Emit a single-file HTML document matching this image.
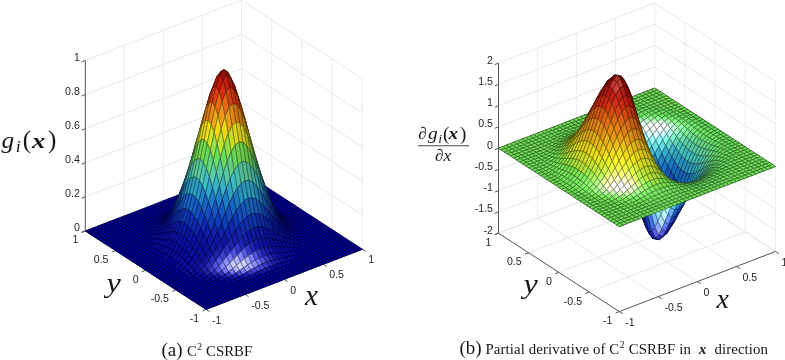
<!DOCTYPE html>
<html><head><meta charset="utf-8"><title>CSRBF</title>
<style>
html,body{margin:0;padding:0;background:#fff}
svg{display:block}
.s path{stroke-width:.55;stroke-linejoin:round}
.g{stroke:#e4e4e4;stroke-width:.9;fill:none}
.v{stroke:#d8d8d8;stroke-width:.9;stroke-dasharray:1 1;fill:none}
.a{stroke:#555;stroke-width:1;fill:none}
.t{font-family:"Liberation Sans",sans-serif;font-size:10.6px;fill:#262626}
.m{font-family:"Liberation Serif","DejaVu Serif",serif;fill:#151515}
</style></head><body>
<svg width="785" height="360" viewBox="0 0 785 360">
<defs><filter id="b" x="-2%" y="-2%" width="104%" height="104%"><feGaussianBlur stdDeviation="0.5"/></filter></defs>
<rect width="785" height="360" fill="#fff"/>
<g><path class="v" d="M362.3 249.2L362.3 78.8"/>
<path class="v" d="M124.3 215.9L124.3 45.4"/>
<path class="v" d="M332.1 229.6L332.1 59.1"/>
<path class="v" d="M163.4 200.8L163.4 30.3"/>
<path class="v" d="M301.9 210L301.9 39.5"/>
<path class="v" d="M202.5 185.8L202.5 15.3"/>
<path class="v" d="M271.7 190.4L271.7 19.9"/>
<path class="v" d="M241.5 170.8L241.5 0.2"/>
<path class="g" d="M85.3 230.9L241.5 170.8"/>
<path class="g" d="M241.5 170.8L362.3 249.2"/>
<path class="g" d="M85.3 196.8L241.5 136.7"/>
<path class="g" d="M241.5 136.7L362.3 215.2"/>
<path class="g" d="M85.3 162.8L241.5 102.5"/>
<path class="g" d="M241.5 102.5L362.3 181.1"/>
<path class="g" d="M85.3 128.6L241.5 68.5"/>
<path class="g" d="M241.5 68.5L362.3 146.9"/>
<path class="g" d="M85.3 94.5L241.5 34.3"/>
<path class="g" d="M241.5 34.3L362.3 112.8"/>
<path class="g" d="M85.3 60.4L241.5 0.2"/>
<path class="g" d="M241.5 0.2L362.3 78.8"/>
<path class="a" d="M85.3 230.9L85.3 60.4"/>
<path class="a" d="M206.1 309.4L362.3 249.2"/>
<path class="a" d="M206.1 309.4L85.3 230.9"/>
<path class="a" d="M206.1 309.4L209.5 311.6"/>
<path class="a" d="M206.1 309.4L202.4 310.9"/>
<path class="a" d="M245.2 294.4L248.5 296.6"/>
<path class="a" d="M175.9 289.8L172.2 291.3"/>
<path class="a" d="M284.2 279.4L287.6 281.5"/>
<path class="a" d="M145.7 270.2L142 271.6"/>
<path class="a" d="M323.2 264.3L326.6 266.5"/>
<path class="a" d="M115.5 250.6L111.8 252"/>
<path class="a" d="M362.3 249.2L365.7 251.4"/>
<path class="a" d="M85.3 230.9L81.6 232.4"/>
<path class="a" d="M85.3 230.9L81.6 232.4"/>
<path class="a" d="M85.3 196.8L81.6 198.3"/>
<path class="a" d="M85.3 162.8L81.6 164.2"/>
<path class="a" d="M85.3 128.6L81.6 130.1"/>
<path class="a" d="M85.3 94.5L81.6 96"/>
<path class="a" d="M85.3 60.4L81.6 61.9"/></g>
<g class="s" filter="url(#b)"><path d="M239.7 177.7L247.5 174.7L241.5 170.8L233.7 173.8z" fill="#02023c" stroke="#02023c"/>
<path d="M231.9 180.7L239.7 177.7L233.7 173.8L225.9 176.8z" fill="#02023c" stroke="#02023c"/>
<path d="M224.1 183.7L231.9 180.7L225.9 176.8L218.1 179.8z" fill="#02023c" stroke="#02023c"/>
<path d="M216.3 186.7L224.1 183.7L218.1 179.8L210.3 182.8z" fill="#02023c" stroke="#02023c"/>
<path d="M208.5 189.7L216.3 186.7L210.3 182.8L202.5 185.8z" fill="#02023c" stroke="#02023c"/>
<path d="M200.7 192.7L208.5 189.7L202.5 185.8L194.6 188.8z" fill="#02023c" stroke="#02023c"/>
<path d="M192.9 195.7L200.7 192.7L194.6 188.8L186.8 191.8z" fill="#02023c" stroke="#02023c"/>
<path d="M185.1 198.7L192.9 195.7L186.8 191.8L179 194.8z" fill="#02023c" stroke="#02023c"/>
<path d="M177.2 201.7L185.1 198.7L179 194.8L171.2 197.8z" fill="#02023c" stroke="#02023c"/>
<path d="M169.4 204.7L177.2 201.7L171.2 197.8L163.4 200.8z" fill="#02023c" stroke="#02023c"/>
<path d="M161.6 207.7L169.4 204.7L163.4 200.8L155.6 203.9z" fill="#02023c" stroke="#02023c"/>
<path d="M153.8 210.8L161.6 207.7L155.6 203.9L147.8 206.9z" fill="#02023c" stroke="#02023c"/>
<path d="M146 213.8L153.8 210.8L147.8 206.9L140 209.9z" fill="#02023c" stroke="#02023c"/>
<path d="M138.2 216.8L146 213.8L140 209.9L132.2 212.9z" fill="#02023c" stroke="#02023c"/>
<path d="M130.4 219.8L138.2 216.8L132.2 212.9L124.4 215.9z" fill="#02023c" stroke="#02023c"/>
<path d="M122.6 222.8L130.4 219.8L124.4 215.9L116.5 218.9z" fill="#02023c" stroke="#02023c"/>
<path d="M114.8 225.8L122.6 222.8L116.5 218.9L108.7 221.9z" fill="#02023c" stroke="#02023c"/>
<path d="M107 228.9L114.8 225.8L108.7 221.9L100.9 224.9z" fill="#02023c" stroke="#02023c"/>
<path d="M99.2 231.9L107 228.9L100.9 224.9L93.1 227.9z" fill="#02023c" stroke="#02023c"/>
<path d="M91.3 234.9L99.2 231.9L93.1 227.9L85.3 230.9z" fill="#02023c" stroke="#02023c"/>
<path d="M245.8 181.6L253.6 178.6L247.5 174.7L239.7 177.7z" fill="#02023c" stroke="#02023c"/>
<path d="M238 184.6L245.8 181.6L239.7 177.7L231.9 180.7z" fill="#02023c" stroke="#02023c"/>
<path d="M230.2 187.6L238 184.6L231.9 180.7L224.1 183.7z" fill="#02023c" stroke="#02023c"/>
<path d="M222.3 190.6L230.2 187.6L224.1 183.7L216.3 186.7z" fill="#02023c" stroke="#02023c"/>
<path d="M214.5 193.6L222.3 190.6L216.3 186.7L208.5 189.7z" fill="#02023c" stroke="#02023c"/>
<path d="M206.7 196.6L214.5 193.6L208.5 189.7L200.7 192.7z" fill="#02023c" stroke="#02023c"/>
<path d="M198.9 199.3L206.7 196.6L200.7 192.7L192.9 195.7z" fill="#02023c" stroke="#02023c"/>
<path d="M191.1 202L198.9 199.3L192.9 195.7L185.1 198.7z" fill="#02023c" stroke="#02023c"/>
<path d="M183.3 204.7L191.1 202L185.1 198.7L177.2 201.7z" fill="#02023c" stroke="#02023c"/>
<path d="M175.5 207.6L183.3 204.7L177.2 201.7L169.4 204.7z" fill="#02023c" stroke="#02023c"/>
<path d="M167.7 210.7L175.5 207.6L169.4 204.7L161.6 207.7z" fill="#02023c" stroke="#02023c"/>
<path d="M159.9 214L167.7 210.7L161.6 207.7L153.8 210.8z" fill="#02023c" stroke="#02023c"/>
<path d="M152.1 217.4L159.9 214L153.8 210.8L146 213.8z" fill="#02023c" stroke="#02023c"/>
<path d="M144.2 220.6L152.1 217.4L146 213.8L138.2 216.8z" fill="#02023c" stroke="#02023c"/>
<path d="M136.4 223.7L144.2 220.6L138.2 216.8L130.4 219.8z" fill="#02023c" stroke="#02023c"/>
<path d="M128.6 226.8L136.4 223.7L130.4 219.8L122.6 222.8z" fill="#02023c" stroke="#02023c"/>
<path d="M120.8 229.8L128.6 226.8L122.6 222.8L114.8 225.8z" fill="#02023c" stroke="#02023c"/>
<path d="M113 232.8L120.8 229.8L114.8 225.8L107 228.9z" fill="#02023c" stroke="#02023c"/>
<path d="M105.2 235.8L113 232.8L107 228.9L99.2 231.9z" fill="#02023c" stroke="#02023c"/>
<path d="M97.4 238.8L105.2 235.8L99.2 231.9L91.3 234.9z" fill="#02023c" stroke="#02023c"/>
<path d="M251.8 185.5L259.6 182.5L253.6 178.6L245.8 181.6z" fill="#02023c" stroke="#02023c"/>
<path d="M244 188.5L251.8 185.5L245.8 181.6L238 184.6z" fill="#02023c" stroke="#02023c"/>
<path d="M236.2 191.6L244 188.5L238 184.6L230.2 187.6z" fill="#02023c" stroke="#02023c"/>
<path d="M228.4 194.5L236.2 191.6L230.2 187.6L222.3 190.6z" fill="#02023c" stroke="#02023c"/>
<path d="M220.6 197.3L228.4 194.5L222.3 190.6L214.5 193.6z" fill="#02023c" stroke="#02023c"/>
<path d="M212.8 199.6L220.6 197.3L214.5 193.6L206.7 196.6z" fill="#02023c" stroke="#02023c"/>
<path d="M205 201.4L212.8 199.6L206.7 196.6L198.9 199.3z" fill="#02023c" stroke="#02023c"/>
<path d="M197.1 203L205 201.4L198.9 199.3L191.1 202z" fill="#02023c" stroke="#02023c"/>
<path d="M189.3 204.8L197.1 203L191.1 202L183.3 204.7z" fill="#02023b" stroke="#02023b"/>
<path d="M181.5 207.4L189.3 204.8L183.3 204.7L175.5 207.6z" fill="#02023a" stroke="#02023a"/>
<path d="M173.7 210.8L181.5 207.4L175.5 207.6L167.7 210.7z" fill="#02023b" stroke="#02023b"/>
<path d="M165.9 215L173.7 210.8L167.7 210.7L159.9 214z" fill="#02023c" stroke="#02023c"/>
<path d="M158.1 219.4L165.9 215L159.9 214L152.1 217.4z" fill="#02023c" stroke="#02023c"/>
<path d="M150.3 223.6L158.1 219.4L152.1 217.4L144.2 220.6z" fill="#02023c" stroke="#02023c"/>
<path d="M142.5 227.4L150.3 223.6L144.2 220.6L136.4 223.7z" fill="#02023c" stroke="#02023c"/>
<path d="M134.7 230.7L142.5 227.4L136.4 223.7L128.6 226.8z" fill="#02023c" stroke="#02023c"/>
<path d="M126.9 233.7L134.7 230.7L128.6 226.8L120.8 229.8z" fill="#02023c" stroke="#02023c"/>
<path d="M119 236.7L126.9 233.7L120.8 229.8L113 232.8z" fill="#02023c" stroke="#02023c"/>
<path d="M111.2 239.7L119 236.7L113 232.8L105.2 235.8z" fill="#02023c" stroke="#02023c"/>
<path d="M103.4 242.7L111.2 239.7L105.2 235.8L97.4 238.8z" fill="#02023c" stroke="#02023c"/>
<path d="M257.9 189.5L265.7 186.4L259.6 182.5L251.8 185.5z" fill="#02023c" stroke="#02023c"/>
<path d="M250 192.5L257.9 189.5L251.8 185.5L244 188.5z" fill="#02023c" stroke="#02023c"/>
<path d="M242.2 195.5L250 192.5L244 188.5L236.2 191.6z" fill="#02023c" stroke="#02023c"/>
<path d="M234.4 198.1L242.2 195.5L236.2 191.6L228.4 194.5z" fill="#02023c" stroke="#02023c"/>
<path d="M226.6 199.9L234.4 198.1L228.4 194.5L220.6 197.3z" fill="#02023c" stroke="#02023c"/>
<path d="M218.8 200.5L226.6 199.9L220.6 197.3L212.8 199.6z" fill="#02023b" stroke="#02023b"/>
<path d="M211 200.1L218.8 200.5L212.8 199.6L205 201.4z" fill="#020339" stroke="#020339"/>
<path d="M203.2 199.5L211 200.1L205 201.4L197.1 203z" fill="#03043d" stroke="#03043d"/>
<path d="M195.4 199.8L203.2 199.5L197.1 203L189.3 204.8z" fill="#03043d" stroke="#03043d"/>
<path d="M187.6 201.7L195.4 199.8L189.3 204.8L181.5 207.4z" fill="#03043e" stroke="#03043e"/>
<path d="M179.8 205.8L187.6 201.7L181.5 207.4L173.7 210.8z" fill="#03043e" stroke="#03043e"/>
<path d="M171.9 211.6L179.8 205.8L173.7 210.8L165.9 215z" fill="#030338" stroke="#030338"/>
<path d="M164.1 218.2L171.9 211.6L165.9 215L158.1 219.4z" fill="#03043b" stroke="#03043b"/>
<path d="M156.3 224.6L164.1 218.2L158.1 219.4L150.3 223.6z" fill="#03033d" stroke="#03033d"/>
<path d="M148.5 230L156.3 224.6L150.3 223.6L142.5 227.4z" fill="#02023c" stroke="#02023c"/>
<path d="M140.7 234.2L148.5 230L142.5 227.4L134.7 230.7z" fill="#02023c" stroke="#02023c"/>
<path d="M132.9 237.6L140.7 234.2L134.7 230.7L126.9 233.7z" fill="#02023c" stroke="#02023c"/>
<path d="M125.1 240.6L132.9 237.6L126.9 233.7L119 236.7z" fill="#02023c" stroke="#02023c"/>
<path d="M117.3 243.6L125.1 240.6L119 236.7L111.2 239.7z" fill="#02023c" stroke="#02023c"/>
<path d="M109.5 246.6L117.3 243.6L111.2 239.7L103.4 242.7z" fill="#02023c" stroke="#02023c"/>
<path d="M263.9 193.4L271.7 190.4L265.7 186.4L257.9 189.5z" fill="#02023c" stroke="#02023c"/>
<path d="M256.1 196.4L263.9 193.4L257.9 189.5L250 192.5z" fill="#02023c" stroke="#02023c"/>
<path d="M248.3 199.1L256.1 196.4L250 192.5L242.2 195.5z" fill="#02023c" stroke="#02023c"/>
<path d="M240.5 200.8L248.3 199.1L242.2 195.5L234.4 198.1z" fill="#02023c" stroke="#02023c"/>
<path d="M232.7 200.6L240.5 200.8L234.4 198.1L226.6 199.9z" fill="#02023a" stroke="#02023a"/>
<path d="M224.8 198.3L232.7 200.6L226.6 199.9L218.8 200.5z" fill="#03033d" stroke="#03033d"/>
<path d="M217 194.3L224.8 198.3L218.8 200.5L211 200.1z" fill="#03043e" stroke="#03043e"/>
<path d="M209.2 190.1L217 194.3L211 200.1L203.2 199.5z" fill="#04063f" stroke="#04063f"/>
<path d="M201.4 187.6L209.2 190.1L203.2 199.5L195.4 199.8z" fill="#040740" stroke="#040740"/>
<path d="M193.6 188.5L201.4 187.6L195.4 199.8L187.6 201.7z" fill="#050a42" stroke="#050a42"/>
<path d="M185.8 193.6L193.6 188.5L187.6 201.7L179.8 205.8z" fill="#050a42" stroke="#050a42"/>
<path d="M178 202.1L185.8 193.6L179.8 205.8L171.9 211.6z" fill="#040740" stroke="#040740"/>
<path d="M170.2 212.3L178 202.1L171.9 211.6L164.1 218.2z" fill="#04063f" stroke="#04063f"/>
<path d="M162.4 222.4L170.2 212.3L164.1 218.2L156.3 224.6z" fill="#03043a" stroke="#03043a"/>
<path d="M154.6 230.7L162.4 222.4L156.3 224.6L148.5 230z" fill="#03033d" stroke="#03033d"/>
<path d="M146.7 236.9L154.6 230.7L148.5 230L140.7 234.2z" fill="#02023c" stroke="#02023c"/>
<path d="M138.9 241.3L146.7 236.9L140.7 234.2L132.9 237.6z" fill="#02023c" stroke="#02023c"/>
<path d="M131.1 244.5L138.9 241.3L132.9 237.6L125.1 240.6z" fill="#02023c" stroke="#02023c"/>
<path d="M123.3 247.6L131.1 244.5L125.1 240.6L117.3 243.6z" fill="#02023c" stroke="#02023c"/>
<path d="M115.5 250.6L123.3 247.6L117.3 243.6L109.5 246.6z" fill="#02023c" stroke="#02023c"/>
<path d="M269.9 197.3L277.7 194.3L271.7 190.4L263.9 193.4z" fill="#02023c" stroke="#02023c"/>
<path d="M262.1 200.2L269.9 197.3L263.9 193.4L256.1 196.4z" fill="#02023c" stroke="#02023c"/>
<path d="M254.3 202.3L262.1 200.2L256.1 196.4L248.3 199.1z" fill="#02023c" stroke="#02023c"/>
<path d="M246.5 202.3L254.3 202.3L248.3 199.1L240.5 200.8z" fill="#02023b" stroke="#02023b"/>
<path d="M238.7 199.2L246.5 202.3L240.5 200.8L232.7 200.6z" fill="#03033d" stroke="#03033d"/>
<path d="M230.9 192.6L238.7 199.2L232.7 200.6L224.8 198.3z" fill="#03043e" stroke="#03043e"/>
<path d="M223.1 183.4L230.9 192.6L224.8 198.3L217 194.3z" fill="#040740" stroke="#040740"/>
<path d="M215.3 174L223.1 183.4L217 194.3L209.2 190.1z" fill="#061146" stroke="#061146"/>
<path d="M207.5 167.5L215.3 174L209.2 190.1L201.4 187.6z" fill="#08204e" stroke="#08204e"/>
<path d="M199.6 166.9L207.5 167.5L201.4 187.6L193.6 188.5z" fill="#0a2950" stroke="#0a2950"/>
<path d="M191.8 173.5L199.6 166.9L193.6 188.5L185.8 193.6z" fill="#0a2950" stroke="#0a2950"/>
<path d="M184 186L191.8 173.5L185.8 193.6L178 202.1z" fill="#08204e" stroke="#08204e"/>
<path d="M176.2 201.5L184 186L178 202.1L170.2 212.3z" fill="#061146" stroke="#061146"/>
<path d="M168.4 216.6L176.2 201.5L170.2 212.3L162.4 222.4z" fill="#040639" stroke="#040639"/>
<path d="M160.6 229.3L168.4 216.6L162.4 222.4L154.6 230.7z" fill="#03043b" stroke="#03043b"/>
<path d="M152.8 238.5L160.6 229.3L154.6 230.7L146.7 236.9z" fill="#03033d" stroke="#03033d"/>
<path d="M145 244.5L152.8 238.5L146.7 236.9L138.9 241.3z" fill="#02023c" stroke="#02023c"/>
<path d="M137.2 248.4L145 244.5L138.9 241.3L131.1 244.5z" fill="#02023c" stroke="#02023c"/>
<path d="M129.4 251.5L137.2 248.4L131.1 244.5L123.3 247.6z" fill="#02023c" stroke="#02023c"/>
<path d="M121.5 254.5L129.4 251.5L123.3 247.6L115.5 250.6z" fill="#02023c" stroke="#02023c"/>
<path d="M276 201.2L283.8 198.2L277.7 194.3L269.9 197.3z" fill="#02023c" stroke="#02023c"/>
<path d="M268.2 203.9L276 201.2L269.9 197.3L262.1 200.2z" fill="#02023c" stroke="#02023c"/>
<path d="M260.4 205L268.2 203.9L262.1 200.2L254.3 202.3z" fill="#02023c" stroke="#02023c"/>
<path d="M252.5 202.9L260.4 205L254.3 202.3L246.5 202.3z" fill="#020338" stroke="#020338"/>
<path d="M244.7 196.1L252.5 202.9L246.5 202.3L238.7 199.2z" fill="#03043e" stroke="#03043e"/>
<path d="M236.9 184.3L244.7 196.1L238.7 199.2L230.9 192.6z" fill="#040740" stroke="#040740"/>
<path d="M229.1 168.8L236.9 184.3L230.9 192.6L223.1 183.4z" fill="#07184a" stroke="#07184a"/>
<path d="M221.3 152.7L229.1 168.8L223.1 183.4L215.3 174z" fill="#0c3452" stroke="#0c3452"/>
<path d="M213.5 140.9L221.3 152.7L215.3 174L207.5 167.5z" fill="#1a5052" stroke="#1a5052"/>
<path d="M205.7 138.3L213.5 140.9L207.5 167.5L199.6 166.9z" fill="#255544" stroke="#255544"/>
<path d="M197.9 146.9L205.7 138.3L199.6 166.9L191.8 173.5z" fill="#255544" stroke="#255544"/>
<path d="M190.1 164.7L197.9 146.9L191.8 173.5L184 186z" fill="#1a5052" stroke="#1a5052"/>
<path d="M182.2 186.8L190.1 164.7L184 186L176.2 201.5z" fill="#0c3452" stroke="#0c3452"/>
<path d="M174.4 208.4L182.2 186.8L176.2 201.5L168.4 216.6z" fill="#061540" stroke="#061540"/>
<path d="M166.6 226.2L174.4 208.4L168.4 216.6L160.6 229.3z" fill="#04073b" stroke="#04073b"/>
<path d="M158.8 239L166.6 226.2L160.6 229.3L152.8 238.5z" fill="#03043e" stroke="#03043e"/>
<path d="M151 247.2L158.8 239L152.8 238.5L145 244.5z" fill="#03033d" stroke="#03033d"/>
<path d="M143.2 252.1L151 247.2L145 244.5L137.2 248.4z" fill="#02023c" stroke="#02023c"/>
<path d="M135.4 255.4L143.2 252.1L137.2 248.4L129.4 251.5z" fill="#02023c" stroke="#02023c"/>
<path d="M127.6 258.4L135.4 255.4L129.4 251.5L121.5 254.5z" fill="#02023c" stroke="#02023c"/>
<path d="M282 205.1L289.8 202.1L283.8 198.2L276 201.2z" fill="#02023c" stroke="#02023c"/>
<path d="M274.2 207.5L282 205.1L276 201.2L268.2 203.9z" fill="#02023c" stroke="#02023c"/>
<path d="M266.4 207.5L274.2 207.5L268.2 203.9L260.4 205z" fill="#02023b" stroke="#02023b"/>
<path d="M258.6 203.2L266.4 207.5L260.4 205L252.5 202.9z" fill="#03043d" stroke="#03043d"/>
<path d="M250.8 192.8L258.6 203.2L252.5 202.9L244.7 196.1z" fill="#04063f" stroke="#04063f"/>
<path d="M243 175.8L250.8 192.8L244.7 196.1L236.9 184.3z" fill="#061146" stroke="#061146"/>
<path d="M235.2 153.6L243 175.8L236.9 184.3L229.1 168.8z" fill="#0c3452" stroke="#0c3452"/>
<path d="M227.3 130.1L235.2 153.6L229.1 168.8L221.3 152.7z" fill="#255544" stroke="#255544"/>
<path d="M219.5 111.9L227.3 130.1L221.3 152.7L213.5 140.9z" fill="#3e5e1c" stroke="#3e5e1c"/>
<path d="M211.7 106.5L219.5 111.9L213.5 140.9L205.7 138.3z" fill="#64600a" stroke="#64600a"/>
<path d="M203.9 117.9L211.7 106.5L205.7 138.3L197.9 146.9z" fill="#64600a" stroke="#64600a"/>
<path d="M196.1 142.1L203.9 117.9L197.9 146.9L190.1 164.7z" fill="#3e5e1c" stroke="#3e5e1c"/>
<path d="M188.3 171.7L196.1 142.1L190.1 164.7L182.2 186.8z" fill="#1e4538" stroke="#1e4538"/>
<path d="M180.5 199.9L188.3 171.7L182.2 186.8L174.4 208.4z" fill="#0a2d47" stroke="#0a2d47"/>
<path d="M172.7 222.9L180.5 199.9L174.4 208.4L166.6 226.2z" fill="#050f41" stroke="#050f41"/>
<path d="M164.9 239.3L172.7 222.9L166.6 226.2L158.8 239z" fill="#04063e" stroke="#04063e"/>
<path d="M157.1 249.7L164.9 239.3L158.8 239L151 247.2z" fill="#03043d" stroke="#03043d"/>
<path d="M149.2 255.6L157.1 249.7L151 247.2L143.2 252.1z" fill="#02023c" stroke="#02023c"/>
<path d="M141.4 259.3L149.2 255.6L143.2 252.1L135.4 255.4z" fill="#02023c" stroke="#02023c"/>
<path d="M133.6 262.3L141.4 259.3L135.4 255.4L127.6 258.4z" fill="#02023c" stroke="#02023c"/>
<path d="M288.1 209L295.9 206.1L289.8 202.1L282 205.1z" fill="#02023c" stroke="#02023c"/>
<path d="M280.2 211.1L288.1 209L282 205.1L274.2 207.5z" fill="#02023c" stroke="#02023c"/>
<path d="M272.4 210.3L280.2 211.1L274.2 207.5L266.4 207.5z" fill="#02023a" stroke="#02023a"/>
<path d="M264.6 204.3L272.4 210.3L266.4 207.5L258.6 203.2z" fill="#03043d" stroke="#03043d"/>
<path d="M256.8 191.2L264.6 204.3L258.6 203.2L250.8 192.8z" fill="#040740" stroke="#040740"/>
<path d="M249 170.3L256.8 191.2L250.8 192.8L243 175.8z" fill="#08204e" stroke="#08204e"/>
<path d="M241.2 142.7L249 170.3L243 175.8L235.2 153.6z" fill="#1a5052" stroke="#1a5052"/>
<path d="M233.4 112.8L241.2 142.7L235.2 153.6L227.3 130.1z" fill="#3e5e1c" stroke="#3e5e1c"/>
<path d="M225.6 88.1L233.4 112.8L227.3 130.1L219.5 111.9z" fill="#624008" stroke="#624008"/>
<path d="M217.8 79.6L225.6 88.1L219.5 111.9L211.7 106.5z" fill="#5b1c07" stroke="#5b1c07"/>
<path d="M210 94.1L217.8 79.6L211.7 106.5L203.9 117.9z" fill="#5b1c07" stroke="#5b1c07"/>
<path d="M202.1 124.8L210 94.1L203.9 117.9L196.1 142.1z" fill="#503407" stroke="#503407"/>
<path d="M194.3 160.8L202.1 124.8L196.1 142.1L188.3 171.7z" fill="#355118" stroke="#355118"/>
<path d="M186.5 194.3L194.3 160.8L188.3 171.7L180.5 199.9z" fill="#184749" stroke="#184749"/>
<path d="M178.7 221.3L186.5 194.3L180.5 199.9L172.7 222.9z" fill="#081e49" stroke="#081e49"/>
<path d="M170.9 240.5L178.7 221.3L172.7 222.9L164.9 239.3z" fill="#04073f" stroke="#04073f"/>
<path d="M163.1 252.4L170.9 240.5L164.9 239.3L157.1 249.7z" fill="#03043d" stroke="#03043d"/>
<path d="M155.3 259.2L163.1 252.4L157.1 249.7L149.2 255.6z" fill="#02023c" stroke="#02023c"/>
<path d="M147.5 263.2L155.3 259.2L149.2 255.6L141.4 259.3z" fill="#02023c" stroke="#02023c"/>
<path d="M139.7 266.3L147.5 263.2L141.4 259.3L133.6 262.3z" fill="#02023c" stroke="#02023c"/>
<path d="M294.1 212.9L301.9 210L295.9 206.1L288.1 209z" fill="#02023c" stroke="#02023c"/>
<path d="M286.3 214.9L294.1 212.9L288.1 209L280.2 211.1z" fill="#02023c" stroke="#02023c"/>
<path d="M278.5 213.8L286.3 214.9L280.2 211.1L272.4 210.3z" fill="#020239" stroke="#020239"/>
<path d="M270.7 207.2L278.5 213.8L272.4 210.3L264.6 204.3z" fill="#03043e" stroke="#03043e"/>
<path d="M262.9 193.1L270.7 207.2L264.6 204.3L256.8 191.2z" fill="#050a42" stroke="#050a42"/>
<path d="M255 170.6L262.9 193.1L256.8 191.2L249 170.3z" fill="#0a2950" stroke="#0a2950"/>
<path d="M247.2 141L255 170.6L249 170.3L241.2 142.7z" fill="#255544" stroke="#255544"/>
<path d="M239.4 108.4L247.2 141L241.2 142.7L233.4 112.8z" fill="#64600a" stroke="#64600a"/>
<path d="M231.6 80.5L239.4 108.4L233.4 112.8L225.6 88.1z" fill="#5b1c07" stroke="#5b1c07"/>
<path d="M223.8 69.6L231.6 80.5L225.6 88.1L217.8 79.6z" fill="#3b0503" stroke="#3b0503"/>
<path d="M216 86.5L223.8 69.6L217.8 79.6L210 94.1z" fill="#340502" stroke="#340502"/>
<path d="M208.2 120.4L216 86.5L210 94.1L202.1 124.8z" fill="#521906" stroke="#521906"/>
<path d="M200.4 159.1L208.2 120.4L202.1 124.8L194.3 160.8z" fill="#5b5709" stroke="#5b5709"/>
<path d="M192.6 194.7L200.4 159.1L194.3 160.8L186.5 194.3z" fill="#224e3f" stroke="#224e3f"/>
<path d="M184.8 223.2L192.6 194.7L186.5 194.3L178.7 221.3z" fill="#09274d" stroke="#09274d"/>
<path d="M176.9 243.3L184.8 223.2L178.7 221.3L170.9 240.5z" fill="#040a42" stroke="#040a42"/>
<path d="M169.1 255.9L176.9 243.3L170.9 240.5L163.1 252.4z" fill="#03043e" stroke="#03043e"/>
<path d="M161.3 263L169.1 255.9L163.1 252.4L155.3 259.2z" fill="#02023c" stroke="#02023c"/>
<path d="M153.5 267.1L161.3 263L155.3 259.2L147.5 263.2z" fill="#02023c" stroke="#02023c"/>
<path d="M145.7 270.2L153.5 267.1L147.5 263.2L139.7 266.3z" fill="#02023c" stroke="#02023c"/>
<path d="M300.1 216.9L307.9 213.9L301.9 210L294.1 212.9z" fill="#02023c" stroke="#02023c"/>
<path d="M292.3 218.9L300.1 216.9L294.1 212.9L286.3 214.9z" fill="#02023c" stroke="#02023c"/>
<path d="M284.5 218.2L292.3 218.9L286.3 214.9L278.5 213.8z" fill="#020239" stroke="#020239"/>
<path d="M276.7 212.2L284.5 218.2L278.5 213.8L270.7 207.2z" fill="#030433" stroke="#030433"/>
<path d="M268.9 199.1L276.7 212.2L270.7 207.2L262.9 193.1z" fill="#050a42" stroke="#050a42"/>
<path d="M261.1 178.1L268.9 199.1L262.9 193.1L255 170.6z" fill="#0a2950" stroke="#0a2950"/>
<path d="M253.3 150.6L261.1 178.1L255 170.6L247.2 141z" fill="#255544" stroke="#255544"/>
<path d="M245.5 120.6L253.3 150.6L247.2 141L239.4 108.4z" fill="#64600a" stroke="#64600a"/>
<path d="M237.7 96L245.5 120.6L239.4 108.4L231.6 80.5z" fill="#5b1c07" stroke="#5b1c07"/>
<path d="M229.8 87.4L237.7 96L231.6 80.5L223.8 69.6z" fill="#2f0402" stroke="#2f0402"/>
<path d="M222 102L229.8 87.4L223.8 69.6L216 86.5z" fill="#3b0503" stroke="#3b0503"/>
<path d="M214.2 132.7L222 102L216 86.5L208.2 120.4z" fill="#581b07" stroke="#581b07"/>
<path d="M206.4 168.6L214.2 132.7L208.2 120.4L200.4 159.1z" fill="#5f5b0a" stroke="#5f5b0a"/>
<path d="M198.6 202.2L206.4 168.6L200.4 159.1L192.6 194.7z" fill="#235141" stroke="#235141"/>
<path d="M190.8 229.2L198.6 202.2L192.6 194.7L184.8 223.2z" fill="#0a284f" stroke="#0a284f"/>
<path d="M183 248.3L190.8 229.2L184.8 223.2L176.9 243.3z" fill="#050a42" stroke="#050a42"/>
<path d="M175.2 260.3L183 248.3L176.9 243.3L169.1 255.9z" fill="#03043e" stroke="#03043e"/>
<path d="M167.4 267.1L175.2 260.3L169.1 255.9L161.3 263z" fill="#02023c" stroke="#02023c"/>
<path d="M159.6 271.1L167.4 267.1L161.3 263L153.5 267.1z" fill="#02023c" stroke="#02023c"/>
<path d="M151.7 274.1L159.6 271.1L153.5 267.1L145.7 270.2z" fill="#02023c" stroke="#02023c"/>
<path d="M306.2 220.8L314 217.8L307.9 213.9L300.1 216.9z" fill="#02023c" stroke="#02023c"/>
<path d="M298.4 223.2L306.2 220.8L300.1 216.9L292.3 218.9z" fill="#02023c" stroke="#02023c"/>
<path d="M290.6 223.2L298.4 223.2L292.3 218.9L284.5 218.2z" fill="#02023a" stroke="#02023a"/>
<path d="M282.7 218.9L290.6 223.2L284.5 218.2L276.7 212.2z" fill="#020334" stroke="#020334"/>
<path d="M274.9 208.5L282.7 218.9L276.7 212.2L268.9 199.1z" fill="#040740" stroke="#040740"/>
<path d="M267.1 191.5L274.9 208.5L268.9 199.1L261.1 178.1z" fill="#08204e" stroke="#08204e"/>
<path d="M259.3 169.3L267.1 191.5L261.1 178.1L253.3 150.6z" fill="#1a5052" stroke="#1a5052"/>
<path d="M251.5 145.8L259.3 169.3L253.3 150.6L245.5 120.6z" fill="#2a3f13" stroke="#2a3f13"/>
<path d="M243.7 127.6L251.5 145.8L245.5 120.6L237.7 96z" fill="#472e06" stroke="#472e06"/>
<path d="M235.9 122.2L243.7 127.6L237.7 96L229.8 87.4z" fill="#4b1706" stroke="#4b1706"/>
<path d="M228.1 133.6L235.9 122.2L229.8 87.4L222 102z" fill="#551a06" stroke="#551a06"/>
<path d="M220.3 157.8L228.1 133.6L222 102L214.2 132.7z" fill="#5f3e08" stroke="#5f3e08"/>
<path d="M212.5 187.4L220.3 157.8L214.2 132.7L206.4 168.6z" fill="#3c5b1b" stroke="#3c5b1b"/>
<path d="M204.6 215.6L212.5 187.4L206.4 168.6L198.6 202.2z" fill="#1a4e4f" stroke="#1a4e4f"/>
<path d="M196.8 238.6L204.6 215.6L198.6 202.2L190.8 229.2z" fill="#08204e" stroke="#08204e"/>
<path d="M189 255L196.8 238.6L190.8 229.2L183 248.3z" fill="#040740" stroke="#040740"/>
<path d="M181.2 265.4L189 255L183 248.3L175.2 260.3z" fill="#03043d" stroke="#03043d"/>
<path d="M173.4 271.3L181.2 265.4L175.2 260.3L167.4 267.1z" fill="#02023c" stroke="#02023c"/>
<path d="M165.6 275L173.4 271.3L167.4 267.1L159.6 271.1z" fill="#02023c" stroke="#02023c"/>
<path d="M157.8 278.1L165.6 275L159.6 271.1L151.7 274.1z" fill="#02023c" stroke="#02023c"/>
<path d="M312.2 224.8L320 221.8L314 217.8L306.2 220.8z" fill="#02023c" stroke="#02023c"/>
<path d="M304.4 227.5L312.2 224.8L306.2 220.8L298.4 223.2z" fill="#02023c" stroke="#02023c"/>
<path d="M296.6 228.6L304.4 227.5L298.4 223.2L290.6 223.2z" fill="#02023c" stroke="#02023c"/>
<path d="M288.8 226.4L296.6 228.6L290.6 223.2L282.7 218.9z" fill="#030338" stroke="#030338"/>
<path d="M281 219.7L288.8 226.4L282.7 218.9L274.9 208.5z" fill="#030533" stroke="#030533"/>
<path d="M273.2 207.9L281 219.7L274.9 208.5L267.1 191.5z" fill="#040c34" stroke="#040c34"/>
<path d="M265.4 192.3L273.2 207.9L267.1 191.5L259.3 169.3z" fill="#08253b" stroke="#08253b"/>
<path d="M257.5 176.2L265.4 192.3L259.3 169.3L251.5 145.8z" fill="#1b3e32" stroke="#1b3e32"/>
<path d="M249.7 164.4L257.5 176.2L251.5 145.8L243.7 127.6z" fill="#304816" stroke="#304816"/>
<path d="M241.9 161.8L249.7 164.4L243.7 127.6L235.9 122.2z" fill="#535008" stroke="#535008"/>
<path d="M234.1 170.5L241.9 161.8L235.9 122.2L228.1 133.6z" fill="#5a5609" stroke="#5a5609"/>
<path d="M226.3 188.3L234.1 170.5L228.1 133.6L220.3 157.8z" fill="#3a591b" stroke="#3a591b"/>
<path d="M218.5 210.4L226.3 188.3L220.3 157.8L212.5 187.4z" fill="#235242" stroke="#235242"/>
<path d="M210.7 231.9L218.5 210.4L212.5 187.4L204.6 215.6z" fill="#0c3351" stroke="#0c3351"/>
<path d="M202.9 249.8L210.7 231.9L204.6 215.6L196.8 238.6z" fill="#061146" stroke="#061146"/>
<path d="M195.1 262.6L202.9 249.8L196.8 238.6L189 255z" fill="#04063f" stroke="#04063f"/>
<path d="M187.2 270.7L195.1 262.6L189 255L181.2 265.4z" fill="#03043d" stroke="#03043d"/>
<path d="M179.4 275.6L187.2 270.7L181.2 265.4L173.4 271.3z" fill="#02023c" stroke="#02023c"/>
<path d="M171.6 279L179.4 275.6L173.4 271.3L165.6 275z" fill="#02023c" stroke="#02023c"/>
<path d="M163.8 282L171.6 279L165.6 275L157.8 278.1z" fill="#02023c" stroke="#02023c"/>
<path d="M318.2 228.7L326.1 225.7L320 221.8L312.2 224.8z" fill="#02023c" stroke="#02023c"/>
<path d="M310.4 231.6L318.2 228.7L312.2 224.8L304.4 227.5z" fill="#02023c" stroke="#02023c"/>
<path d="M302.6 233.7L310.4 231.6L304.4 227.5L296.6 228.6z" fill="#02023c" stroke="#02023c"/>
<path d="M294.8 233.7L302.6 233.7L296.6 228.6L288.8 226.4z" fill="#03033b" stroke="#03033b"/>
<path d="M287 230.6L294.8 233.7L288.8 226.4L281 219.7z" fill="#030436" stroke="#030436"/>
<path d="M279.2 224L287 230.6L281 219.7L273.2 207.9z" fill="#030634" stroke="#030634"/>
<path d="M271.4 214.8L279.2 224L273.2 207.9L265.4 192.3z" fill="#05133a" stroke="#05133a"/>
<path d="M263.6 205.4L271.4 214.8L265.4 192.3L257.5 176.2z" fill="#092840" stroke="#092840"/>
<path d="M255.8 198.9L263.6 205.4L257.5 176.2L249.7 164.4z" fill="#154142" stroke="#154142"/>
<path d="M248 198.3L255.8 198.9L249.7 164.4L241.9 161.8z" fill="#1f483a" stroke="#1f483a"/>
<path d="M240.2 204.9L248 198.3L241.9 161.8L234.1 170.5z" fill="#214c3e" stroke="#214c3e"/>
<path d="M232.3 217.4L240.2 204.9L234.1 170.5L226.3 188.3z" fill="#194b4d" stroke="#194b4d"/>
<path d="M224.5 232.9L232.3 217.4L226.3 188.3L218.5 210.4z" fill="#0b324f" stroke="#0b324f"/>
<path d="M216.7 248L224.5 232.9L218.5 210.4L210.7 231.9z" fill="#07184a" stroke="#07184a"/>
<path d="M208.9 260.7L216.7 248L210.7 231.9L202.9 249.8z" fill="#040740" stroke="#040740"/>
<path d="M201.1 269.9L208.9 260.7L202.9 249.8L195.1 262.6z" fill="#03043e" stroke="#03043e"/>
<path d="M193.3 275.9L201.1 269.9L195.1 262.6L187.2 270.7z" fill="#03033d" stroke="#03033d"/>
<path d="M185.5 279.8L193.3 275.9L187.2 270.7L179.4 275.6z" fill="#02023c" stroke="#02023c"/>
<path d="M177.7 282.9L185.5 279.8L179.4 275.6L171.6 279z" fill="#02023c" stroke="#02023c"/>
<path d="M169.9 285.9L177.7 282.9L171.6 279L163.8 282z" fill="#02023c" stroke="#02023c"/>
<path d="M324.3 232.6L332.1 229.6L326.1 225.7L318.2 228.7z" fill="#02023c" stroke="#02023c"/>
<path d="M316.5 235.6L324.3 232.6L318.2 228.7L310.4 231.6z" fill="#02023c" stroke="#02023c"/>
<path d="M308.7 238.4L316.5 235.6L310.4 231.6L302.6 233.7z" fill="#02023c" stroke="#02023c"/>
<path d="M300.9 240L308.7 238.4L302.6 233.7L294.8 233.7z" fill="#02023c" stroke="#02023c"/>
<path d="M293.1 239.9L300.9 240L294.8 233.7L287 230.6z" fill="#03033a" stroke="#03033a"/>
<path d="M285.2 237.5L293.1 239.9L287 230.6L279.2 224z" fill="#030437" stroke="#030437"/>
<path d="M277.4 233.5L285.2 237.5L279.2 224L271.4 214.8z" fill="#030636" stroke="#030636"/>
<path d="M269.6 229.3L277.4 233.5L271.4 214.8L263.6 205.4z" fill="#050e3b" stroke="#050e3b"/>
<path d="M261.8 226.8L269.6 229.3L263.6 205.4L255.8 198.9z" fill="#071b43" stroke="#071b43"/>
<path d="M254 227.8L261.8 226.8L255.8 198.9L248 198.3z" fill="#092447" stroke="#092447"/>
<path d="M246.2 232.8L254 227.8L248 198.3L240.2 204.9z" fill="#09264a" stroke="#09264a"/>
<path d="M238.4 241.4L246.2 232.8L240.2 204.9L232.3 217.4z" fill="#081f4b" stroke="#081f4b"/>
<path d="M230.6 251.6L238.4 241.4L232.3 217.4L224.5 232.9z" fill="#051146" stroke="#051146"/>
<path d="M222.8 261.6L230.6 251.6L224.5 232.9L216.7 248z" fill="#040740" stroke="#040740"/>
<path d="M215 270L222.8 261.6L216.7 248L208.9 260.7z" fill="#03043e" stroke="#03043e"/>
<path d="M207.1 276.2L215 270L208.9 260.7L201.1 269.9z" fill="#03033d" stroke="#03033d"/>
<path d="M199.3 280.5L207.1 276.2L201.1 269.9L193.3 275.9z" fill="#02023c" stroke="#02023c"/>
<path d="M191.5 283.8L199.3 280.5L193.3 275.9L185.5 279.8z" fill="#02023c" stroke="#02023c"/>
<path d="M183.7 286.8L191.5 283.8L185.5 279.8L177.7 282.9z" fill="#02023c" stroke="#02023c"/>
<path d="M175.9 289.8L183.7 286.8L177.7 282.9L169.9 285.9z" fill="#02023c" stroke="#02023c"/>
<path d="M330.3 236.6L338.1 233.5L332.1 229.6L324.3 232.6z" fill="#02023c" stroke="#02023c"/>
<path d="M322.5 239.6L330.3 236.6L324.3 232.6L316.5 235.6z" fill="#02023c" stroke="#02023c"/>
<path d="M314.7 242.6L322.5 239.6L316.5 235.6L308.7 238.4z" fill="#02023c" stroke="#02023c"/>
<path d="M306.9 245.2L314.7 242.6L308.7 238.4L300.9 240z" fill="#02023c" stroke="#02023c"/>
<path d="M299.1 247L306.9 245.2L300.9 240L293.1 239.9z" fill="#02023c" stroke="#02023c"/>
<path d="M291.3 247.6L299.1 247L293.1 239.9L285.2 237.5z" fill="#03033b" stroke="#03033b"/>
<path d="M283.5 247.2L291.3 247.6L285.2 237.5L277.4 233.5z" fill="#03043a" stroke="#03043a"/>
<path d="M275.7 246.6L283.5 247.2L277.4 233.5L269.6 229.3z" fill="#03053a" stroke="#03053a"/>
<path d="M267.9 246.9L275.7 246.6L269.6 229.3L261.8 226.8z" fill="#04073b" stroke="#04073b"/>
<path d="M260 248.8L267.9 246.9L261.8 226.8L254 227.8z" fill="#040a3e" stroke="#040a3e"/>
<path d="M252.2 252.9L260 248.8L254 227.8L246.2 232.8z" fill="#040a40" stroke="#040a40"/>
<path d="M244.4 258.7L252.2 252.9L246.2 232.8L238.4 241.4z" fill="#040740" stroke="#040740"/>
<path d="M236.6 265.3L244.4 258.7L238.4 241.4L230.6 251.6z" fill="#04063f" stroke="#04063f"/>
<path d="M228.8 271.7L236.6 265.3L230.6 251.6L222.8 261.6z" fill="#03043e" stroke="#03043e"/>
<path d="M221 277.1L228.8 271.7L222.8 261.6L215 270z" fill="#03033d" stroke="#03033d"/>
<path d="M213.2 281.3L221 277.1L215 270L207.1 276.2z" fill="#02023c" stroke="#02023c"/>
<path d="M205.4 284.7L213.2 281.3L207.1 276.2L199.3 280.5z" fill="#02023c" stroke="#02023c"/>
<path d="M197.6 287.7L205.4 284.7L199.3 280.5L191.5 283.8z" fill="#02023c" stroke="#02023c"/>
<path d="M189.8 290.7L197.6 287.7L191.5 283.8L183.7 286.8z" fill="#02023c" stroke="#02023c"/>
<path d="M181.9 293.8L189.8 290.7L183.7 286.8L175.9 289.8z" fill="#02023c" stroke="#02023c"/>
<path d="M336.4 240.5L344.2 237.5L338.1 233.5L330.3 236.6z" fill="#02023c" stroke="#02023c"/>
<path d="M328.6 243.5L336.4 240.5L330.3 236.6L322.5 239.6z" fill="#02023c" stroke="#02023c"/>
<path d="M320.8 246.5L328.6 243.5L322.5 239.6L314.7 242.6z" fill="#02023c" stroke="#02023c"/>
<path d="M312.9 249.5L320.8 246.5L314.7 242.6L306.9 245.2z" fill="#02023c" stroke="#02023c"/>
<path d="M305.1 252.2L312.9 249.5L306.9 245.2L299.1 247z" fill="#02023c" stroke="#02023c"/>
<path d="M297.3 254.5L305.1 252.2L299.1 247L291.3 247.6z" fill="#02023c" stroke="#02023c"/>
<path d="M289.5 256.3L297.3 254.5L291.3 247.6L283.5 247.2z" fill="#03033d" stroke="#03033d"/>
<path d="M281.7 257.9L289.5 256.3L283.5 247.2L275.7 246.6z" fill="#03043d" stroke="#03043d"/>
<path d="M273.9 259.8L281.7 257.9L275.7 246.6L267.9 246.9z" fill="#03043d" stroke="#03043d"/>
<path d="M266.1 262.3L273.9 259.8L267.9 246.9L260 248.8z" fill="#03043e" stroke="#03043e"/>
<path d="M258.3 265.8L266.1 262.3L260 248.8L252.2 252.9z" fill="#03043e" stroke="#03043e"/>
<path d="M250.5 269.9L258.3 265.8L252.2 252.9L244.4 258.7z" fill="#03043d" stroke="#03043d"/>
<path d="M242.7 274.4L250.5 269.9L244.4 258.7L236.6 265.3z" fill="#03043d" stroke="#03043d"/>
<path d="M234.8 278.6L242.7 274.4L236.6 265.3L228.8 271.7z" fill="#03033d" stroke="#03033d"/>
<path d="M227 282.3L234.8 278.6L228.8 271.7L221 277.1z" fill="#02023c" stroke="#02023c"/>
<path d="M219.2 285.6L227 282.3L221 277.1L213.2 281.3z" fill="#02023c" stroke="#02023c"/>
<path d="M211.4 288.6L219.2 285.6L213.2 281.3L205.4 284.7z" fill="#02023c" stroke="#02023c"/>
<path d="M203.6 291.7L211.4 288.6L205.4 284.7L197.6 287.7z" fill="#02023c" stroke="#02023c"/>
<path d="M195.8 294.7L203.6 291.7L197.6 287.7L189.8 290.7z" fill="#02023c" stroke="#02023c"/>
<path d="M188 297.7L195.8 294.7L189.8 290.7L181.9 293.8z" fill="#02023c" stroke="#02023c"/>
<path d="M342.4 244.4L350.2 241.4L344.2 237.5L336.4 240.5z" fill="#02023c" stroke="#02023c"/>
<path d="M334.6 247.4L342.4 244.4L336.4 240.5L328.6 243.5z" fill="#02023c" stroke="#02023c"/>
<path d="M326.8 250.4L334.6 247.4L328.6 243.5L320.8 246.5z" fill="#02023c" stroke="#02023c"/>
<path d="M319 253.4L326.8 250.4L320.8 246.5L312.9 249.5z" fill="#02023c" stroke="#02023c"/>
<path d="M311.2 256.4L319 253.4L312.9 249.5L305.1 252.2z" fill="#02023c" stroke="#02023c"/>
<path d="M303.4 259.4L311.2 256.4L305.1 252.2L297.3 254.5z" fill="#02023c" stroke="#02023c"/>
<path d="M295.6 262.1L303.4 259.4L297.3 254.5L289.5 256.3z" fill="#02023c" stroke="#02023c"/>
<path d="M287.7 264.8L295.6 262.1L289.5 256.3L281.7 257.9z" fill="#02023c" stroke="#02023c"/>
<path d="M279.9 267.5L287.7 264.8L281.7 257.9L273.9 259.8z" fill="#02023c" stroke="#02023c"/>
<path d="M272.1 270.4L279.9 267.5L273.9 259.8L266.1 262.3z" fill="#02023c" stroke="#02023c"/>
<path d="M264.3 273.5L272.1 270.4L266.1 262.3L258.3 265.8z" fill="#02023c" stroke="#02023c"/>
<path d="M256.5 276.8L264.3 273.5L258.3 265.8L250.5 269.9z" fill="#02023c" stroke="#02023c"/>
<path d="M248.7 280.2L256.5 276.8L250.5 269.9L242.7 274.4z" fill="#02023c" stroke="#02023c"/>
<path d="M240.9 283.4L248.7 280.2L242.7 274.4L234.8 278.6z" fill="#02023c" stroke="#02023c"/>
<path d="M233.1 286.5L240.9 283.4L234.8 278.6L227 282.3z" fill="#02023c" stroke="#02023c"/>
<path d="M225.3 289.6L233.1 286.5L227 282.3L219.2 285.6z" fill="#02023c" stroke="#02023c"/>
<path d="M217.5 292.6L225.3 289.6L219.2 285.6L211.4 288.6z" fill="#02023c" stroke="#02023c"/>
<path d="M209.6 295.6L217.5 292.6L211.4 288.6L203.6 291.7z" fill="#02023c" stroke="#02023c"/>
<path d="M201.8 298.6L209.6 295.6L203.6 291.7L195.8 294.7z" fill="#02023c" stroke="#02023c"/>
<path d="M194 301.6L201.8 298.6L195.8 294.7L188 297.7z" fill="#02023c" stroke="#02023c"/>
<path d="M348.5 248.3L356.3 245.3L350.2 241.4L342.4 244.4z" fill="#02023c" stroke="#02023c"/>
<path d="M340.6 251.3L348.5 248.3L342.4 244.4L334.6 247.4z" fill="#02023c" stroke="#02023c"/>
<path d="M332.8 254.4L340.6 251.3L334.6 247.4L326.8 250.4z" fill="#02023c" stroke="#02023c"/>
<path d="M325 257.4L332.8 254.4L326.8 250.4L319 253.4z" fill="#02023c" stroke="#02023c"/>
<path d="M317.2 260.4L325 257.4L319 253.4L311.2 256.4z" fill="#02023c" stroke="#02023c"/>
<path d="M309.4 263.4L317.2 260.4L311.2 256.4L303.4 259.4z" fill="#02023c" stroke="#02023c"/>
<path d="M301.6 266.4L309.4 263.4L303.4 259.4L295.6 262.1z" fill="#02023c" stroke="#02023c"/>
<path d="M293.8 269.4L301.6 266.4L295.6 262.1L287.7 264.8z" fill="#02023c" stroke="#02023c"/>
<path d="M286 272.4L293.8 269.4L287.7 264.8L279.9 267.5z" fill="#02023c" stroke="#02023c"/>
<path d="M278.2 275.3L286 272.4L279.9 267.5L272.1 270.4z" fill="#02023c" stroke="#02023c"/>
<path d="M270.4 278.4L278.2 275.3L272.1 270.4L264.3 273.5z" fill="#02023c" stroke="#02023c"/>
<path d="M262.5 281.4L270.4 278.4L264.3 273.5L256.5 276.8z" fill="#02023c" stroke="#02023c"/>
<path d="M254.7 284.4L262.5 281.4L256.5 276.8L248.7 280.2z" fill="#02023c" stroke="#02023c"/>
<path d="M246.9 287.5L254.7 284.4L248.7 280.2L240.9 283.4z" fill="#02023c" stroke="#02023c"/>
<path d="M239.1 290.5L246.9 287.5L240.9 283.4L233.1 286.5z" fill="#02023c" stroke="#02023c"/>
<path d="M231.3 293.5L239.1 290.5L233.1 286.5L225.3 289.6z" fill="#02023c" stroke="#02023c"/>
<path d="M223.5 296.5L231.3 293.5L225.3 289.6L217.5 292.6z" fill="#02023c" stroke="#02023c"/>
<path d="M215.7 299.5L223.5 296.5L217.5 292.6L209.6 295.6z" fill="#02023c" stroke="#02023c"/>
<path d="M207.9 302.5L215.7 299.5L209.6 295.6L201.8 298.6z" fill="#02023c" stroke="#02023c"/>
<path d="M200.1 305.5L207.9 302.5L201.8 298.6L194 301.6z" fill="#02023c" stroke="#02023c"/>
<path d="M354.5 252.3L362.3 249.2L356.3 245.3L348.5 248.3z" fill="#02023c" stroke="#02023c"/>
<path d="M346.7 255.3L354.5 252.3L348.5 248.3L340.6 251.3z" fill="#02023c" stroke="#02023c"/>
<path d="M338.9 258.3L346.7 255.3L340.6 251.3L332.8 254.4z" fill="#02023c" stroke="#02023c"/>
<path d="M331.1 261.3L338.9 258.3L332.8 254.4L325 257.4z" fill="#02023c" stroke="#02023c"/>
<path d="M323.2 264.3L331.1 261.3L325 257.4L317.2 260.4z" fill="#02023c" stroke="#02023c"/>
<path d="M315.4 267.3L323.2 264.3L317.2 260.4L309.4 263.4z" fill="#02023c" stroke="#02023c"/>
<path d="M307.6 270.3L315.4 267.3L309.4 263.4L301.6 266.4z" fill="#02023c" stroke="#02023c"/>
<path d="M299.8 273.3L307.6 270.3L301.6 266.4L293.8 269.4z" fill="#02023c" stroke="#02023c"/>
<path d="M292 276.3L299.8 273.3L293.8 269.4L286 272.4z" fill="#02023c" stroke="#02023c"/>
<path d="M284.2 279.4L292 276.3L286 272.4L278.2 275.3z" fill="#02023c" stroke="#02023c"/>
<path d="M276.4 282.4L284.2 279.4L278.2 275.3L270.4 278.4z" fill="#02023c" stroke="#02023c"/>
<path d="M268.6 285.4L276.4 282.4L270.4 278.4L262.5 281.4z" fill="#02023c" stroke="#02023c"/>
<path d="M260.8 288.4L268.6 285.4L262.5 281.4L254.7 284.4z" fill="#02023c" stroke="#02023c"/>
<path d="M253 291.4L260.8 288.4L254.7 284.4L246.9 287.5z" fill="#02023c" stroke="#02023c"/>
<path d="M245.2 294.4L253 291.4L246.9 287.5L239.1 290.5z" fill="#02023c" stroke="#02023c"/>
<path d="M237.3 297.4L245.2 294.4L239.1 290.5L231.3 293.5z" fill="#02023c" stroke="#02023c"/>
<path d="M229.5 300.4L237.3 297.4L231.3 293.5L223.5 296.5z" fill="#02023c" stroke="#02023c"/>
<path d="M221.7 303.4L229.5 300.4L223.5 296.5L215.7 299.5z" fill="#02023c" stroke="#02023c"/>
<path d="M213.9 306.4L221.7 303.4L215.7 299.5L207.9 302.5z" fill="#02023c" stroke="#02023c"/>
<path d="M206.1 309.4L213.9 306.4L207.9 302.5L200.1 305.5z" fill="#02023c" stroke="#02023c"/>
<path d="M240.6 174.2L244.5 172.7L241.5 170.8L237.6 172.3z" fill="#060696" stroke="#02023c"/>
<path d="M236.7 175.7L240.6 174.2L237.6 172.3L233.7 173.8z" fill="#060696" stroke="#02023c"/>
<path d="M232.8 177.2L236.7 175.7L233.7 173.8L229.8 175.3z" fill="#060696" stroke="#02023c"/>
<path d="M228.9 178.7L232.8 177.2L229.8 175.3L225.9 176.8z" fill="#060696" stroke="#02023c"/>
<path d="M225 180.2L228.9 178.7L225.9 176.8L222 178.3z" fill="#060696" stroke="#02023c"/>
<path d="M221.1 181.7L225 180.2L222 178.3L218.1 179.8z" fill="#060696" stroke="#02023c"/>
<path d="M217.2 183.2L221.1 181.7L218.1 179.8L214.2 181.3z" fill="#060696" stroke="#02023c"/>
<path d="M213.3 184.8L217.2 183.2L214.2 181.3L210.3 182.8z" fill="#060696" stroke="#02023c"/>
<path d="M209.4 186.3L213.3 184.8L210.3 182.8L206.4 184.3z" fill="#060696" stroke="#02023c"/>
<path d="M205.5 187.8L209.4 186.3L206.4 184.3L202.5 185.8z" fill="#060696" stroke="#02023c"/>
<path d="M201.6 189.3L205.5 187.8L202.5 185.8L198.5 187.3z" fill="#060696" stroke="#02023c"/>
<path d="M197.7 190.8L201.6 189.3L198.5 187.3L194.6 188.8z" fill="#060696" stroke="#02023c"/>
<path d="M193.8 192.3L197.7 190.8L194.6 188.8L190.7 190.3z" fill="#060696" stroke="#02023c"/>
<path d="M189.9 193.8L193.8 192.3L190.7 190.3L186.8 191.8z" fill="#060696" stroke="#02023c"/>
<path d="M185.9 195.3L189.9 193.8L186.8 191.8L182.9 193.3z" fill="#060696" stroke="#02023c"/>
<path d="M182 196.8L185.9 195.3L182.9 193.3L179 194.8z" fill="#060696" stroke="#02023c"/>
<path d="M178.1 198.3L182 196.8L179 194.8L175.1 196.3z" fill="#060696" stroke="#02023c"/>
<path d="M174.2 199.8L178.1 198.3L175.1 196.3L171.2 197.8z" fill="#060696" stroke="#02023c"/>
<path d="M170.3 201.3L174.2 199.8L171.2 197.8L167.3 199.3z" fill="#060696" stroke="#02023c"/>
<path d="M166.4 202.8L170.3 201.3L167.3 199.3L163.4 200.8z" fill="#060696" stroke="#02023c"/>
<path d="M162.5 204.3L166.4 202.8L163.4 200.8L159.5 202.4z" fill="#060696" stroke="#02023c"/>
<path d="M158.6 205.8L162.5 204.3L159.5 202.4L155.6 203.9z" fill="#060696" stroke="#02023c"/>
<path d="M154.7 207.3L158.6 205.8L155.6 203.9L151.7 205.4z" fill="#060696" stroke="#02023c"/>
<path d="M150.8 208.8L154.7 207.3L151.7 205.4L147.8 206.9z" fill="#060696" stroke="#02023c"/>
<path d="M146.9 210.3L150.8 208.8L147.8 206.9L143.9 208.4z" fill="#060696" stroke="#02023c"/>
<path d="M143 211.8L146.9 210.3L143.9 208.4L140 209.9z" fill="#060696" stroke="#02023c"/>
<path d="M139.1 213.3L143 211.8L140 209.9L136.1 211.4z" fill="#060696" stroke="#02023c"/>
<path d="M135.2 214.9L139.1 213.3L136.1 211.4L132.2 212.9z" fill="#060696" stroke="#02023c"/>
<path d="M131.3 216.4L135.2 214.9L132.2 212.9L128.3 214.4z" fill="#060696" stroke="#02023c"/>
<path d="M127.4 217.9L131.3 216.4L128.3 214.4L124.4 215.9z" fill="#060696" stroke="#02023c"/>
<path d="M123.5 219.4L127.4 217.9L124.4 215.9L120.4 217.4z" fill="#060696" stroke="#02023c"/>
<path d="M119.6 220.9L123.5 219.4L120.4 217.4L116.5 218.9z" fill="#060696" stroke="#02023c"/>
<path d="M115.7 222.4L119.6 220.9L116.5 218.9L112.6 220.4z" fill="#060696" stroke="#02023c"/>
<path d="M111.8 223.9L115.7 222.4L112.6 220.4L108.7 221.9z" fill="#060696" stroke="#02023c"/>
<path d="M107.8 225.4L111.8 223.9L108.7 221.9L104.8 223.4z" fill="#060696" stroke="#02023c"/>
<path d="M103.9 226.9L107.8 225.4L104.8 223.4L100.9 224.9z" fill="#060696" stroke="#02023c"/>
<path d="M100 228.4L103.9 226.9L100.9 224.9L97 226.4z" fill="#060696" stroke="#02023c"/>
<path d="M96.1 229.9L100 228.4L97 226.4L93.1 227.9z" fill="#060696" stroke="#02023c"/>
<path d="M92.2 231.4L96.1 229.9L93.1 227.9L89.2 229.4z" fill="#060696" stroke="#02023c"/>
<path d="M88.3 232.9L92.2 231.4L89.2 229.4L85.3 230.9z" fill="#060696" stroke="#02023c"/>
<path d="M243.6 176.2L247.5 174.7L244.5 172.7L240.6 174.2z" fill="#060696" stroke="#02023c"/>
<path d="M239.7 177.7L243.6 176.2L240.6 174.2L236.7 175.7z" fill="#060696" stroke="#02023c"/>
<path d="M235.8 179.2L239.7 177.7L236.7 175.7L232.8 177.2z" fill="#060696" stroke="#02023c"/>
<path d="M231.9 180.7L235.8 179.2L232.8 177.2L228.9 178.7z" fill="#060696" stroke="#02023c"/>
<path d="M228 182.2L231.9 180.7L228.9 178.7L225 180.2z" fill="#060696" stroke="#02023c"/>
<path d="M224.1 183.7L228 182.2L225 180.2L221.1 181.7z" fill="#060696" stroke="#02023c"/>
<path d="M220.2 185.2L224.1 183.7L221.1 181.7L217.2 183.2z" fill="#060696" stroke="#02023c"/>
<path d="M216.3 186.7L220.2 185.2L217.2 183.2L213.3 184.8z" fill="#060696" stroke="#02023c"/>
<path d="M212.4 188.2L216.3 186.7L213.3 184.8L209.4 186.3z" fill="#060696" stroke="#02023c"/>
<path d="M208.5 189.7L212.4 188.2L209.4 186.3L205.5 187.8z" fill="#060696" stroke="#02023c"/>
<path d="M204.6 191.2L208.5 189.7L205.5 187.8L201.6 189.3z" fill="#060696" stroke="#02023c"/>
<path d="M200.7 192.7L204.6 191.2L201.6 189.3L197.7 190.8z" fill="#060696" stroke="#02023c"/>
<path d="M196.8 194.2L200.7 192.7L197.7 190.8L193.8 192.3z" fill="#060696" stroke="#02023c"/>
<path d="M192.9 195.7L196.8 194.2L193.8 192.3L189.9 193.8z" fill="#060696" stroke="#02023c"/>
<path d="M189 197.2L192.9 195.7L189.9 193.8L185.9 195.3z" fill="#060696" stroke="#02023c"/>
<path d="M185.1 198.7L189 197.2L185.9 195.3L182 196.8z" fill="#060696" stroke="#02023c"/>
<path d="M181.2 200.2L185.1 198.7L182 196.8L178.1 198.3z" fill="#060696" stroke="#02023c"/>
<path d="M177.2 201.7L181.2 200.2L178.1 198.3L174.2 199.8z" fill="#060696" stroke="#02023c"/>
<path d="M173.3 203.2L177.2 201.7L174.2 199.8L170.3 201.3z" fill="#060696" stroke="#02023c"/>
<path d="M169.4 204.7L173.3 203.2L170.3 201.3L166.4 202.8z" fill="#060696" stroke="#02023c"/>
<path d="M165.5 206.2L169.4 204.7L166.4 202.8L162.5 204.3z" fill="#060696" stroke="#02023c"/>
<path d="M161.6 207.7L165.5 206.2L162.5 204.3L158.6 205.8z" fill="#060696" stroke="#02023c"/>
<path d="M157.7 209.2L161.6 207.7L158.6 205.8L154.7 207.3z" fill="#060696" stroke="#02023c"/>
<path d="M153.8 210.8L157.7 209.2L154.7 207.3L150.8 208.8z" fill="#060696" stroke="#02023c"/>
<path d="M149.9 212.3L153.8 210.8L150.8 208.8L146.9 210.3z" fill="#060696" stroke="#02023c"/>
<path d="M146 213.8L149.9 212.3L146.9 210.3L143 211.8z" fill="#060696" stroke="#02023c"/>
<path d="M142.1 215.3L146 213.8L143 211.8L139.1 213.3z" fill="#060696" stroke="#02023c"/>
<path d="M138.2 216.8L142.1 215.3L139.1 213.3L135.2 214.9z" fill="#060696" stroke="#02023c"/>
<path d="M134.3 218.3L138.2 216.8L135.2 214.9L131.3 216.4z" fill="#060696" stroke="#02023c"/>
<path d="M130.4 219.8L134.3 218.3L131.3 216.4L127.4 217.9z" fill="#060696" stroke="#02023c"/>
<path d="M126.5 221.3L130.4 219.8L127.4 217.9L123.5 219.4z" fill="#060696" stroke="#02023c"/>
<path d="M122.6 222.8L126.5 221.3L123.5 219.4L119.6 220.9z" fill="#060696" stroke="#02023c"/>
<path d="M118.7 224.3L122.6 222.8L119.6 220.9L115.7 222.4z" fill="#060696" stroke="#02023c"/>
<path d="M114.8 225.8L118.7 224.3L115.7 222.4L111.8 223.9z" fill="#060696" stroke="#02023c"/>
<path d="M110.9 227.3L114.8 225.8L111.8 223.9L107.8 225.4z" fill="#060696" stroke="#02023c"/>
<path d="M107 228.9L110.9 227.3L107.8 225.4L103.9 226.9z" fill="#060696" stroke="#02023c"/>
<path d="M103.1 230.4L107 228.9L103.9 226.9L100 228.4z" fill="#060696" stroke="#02023c"/>
<path d="M99.2 231.9L103.1 230.4L100 228.4L96.1 229.9z" fill="#060696" stroke="#02023c"/>
<path d="M95.2 233.4L99.2 231.9L96.1 229.9L92.2 231.4z" fill="#060696" stroke="#02023c"/>
<path d="M91.3 234.9L95.2 233.4L92.2 231.4L88.3 232.9z" fill="#060696" stroke="#02023c"/>
<path d="M246.7 178.1L250.6 176.6L247.5 174.7L243.6 176.2z" fill="#060696" stroke="#02023c"/>
<path d="M242.8 179.6L246.7 178.1L243.6 176.2L239.7 177.7z" fill="#060696" stroke="#02023c"/>
<path d="M238.8 181.2L242.8 179.6L239.7 177.7L235.8 179.2z" fill="#060696" stroke="#02023c"/>
<path d="M234.9 182.7L238.8 181.2L235.8 179.2L231.9 180.7z" fill="#060696" stroke="#02023c"/>
<path d="M231 184.2L234.9 182.7L231.9 180.7L228 182.2z" fill="#060696" stroke="#02023c"/>
<path d="M227.1 185.7L231 184.2L228 182.2L224.1 183.7z" fill="#060696" stroke="#02023c"/>
<path d="M223.2 187.2L227.1 185.7L224.1 183.7L220.2 185.2z" fill="#060696" stroke="#02023c"/>
<path d="M219.3 188.7L223.2 187.2L220.2 185.2L216.3 186.7z" fill="#060696" stroke="#02023c"/>
<path d="M215.4 190.2L219.3 188.7L216.3 186.7L212.4 188.2z" fill="#060696" stroke="#02023c"/>
<path d="M211.5 191.7L215.4 190.2L212.4 188.2L208.5 189.7z" fill="#060696" stroke="#02023c"/>
<path d="M207.6 193.2L211.5 191.7L208.5 189.7L204.6 191.2z" fill="#060696" stroke="#02023c"/>
<path d="M203.7 194.7L207.6 193.2L204.6 191.2L200.7 192.7z" fill="#060696" stroke="#02023c"/>
<path d="M199.8 196.2L203.7 194.7L200.7 192.7L196.8 194.2z" fill="#060696" stroke="#02023c"/>
<path d="M195.9 197.6L199.8 196.2L196.8 194.2L192.9 195.7z" fill="#060696" stroke="#02023c"/>
<path d="M192 199.1L195.9 197.6L192.9 195.7L189 197.2z" fill="#060696" stroke="#02023c"/>
<path d="M188.1 200.5L192 199.1L189 197.2L185.1 198.7z" fill="#060696" stroke="#02023c"/>
<path d="M184.2 202L188.1 200.5L185.1 198.7L181.2 200.2z" fill="#060696" stroke="#02023c"/>
<path d="M180.3 203.4L184.2 202L181.2 200.2L177.2 201.7z" fill="#060696" stroke="#02023c"/>
<path d="M176.4 204.9L180.3 203.4L177.2 201.7L173.3 203.2z" fill="#060696" stroke="#02023c"/>
<path d="M172.5 206.4L176.4 204.9L173.3 203.2L169.4 204.7z" fill="#060696" stroke="#02023c"/>
<path d="M168.6 207.9L172.5 206.4L169.4 204.7L165.5 206.2z" fill="#060696" stroke="#02023c"/>
<path d="M164.7 209.4L168.6 207.9L165.5 206.2L161.6 207.7z" fill="#060696" stroke="#02023c"/>
<path d="M160.7 211L164.7 209.4L161.6 207.7L157.7 209.2z" fill="#060696" stroke="#02023c"/>
<path d="M156.8 212.6L160.7 211L157.7 209.2L153.8 210.8z" fill="#060696" stroke="#02023c"/>
<path d="M152.9 214.1L156.8 212.6L153.8 210.8L149.9 212.3z" fill="#060696" stroke="#02023c"/>
<path d="M149 215.7L152.9 214.1L149.9 212.3L146 213.8z" fill="#060696" stroke="#02023c"/>
<path d="M145.1 217.2L149 215.7L146 213.8L142.1 215.3z" fill="#060696" stroke="#02023c"/>
<path d="M141.2 218.8L145.1 217.2L142.1 215.3L138.2 216.8z" fill="#060696" stroke="#02023c"/>
<path d="M137.3 220.3L141.2 218.8L138.2 216.8L134.3 218.3z" fill="#060696" stroke="#02023c"/>
<path d="M133.4 221.8L137.3 220.3L134.3 218.3L130.4 219.8z" fill="#060696" stroke="#02023c"/>
<path d="M129.5 223.3L133.4 221.8L130.4 219.8L126.5 221.3z" fill="#060696" stroke="#02023c"/>
<path d="M125.6 224.8L129.5 223.3L126.5 221.3L122.6 222.8z" fill="#060696" stroke="#02023c"/>
<path d="M121.7 226.3L125.6 224.8L122.6 222.8L118.7 224.3z" fill="#060696" stroke="#02023c"/>
<path d="M117.8 227.8L121.7 226.3L118.7 224.3L114.8 225.8z" fill="#060696" stroke="#02023c"/>
<path d="M113.9 229.3L117.8 227.8L114.8 225.8L110.9 227.3z" fill="#060696" stroke="#02023c"/>
<path d="M110 230.8L113.9 229.3L110.9 227.3L107 228.9z" fill="#060696" stroke="#02023c"/>
<path d="M106.1 232.3L110 230.8L107 228.9L103.1 230.4z" fill="#060696" stroke="#02023c"/>
<path d="M102.2 233.8L106.1 232.3L103.1 230.4L99.2 231.9z" fill="#060696" stroke="#02023c"/>
<path d="M98.3 235.3L102.2 233.8L99.2 231.9L95.2 233.4z" fill="#060696" stroke="#02023c"/>
<path d="M94.4 236.8L98.3 235.3L95.2 233.4L91.3 234.9z" fill="#060696" stroke="#02023c"/>
<path d="M249.7 180.1L253.6 178.6L250.6 176.6L246.7 178.1z" fill="#060696" stroke="#02023c"/>
<path d="M245.8 181.6L249.7 180.1L246.7 178.1L242.8 179.6z" fill="#060696" stroke="#02023c"/>
<path d="M241.9 183.1L245.8 181.6L242.8 179.6L238.8 181.2z" fill="#060696" stroke="#02023c"/>
<path d="M238 184.6L241.9 183.1L238.8 181.2L234.9 182.7z" fill="#060696" stroke="#02023c"/>
<path d="M234.1 186.1L238 184.6L234.9 182.7L231 184.2z" fill="#060696" stroke="#02023c"/>
<path d="M230.2 187.6L234.1 186.1L231 184.2L227.1 185.7z" fill="#060696" stroke="#02023c"/>
<path d="M226.2 189.1L230.2 187.6L227.1 185.7L223.2 187.2z" fill="#060696" stroke="#02023c"/>
<path d="M222.3 190.6L226.2 189.1L223.2 187.2L219.3 188.7z" fill="#060696" stroke="#02023c"/>
<path d="M218.4 192.1L222.3 190.6L219.3 188.7L215.4 190.2z" fill="#060696" stroke="#02023c"/>
<path d="M214.5 193.6L218.4 192.1L215.4 190.2L211.5 191.7z" fill="#060696" stroke="#02023c"/>
<path d="M210.6 195.1L214.5 193.6L211.5 191.7L207.6 193.2z" fill="#060696" stroke="#02023c"/>
<path d="M206.7 196.6L210.6 195.1L207.6 193.2L203.7 194.7z" fill="#060696" stroke="#02023c"/>
<path d="M202.8 198L206.7 196.6L203.7 194.7L199.8 196.2z" fill="#060696" stroke="#02023c"/>
<path d="M198.9 199.3L202.8 198L199.8 196.2L195.9 197.6z" fill="#060696" stroke="#02023c"/>
<path d="M195 200.7L198.9 199.3L195.9 197.6L192 199.1z" fill="#060696" stroke="#02023c"/>
<path d="M191.1 202L195 200.7L192 199.1L188.1 200.5z" fill="#060696" stroke="#02023c"/>
<path d="M187.2 203.3L191.1 202L188.1 200.5L184.2 202z" fill="#060696" stroke="#02023c"/>
<path d="M183.3 204.7L187.2 203.3L184.2 202L180.3 203.4z" fill="#060696" stroke="#02023c"/>
<path d="M179.4 206.1L183.3 204.7L180.3 203.4L176.4 204.9z" fill="#060696" stroke="#02023c"/>
<path d="M175.5 207.6L179.4 206.1L176.4 204.9L172.5 206.4z" fill="#060696" stroke="#02023c"/>
<path d="M171.6 209.1L175.5 207.6L172.5 206.4L168.6 207.9z" fill="#060696" stroke="#02023c"/>
<path d="M167.7 210.7L171.6 209.1L168.6 207.9L164.7 209.4z" fill="#060696" stroke="#02023c"/>
<path d="M163.8 212.3L167.7 210.7L164.7 209.4L160.7 211z" fill="#060696" stroke="#02023c"/>
<path d="M159.9 214L163.8 212.3L160.7 211L156.8 212.6z" fill="#060696" stroke="#02023c"/>
<path d="M156 215.7L159.9 214L156.8 212.6L152.9 214.1z" fill="#060696" stroke="#02023c"/>
<path d="M152.1 217.4L156 215.7L152.9 214.1L149 215.7z" fill="#060696" stroke="#02023c"/>
<path d="M148.1 219L152.1 217.4L149 215.7L145.1 217.2z" fill="#060696" stroke="#02023c"/>
<path d="M144.2 220.6L148.1 219L145.1 217.2L141.2 218.8z" fill="#060696" stroke="#02023c"/>
<path d="M140.3 222.2L144.2 220.6L141.2 218.8L137.3 220.3z" fill="#060696" stroke="#02023c"/>
<path d="M136.4 223.7L140.3 222.2L137.3 220.3L133.4 221.8z" fill="#060696" stroke="#02023c"/>
<path d="M132.5 225.3L136.4 223.7L133.4 221.8L129.5 223.3z" fill="#060696" stroke="#02023c"/>
<path d="M128.6 226.8L132.5 225.3L129.5 223.3L125.6 224.8z" fill="#060696" stroke="#02023c"/>
<path d="M124.7 228.3L128.6 226.8L125.6 224.8L121.7 226.3z" fill="#060696" stroke="#02023c"/>
<path d="M120.8 229.8L124.7 228.3L121.7 226.3L117.8 227.8z" fill="#060696" stroke="#02023c"/>
<path d="M116.9 231.3L120.8 229.8L117.8 227.8L113.9 229.3z" fill="#060696" stroke="#02023c"/>
<path d="M113 232.8L116.9 231.3L113.9 229.3L110 230.8z" fill="#060696" stroke="#02023c"/>
<path d="M109.1 234.3L113 232.8L110 230.8L106.1 232.3z" fill="#060696" stroke="#02023c"/>
<path d="M105.2 235.8L109.1 234.3L106.1 232.3L102.2 233.8z" fill="#060696" stroke="#02023c"/>
<path d="M101.3 237.3L105.2 235.8L102.2 233.8L98.3 235.3z" fill="#060696" stroke="#02023c"/>
<path d="M97.4 238.8L101.3 237.3L98.3 235.3L94.4 236.8z" fill="#060696" stroke="#02023c"/>
<path d="M252.7 182.1L256.6 180.6L253.6 178.6L249.7 180.1z" fill="#060696" stroke="#02023c"/>
<path d="M248.8 183.6L252.7 182.1L249.7 180.1L245.8 181.6z" fill="#060696" stroke="#02023c"/>
<path d="M244.9 185.1L248.8 183.6L245.8 181.6L241.9 183.1z" fill="#060696" stroke="#02023c"/>
<path d="M241 186.6L244.9 185.1L241.9 183.1L238 184.6z" fill="#060696" stroke="#02023c"/>
<path d="M237.1 188.1L241 186.6L238 184.6L234.1 186.1z" fill="#060696" stroke="#02023c"/>
<path d="M233.2 189.6L237.1 188.1L234.1 186.1L230.2 187.6z" fill="#060696" stroke="#02023c"/>
<path d="M229.3 191.1L233.2 189.6L230.2 187.6L226.2 189.1z" fill="#060696" stroke="#02023c"/>
<path d="M225.4 192.6L229.3 191.1L226.2 189.1L222.3 190.6z" fill="#060696" stroke="#02023c"/>
<path d="M221.5 194.1L225.4 192.6L222.3 190.6L218.4 192.1z" fill="#060696" stroke="#02023c"/>
<path d="M217.6 195.5L221.5 194.1L218.4 192.1L214.5 193.6z" fill="#060696" stroke="#02023c"/>
<path d="M213.6 196.9L217.6 195.5L214.5 193.6L210.6 195.1z" fill="#060696" stroke="#02023c"/>
<path d="M209.7 198.2L213.6 196.9L210.6 195.1L206.7 196.6z" fill="#060696" stroke="#02023c"/>
<path d="M205.8 199.5L209.7 198.2L206.7 196.6L202.8 198z" fill="#060696" stroke="#02023c"/>
<path d="M201.9 200.6L205.8 199.5L202.8 198L198.9 199.3z" fill="#060696" stroke="#02023c"/>
<path d="M198 201.8L201.9 200.6L198.9 199.3L195 200.7z" fill="#060696" stroke="#02023c"/>
<path d="M194.1 202.9L198 201.8L195 200.7L191.1 202z" fill="#060696" stroke="#02023c"/>
<path d="M190.2 204L194.1 202.9L191.1 202L187.2 203.3z" fill="#060696" stroke="#02023c"/>
<path d="M186.3 205.2L190.2 204L187.2 203.3L183.3 204.7z" fill="#060695" stroke="#02023c"/>
<path d="M182.4 206.6L186.3 205.2L183.3 204.7L179.4 206.1z" fill="#060695" stroke="#02023c"/>
<path d="M178.5 208L182.4 206.6L179.4 206.1L175.5 207.6z" fill="#070896" stroke="#03033c"/>
<path d="M174.6 209.6L178.5 208L175.5 207.6L171.6 209.1z" fill="#060695" stroke="#02023c"/>
<path d="M170.7 211.3L174.6 209.6L171.6 209.1L167.7 210.7z" fill="#060696" stroke="#02023c"/>
<path d="M166.8 213.1L170.7 211.3L167.7 210.7L163.8 212.3z" fill="#060696" stroke="#02023c"/>
<path d="M162.9 214.9L166.8 213.1L163.8 212.3L159.9 214z" fill="#060696" stroke="#02023c"/>
<path d="M159 216.8L162.9 214.9L159.9 214L156 215.7z" fill="#060696" stroke="#02023c"/>
<path d="M155.1 218.7L159 216.8L156 215.7L152.1 217.4z" fill="#060696" stroke="#02023c"/>
<path d="M151.2 220.5L155.1 218.7L152.1 217.4L148.1 219z" fill="#060696" stroke="#02023c"/>
<path d="M147.3 222.3L151.2 220.5L148.1 219L144.2 220.6z" fill="#060696" stroke="#02023c"/>
<path d="M143.4 224L147.3 222.3L144.2 220.6L140.3 222.2z" fill="#060696" stroke="#02023c"/>
<path d="M139.5 225.6L143.4 224L140.3 222.2L136.4 223.7z" fill="#060696" stroke="#02023c"/>
<path d="M135.5 227.2L139.5 225.6L136.4 223.7L132.5 225.3z" fill="#060696" stroke="#02023c"/>
<path d="M131.6 228.7L135.5 227.2L132.5 225.3L128.6 226.8z" fill="#060696" stroke="#02023c"/>
<path d="M127.7 230.2L131.6 228.7L128.6 226.8L124.7 228.3z" fill="#060696" stroke="#02023c"/>
<path d="M123.8 231.7L127.7 230.2L124.7 228.3L120.8 229.8z" fill="#060696" stroke="#02023c"/>
<path d="M119.9 233.2L123.8 231.7L120.8 229.8L116.9 231.3z" fill="#060696" stroke="#02023c"/>
<path d="M116 234.7L119.9 233.2L116.9 231.3L113 232.8z" fill="#060696" stroke="#02023c"/>
<path d="M112.1 236.2L116 234.7L113 232.8L109.1 234.3z" fill="#060696" stroke="#02023c"/>
<path d="M108.2 237.8L112.1 236.2L109.1 234.3L105.2 235.8z" fill="#060696" stroke="#02023c"/>
<path d="M104.3 239.3L108.2 237.8L105.2 235.8L101.3 237.3z" fill="#060696" stroke="#02023c"/>
<path d="M100.4 240.8L104.3 239.3L101.3 237.3L97.4 238.8z" fill="#060696" stroke="#02023c"/>
<path d="M255.7 184L259.6 182.5L256.6 180.6L252.7 182.1z" fill="#060696" stroke="#02023c"/>
<path d="M251.8 185.5L255.7 184L252.7 182.1L248.8 183.6z" fill="#060696" stroke="#02023c"/>
<path d="M247.9 187L251.8 185.5L248.8 183.6L244.9 185.1z" fill="#060696" stroke="#02023c"/>
<path d="M244 188.5L247.9 187L244.9 185.1L241 186.6z" fill="#060696" stroke="#02023c"/>
<path d="M240.1 190L244 188.5L241 186.6L237.1 188.1z" fill="#060696" stroke="#02023c"/>
<path d="M236.2 191.6L240.1 190L237.1 188.1L233.2 189.6z" fill="#060696" stroke="#02023c"/>
<path d="M232.3 193.1L236.2 191.6L233.2 189.6L229.3 191.1z" fill="#060696" stroke="#02023c"/>
<path d="M228.4 194.5L232.3 193.1L229.3 191.1L225.4 192.6z" fill="#060696" stroke="#02023c"/>
<path d="M224.5 196L228.4 194.5L225.4 192.6L221.5 194.1z" fill="#060696" stroke="#02023c"/>
<path d="M220.6 197.3L224.5 196L221.5 194.1L217.6 195.5z" fill="#060696" stroke="#02023c"/>
<path d="M216.7 198.5L220.6 197.3L217.6 195.5L213.6 196.9z" fill="#060696" stroke="#02023c"/>
<path d="M212.8 199.6L216.7 198.5L213.6 196.9L209.7 198.2z" fill="#060696" stroke="#02023c"/>
<path d="M208.9 200.5L212.8 199.6L209.7 198.2L205.8 199.5z" fill="#060696" stroke="#02023c"/>
<path d="M205 201.4L208.9 200.5L205.8 199.5L201.9 200.6z" fill="#060695" stroke="#02023c"/>
<path d="M201 202.2L205 201.4L201.9 200.6L198 201.8z" fill="#060894" stroke="#03033b"/>
<path d="M197.1 203L201 202.2L198 201.8L194.1 202.9z" fill="#060792" stroke="#03033b"/>
<path d="M193.2 203.8L197.1 203L194.1 202.9L190.2 204z" fill="#060791" stroke="#03033a"/>
<path d="M189.3 204.8L193.2 203.8L190.2 204L186.3 205.2z" fill="#060790" stroke="#020339"/>
<path d="M185.4 206L189.3 204.8L186.3 205.2L182.4 206.6z" fill="#06078f" stroke="#020339"/>
<path d="M181.5 207.4L185.4 206L182.4 206.6L178.5 208z" fill="#06078f" stroke="#020339"/>
<path d="M177.6 209L181.5 207.4L178.5 208L174.6 209.6z" fill="#060790" stroke="#03033a"/>
<path d="M173.7 210.8L177.6 209L174.6 209.6L170.7 211.3z" fill="#060792" stroke="#03033a"/>
<path d="M169.8 212.8L173.7 210.8L170.7 211.3L166.8 213.1z" fill="#060893" stroke="#03033b"/>
<path d="M165.9 215L169.8 212.8L166.8 213.1L162.9 214.9z" fill="#060895" stroke="#03033c"/>
<path d="M162 217.2L165.9 215L162.9 214.9L159 216.8z" fill="#070897" stroke="#03033d"/>
<path d="M158.1 219.4L162 217.2L159 216.8L155.1 218.7z" fill="#060696" stroke="#02023c"/>
<path d="M154.2 221.6L158.1 219.4L155.1 218.7L151.2 220.5z" fill="#060696" stroke="#02023c"/>
<path d="M150.3 223.6L154.2 221.6L151.2 220.5L147.3 222.3z" fill="#060696" stroke="#02023c"/>
<path d="M146.4 225.6L150.3 223.6L147.3 222.3L143.4 224z" fill="#060696" stroke="#02023c"/>
<path d="M142.5 227.4L146.4 225.6L143.4 224L139.5 225.6z" fill="#060696" stroke="#02023c"/>
<path d="M138.6 229.1L142.5 227.4L139.5 225.6L135.5 227.2z" fill="#060696" stroke="#02023c"/>
<path d="M134.7 230.7L138.6 229.1L135.5 227.2L131.6 228.7z" fill="#060696" stroke="#02023c"/>
<path d="M130.8 232.2L134.7 230.7L131.6 228.7L127.7 230.2z" fill="#060696" stroke="#02023c"/>
<path d="M126.9 233.7L130.8 232.2L127.7 230.2L123.8 231.7z" fill="#060696" stroke="#02023c"/>
<path d="M122.9 235.2L126.9 233.7L123.8 231.7L119.9 233.2z" fill="#060696" stroke="#02023c"/>
<path d="M119 236.7L122.9 235.2L119.9 233.2L116 234.7z" fill="#060696" stroke="#02023c"/>
<path d="M115.1 238.2L119 236.7L116 234.7L112.1 236.2z" fill="#060696" stroke="#02023c"/>
<path d="M111.2 239.7L115.1 238.2L112.1 236.2L108.2 237.8z" fill="#060696" stroke="#02023c"/>
<path d="M107.3 241.2L111.2 239.7L108.2 237.8L104.3 239.3z" fill="#060696" stroke="#02023c"/>
<path d="M103.4 242.7L107.3 241.2L104.3 239.3L100.4 240.8z" fill="#060696" stroke="#02023c"/>
<path d="M258.7 186L262.6 184.5L259.6 182.5L255.7 184z" fill="#060696" stroke="#02023c"/>
<path d="M254.8 187.5L258.7 186L255.7 184L251.8 185.5z" fill="#060696" stroke="#02023c"/>
<path d="M250.9 189L254.8 187.5L251.8 185.5L247.9 187z" fill="#060696" stroke="#02023c"/>
<path d="M247 190.5L250.9 189L247.9 187L244 188.5z" fill="#060696" stroke="#02023c"/>
<path d="M243.1 192L247 190.5L244 188.5L240.1 190z" fill="#060696" stroke="#02023c"/>
<path d="M239.2 193.5L243.1 192L240.1 190L236.2 191.6z" fill="#060696" stroke="#02023c"/>
<path d="M235.3 195L239.2 193.5L236.2 191.6L232.3 193.1z" fill="#060696" stroke="#02023c"/>
<path d="M231.4 196.4L235.3 195L232.3 193.1L228.4 194.5z" fill="#060696" stroke="#02023c"/>
<path d="M227.5 197.7L231.4 196.4L228.4 194.5L224.5 196z" fill="#060696" stroke="#02023c"/>
<path d="M223.6 198.8L227.5 197.7L224.5 196L220.6 197.3z" fill="#060696" stroke="#02023c"/>
<path d="M219.7 199.7L223.6 198.8L220.6 197.3L216.7 198.5z" fill="#060696" stroke="#02023c"/>
<path d="M215.8 200.4L219.7 199.7L216.7 198.5L212.8 199.6z" fill="#060695" stroke="#02023c"/>
<path d="M211.9 200.9L215.8 200.4L212.8 199.6L208.9 200.5z" fill="#060793" stroke="#03033b"/>
<path d="M208 201.3L211.9 200.9L208.9 200.5L205 201.4z" fill="#060790" stroke="#02033a"/>
<path d="M204.1 201.6L208 201.3L205 201.4L201 202.2z" fill="#070994" stroke="#03043b"/>
<path d="M200.2 201.9L204.1 201.6L201 202.2L197.1 203z" fill="#080a99" stroke="#03043d"/>
<path d="M196.3 202.4L200.2 201.9L197.1 203L193.2 203.8z" fill="#080a98" stroke="#03043d"/>
<path d="M192.4 203.1L196.3 202.4L193.2 203.8L189.3 204.8z" fill="#080c99" stroke="#03053d"/>
<path d="M188.4 204.1L192.4 203.1L189.3 204.8L185.4 206z" fill="#080b99" stroke="#03053d"/>
<path d="M184.5 205.4L188.4 204.1L185.4 206L181.5 207.4z" fill="#080b99" stroke="#03053d"/>
<path d="M180.6 207.1L184.5 205.4L181.5 207.4L177.6 209z" fill="#080b99" stroke="#03043d"/>
<path d="M176.7 209.1L180.6 207.1L177.6 209L173.7 210.8z" fill="#080b9a" stroke="#03043e"/>
<path d="M172.8 211.4L176.7 209.1L173.7 210.8L169.8 212.8z" fill="#070994" stroke="#03043b"/>
<path d="M168.9 214L172.8 211.4L169.8 212.8L165.9 215z" fill="#070990" stroke="#03043a"/>
<path d="M165 216.6L168.9 214L165.9 215L162 217.2z" fill="#070994" stroke="#03043b"/>
<path d="M161.1 219.3L165 216.6L162 217.2L158.1 219.4z" fill="#060895" stroke="#03033c"/>
<path d="M157.2 222L161.1 219.3L158.1 219.4L154.2 221.6z" fill="#070897" stroke="#03033d"/>
<path d="M153.3 224.5L157.2 222L154.2 221.6L150.3 223.6z" fill="#060696" stroke="#02023c"/>
<path d="M149.4 226.8L153.3 224.5L150.3 223.6L146.4 225.6z" fill="#060696" stroke="#02023c"/>
<path d="M145.5 228.9L149.4 226.8L146.4 225.6L142.5 227.4z" fill="#060696" stroke="#02023c"/>
<path d="M141.6 230.8L145.5 228.9L142.5 227.4L138.6 229.1z" fill="#060696" stroke="#02023c"/>
<path d="M137.7 232.5L141.6 230.8L138.6 229.1L134.7 230.7z" fill="#060696" stroke="#02023c"/>
<path d="M133.8 234.1L137.7 232.5L134.7 230.7L130.8 232.2z" fill="#060696" stroke="#02023c"/>
<path d="M129.9 235.7L133.8 234.1L130.8 232.2L126.9 233.7z" fill="#060696" stroke="#02023c"/>
<path d="M126 237.2L129.9 235.7L126.9 233.7L122.9 235.2z" fill="#060696" stroke="#02023c"/>
<path d="M122.1 238.7L126 237.2L122.9 235.2L119 236.7z" fill="#060696" stroke="#02023c"/>
<path d="M118.2 240.2L122.1 238.7L119 236.7L115.1 238.2z" fill="#060696" stroke="#02023c"/>
<path d="M114.3 241.7L118.2 240.2L115.1 238.2L111.2 239.7z" fill="#060696" stroke="#02023c"/>
<path d="M110.3 243.2L114.3 241.7L111.2 239.7L107.3 241.2z" fill="#060696" stroke="#02023c"/>
<path d="M106.4 244.7L110.3 243.2L107.3 241.2L103.4 242.7z" fill="#060696" stroke="#02023c"/>
<path d="M261.8 188L265.7 186.4L262.6 184.5L258.7 186z" fill="#060696" stroke="#02023c"/>
<path d="M257.9 189.5L261.8 188L258.7 186L254.8 187.5z" fill="#060696" stroke="#02023c"/>
<path d="M253.9 191L257.9 189.5L254.8 187.5L250.9 189z" fill="#060696" stroke="#02023c"/>
<path d="M250 192.5L253.9 191L250.9 189L247 190.5z" fill="#060696" stroke="#02023c"/>
<path d="M246.1 194L250 192.5L247 190.5L243.1 192z" fill="#060696" stroke="#02023c"/>
<path d="M242.2 195.5L246.1 194L243.1 192L239.2 193.5z" fill="#060696" stroke="#02023c"/>
<path d="M238.3 196.8L242.2 195.5L239.2 193.5L235.3 195z" fill="#060696" stroke="#02023c"/>
<path d="M234.4 198.1L238.3 196.8L235.3 195L231.4 196.4z" fill="#060696" stroke="#02023c"/>
<path d="M230.5 199.1L234.4 198.1L231.4 196.4L227.5 197.7z" fill="#060696" stroke="#02023c"/>
<path d="M226.6 199.9L230.5 199.1L227.5 197.7L223.6 198.8z" fill="#060696" stroke="#02023c"/>
<path d="M222.7 200.3L226.6 199.9L223.6 198.8L219.7 199.7z" fill="#060693" stroke="#02023b"/>
<path d="M218.8 200.5L222.7 200.3L219.7 199.7L215.8 200.4z" fill="#060790" stroke="#03033a"/>
<path d="M214.9 200.4L218.8 200.5L215.8 200.4L211.9 200.9z" fill="#070994" stroke="#03043b"/>
<path d="M211 200.1L214.9 200.4L211.9 200.9L208 201.3z" fill="#080a98" stroke="#03043d"/>
<path d="M207.1 199.8L211 200.1L208 201.3L204.1 201.6z" fill="#0a0d9d" stroke="#04053f"/>
<path d="M203.2 199.5L207.1 199.8L204.1 201.6L200.2 201.9z" fill="#0c119f" stroke="#050740"/>
<path d="M199.3 199.5L203.2 199.5L200.2 201.9L196.3 202.4z" fill="#0d11a0" stroke="#050740"/>
<path d="M195.4 199.8L199.3 199.5L196.3 202.4L192.4 203.1z" fill="#0d12a1" stroke="#050740"/>
<path d="M191.5 200.5L195.4 199.8L192.4 203.1L188.4 204.1z" fill="#0c11a0" stroke="#050740"/>
<path d="M187.6 201.7L191.5 200.5L188.4 204.1L184.5 205.4z" fill="#0a109f" stroke="#04063f"/>
<path d="M183.7 203.5L187.6 201.7L184.5 205.4L180.6 207.1z" fill="#0a0f9e" stroke="#04063f"/>
<path d="M179.8 205.8L183.7 203.5L180.6 207.1L176.7 209.1z" fill="#090f9d" stroke="#04063f"/>
<path d="M175.8 208.5L179.8 205.8L176.7 209.1L172.8 211.4z" fill="#080d9c" stroke="#03053e"/>
<path d="M171.9 211.6L175.8 208.5L172.8 211.4L168.9 214z" fill="#080d9a" stroke="#03053e"/>
<path d="M168 214.9L171.9 211.6L168.9 214L165 216.6z" fill="#070b95" stroke="#03043c"/>
<path d="M164.1 218.2L168 214.9L165 216.6L161.1 219.3z" fill="#070991" stroke="#03043a"/>
<path d="M160.2 221.5L164.1 218.2L161.1 219.3L157.2 222z" fill="#070995" stroke="#03043c"/>
<path d="M156.3 224.6L160.2 221.5L157.2 222L153.3 224.5z" fill="#070897" stroke="#03033d"/>
<path d="M152.4 227.4L156.3 224.6L153.3 224.5L149.4 226.8z" fill="#070897" stroke="#03033d"/>
<path d="M148.5 230L152.4 227.4L149.4 226.8L145.5 228.9z" fill="#060696" stroke="#02023c"/>
<path d="M144.6 232.2L148.5 230L145.5 228.9L141.6 230.8z" fill="#060696" stroke="#02023c"/>
<path d="M140.7 234.2L144.6 232.2L141.6 230.8L137.7 232.5z" fill="#060696" stroke="#02023c"/>
<path d="M136.8 236L140.7 234.2L137.7 232.5L133.8 234.1z" fill="#060696" stroke="#02023c"/>
<path d="M132.9 237.6L136.8 236L133.8 234.1L129.9 235.7z" fill="#060696" stroke="#02023c"/>
<path d="M129 239.1L132.9 237.6L129.9 235.7L126 237.2z" fill="#060696" stroke="#02023c"/>
<path d="M125.1 240.6L129 239.1L126 237.2L122.1 238.7z" fill="#060696" stroke="#02023c"/>
<path d="M121.2 242.1L125.1 240.6L122.1 238.7L118.2 240.2z" fill="#060696" stroke="#02023c"/>
<path d="M117.3 243.6L121.2 242.1L118.2 240.2L114.3 241.7z" fill="#060696" stroke="#02023c"/>
<path d="M113.4 245.1L117.3 243.6L114.3 241.7L110.3 243.2z" fill="#060696" stroke="#02023c"/>
<path d="M109.5 246.6L113.4 245.1L110.3 243.2L106.4 244.7z" fill="#060696" stroke="#02023c"/>
<path d="M264.8 189.9L268.7 188.4L265.7 186.4L261.8 188z" fill="#060696" stroke="#02023c"/>
<path d="M260.9 191.4L264.8 189.9L261.8 188L257.9 189.5z" fill="#060696" stroke="#02023c"/>
<path d="M257 192.9L260.9 191.4L257.9 189.5L253.9 191z" fill="#060696" stroke="#02023c"/>
<path d="M253.1 194.4L257 192.9L253.9 191L250 192.5z" fill="#060696" stroke="#02023c"/>
<path d="M249.2 195.9L253.1 194.4L250 192.5L246.1 194z" fill="#060696" stroke="#02023c"/>
<path d="M245.3 197.3L249.2 195.9L246.1 194L242.2 195.5z" fill="#060696" stroke="#02023c"/>
<path d="M241.3 198.6L245.3 197.3L242.2 195.5L238.3 196.8z" fill="#060696" stroke="#02023c"/>
<path d="M237.4 199.6L241.3 198.6L238.3 196.8L234.4 198.1z" fill="#060696" stroke="#02023c"/>
<path d="M233.5 200.2L237.4 199.6L234.4 198.1L230.5 199.1z" fill="#060696" stroke="#02023c"/>
<path d="M229.6 200.5L233.5 200.2L230.5 199.1L226.6 199.9z" fill="#060893" stroke="#03033b"/>
<path d="M225.7 200.4L229.6 200.5L226.6 199.9L222.7 200.3z" fill="#070894" stroke="#03033b"/>
<path d="M221.8 199.8L225.7 200.4L222.7 200.3L218.8 200.5z" fill="#080a98" stroke="#03043d"/>
<path d="M217.9 198.9L221.8 199.8L218.8 200.5L214.9 200.4z" fill="#0b0e9d" stroke="#04063f"/>
<path d="M214 197.8L217.9 198.9L214.9 200.4L211 200.1z" fill="#1014a3" stroke="#060841"/>
<path d="M210.1 196.7L214 197.8L211 200.1L207.1 199.8z" fill="#151ba9" stroke="#080b44"/>
<path d="M206.2 195.6L210.1 196.7L207.1 199.8L203.2 199.5z" fill="#1920ae" stroke="#0a0d46"/>
<path d="M202.3 194.9L206.2 195.6L203.2 199.5L199.3 199.5z" fill="#1921af" stroke="#0a0d46"/>
<path d="M198.4 194.6L202.3 194.9L199.3 199.5L195.4 199.8z" fill="#161eac" stroke="#090c45"/>
<path d="M194.5 195L198.4 194.6L195.4 199.8L191.5 200.5z" fill="#1322ad" stroke="#080e45"/>
<path d="M190.6 196.1L194.5 195L191.5 200.5L187.6 201.7z" fill="#0f1ea9" stroke="#060c44"/>
<path d="M186.7 198L190.6 196.1L187.6 201.7L183.7 203.5z" fill="#0d1ca7" stroke="#050b43"/>
<path d="M182.8 200.7L186.7 198L183.7 203.5L179.8 205.8z" fill="#0b13a1" stroke="#040740"/>
<path d="M178.9 203.9L182.8 200.7L179.8 205.8L175.8 208.5z" fill="#0a12a0" stroke="#040740"/>
<path d="M175 207.7L178.9 203.9L175.8 208.5L171.9 211.6z" fill="#09109f" stroke="#04073f"/>
<path d="M171.1 211.7L175 207.7L171.9 211.6L168 214.9z" fill="#090f9d" stroke="#04063f"/>
<path d="M167.2 215.9L171.1 211.7L168 214.9L164.1 218.2z" fill="#080c95" stroke="#03053c"/>
<path d="M163.2 220L167.2 215.9L164.1 218.2L160.2 221.5z" fill="#070a91" stroke="#03043a"/>
<path d="M159.3 223.9L163.2 220L160.2 221.5L156.3 224.6z" fill="#070995" stroke="#03043c"/>
<path d="M155.4 227.5L159.3 223.9L156.3 224.6L152.4 227.4z" fill="#070897" stroke="#03033d"/>
<path d="M151.5 230.6L155.4 227.5L152.4 227.4L148.5 230z" fill="#070897" stroke="#03033d"/>
<path d="M147.6 233.4L151.5 230.6L148.5 230L144.6 232.2z" fill="#060696" stroke="#02023c"/>
<path d="M143.7 235.7L147.6 233.4L144.6 232.2L140.7 234.2z" fill="#060696" stroke="#02023c"/>
<path d="M139.8 237.7L143.7 235.7L140.7 234.2L136.8 236z" fill="#060696" stroke="#02023c"/>
<path d="M135.9 239.5L139.8 237.7L136.8 236L132.9 237.6z" fill="#060696" stroke="#02023c"/>
<path d="M132 241.1L135.9 239.5L132.9 237.6L129 239.1z" fill="#060696" stroke="#02023c"/>
<path d="M128.1 242.6L132 241.1L129 239.1L125.1 240.6z" fill="#060696" stroke="#02023c"/>
<path d="M124.2 244.1L128.1 242.6L125.1 240.6L121.2 242.1z" fill="#060696" stroke="#02023c"/>
<path d="M120.3 245.6L124.2 244.1L121.2 242.1L117.3 243.6z" fill="#060696" stroke="#02023c"/>
<path d="M116.4 247.1L120.3 245.6L117.3 243.6L113.4 245.1z" fill="#060696" stroke="#02023c"/>
<path d="M112.5 248.6L116.4 247.1L113.4 245.1L109.5 246.6z" fill="#060696" stroke="#02023c"/>
<path d="M267.8 191.9L271.7 190.4L268.7 188.4L264.8 189.9z" fill="#060696" stroke="#02023c"/>
<path d="M263.9 193.4L267.8 191.9L264.8 189.9L260.9 191.4z" fill="#060696" stroke="#02023c"/>
<path d="M260 194.9L263.9 193.4L260.9 191.4L257 192.9z" fill="#060696" stroke="#02023c"/>
<path d="M256.1 196.4L260 194.9L257 192.9L253.1 194.4z" fill="#060696" stroke="#02023c"/>
<path d="M252.2 197.8L256.1 196.4L253.1 194.4L249.2 195.9z" fill="#060696" stroke="#02023c"/>
<path d="M248.3 199.1L252.2 197.8L249.2 195.9L245.3 197.3z" fill="#060696" stroke="#02023c"/>
<path d="M244.4 200.1L248.3 199.1L245.3 197.3L241.3 198.6z" fill="#060696" stroke="#02023c"/>
<path d="M240.5 200.8L244.4 200.1L241.3 198.6L237.4 199.6z" fill="#060696" stroke="#02023c"/>
<path d="M236.6 201L240.5 200.8L237.4 199.6L233.5 200.2z" fill="#060793" stroke="#03033b"/>
<path d="M232.7 200.6L236.6 201L233.5 200.2L229.6 200.5z" fill="#070894" stroke="#03033b"/>
<path d="M228.7 199.7L232.7 200.6L229.6 200.5L225.7 200.4z" fill="#080b9a" stroke="#03043e"/>
<path d="M224.8 198.3L228.7 199.7L225.7 200.4L221.8 199.8z" fill="#0d11a0" stroke="#050740"/>
<path d="M220.9 196.4L224.8 198.3L221.8 199.8L217.9 198.9z" fill="#171dab" stroke="#090c45"/>
<path d="M217 194.3L220.9 196.4L217.9 198.9L214 197.8z" fill="#242bb9" stroke="#0e114a"/>
<path d="M213.1 192.1L217 194.3L214 197.8L210.1 196.7z" fill="#2f37c5" stroke="#13164f"/>
<path d="M209.2 190.1L213.1 192.1L210.1 196.7L206.2 195.6z" fill="#354ad2" stroke="#151e54"/>
<path d="M205.3 188.5L209.2 190.1L206.2 195.6L202.3 194.9z" fill="#314dd2" stroke="#141f54"/>
<path d="M201.4 187.6L205.3 188.5L202.3 194.9L198.4 194.6z" fill="#294cce" stroke="#101e52"/>
<path d="M197.5 187.5L201.4 187.6L198.4 194.6L194.5 195z" fill="#1e41c3" stroke="#0c1a4e"/>
<path d="M193.6 188.5L197.5 187.5L194.5 195L190.6 196.1z" fill="#1843c0" stroke="#0a1b4d"/>
<path d="M189.7 190.5L193.6 188.5L190.6 196.1L186.7 198z" fill="#1235b7" stroke="#071549"/>
<path d="M185.8 193.6L189.7 190.5L186.7 198L182.8 200.7z" fill="#1033b5" stroke="#061448"/>
<path d="M181.9 197.5L185.8 193.6L182.8 200.7L178.9 203.9z" fill="#0e2aaf" stroke="#061146"/>
<path d="M178 202.1L181.9 197.5L178.9 203.9L175 207.7z" fill="#0d22aa" stroke="#050e44"/>
<path d="M174.1 207.1L178 202.1L175 207.7L171.1 211.7z" fill="#0a12a0" stroke="#040740"/>
<path d="M170.2 212.3L174.1 207.1L171.1 211.7L167.2 215.9z" fill="#09109a" stroke="#04063e"/>
<path d="M166.3 217.5L170.2 212.3L167.2 215.9L163.2 220z" fill="#080d8f" stroke="#030539"/>
<path d="M162.4 222.4L166.3 217.5L163.2 220L159.3 223.9z" fill="#070b92" stroke="#03043a"/>
<path d="M158.5 226.8L162.4 222.4L159.3 223.9L155.4 227.5z" fill="#070995" stroke="#03043c"/>
<path d="M154.6 230.7L158.5 226.8L155.4 227.5L151.5 230.6z" fill="#070897" stroke="#03033d"/>
<path d="M150.6 234.1L154.6 230.7L151.5 230.6L147.6 233.4z" fill="#070897" stroke="#03033d"/>
<path d="M146.7 236.9L150.6 234.1L147.6 233.4L143.7 235.7z" fill="#060696" stroke="#02023c"/>
<path d="M142.8 239.3L146.7 236.9L143.7 235.7L139.8 237.7z" fill="#060696" stroke="#02023c"/>
<path d="M138.9 241.3L142.8 239.3L139.8 237.7L135.9 239.5z" fill="#060696" stroke="#02023c"/>
<path d="M135 243L138.9 241.3L135.9 239.5L132 241.1z" fill="#060696" stroke="#02023c"/>
<path d="M131.1 244.5L135 243L132 241.1L128.1 242.6z" fill="#060696" stroke="#02023c"/>
<path d="M127.2 246.1L131.1 244.5L128.1 242.6L124.2 244.1z" fill="#060696" stroke="#02023c"/>
<path d="M123.3 247.6L127.2 246.1L124.2 244.1L120.3 245.6z" fill="#060696" stroke="#02023c"/>
<path d="M119.4 249.1L123.3 247.6L120.3 245.6L116.4 247.1z" fill="#060696" stroke="#02023c"/>
<path d="M115.5 250.6L119.4 249.1L116.4 247.1L112.5 248.6z" fill="#060696" stroke="#02023c"/>
<path d="M270.8 193.8L274.7 192.3L271.7 190.4L267.8 191.9z" fill="#060696" stroke="#02023c"/>
<path d="M266.9 195.3L270.8 193.8L267.8 191.9L263.9 193.4z" fill="#060696" stroke="#02023c"/>
<path d="M263 196.9L266.9 195.3L263.9 193.4L260 194.9z" fill="#060696" stroke="#02023c"/>
<path d="M259.1 198.3L263 196.9L260 194.9L256.1 196.4z" fill="#060696" stroke="#02023c"/>
<path d="M255.2 199.7L259.1 198.3L256.1 196.4L252.2 197.8z" fill="#060696" stroke="#02023c"/>
<path d="M251.3 200.8L255.2 199.7L252.2 197.8L248.3 199.1z" fill="#060696" stroke="#02023c"/>
<path d="M247.4 201.5L251.3 200.8L248.3 199.1L244.4 200.1z" fill="#060696" stroke="#02023c"/>
<path d="M243.5 201.7L247.4 201.5L244.4 200.1L240.5 200.8z" fill="#060693" stroke="#02023b"/>
<path d="M239.6 201.3L243.5 201.7L240.5 200.8L236.6 201z" fill="#070894" stroke="#03033b"/>
<path d="M235.7 200.2L239.6 201.3L236.6 201L232.7 200.6z" fill="#080b9a" stroke="#03043e"/>
<path d="M231.8 198.3L235.7 200.2L232.7 200.6L228.7 199.7z" fill="#0e11a0" stroke="#060740"/>
<path d="M227.9 195.8L231.8 198.3L228.7 199.7L224.8 198.3z" fill="#1c22b0" stroke="#0b0d46"/>
<path d="M224 192.8L227.9 195.8L224.8 198.3L220.9 196.4z" fill="#323ac8" stroke="#141750"/>
<path d="M220.1 189.4L224 192.8L220.9 196.4L217 194.3z" fill="#4a58e3" stroke="#1d235b"/>
<path d="M216.1 186L220.1 189.4L217 194.3L213.1 192.1z" fill="#5a76fb" stroke="#242f65"/>
<path d="M212.2 182.8L216.1 186L213.1 192.1L209.2 190.1z" fill="#5d88ff" stroke="#253766"/>
<path d="M208.3 180.2L212.2 182.8L209.2 190.1L205.3 188.5z" fill="#538fff" stroke="#213966"/>
<path d="M204.4 178.5L208.3 180.2L205.3 188.5L201.4 187.6z" fill="#4185f3" stroke="#1a3561"/>
<path d="M200.5 178L204.4 178.5L201.4 187.6L197.5 187.5z" fill="#317fe1" stroke="#13335a"/>
<path d="M196.6 178.8L200.5 178L197.5 187.5L193.6 188.5z" fill="#2372d4" stroke="#0e2e55"/>
<path d="M192.7 181L196.6 178.8L193.6 188.5L189.7 190.5z" fill="#1c6bcd" stroke="#0b2b52"/>
<path d="M188.8 184.5L192.7 181L189.7 190.5L185.8 193.6z" fill="#175bc9" stroke="#092450"/>
<path d="M184.9 189.2L188.8 184.5L185.8 193.6L181.9 197.5z" fill="#1550c3" stroke="#08204e"/>
<path d="M181 194.9L184.9 189.2L181.9 197.5L178 202.1z" fill="#113cb9" stroke="#07184a"/>
<path d="M177.1 201.1L181 194.9L178 202.1L174.1 207.1z" fill="#0e2aaf" stroke="#061146"/>
<path d="M173.2 207.5L177.1 201.1L174.1 207.1L170.2 212.3z" fill="#0b1aa5" stroke="#050a42"/>
<path d="M169.3 213.9L173.2 207.5L170.2 212.3L166.3 217.5z" fill="#091195" stroke="#04073c"/>
<path d="M165.4 219.9L169.3 213.9L166.3 217.5L162.4 222.4z" fill="#080d90" stroke="#03053a"/>
<path d="M161.5 225.4L165.4 219.9L162.4 222.4L158.5 226.8z" fill="#070b93" stroke="#03043b"/>
<path d="M157.6 230.3L161.5 225.4L158.5 226.8L154.6 230.7z" fill="#070997" stroke="#03043c"/>
<path d="M153.7 234.4L157.6 230.3L154.6 230.7L150.6 234.1z" fill="#070897" stroke="#03033d"/>
<path d="M149.8 237.8L153.7 234.4L150.6 234.1L146.7 236.9z" fill="#060696" stroke="#02023c"/>
<path d="M145.9 240.6L149.8 237.8L146.7 236.9L142.8 239.3z" fill="#060696" stroke="#02023c"/>
<path d="M141.9 242.9L145.9 240.6L142.8 239.3L138.9 241.3z" fill="#060696" stroke="#02023c"/>
<path d="M138 244.8L141.9 242.9L138.9 241.3L135 243z" fill="#060696" stroke="#02023c"/>
<path d="M134.1 246.5L138 244.8L135 243L131.1 244.5z" fill="#060696" stroke="#02023c"/>
<path d="M130.2 248L134.1 246.5L131.1 244.5L127.2 246.1z" fill="#060696" stroke="#02023c"/>
<path d="M126.3 249.5L130.2 248L127.2 246.1L123.3 247.6z" fill="#060696" stroke="#02023c"/>
<path d="M122.4 251L126.3 249.5L123.3 247.6L119.4 249.1z" fill="#060696" stroke="#02023c"/>
<path d="M118.5 252.5L122.4 251L119.4 249.1L115.5 250.6z" fill="#060696" stroke="#02023c"/>
<path d="M273.8 195.8L277.7 194.3L274.7 192.3L270.8 193.8z" fill="#060696" stroke="#02023c"/>
<path d="M269.9 197.3L273.8 195.8L270.8 193.8L266.9 195.3z" fill="#060696" stroke="#02023c"/>
<path d="M266 198.8L269.9 197.3L266.9 195.3L263 196.9z" fill="#060696" stroke="#02023c"/>
<path d="M262.1 200.2L266 198.8L263 196.9L259.1 198.3z" fill="#060696" stroke="#02023c"/>
<path d="M258.2 201.4L262.1 200.2L259.1 198.3L255.2 199.7z" fill="#060696" stroke="#02023c"/>
<path d="M254.3 202.3L258.2 201.4L255.2 199.7L251.3 200.8z" fill="#060696" stroke="#02023c"/>
<path d="M250.4 202.7L254.3 202.3L251.3 200.8L247.4 201.5z" fill="#060694" stroke="#02023b"/>
<path d="M246.5 202.3L250.4 202.7L247.4 201.5L243.5 201.7z" fill="#06078f" stroke="#020339"/>
<path d="M242.6 201.2L246.5 202.3L243.5 201.7L239.6 201.3z" fill="#080a98" stroke="#03043d"/>
<path d="M238.7 199.2L242.6 201.2L239.6 201.3L235.7 200.2z" fill="#0c109f" stroke="#050640"/>
<path d="M234.8 196.3L238.7 199.2L235.7 200.2L231.8 198.3z" fill="#1b20af" stroke="#0b0d46"/>
<path d="M230.9 192.6L234.8 196.3L231.8 198.3L227.9 195.8z" fill="#363ecc" stroke="#151951"/>
<path d="M227 188.2L230.9 192.6L227.9 195.8L224 192.8z" fill="#5a70f8" stroke="#242d63"/>
<path d="M223.1 183.4L227 188.2L224 192.8L220.1 189.4z" fill="#7c9fff" stroke="#313f66"/>
<path d="M219.2 178.5L223.1 183.4L220.1 189.4L216.1 186z" fill="#91cdff" stroke="#3a5266"/>
<path d="M215.3 174L219.2 178.5L216.1 186L212.2 182.8z" fill="#90dfff" stroke="#3a5966"/>
<path d="M211.4 170.2L215.3 174L212.2 182.8L208.3 180.2z" fill="#7de1ff" stroke="#325a66"/>
<path d="M207.5 167.5L211.4 170.2L208.3 180.2L204.4 178.5z" fill="#68dcff" stroke="#295866"/>
<path d="M203.5 166.4L207.5 167.5L204.4 178.5L200.5 178z" fill="#53cdee" stroke="#21525f"/>
<path d="M199.6 166.9L203.5 166.4L200.5 178L196.6 178.8z" fill="#3fb9db" stroke="#194a57"/>
<path d="M195.7 169.4L199.6 166.9L196.6 178.8L192.7 181z" fill="#36b0d1" stroke="#154654"/>
<path d="M191.8 173.5L195.7 169.4L192.7 181L188.8 184.5z" fill="#2a9ece" stroke="#113f52"/>
<path d="M187.9 179.2L191.8 173.5L188.8 184.5L184.9 189.2z" fill="#1e81cc" stroke="#0c3452"/>
<path d="M184 186L187.9 179.2L184.9 189.2L181 194.9z" fill="#1967c9" stroke="#0a2951"/>
<path d="M180.1 193.6L184 186L181 194.9L177.1 201.1z" fill="#1450c3" stroke="#08204e"/>
<path d="M176.2 201.5L180.1 193.6L177.1 201.1L173.2 207.5z" fill="#113cb9" stroke="#07184a"/>
<path d="M172.3 209.3L176.2 201.5L173.2 207.5L169.3 213.9z" fill="#0c21a4" stroke="#050d42"/>
<path d="M168.4 216.6L172.3 209.3L169.3 213.9L165.4 219.9z" fill="#09108f" stroke="#040639"/>
<path d="M164.5 223.4L168.4 216.6L165.4 219.9L161.5 225.4z" fill="#080e93" stroke="#03053b"/>
<path d="M160.6 229.3L164.5 223.4L161.5 225.4L157.6 230.3z" fill="#070b96" stroke="#03043c"/>
<path d="M156.7 234.3L160.6 229.3L157.6 230.3L153.7 234.4z" fill="#070999" stroke="#03043d"/>
<path d="M152.8 238.5L156.7 234.3L153.7 234.4L149.8 237.8z" fill="#070897" stroke="#03033d"/>
<path d="M148.9 241.8L152.8 238.5L149.8 237.8L145.9 240.6z" fill="#060696" stroke="#02023c"/>
<path d="M145 244.5L148.9 241.8L145.9 240.6L141.9 242.9z" fill="#060696" stroke="#02023c"/>
<path d="M141.1 246.6L145 244.5L141.9 242.9L138 244.8z" fill="#060696" stroke="#02023c"/>
<path d="M137.2 248.4L141.1 246.6L138 244.8L134.1 246.5z" fill="#060696" stroke="#02023c"/>
<path d="M133.3 250L137.2 248.4L134.1 246.5L130.2 248z" fill="#060696" stroke="#02023c"/>
<path d="M129.4 251.5L133.3 250L130.2 248L126.3 249.5z" fill="#060696" stroke="#02023c"/>
<path d="M125.4 253L129.4 251.5L126.3 249.5L122.4 251z" fill="#060696" stroke="#02023c"/>
<path d="M121.5 254.5L125.4 253L122.4 251L118.5 252.5z" fill="#060696" stroke="#02023c"/>
<path d="M276.9 197.8L280.8 196.3L277.7 194.3L273.8 195.8z" fill="#060696" stroke="#02023c"/>
<path d="M273 199.3L276.9 197.8L273.8 195.8L269.9 197.3z" fill="#060696" stroke="#02023c"/>
<path d="M269 200.7L273 199.3L269.9 197.3L266 198.8z" fill="#060696" stroke="#02023c"/>
<path d="M265.1 202.1L269 200.7L266 198.8L262.1 200.2z" fill="#060696" stroke="#02023c"/>
<path d="M261.2 203.1L265.1 202.1L262.1 200.2L258.2 201.4z" fill="#060696" stroke="#02023c"/>
<path d="M257.3 203.7L261.2 203.1L258.2 201.4L254.3 202.3z" fill="#060696" stroke="#02023c"/>
<path d="M253.4 203.6L257.3 203.7L254.3 202.3L250.4 202.7z" fill="#060792" stroke="#03033a"/>
<path d="M249.5 202.7L253.4 203.6L250.4 202.7L246.5 202.3z" fill="#070993" stroke="#03043b"/>
<path d="M245.6 200.8L249.5 202.7L246.5 202.3L242.6 201.2z" fill="#0a0d9d" stroke="#04053f"/>
<path d="M241.7 197.8L245.6 200.8L242.6 201.2L238.7 199.2z" fill="#141aa9" stroke="#080a43"/>
<path d="M237.8 193.7L241.7 197.8L238.7 199.2L234.8 196.3z" fill="#2c34c2" stroke="#12154e"/>
<path d="M233.9 188.6L237.8 193.7L234.8 196.3L230.9 192.6z" fill="#546af2" stroke="#222a61"/>
<path d="M230 182.8L233.9 188.6L230.9 192.6L227 188.2z" fill="#84afff" stroke="#354666"/>
<path d="M226.1 176.4L230 182.8L227 188.2L223.1 183.4z" fill="#aff3ff" stroke="#466166"/>
<path d="M222.2 169.9L226.1 176.4L223.1 183.4L219.2 178.5z" fill="#c9ffff" stroke="#516666"/>
<path d="M218.3 163.8L222.2 169.9L219.2 178.5L215.3 174z" fill="#d6ffff" stroke="#566666"/>
<path d="M214.4 158.6L218.3 163.8L215.3 174L211.4 170.2z" fill="#c7ffff" stroke="#4f6666"/>
<path d="M210.5 154.8L214.4 158.6L211.4 170.2L207.5 167.5z" fill="#aaffff" stroke="#446666"/>
<path d="M206.6 153L210.5 154.8L207.5 167.5L203.5 166.4z" fill="#88ffd8" stroke="#366656"/>
<path d="M202.7 153.3L206.6 153L203.5 166.4L199.6 166.9z" fill="#75e8b1" stroke="#2f5d47"/>
<path d="M198.8 156L202.7 153.3L199.6 166.9L195.7 169.4z" fill="#60d8b0" stroke="#275646"/>
<path d="M194.9 160.9L198.8 156L195.7 169.4L191.8 173.5z" fill="#54d0b7" stroke="#225349"/>
<path d="M190.9 167.6L194.9 160.9L191.8 173.5L187.9 179.2z" fill="#42c8cc" stroke="#1a5052"/>
<path d="M187 175.8L190.9 167.6L187.9 179.2L184 186z" fill="#31abcd" stroke="#144452"/>
<path d="M183.1 185L187 175.8L184 186L180.1 193.6z" fill="#1e81cc" stroke="#0c3452"/>
<path d="M179.2 194.5L183.1 185L180.1 193.6L176.2 201.5z" fill="#165ac8" stroke="#092450"/>
<path d="M175.3 203.8L179.2 194.5L176.2 201.5L172.3 209.3z" fill="#0f36a8" stroke="#061643"/>
<path d="M171.4 212.7L175.3 203.8L172.3 209.3L168.4 216.6z" fill="#0b1e96" stroke="#040c3c"/>
<path d="M167.5 220.8L171.4 212.7L168.4 216.6L164.5 223.4z" fill="#091193" stroke="#04073b"/>
<path d="M163.6 227.9L167.5 220.8L164.5 223.4L160.6 229.3z" fill="#080e96" stroke="#03063c"/>
<path d="M159.7 233.9L163.6 227.9L160.6 229.3L156.7 234.3z" fill="#080b99" stroke="#03043d"/>
<path d="M155.8 238.8L159.7 233.9L156.7 234.3L152.8 238.5z" fill="#070999" stroke="#03043d"/>
<path d="M151.9 242.8L155.8 238.8L152.8 238.5L148.9 241.8z" fill="#070897" stroke="#03033d"/>
<path d="M148 245.9L151.9 242.8L148.9 241.8L145 244.5z" fill="#060696" stroke="#02023c"/>
<path d="M144.1 248.3L148 245.9L145 244.5L141.1 246.6z" fill="#060696" stroke="#02023c"/>
<path d="M140.2 250.2L144.1 248.3L141.1 246.6L137.2 248.4z" fill="#060696" stroke="#02023c"/>
<path d="M136.3 251.9L140.2 250.2L137.2 248.4L133.3 250z" fill="#060696" stroke="#02023c"/>
<path d="M132.4 253.5L136.3 251.9L133.3 250L129.4 251.5z" fill="#060696" stroke="#02023c"/>
<path d="M128.5 255L132.4 253.5L129.4 251.5L125.4 253z" fill="#060696" stroke="#02023c"/>
<path d="M124.6 256.5L128.5 255L125.4 253L121.5 254.5z" fill="#060696" stroke="#02023c"/>
<path d="M279.9 199.7L283.8 198.2L280.8 196.3L276.9 197.8z" fill="#060696" stroke="#02023c"/>
<path d="M276 201.2L279.9 199.7L276.9 197.8L273 199.3z" fill="#060696" stroke="#02023c"/>
<path d="M272.1 202.7L276 201.2L273 199.3L269 200.7z" fill="#060696" stroke="#02023c"/>
<path d="M268.2 203.9L272.1 202.7L269 200.7L265.1 202.1z" fill="#060696" stroke="#02023c"/>
<path d="M264.3 204.8L268.2 203.9L265.1 202.1L261.2 203.1z" fill="#060696" stroke="#02023c"/>
<path d="M260.4 205L264.3 204.8L261.2 203.1L257.3 203.7z" fill="#060694" stroke="#02023b"/>
<path d="M256.4 204.5L260.4 205L257.3 203.7L253.4 203.6z" fill="#06078e" stroke="#020339"/>
<path d="M252.5 202.9L256.4 204.5L253.4 203.6L249.5 202.7z" fill="#080a97" stroke="#03043c"/>
<path d="M248.6 200.1L252.5 202.9L249.5 202.7L245.6 200.8z" fill="#0d12a1" stroke="#050740"/>
<path d="M244.7 196.1L248.6 200.1L245.6 200.8L241.7 197.8z" fill="#1d24b2" stroke="#0c0e47"/>
<path d="M240.8 190.8L244.7 196.1L241.7 197.8L237.8 193.7z" fill="#3c4bd6" stroke="#181e56"/>
<path d="M236.9 184.3L240.8 190.8L237.8 193.7L233.9 188.6z" fill="#6a8dff" stroke="#2b3966"/>
<path d="M233 176.9L236.9 184.3L233.9 188.6L230 182.8z" fill="#a1e5ff" stroke="#405c66"/>
<path d="M229.1 168.8L233 176.9L230 182.8L226.1 176.4z" fill="#d4ffff" stroke="#556666"/>
<path d="M225.2 160.5L229.1 168.8L226.1 176.4L222.2 169.9z" fill="#ffffff" stroke="#666666"/>
<path d="M221.3 152.7L225.2 160.5L222.2 169.9L218.3 163.8z" fill="#ffffff" stroke="#666666"/>
<path d="M217.4 145.9L221.3 152.7L218.3 163.8L214.4 158.6z" fill="#ffffff" stroke="#666666"/>
<path d="M213.5 140.9L217.4 145.9L214.4 158.6L210.5 154.8z" fill="#dfffd3" stroke="#596655"/>
<path d="M209.6 138.2L213.5 140.9L210.5 154.8L206.6 153z" fill="#b6ff8c" stroke="#496638"/>
<path d="M205.7 138.3L209.6 138.2L206.6 153L202.7 153.3z" fill="#91fe67" stroke="#3a6529"/>
<path d="M201.8 141.2L205.7 138.3L202.7 153.3L198.8 156z" fill="#81ee57" stroke="#345f23"/>
<path d="M197.9 146.9L201.8 141.2L198.8 156L194.9 160.9z" fill="#6de761" stroke="#2b5c27"/>
<path d="M194 155L197.9 146.9L194.9 160.9L190.9 167.6z" fill="#68df80" stroke="#2a5933"/>
<path d="M190.1 164.7L194 155L190.9 167.6L187 175.8z" fill="#5cd3ab" stroke="#255544"/>
<path d="M186.2 175.6L190.1 164.7L187 175.8L183.1 185z" fill="#3abacc" stroke="#174a52"/>
<path d="M182.2 186.8L186.2 175.6L183.1 185L179.2 194.5z" fill="#1c7ac1" stroke="#0b314d"/>
<path d="M178.3 197.9L182.2 186.8L179.2 194.5L175.3 203.8z" fill="#134caa" stroke="#071f44"/>
<path d="M174.4 208.4L178.3 197.9L175.3 203.8L171.4 212.7z" fill="#0f35a2" stroke="#061541"/>
<path d="M170.5 217.9L174.4 208.4L171.4 212.7L167.5 220.8z" fill="#0a1896" stroke="#04093c"/>
<path d="M166.6 226.2L170.5 217.9L167.5 220.8L163.6 227.9z" fill="#090f96" stroke="#04063c"/>
<path d="M162.7 233.2L166.6 226.2L163.6 227.9L159.7 233.9z" fill="#080d99" stroke="#03053d"/>
<path d="M158.8 239L162.7 233.2L159.7 233.9L155.8 238.8z" fill="#070999" stroke="#03043d"/>
<path d="M154.9 243.6L158.8 239L155.8 238.8L151.9 242.8z" fill="#070897" stroke="#03033d"/>
<path d="M151 247.2L154.9 243.6L151.9 242.8L148 245.9z" fill="#060696" stroke="#02023c"/>
<path d="M147.1 249.9L151 247.2L148 245.9L144.1 248.3z" fill="#060696" stroke="#02023c"/>
<path d="M143.2 252.1L147.1 249.9L144.1 248.3L140.2 250.2z" fill="#060696" stroke="#02023c"/>
<path d="M139.3 253.8L143.2 252.1L140.2 250.2L136.3 251.9z" fill="#060696" stroke="#02023c"/>
<path d="M135.4 255.4L139.3 253.8L136.3 251.9L132.4 253.5z" fill="#060696" stroke="#02023c"/>
<path d="M131.5 256.9L135.4 255.4L132.4 253.5L128.5 255z" fill="#060696" stroke="#02023c"/>
<path d="M127.6 258.4L131.5 256.9L128.5 255L124.6 256.5z" fill="#060696" stroke="#02023c"/>
<path d="M282.9 201.7L286.8 200.2L283.8 198.2L279.9 199.7z" fill="#060696" stroke="#02023c"/>
<path d="M279 203.2L282.9 201.7L279.9 199.7L276 201.2z" fill="#060696" stroke="#02023c"/>
<path d="M275.1 204.6L279 203.2L276 201.2L272.1 202.7z" fill="#060696" stroke="#02023c"/>
<path d="M271.2 205.7L275.1 204.6L272.1 202.7L268.2 203.9z" fill="#060696" stroke="#02023c"/>
<path d="M267.3 206.3L271.2 205.7L268.2 203.9L264.3 204.8z" fill="#060696" stroke="#02023c"/>
<path d="M263.4 206.3L267.3 206.3L264.3 204.8L260.4 205z" fill="#060793" stroke="#03033b"/>
<path d="M259.5 205.2L263.4 206.3L260.4 205L256.4 204.5z" fill="#070993" stroke="#03043b"/>
<path d="M255.6 203L259.5 205.2L256.4 204.5L252.5 202.9z" fill="#090d9c" stroke="#04053e"/>
<path d="M251.7 199.4L255.6 203L252.5 202.9L248.6 200.1z" fill="#1116a5" stroke="#070942"/>
<path d="M247.8 194.4L251.7 199.4L248.6 200.1L244.7 196.1z" fill="#232bb9" stroke="#0e114a"/>
<path d="M243.8 187.8L247.8 194.4L244.7 196.1L240.8 190.8z" fill="#4460e5" stroke="#1b265c"/>
<path d="M239.9 179.9L243.8 187.8L240.8 190.8L236.9 184.3z" fill="#73aeff" stroke="#2e4666"/>
<path d="M236 170.8L239.9 179.9L236.9 184.3L233 176.9z" fill="#aaffff" stroke="#446666"/>
<path d="M232.1 161L236 170.8L233 176.9L229.1 168.8z" fill="#f5ffff" stroke="#626666"/>
<path d="M228.2 150.9L232.1 161L229.1 168.8L225.2 160.5z" fill="#ffffff" stroke="#666666"/>
<path d="M224.3 141.2L228.2 150.9L225.2 160.5L221.3 152.7z" fill="#ffffff" stroke="#666666"/>
<path d="M220.4 132.7L224.3 141.2L221.3 152.7L217.4 145.9z" fill="#ffffff" stroke="#666666"/>
<path d="M216.5 126.3L220.4 132.7L217.4 145.9L213.5 140.9z" fill="#ffffc1" stroke="#66664d"/>
<path d="M212.6 122.7L216.5 126.3L213.5 140.9L209.6 138.2z" fill="#ffff65" stroke="#666629"/>
<path d="M208.7 122.4L212.6 122.7L209.6 138.2L205.7 138.3z" fill="#fffc31" stroke="#666514"/>
<path d="M204.8 125.7L208.7 122.4L205.7 138.3L201.8 141.2z" fill="#fff51e" stroke="#66620c"/>
<path d="M200.9 132.3L204.8 125.7L201.8 141.2L197.9 146.9z" fill="#daef2b" stroke="#576011"/>
<path d="M197 141.8L200.9 132.3L197.9 146.9L194 155z" fill="#9bec47" stroke="#3e5e1c"/>
<path d="M193.1 153.2L197 141.8L194 155L190.1 164.7z" fill="#6ce660" stroke="#2b5c26"/>
<path d="M189.2 165.9L193.1 153.2L190.1 164.7L186.2 175.6z" fill="#5bd3aa" stroke="#245444"/>
<path d="M185.3 179L189.2 165.9L186.2 175.6L182.2 186.8z" fill="#33a5b5" stroke="#144249"/>
<path d="M181.4 191.9L185.3 179L182.2 186.8L178.3 197.9z" fill="#196eae" stroke="#0a2c45"/>
<path d="M177.5 204L181.4 191.9L178.3 197.9L174.4 208.4z" fill="#1246ab" stroke="#071c45"/>
<path d="M173.6 214.9L177.5 204L174.4 208.4L170.5 217.9z" fill="#0c269f" stroke="#050f40"/>
<path d="M169.7 224.5L173.6 214.9L170.5 217.9L166.6 226.2z" fill="#091196" stroke="#04073c"/>
<path d="M165.7 232.5L169.7 224.5L166.6 226.2L162.7 233.2z" fill="#090e99" stroke="#03063d"/>
<path d="M161.8 239.1L165.7 232.5L162.7 233.2L158.8 239z" fill="#080b9a" stroke="#03043e"/>
<path d="M157.9 244.4L161.8 239.1L158.8 239L154.9 243.6z" fill="#070999" stroke="#03043d"/>
<path d="M154 248.4L157.9 244.4L154.9 243.6L151 247.2z" fill="#070897" stroke="#03033d"/>
<path d="M150.1 251.5L154 248.4L151 247.2L147.1 249.9z" fill="#060696" stroke="#02023c"/>
<path d="M146.2 253.9L150.1 251.5L147.1 249.9L143.2 252.1z" fill="#060696" stroke="#02023c"/>
<path d="M142.3 255.7L146.2 253.9L143.2 252.1L139.3 253.8z" fill="#060696" stroke="#02023c"/>
<path d="M138.4 257.4L142.3 255.7L139.3 253.8L135.4 255.4z" fill="#060696" stroke="#02023c"/>
<path d="M134.5 258.9L138.4 257.4L135.4 255.4L131.5 256.9z" fill="#060696" stroke="#02023c"/>
<path d="M130.6 260.4L134.5 258.9L131.5 256.9L127.6 258.4z" fill="#060696" stroke="#02023c"/>
<path d="M285.9 203.7L289.8 202.1L286.8 200.2L282.9 201.7z" fill="#060696" stroke="#02023c"/>
<path d="M282 205.1L285.9 203.7L282.9 201.7L279 203.2z" fill="#060696" stroke="#02023c"/>
<path d="M278.1 206.5L282 205.1L279 203.2L275.1 204.6z" fill="#060696" stroke="#02023c"/>
<path d="M274.2 207.5L278.1 206.5L275.1 204.6L271.2 205.7z" fill="#060696" stroke="#02023c"/>
<path d="M270.3 207.9L274.2 207.5L271.2 205.7L267.3 206.3z" fill="#060695" stroke="#02023c"/>
<path d="M266.4 207.5L270.3 207.9L267.3 206.3L263.4 206.3z" fill="#060790" stroke="#02033a"/>
<path d="M262.5 206L266.4 207.5L263.4 206.3L259.5 205.2z" fill="#070a97" stroke="#03043d"/>
<path d="M258.6 203.2L262.5 206L259.5 205.2L255.6 203z" fill="#0a0f9e" stroke="#04063f"/>
<path d="M254.7 198.8L258.6 203.2L255.6 203L251.7 199.4z" fill="#1219a7" stroke="#070a43"/>
<path d="M250.8 192.8L254.7 198.8L251.7 199.4L247.8 194.4z" fill="#243ac2" stroke="#0f174e"/>
<path d="M246.9 185.1L250.8 192.8L247.8 194.4L243.8 187.8z" fill="#416ce9" stroke="#1a2b5d"/>
<path d="M243 175.8L246.9 185.1L243.8 187.8L239.9 179.9z" fill="#69b7ff" stroke="#2a4966"/>
<path d="M239.1 165.2L243 175.8L239.9 179.9L236 170.8z" fill="#a8ffff" stroke="#436666"/>
<path d="M235.2 153.6L239.1 165.2L236 170.8L232.1 161z" fill="#ffffff" stroke="#666666"/>
<path d="M231.2 141.7L235.2 153.6L232.1 161L228.2 150.9z" fill="#ffffff" stroke="#666666"/>
<path d="M227.3 130.1L231.2 141.7L228.2 150.9L224.3 141.2z" fill="#ffffff" stroke="#666666"/>
<path d="M223.4 119.8L227.3 130.1L224.3 141.2L220.4 132.7z" fill="#ffffff" stroke="#666666"/>
<path d="M219.5 111.9L223.4 119.8L220.4 132.7L216.5 126.3z" fill="#ffffd6" stroke="#666656"/>
<path d="M215.6 107.2L219.5 111.9L216.5 126.3L212.6 122.7z" fill="#fffb7b" stroke="#666431"/>
<path d="M211.7 106.5L215.6 107.2L212.6 122.7L208.7 122.4z" fill="#ffa734" stroke="#664315"/>
<path d="M207.8 110.2L211.7 106.5L208.7 122.4L204.8 125.7z" fill="#fa9919" stroke="#643d0a"/>
<path d="M203.9 117.9L207.8 110.2L204.8 125.7L200.9 132.3z" fill="#f7af16" stroke="#634609"/>
<path d="M200 128.9L203.9 117.9L200.9 132.3L197 141.8z" fill="#f9e318" stroke="#645b0a"/>
<path d="M196.1 142.1L200 128.9L197 141.8L193.1 153.2z" fill="#c8ed33" stroke="#505f14"/>
<path d="M192.2 156.7L196.1 142.1L193.1 153.2L189.2 165.9z" fill="#5fca54" stroke="#265122"/>
<path d="M188.3 171.7L192.2 156.7L189.2 165.9L185.3 179z" fill="#4db18f" stroke="#1f4739"/>
<path d="M184.4 186.2L188.3 171.7L185.3 179L181.4 191.9z" fill="#2a93b0" stroke="#113b46"/>
<path d="M180.5 199.9L184.4 186.2L181.4 191.9L177.5 204z" fill="#165bb2" stroke="#092447"/>
<path d="M176.6 212.2L180.5 199.9L177.5 204L173.6 214.9z" fill="#0f37a8" stroke="#061643"/>
<path d="M172.7 222.9L176.6 212.2L173.6 214.9L169.7 224.5z" fill="#0c20a0" stroke="#050d40"/>
<path d="M168.8 231.9L172.7 222.9L169.7 224.5L165.7 232.5z" fill="#09109a" stroke="#04063e"/>
<path d="M164.9 239.3L168.8 231.9L165.7 232.5L161.8 239.1z" fill="#080d9c" stroke="#03053e"/>
<path d="M161 245.2L164.9 239.3L161.8 239.1L157.9 244.4z" fill="#070999" stroke="#03043d"/>
<path d="M157.1 249.7L161 245.2L157.9 244.4L154 248.4z" fill="#070897" stroke="#03033d"/>
<path d="M153.1 253.1L157.1 249.7L154 248.4L150.1 251.5z" fill="#060696" stroke="#02023c"/>
<path d="M149.2 255.6L153.1 253.1L150.1 251.5L146.2 253.9z" fill="#060696" stroke="#02023c"/>
<path d="M145.3 257.6L149.2 255.6L146.2 253.9L142.3 255.7z" fill="#060696" stroke="#02023c"/>
<path d="M141.4 259.3L145.3 257.6L142.3 255.7L138.4 257.4z" fill="#060696" stroke="#02023c"/>
<path d="M137.5 260.8L141.4 259.3L138.4 257.4L134.5 258.9z" fill="#060696" stroke="#02023c"/>
<path d="M133.6 262.3L137.5 260.8L134.5 258.9L130.6 260.4z" fill="#060696" stroke="#02023c"/>
<path d="M288.9 205.6L292.8 204.1L289.8 202.1L285.9 203.7z" fill="#060696" stroke="#02023c"/>
<path d="M285 207.1L288.9 205.6L285.9 203.7L282 205.1z" fill="#060696" stroke="#02023c"/>
<path d="M281.1 208.4L285 207.1L282 205.1L278.1 206.5z" fill="#060696" stroke="#02023c"/>
<path d="M277.2 209.3L281.1 208.4L278.1 206.5L274.2 207.5z" fill="#060696" stroke="#02023c"/>
<path d="M273.3 209.5L277.2 209.3L274.2 207.5L270.3 207.9z" fill="#060694" stroke="#02023b"/>
<path d="M269.4 208.9L273.3 209.5L270.3 207.9L266.4 207.5z" fill="#06078e" stroke="#020339"/>
<path d="M265.5 207L269.4 208.9L266.4 207.5L262.5 206z" fill="#070a96" stroke="#03043c"/>
<path d="M261.6 203.6L265.5 207L262.5 206L258.6 203.2z" fill="#0a0f9e" stroke="#04063f"/>
<path d="M257.7 198.6L261.6 203.6L258.6 203.2L254.7 198.8z" fill="#121aa8" stroke="#070a43"/>
<path d="M253.8 191.7L257.7 198.6L254.7 198.8L250.8 192.8z" fill="#203dc2" stroke="#0d184d"/>
<path d="M249.9 183L253.8 191.7L250.8 192.8L246.9 185.1z" fill="#3773e6" stroke="#162e5c"/>
<path d="M246 172.5L249.9 183L246.9 185.1L243 175.8z" fill="#55b9ff" stroke="#224a66"/>
<path d="M242.1 160.4L246 172.5L243 175.8L239.1 165.2z" fill="#95ffff" stroke="#3c6666"/>
<path d="M238.2 147.3L242.1 160.4L239.1 165.2L235.2 153.6z" fill="#defff6" stroke="#596662"/>
<path d="M234.3 133.6L238.2 147.3L235.2 153.6L231.2 141.7z" fill="#ffffe9" stroke="#66665d"/>
<path d="M230.4 120.3L234.3 133.6L231.2 141.7L227.3 130.1z" fill="#ffffeb" stroke="#66665e"/>
<path d="M226.5 108.3L230.4 120.3L227.3 130.1L223.4 119.8z" fill="#ffffff" stroke="#666666"/>
<path d="M222.6 98.7L226.5 108.3L223.4 119.8L219.5 111.9z" fill="#fffff7" stroke="#666663"/>
<path d="M218.6 92.9L222.6 98.7L219.5 111.9L215.6 107.2z" fill="#ffd09b" stroke="#66533e"/>
<path d="M214.7 91.8L218.6 92.9L215.6 107.2L211.7 106.5z" fill="#ff623a" stroke="#662717"/>
<path d="M210.8 95.9L214.7 91.8L211.7 106.5L207.8 110.2z" fill="#e84a15" stroke="#5d1d08"/>
<path d="M206.9 104.7L210.8 95.9L207.8 110.2L203.9 117.9z" fill="#ee6d13" stroke="#5f2c08"/>
<path d="M203 117.3L206.9 104.7L203.9 117.9L200 128.9z" fill="#f5a015" stroke="#624008"/>
<path d="M199.1 132.3L203 117.3L200 128.9L196.1 142.1z" fill="#dbc715" stroke="#585009"/>
<path d="M195.2 148.7L199.1 132.3L196.1 142.1L192.2 156.7z" fill="#81c43b" stroke="#344f18"/>
<path d="M191.3 165.4L195.2 148.7L192.2 156.7L188.3 171.7z" fill="#59be6d" stroke="#244c2c"/>
<path d="M187.4 181.5L191.3 165.4L188.3 171.7L184.4 186.2z" fill="#3aafb3" stroke="#174647"/>
<path d="M183.5 196.5L187.4 181.5L184.4 186.2L180.5 199.9z" fill="#1a74b6" stroke="#0b2e49"/>
<path d="M179.6 210L183.5 196.5L180.5 199.9L176.6 212.2z" fill="#1349b3" stroke="#071d48"/>
<path d="M175.7 221.8L179.6 210L176.6 212.2L172.7 222.9z" fill="#0d28a5" stroke="#051042"/>
<path d="M171.8 231.7L175.7 221.8L172.7 222.9L168.8 231.9z" fill="#0a119b" stroke="#04073e"/>
<path d="M167.9 239.7L171.8 231.7L168.8 231.9L164.9 239.3z" fill="#080d9c" stroke="#03053e"/>
<path d="M164 246.1L167.9 239.7L164.9 239.3L161 245.2z" fill="#070999" stroke="#03043d"/>
<path d="M160.1 251L164 246.1L161 245.2L157.1 249.7z" fill="#070897" stroke="#03033d"/>
<path d="M156.2 254.7L160.1 251L157.1 249.7L153.1 253.1z" fill="#060696" stroke="#02023c"/>
<path d="M152.3 257.4L156.2 254.7L153.1 253.1L149.2 255.6z" fill="#060696" stroke="#02023c"/>
<path d="M148.4 259.5L152.3 257.4L149.2 255.6L145.3 257.6z" fill="#060696" stroke="#02023c"/>
<path d="M144.5 261.3L148.4 259.5L145.3 257.6L141.4 259.3z" fill="#060696" stroke="#02023c"/>
<path d="M140.5 262.8L144.5 261.3L141.4 259.3L137.5 260.8z" fill="#060696" stroke="#02023c"/>
<path d="M136.6 264.3L140.5 262.8L137.5 260.8L133.6 262.3z" fill="#060696" stroke="#02023c"/>
<path d="M292 207.6L295.9 206.1L292.8 204.1L288.9 205.6z" fill="#060696" stroke="#02023c"/>
<path d="M288.1 209L292 207.6L288.9 205.6L285 207.1z" fill="#060696" stroke="#02023c"/>
<path d="M284.1 210.3L288.1 209L285 207.1L281.1 208.4z" fill="#060696" stroke="#02023c"/>
<path d="M280.2 211.1L284.1 210.3L281.1 208.4L277.2 209.3z" fill="#060696" stroke="#02023c"/>
<path d="M276.3 211.2L280.2 211.1L277.2 209.3L273.3 209.5z" fill="#060693" stroke="#02023b"/>
<path d="M272.4 210.3L276.3 211.2L273.3 209.5L269.4 208.9z" fill="#06078c" stroke="#020338"/>
<path d="M268.5 208.1L272.4 210.3L269.4 208.9L265.5 207z" fill="#080b97" stroke="#03043c"/>
<path d="M264.6 204.3L268.5 208.1L265.5 207L261.6 203.6z" fill="#0b109f" stroke="#040640"/>
<path d="M260.7 198.8L264.6 204.3L261.6 203.6L257.7 198.6z" fill="#0f17a5" stroke="#060942"/>
<path d="M256.8 191.2L260.7 198.8L257.7 198.6L253.8 191.7z" fill="#1b3ec0" stroke="#0b194d"/>
<path d="M252.9 181.7L256.8 191.2L253.8 191.7L249.9 183z" fill="#2a6edc" stroke="#112c58"/>
<path d="M249 170.3L252.9 181.7L249.9 183L246 172.5z" fill="#48bcec" stroke="#1d4b5e"/>
<path d="M245.1 157.1L249 170.3L246 172.5L242.1 160.4z" fill="#81fde4" stroke="#34655b"/>
<path d="M241.2 142.7L245.1 157.1L242.1 160.4L238.2 147.3z" fill="#aeffa2" stroke="#466641"/>
<path d="M237.3 127.7L241.2 142.7L238.2 147.3L234.3 133.6z" fill="#ffff89" stroke="#666637"/>
<path d="M233.4 112.8L237.3 127.7L234.3 133.6L230.4 120.3z" fill="#ffff9e" stroke="#66663f"/>
<path d="M229.5 99.2L233.4 112.8L230.4 120.3L226.5 108.3z" fill="#ffffcf" stroke="#666653"/>
<path d="M225.6 88.1L229.5 99.2L226.5 108.3L222.6 98.7z" fill="#ffffee" stroke="#66665f"/>
<path d="M221.7 81.1L225.6 88.1L222.6 98.7L218.6 92.9z" fill="#ffc3b7" stroke="#664e49"/>
<path d="M217.8 79.6L221.7 81.1L218.6 92.9L214.7 91.8z" fill="#f35147" stroke="#61211c"/>
<path d="M213.9 84.1L217.8 79.6L214.7 91.8L210.8 95.9z" fill="#c61c10" stroke="#4f0b06"/>
<path d="M210 94.1L213.9 84.1L210.8 95.9L206.9 104.7z" fill="#dd2b10" stroke="#581106"/>
<path d="M206 108.2L210 94.1L206.9 104.7L203 117.3z" fill="#d36011" stroke="#542707"/>
<path d="M202.1 124.8L206 108.2L203 117.3L199.1 132.3z" fill="#d09312" stroke="#533b07"/>
<path d="M198.2 142.7L202.1 124.8L199.1 132.3L195.2 148.7z" fill="#bbce25" stroke="#4b520f"/>
<path d="M194.3 160.8L198.2 142.7L195.2 148.7L191.3 165.4z" fill="#5fca54" stroke="#265122"/>
<path d="M190.4 178.2L194.3 160.8L191.3 165.4L187.4 181.5z" fill="#4ab9a2" stroke="#1e4a41"/>
<path d="M186.5 194.3L190.4 178.2L187.4 181.5L183.5 196.5z" fill="#258eba" stroke="#0f394a"/>
<path d="M182.6 208.8L186.5 194.3L183.5 196.5L179.6 210z" fill="#1453b9" stroke="#08214a"/>
<path d="M178.7 221.3L182.6 208.8L179.6 210L175.7 221.8z" fill="#0e2fab" stroke="#061344"/>
<path d="M174.8 231.9L178.7 221.3L175.7 221.8L171.8 231.7z" fill="#0a129c" stroke="#04073e"/>
<path d="M170.9 240.5L174.8 231.9L171.8 231.7L167.9 239.7z" fill="#090f9d" stroke="#04063f"/>
<path d="M167 247.2L170.9 240.5L167.9 239.7L164 246.1z" fill="#080b9a" stroke="#03043e"/>
<path d="M163.1 252.4L167 247.2L164 246.1L160.1 251z" fill="#070897" stroke="#03033d"/>
<path d="M159.2 256.3L163.1 252.4L160.1 251L156.2 254.7z" fill="#060696" stroke="#02023c"/>
<path d="M155.3 259.2L159.2 256.3L156.2 254.7L152.3 257.4z" fill="#060696" stroke="#02023c"/>
<path d="M151.4 261.4L155.3 259.2L152.3 257.4L148.4 259.5z" fill="#060696" stroke="#02023c"/>
<path d="M147.5 263.2L151.4 261.4L148.4 259.5L144.5 261.3z" fill="#060696" stroke="#02023c"/>
<path d="M143.6 264.8L147.5 263.2L144.5 261.3L140.5 262.8z" fill="#060696" stroke="#02023c"/>
<path d="M139.7 266.3L143.6 264.8L140.5 262.8L136.6 264.3z" fill="#060696" stroke="#02023c"/>
<path d="M295 209.5L298.9 208L295.9 206.1L292 207.6z" fill="#060696" stroke="#02023c"/>
<path d="M291.1 211L295 209.5L292 207.6L288.1 209z" fill="#060696" stroke="#02023c"/>
<path d="M287.2 212.2L291.1 211L288.1 209L284.1 210.3z" fill="#060696" stroke="#02023c"/>
<path d="M283.3 212.9L287.2 212.2L284.1 210.3L280.2 211.1z" fill="#060696" stroke="#02023c"/>
<path d="M279.4 213L283.3 212.9L280.2 211.1L276.3 211.2z" fill="#060692" stroke="#02023b"/>
<path d="M275.5 211.9L279.4 213L276.3 211.2L272.4 210.3z" fill="#06078b" stroke="#020338"/>
<path d="M271.5 209.5L275.5 211.9L272.4 210.3L268.5 208.1z" fill="#080b96" stroke="#03043c"/>
<path d="M267.6 205.5L271.5 209.5L268.5 208.1L264.6 204.3z" fill="#0a109e" stroke="#04063f"/>
<path d="M263.7 199.6L267.6 205.5L264.6 204.3L260.7 198.8z" fill="#0e1da8" stroke="#060c43"/>
<path d="M259.8 191.6L263.7 199.6L260.7 198.8L256.8 191.2z" fill="#1538ba" stroke="#08164a"/>
<path d="M255.9 181.6L259.8 191.6L256.8 191.2L252.9 181.7z" fill="#2271d3" stroke="#0e2d54"/>
<path d="M252 169.6L255.9 181.6L252.9 181.7L249 170.3z" fill="#3fb9da" stroke="#194a57"/>
<path d="M248.1 155.7L252 169.6L249 170.3L245.1 157.1z" fill="#6fe7be" stroke="#2c5c4c"/>
<path d="M244.2 140.5L248.1 155.7L245.1 157.1L241.2 142.7z" fill="#97ff6d" stroke="#3c662c"/>
<path d="M240.3 124.5L244.2 140.5L241.2 142.7L237.3 127.7z" fill="#ffff3f" stroke="#666619"/>
<path d="M236.4 108.6L240.3 124.5L237.3 127.7L233.4 112.8z" fill="#ffcd4e" stroke="#66521f"/>
<path d="M232.5 93.8L236.4 108.6L233.4 112.8L229.5 99.2z" fill="#ff9f6a" stroke="#66402b"/>
<path d="M228.6 81.6L232.5 93.8L229.5 99.2L225.6 88.1z" fill="#ff9e92" stroke="#663f3a"/>
<path d="M224.7 73.5L228.6 81.6L225.6 88.1L221.7 81.1z" fill="#ff9b95" stroke="#663e3b"/>
<path d="M220.8 71.5L224.7 73.5L221.7 81.1L217.8 79.6z" fill="#c94c46" stroke="#511e1c"/>
<path d="M216.9 76.5L220.8 71.5L217.8 79.6L213.9 84.1z" fill="#961009" stroke="#3c0604"/>
<path d="M213 87.6L216.9 76.5L213.9 84.1L210 94.1z" fill="#b2160b" stroke="#470904"/>
<path d="M209.1 102.8L213 87.6L210 94.1L206 108.2z" fill="#c63c0f" stroke="#4f1806"/>
<path d="M205.2 120.6L209.1 102.8L206 108.2L202.1 124.8z" fill="#d98312" stroke="#573407"/>
<path d="M201.3 139.5L205.2 120.6L202.1 124.8L198.2 142.7z" fill="#dfd616" stroke="#595609"/>
<path d="M197.4 158.6L201.3 139.5L198.2 142.7L194.3 160.8z" fill="#70d24a" stroke="#2d541e"/>
<path d="M193.4 176.8L197.4 158.6L194.3 160.8L190.4 178.2z" fill="#53c09c" stroke="#214d3e"/>
<path d="M189.5 193.6L193.4 176.8L190.4 178.2L186.5 194.3z" fill="#2d9ebd" stroke="#123f4c"/>
<path d="M185.6 208.7L189.5 193.6L186.5 194.3L182.6 208.8z" fill="#1761bd" stroke="#09274c"/>
<path d="M181.7 221.7L185.6 208.7L182.6 208.8L178.7 221.3z" fill="#0e30ac" stroke="#061345"/>
<path d="M177.8 232.7L181.7 221.7L178.7 221.3L174.8 231.9z" fill="#0b1aa2" stroke="#040a41"/>
<path d="M173.9 241.6L177.8 232.7L174.8 231.9L170.9 240.5z" fill="#090f9d" stroke="#04063f"/>
<path d="M170 248.7L173.9 241.6L170.9 240.5L167 247.2z" fill="#080b9a" stroke="#03043e"/>
<path d="M166.1 254.1L170 248.7L167 247.2L163.1 252.4z" fill="#070897" stroke="#03033d"/>
<path d="M162.2 258.1L166.1 254.1L163.1 252.4L159.2 256.3z" fill="#060696" stroke="#02023c"/>
<path d="M158.3 261.1L162.2 258.1L159.2 256.3L155.3 259.2z" fill="#060696" stroke="#02023c"/>
<path d="M154.4 263.4L158.3 261.1L155.3 259.2L151.4 261.4z" fill="#060696" stroke="#02023c"/>
<path d="M150.5 265.2L154.4 263.4L151.4 261.4L147.5 263.2z" fill="#060696" stroke="#02023c"/>
<path d="M146.6 266.7L150.5 265.2L147.5 263.2L143.6 264.8z" fill="#060696" stroke="#02023c"/>
<path d="M142.7 268.2L146.6 266.7L143.6 264.8L139.7 266.3z" fill="#060696" stroke="#02023c"/>
<path d="M298 211.5L301.9 210L298.9 208L295 209.5z" fill="#060696" stroke="#02023c"/>
<path d="M294.1 212.9L298 211.5L295 209.5L291.1 211z" fill="#060696" stroke="#02023c"/>
<path d="M290.2 214.1L294.1 212.9L291.1 211L287.2 212.2z" fill="#060696" stroke="#02023c"/>
<path d="M286.3 214.9L290.2 214.1L287.2 212.2L283.3 212.9z" fill="#060696" stroke="#02023c"/>
<path d="M282.4 214.9L286.3 214.9L283.3 212.9L279.4 213z" fill="#060893" stroke="#03033b"/>
<path d="M278.5 213.8L282.4 214.9L279.4 213L275.5 211.9z" fill="#06078b" stroke="#020338"/>
<path d="M274.6 211.3L278.5 213.8L275.5 211.9L271.5 209.5z" fill="#080b96" stroke="#03043c"/>
<path d="M270.7 207.2L274.6 211.3L271.5 209.5L267.6 205.5z" fill="#090f9e" stroke="#04063f"/>
<path d="M266.8 201.2L270.7 207.2L267.6 205.5L263.7 199.6z" fill="#0d1ba6" stroke="#050b43"/>
<path d="M262.9 193.1L266.8 201.2L263.7 199.6L259.8 191.6z" fill="#133ebb" stroke="#08194b"/>
<path d="M258.9 182.9L262.9 193.1L259.8 191.6L255.9 181.6z" fill="#1c6bcd" stroke="#0b2b52"/>
<path d="M255 170.6L258.9 182.9L255.9 181.6L252 169.6z" fill="#36b0d1" stroke="#154654"/>
<path d="M251.1 156.5L255 170.6L252 169.6L248.1 155.7z" fill="#6adda6" stroke="#2a5842"/>
<path d="M247.2 141L251.1 156.5L248.1 155.7L244.2 140.5z" fill="#83f059" stroke="#356024"/>
<path d="M243.3 124.7L247.2 141L244.2 140.5L240.3 124.5z" fill="#ffec22" stroke="#665f0e"/>
<path d="M239.4 108.4L243.3 124.7L240.3 124.5L236.4 108.6z" fill="#ff9421" stroke="#663b0d"/>
<path d="M235.5 93.2L239.4 108.4L236.4 108.6L232.5 93.8z" fill="#f44c24" stroke="#621e0e"/>
<path d="M231.6 80.5L235.5 93.2L232.5 93.8L228.6 81.6z" fill="#d9382d" stroke="#571612"/>
<path d="M227.7 71.9L231.6 80.5L228.6 81.6L224.7 73.5z" fill="#bc3e39" stroke="#4b1917"/>
<path d="M223.8 69.6L227.7 71.9L224.7 73.5L220.8 71.5z" fill="#9b2622" stroke="#3e0f0e"/>
<path d="M219.9 75L223.8 69.6L220.8 71.5L216.9 76.5z" fill="#890b06" stroke="#370502"/>
<path d="M216 86.5L219.9 75L216.9 76.5L213 87.6z" fill="#ad150a" stroke="#450804"/>
<path d="M212.1 102.2L216 86.5L213 87.6L209.1 102.8z" fill="#d1340f" stroke="#541506"/>
<path d="M208.2 120.4L212.1 102.2L209.1 102.8L205.2 120.6z" fill="#e27c12" stroke="#5a3207"/>
<path d="M204.3 139.7L208.2 120.4L205.2 120.6L201.3 139.5z" fill="#e6d116" stroke="#5c5409"/>
<path d="M200.4 159.1L204.3 139.7L201.3 139.5L197.4 158.6z" fill="#72d74c" stroke="#2e561e"/>
<path d="M196.5 177.6L200.4 159.1L197.4 158.6L193.4 176.8z" fill="#5dc895" stroke="#25503b"/>
<path d="M192.6 194.7L196.5 177.6L193.4 176.8L189.5 193.6z" fill="#2ea0c0" stroke="#12404d"/>
<path d="M188.7 210L192.6 194.7L189.5 193.6L185.6 208.7z" fill="#1762bf" stroke="#09274d"/>
<path d="M184.8 223.2L188.7 210L185.6 208.7L181.7 221.7z" fill="#103ab3" stroke="#061748"/>
<path d="M180.8 234.3L184.8 223.2L181.7 221.7L177.8 232.7z" fill="#0b1aa3" stroke="#040a41"/>
<path d="M176.9 243.3L180.8 234.3L177.8 232.7L173.9 241.6z" fill="#090f9d" stroke="#04063f"/>
<path d="M173 250.5L176.9 243.3L173.9 241.6L170 248.7z" fill="#080b9a" stroke="#03043e"/>
<path d="M169.1 255.9L173 250.5L170 248.7L166.1 254.1z" fill="#070897" stroke="#03033d"/>
<path d="M165.2 260L169.1 255.9L166.1 254.1L162.2 258.1z" fill="#070897" stroke="#03033d"/>
<path d="M161.3 263L165.2 260L162.2 258.1L158.3 261.1z" fill="#060696" stroke="#02023c"/>
<path d="M157.4 265.3L161.3 263L158.3 261.1L154.4 263.4z" fill="#060696" stroke="#02023c"/>
<path d="M153.5 267.1L157.4 265.3L154.4 263.4L150.5 265.2z" fill="#060696" stroke="#02023c"/>
<path d="M149.6 268.7L153.5 267.1L150.5 265.2L146.6 266.7z" fill="#060696" stroke="#02023c"/>
<path d="M145.7 270.2L149.6 268.7L146.6 266.7L142.7 268.2z" fill="#060696" stroke="#02023c"/>
<path d="M301 213.5L304.9 212L301.9 210L298 211.5z" fill="#060696" stroke="#02023c"/>
<path d="M297.1 214.9L301 213.5L298 211.5L294.1 212.9z" fill="#060696" stroke="#02023c"/>
<path d="M293.2 216.1L297.1 214.9L294.1 212.9L290.2 214.1z" fill="#060696" stroke="#02023c"/>
<path d="M289.3 216.9L293.2 216.1L290.2 214.1L286.3 214.9z" fill="#060696" stroke="#02023c"/>
<path d="M285.4 216.9L289.3 216.9L286.3 214.9L282.4 214.9z" fill="#060692" stroke="#02023b"/>
<path d="M281.5 215.9L285.4 216.9L282.4 214.9L278.5 213.8z" fill="#06078b" stroke="#020338"/>
<path d="M277.6 213.5L281.5 215.9L278.5 213.8L274.6 211.3z" fill="#070a8d" stroke="#030438"/>
<path d="M273.7 209.4L277.6 213.5L274.6 211.3L270.7 207.2z" fill="#090f9d" stroke="#04063f"/>
<path d="M269.8 203.5L273.7 209.4L270.7 207.2L266.8 201.2z" fill="#0c1aa5" stroke="#050b42"/>
<path d="M265.9 195.6L269.8 203.5L266.8 201.2L262.9 193.1z" fill="#1033b5" stroke="#061448"/>
<path d="M262 185.5L265.9 195.6L262.9 193.1L258.9 182.9z" fill="#1a68ca" stroke="#0a2a51"/>
<path d="M258.1 173.5L262 185.5L258.9 182.9L255 170.6z" fill="#32acce" stroke="#144552"/>
<path d="M254.2 159.6L258.1 173.5L255 170.6L251.1 156.5z" fill="#5dd4ac" stroke="#255545"/>
<path d="M250.2 144.4L254.2 159.6L251.1 156.5L247.2 141z" fill="#7dea53" stroke="#325e21"/>
<path d="M246.3 128.4L250.2 144.4L247.2 141L243.3 124.7z" fill="#fbf11a" stroke="#64600a"/>
<path d="M242.4 112.5L246.3 128.4L243.3 124.7L239.4 108.4z" fill="#f79516" stroke="#633c09"/>
<path d="M238.5 97.7L242.4 112.5L239.4 108.4L235.5 93.2z" fill="#e54612" stroke="#5c1c07"/>
<path d="M234.6 85.5L238.5 97.7L235.5 93.2L231.6 80.5z" fill="#bd190d" stroke="#4c0a05"/>
<path d="M230.7 77.4L234.6 85.5L231.6 80.5L227.7 71.9z" fill="#860d07" stroke="#360503"/>
<path d="M226.8 75.4L230.7 77.4L227.7 71.9L223.8 69.6z" fill="#870d08" stroke="#360503"/>
<path d="M222.9 80.4L226.8 75.4L223.8 69.6L219.9 75z" fill="#971009" stroke="#3c0604"/>
<path d="M219 91.5L222.9 80.4L219.9 75L216 86.5z" fill="#c3190d" stroke="#4e0a05"/>
<path d="M215.1 106.8L219 91.5L216 86.5L212.1 102.2z" fill="#dd4310" stroke="#581b07"/>
<path d="M211.2 124.5L215.1 106.8L212.1 102.2L208.2 120.4z" fill="#ea8d14" stroke="#5d3808"/>
<path d="M207.3 143.5L211.2 124.5L208.2 120.4L204.3 139.7z" fill="#ece318" stroke="#5e5b09"/>
<path d="M203.4 162.5L207.3 143.5L204.3 139.7L200.4 159.1z" fill="#75dc4d" stroke="#2f581f"/>
<path d="M199.5 180.7L203.4 162.5L200.4 159.1L196.5 177.6z" fill="#56c8a2" stroke="#235041"/>
<path d="M195.6 197.6L199.5 180.7L196.5 177.6L192.6 194.7z" fill="#2fa3c3" stroke="#13414e"/>
<path d="M191.7 212.6L195.6 197.6L192.6 194.7L188.7 210z" fill="#1863c2" stroke="#09284e"/>
<path d="M187.8 225.7L191.7 212.6L188.7 210L184.8 223.2z" fill="#0f31b0" stroke="#061446"/>
<path d="M183.9 236.6L187.8 225.7L184.8 223.2L180.8 234.3z" fill="#0b1aa5" stroke="#040a42"/>
<path d="M180 245.6L183.9 236.6L180.8 234.3L176.9 243.3z" fill="#090f9d" stroke="#04063f"/>
<path d="M176.1 252.6L180 245.6L176.9 243.3L173 250.5z" fill="#080b9a" stroke="#03043e"/>
<path d="M172.2 258L176.1 252.6L173 250.5L169.1 255.9z" fill="#070897" stroke="#03033d"/>
<path d="M168.2 262L172.2 258L169.1 255.9L165.2 260z" fill="#060696" stroke="#02023c"/>
<path d="M164.3 265L168.2 262L165.2 260L161.3 263z" fill="#060696" stroke="#02023c"/>
<path d="M160.4 267.3L164.3 265L161.3 263L157.4 265.3z" fill="#060696" stroke="#02023c"/>
<path d="M156.5 269.1L160.4 267.3L157.4 265.3L153.5 267.1z" fill="#060696" stroke="#02023c"/>
<path d="M152.6 270.7L156.5 269.1L153.5 267.1L149.6 268.7z" fill="#060696" stroke="#02023c"/>
<path d="M148.7 272.2L152.6 270.7L149.6 268.7L145.7 270.2z" fill="#060696" stroke="#02023c"/>
<path d="M304 215.4L307.9 213.9L304.9 212L301 213.5z" fill="#060696" stroke="#02023c"/>
<path d="M300.1 216.9L304 215.4L301 213.5L297.1 214.9z" fill="#060696" stroke="#02023c"/>
<path d="M296.2 218.1L300.1 216.9L297.1 214.9L293.2 216.1z" fill="#060696" stroke="#02023c"/>
<path d="M292.3 218.9L296.2 218.1L293.2 216.1L289.3 216.9z" fill="#060696" stroke="#02023c"/>
<path d="M288.4 219L292.3 218.9L289.3 216.9L285.4 216.9z" fill="#060693" stroke="#02023b"/>
<path d="M284.5 218.2L288.4 219L285.4 216.9L281.5 215.9z" fill="#06078d" stroke="#020338"/>
<path d="M280.6 216L284.5 218.2L281.5 215.9L277.6 213.5z" fill="#070a85" stroke="#030435"/>
<path d="M276.7 212.2L280.6 216L277.6 213.5L273.7 209.4z" fill="#080e94" stroke="#03063b"/>
<path d="M272.8 206.6L276.7 212.2L273.7 209.4L269.8 203.5z" fill="#0a12a0" stroke="#040740"/>
<path d="M268.9 199.1L272.8 206.6L269.8 203.5L265.9 195.6z" fill="#0f32b4" stroke="#061448"/>
<path d="M265 189.5L268.9 199.1L265.9 195.6L262 185.5z" fill="#165ac8" stroke="#092450"/>
<path d="M261.1 178.1L265 189.5L262 185.5L258.1 173.5z" fill="#299dcd" stroke="#103f52"/>
<path d="M257.2 165L261.1 178.1L258.1 173.5L254.2 159.6z" fill="#53d0b6" stroke="#215349"/>
<path d="M253.3 150.6L257.2 165L254.2 159.6L250.2 144.4z" fill="#6ce660" stroke="#2b5c26"/>
<path d="M249.4 135.5L253.3 150.6L250.2 144.4L246.3 128.4z" fill="#daef2b" stroke="#576011"/>
<path d="M245.5 120.6L249.4 135.5L246.3 128.4L242.4 112.5z" fill="#f7ae16" stroke="#634609"/>
<path d="M241.6 107L245.5 120.6L242.4 112.5L238.5 97.7z" fill="#e66912" stroke="#5c2a07"/>
<path d="M237.7 96L241.6 107L238.5 97.7L234.6 85.5z" fill="#b0220c" stroke="#460e05"/>
<path d="M233.7 89L237.7 96L234.6 85.5L230.7 77.4z" fill="#941309" stroke="#3b0704"/>
<path d="M229.8 87.4L233.7 89L230.7 77.4L226.8 75.4z" fill="#a2150c" stroke="#410905"/>
<path d="M225.9 92L229.8 87.4L226.8 75.4L222.9 80.4z" fill="#bf1b0f" stroke="#4c0b06"/>
<path d="M222 102L225.9 92L222.9 80.4L219 91.5z" fill="#db2b10" stroke="#581106"/>
<path d="M218.1 116L222 102L219 91.5L215.1 106.8z" fill="#e86a12" stroke="#5d2a07"/>
<path d="M214.2 132.7L218.1 116L215.1 106.8L211.2 124.5z" fill="#eea815" stroke="#5f4308"/>
<path d="M210.3 150.6L214.2 132.7L211.2 124.5L207.3 143.5z" fill="#d0e529" stroke="#535c10"/>
<path d="M206.4 168.6L210.3 150.6L207.3 143.5L203.4 162.5z" fill="#67dc5c" stroke="#295825"/>
<path d="M202.5 186L206.4 168.6L203.4 162.5L199.5 180.7z" fill="#50c7ae" stroke="#205046"/>
<path d="M198.6 202.2L202.5 186L199.5 180.7L195.6 197.6z" fill="#2797c5" stroke="#103c4f"/>
<path d="M194.7 216.6L198.6 202.2L195.6 197.6L191.7 212.6z" fill="#1558c3" stroke="#09234e"/>
<path d="M190.8 229.2L194.7 216.6L191.7 212.6L187.8 225.7z" fill="#0f31b2" stroke="#061447"/>
<path d="M186.9 239.7L190.8 229.2L187.8 225.7L183.9 236.6z" fill="#0a12a0" stroke="#040740"/>
<path d="M183 248.3L186.9 239.7L183.9 236.6L180 245.6z" fill="#090f9d" stroke="#04063f"/>
<path d="M179.1 255.1L183 248.3L180 245.6L176.1 252.6z" fill="#080b9a" stroke="#03043e"/>
<path d="M175.2 260.3L179.1 255.1L176.1 252.6L172.2 258z" fill="#070897" stroke="#03033d"/>
<path d="M171.3 264.2L175.2 260.3L172.2 258L168.2 262z" fill="#060696" stroke="#02023c"/>
<path d="M167.4 267.1L171.3 264.2L168.2 262L164.3 265z" fill="#060696" stroke="#02023c"/>
<path d="M163.5 269.3L167.4 267.1L164.3 265L160.4 267.3z" fill="#060696" stroke="#02023c"/>
<path d="M159.6 271.1L163.5 269.3L160.4 267.3L156.5 269.1z" fill="#060696" stroke="#02023c"/>
<path d="M155.6 272.6L159.6 271.1L156.5 269.1L152.6 270.7z" fill="#060696" stroke="#02023c"/>
<path d="M151.7 274.1L155.6 272.6L152.6 270.7L148.7 272.2z" fill="#060696" stroke="#02023c"/>
<path d="M307.1 217.4L311 215.9L307.9 213.9L304 215.4z" fill="#060696" stroke="#02023c"/>
<path d="M303.1 218.9L307.1 217.4L304 215.4L300.1 216.9z" fill="#060696" stroke="#02023c"/>
<path d="M299.2 220.1L303.1 218.9L300.1 216.9L296.2 218.1z" fill="#060696" stroke="#02023c"/>
<path d="M295.3 221L299.2 220.1L296.2 218.1L292.3 218.9z" fill="#060696" stroke="#02023c"/>
<path d="M291.4 221.3L295.3 221L292.3 218.9L288.4 219z" fill="#060694" stroke="#02023b"/>
<path d="M287.5 220.6L291.4 221.3L288.4 219L284.5 218.2z" fill="#06078e" stroke="#020339"/>
<path d="M283.6 218.7L287.5 220.6L284.5 218.2L280.6 216z" fill="#060887" stroke="#030336"/>
<path d="M279.7 215.4L283.6 218.7L280.6 216L276.7 212.2z" fill="#070b8a" stroke="#030537"/>
<path d="M275.8 210.3L279.7 215.4L276.7 212.2L272.8 206.6z" fill="#0a129f" stroke="#04073f"/>
<path d="M271.9 203.5L275.8 210.3L272.8 206.6L268.9 199.1z" fill="#0e2aaf" stroke="#061146"/>
<path d="M268 194.7L271.9 203.5L268.9 199.1L265 189.5z" fill="#1450c3" stroke="#08204e"/>
<path d="M264.1 184.2L268 194.7L265 189.5L261.1 178.1z" fill="#1e81cc" stroke="#0c3452"/>
<path d="M260.2 172.2L264.1 184.2L261.1 178.1L257.2 165z" fill="#42c8cc" stroke="#1a5052"/>
<path d="M256.3 159.1L260.2 172.2L257.2 165L253.3 150.6z" fill="#68df80" stroke="#2a5933"/>
<path d="M252.4 145.4L256.3 159.1L253.3 150.6L249.4 135.5z" fill="#94e244" stroke="#3b5a1b"/>
<path d="M248.5 132.1L252.4 145.4L249.4 135.5L245.5 120.6z" fill="#d9c515" stroke="#574f08"/>
<path d="M244.6 120L248.5 132.1L245.5 120.6L241.6 107z" fill="#c27f11" stroke="#4e3307"/>
<path d="M240.7 110.5L244.6 120L241.6 107L237.7 96z" fill="#ad4f0e" stroke="#452005"/>
<path d="M236.8 104.7L240.7 110.5L237.7 96L233.7 89z" fill="#b3360d" stroke="#481605"/>
<path d="M232.9 103.6L236.8 104.7L233.7 89L229.8 87.4z" fill="#c1300e" stroke="#4d1306"/>
<path d="M229 107.7L232.9 103.6L229.8 87.4L225.9 92z" fill="#d24010" stroke="#541a06"/>
<path d="M225.1 116.5L229 107.7L225.9 92L222 102z" fill="#e46812" stroke="#5b2a07"/>
<path d="M221.1 129.1L225.1 116.5L222 102L218.1 116z" fill="#ed9b15" stroke="#5f3e08"/>
<path d="M217.2 144.1L221.1 129.1L218.1 116L214.2 132.7z" fill="#f0db18" stroke="#605709"/>
<path d="M213.3 160.5L217.2 144.1L214.2 132.7L210.3 150.6z" fill="#95e344" stroke="#3c5b1b"/>
<path d="M209.4 177.1L213.3 160.5L210.3 150.6L206.4 168.6z" fill="#64d67b" stroke="#285631"/>
<path d="M205.5 193.3L209.4 177.1L206.4 168.6L202.5 186z" fill="#40c1c5" stroke="#1a4d4f"/>
<path d="M201.6 208.3L205.5 193.3L202.5 186L198.6 202.2z" fill="#1d7ec6" stroke="#0b324f"/>
<path d="M197.7 221.8L201.6 208.3L198.6 202.2L194.7 216.6z" fill="#144fc0" stroke="#08204d"/>
<path d="M193.8 233.6L197.7 221.8L194.7 216.6L190.8 229.2z" fill="#0e2aaf" stroke="#051146"/>
<path d="M189.9 243.4L193.8 233.6L190.8 229.2L186.9 239.7z" fill="#0a12a0" stroke="#040740"/>
<path d="M186 251.5L189.9 243.4L186.9 239.7L183 248.3z" fill="#080d9c" stroke="#03053e"/>
<path d="M182.1 257.9L186 251.5L183 248.3L179.1 255.1z" fill="#070999" stroke="#03043d"/>
<path d="M178.2 262.8L182.1 257.9L179.1 255.1L175.2 260.3z" fill="#070898" stroke="#03033d"/>
<path d="M174.3 266.4L178.2 262.8L175.2 260.3L171.3 264.2z" fill="#060696" stroke="#03033c"/>
<path d="M170.4 269.2L174.3 266.4L171.3 264.2L167.4 267.1z" fill="#060696" stroke="#02023c"/>
<path d="M166.5 271.3L170.4 269.2L167.4 267.1L163.5 269.3z" fill="#060696" stroke="#02023c"/>
<path d="M162.6 273L166.5 271.3L163.5 269.3L159.6 271.1z" fill="#060696" stroke="#02023c"/>
<path d="M158.7 274.6L162.6 273L159.6 271.1L155.6 272.6z" fill="#060696" stroke="#02023c"/>
<path d="M154.8 276.1L158.7 274.6L155.6 272.6L151.7 274.1z" fill="#060696" stroke="#02023c"/>
<path d="M310.1 219.4L314 217.8L311 215.9L307.1 217.4z" fill="#060696" stroke="#02023c"/>
<path d="M306.2 220.8L310.1 219.4L307.1 217.4L303.1 218.9z" fill="#060696" stroke="#02023c"/>
<path d="M302.3 222.2L306.2 220.8L303.1 218.9L299.2 220.1z" fill="#060696" stroke="#02023c"/>
<path d="M298.4 223.2L302.3 222.2L299.2 220.1L295.3 221z" fill="#060696" stroke="#02023c"/>
<path d="M294.5 223.6L298.4 223.2L295.3 221L291.4 221.3z" fill="#060696" stroke="#02023c"/>
<path d="M290.6 223.2L294.5 223.6L291.4 221.3L287.5 220.6z" fill="#060791" stroke="#03033a"/>
<path d="M286.6 221.7L290.6 223.2L287.5 220.6L283.6 218.7z" fill="#06088a" stroke="#030337"/>
<path d="M282.7 218.9L286.6 221.7L283.6 218.7L279.7 215.4z" fill="#070b83" stroke="#030434"/>
<path d="M278.8 214.5L282.7 218.9L279.7 215.4L275.8 210.3z" fill="#080e89" stroke="#030637"/>
<path d="M274.9 208.5L278.8 214.5L275.8 210.3L271.9 203.5z" fill="#0b1f9a" stroke="#050c3e"/>
<path d="M271 200.8L274.9 208.5L271.9 203.5L268 194.7z" fill="#0f35a5" stroke="#061542"/>
<path d="M267.1 191.5L271 200.8L268 194.7L264.1 184.2z" fill="#165bb1" stroke="#092447"/>
<path d="M263.2 180.9L267.1 191.5L264.1 184.2L260.2 172.2z" fill="#2b96b3" stroke="#113c48"/>
<path d="M259.3 169.3L263.2 180.9L260.2 172.2L256.3 159.1z" fill="#50b995" stroke="#204a3c"/>
<path d="M255.4 157.4L259.3 169.3L256.3 159.1L252.4 145.4z" fill="#54b44b" stroke="#22481e"/>
<path d="M251.5 145.8L255.4 157.4L252.4 145.4L248.5 132.1z" fill="#8ca624" stroke="#38420e"/>
<path d="M247.6 135.5L251.5 145.8L248.5 132.1L244.6 120z" fill="#b3a312" stroke="#484107"/>
<path d="M243.7 127.6L247.6 135.5L244.6 120L240.7 110.5z" fill="#ba8310" stroke="#4a3507"/>
<path d="M239.8 122.9L243.7 127.6L240.7 110.5L236.8 104.7z" fill="#c47610" stroke="#4f2f07"/>
<path d="M235.9 122.2L239.8 122.9L236.8 104.7L232.9 103.6z" fill="#d17311" stroke="#532e07"/>
<path d="M232 125.9L235.9 122.2L232.9 103.6L229 107.7z" fill="#dd8513" stroke="#583507"/>
<path d="M228.1 133.6L232 125.9L229 107.7L225.1 116.5z" fill="#e6a214" stroke="#5c4108"/>
<path d="M224.2 144.6L228.1 133.6L225.1 116.5L221.1 129.1z" fill="#edd717" stroke="#5f5609"/>
<path d="M220.3 157.8L224.2 144.6L221.1 129.1L217.2 144.1z" fill="#c1e531" stroke="#4d5b14"/>
<path d="M216.4 172.4L220.3 157.8L217.2 144.1L213.3 160.5z" fill="#68de5d" stroke="#2a5925"/>
<path d="M212.5 187.4L216.4 172.4L213.3 160.5L209.4 177.1z" fill="#59cda6" stroke="#235242"/>
<path d="M208.5 201.9L212.5 187.4L209.4 177.1L205.5 193.3z" fill="#30a7c7" stroke="#134350"/>
<path d="M204.6 215.6L208.5 201.9L205.5 193.3L201.6 208.3z" fill="#1865c6" stroke="#0a284f"/>
<path d="M200.7 227.9L204.6 215.6L201.6 208.3L197.7 221.8z" fill="#113cb8" stroke="#07184a"/>
<path d="M196.8 238.6L200.7 227.9L197.7 221.8L193.8 233.6z" fill="#0d22aa" stroke="#050e44"/>
<path d="M192.9 247.6L196.8 238.6L193.8 233.6L189.9 243.4z" fill="#09109f" stroke="#04073f"/>
<path d="M189 255L192.9 247.6L189.9 243.4L186 251.5z" fill="#080d9c" stroke="#03053e"/>
<path d="M185.1 260.9L189 255L186 251.5L182.1 257.9z" fill="#070a99" stroke="#03043d"/>
<path d="M181.2 265.4L185.1 260.9L182.1 257.9L178.2 262.8z" fill="#070898" stroke="#03033d"/>
<path d="M177.3 268.8L181.2 265.4L178.2 262.8L174.3 266.4z" fill="#070797" stroke="#03033c"/>
<path d="M173.4 271.3L177.3 268.8L174.3 266.4L170.4 269.2z" fill="#060696" stroke="#03033c"/>
<path d="M169.5 273.3L173.4 271.3L170.4 269.2L166.5 271.3z" fill="#060696" stroke="#02023c"/>
<path d="M165.6 275L169.5 273.3L166.5 271.3L162.6 273z" fill="#060696" stroke="#02023c"/>
<path d="M161.7 276.5L165.6 275L162.6 273L158.7 274.6z" fill="#060696" stroke="#02023c"/>
<path d="M157.8 278.1L161.7 276.5L158.7 274.6L154.8 276.1z" fill="#060696" stroke="#02023c"/>
<path d="M313.1 221.3L317 219.8L314 217.8L310.1 219.4z" fill="#060696" stroke="#02023c"/>
<path d="M309.2 222.8L313.1 221.3L310.1 219.4L306.2 220.8z" fill="#060696" stroke="#02023c"/>
<path d="M305.3 224.2L309.2 222.8L306.2 220.8L302.3 222.2z" fill="#060696" stroke="#02023c"/>
<path d="M301.4 225.3L305.3 224.2L302.3 222.2L298.4 223.2z" fill="#060696" stroke="#02023c"/>
<path d="M297.5 226L301.4 225.3L298.4 223.2L294.5 223.6z" fill="#060696" stroke="#02023c"/>
<path d="M293.6 225.9L297.5 226L294.5 223.6L290.6 223.2z" fill="#060893" stroke="#03033b"/>
<path d="M289.7 224.9L293.6 225.9L290.6 223.2L286.6 221.7z" fill="#07098d" stroke="#030338"/>
<path d="M285.8 222.6L289.7 224.9L286.6 221.7L282.7 218.9z" fill="#070a86" stroke="#030436"/>
<path d="M281.9 219.1L285.8 222.6L282.7 218.9L278.8 214.5z" fill="#070c80" stroke="#030533"/>
<path d="M277.9 214L281.9 219.1L278.8 214.5L274.9 208.5z" fill="#080e7b" stroke="#030631"/>
<path d="M274 207.5L277.9 214L274.9 208.5L271 200.8z" fill="#0a1f81" stroke="#040c34"/>
<path d="M270.1 199.5L274 207.5L271 200.8L267.1 191.5z" fill="#0f3a8c" stroke="#061738"/>
<path d="M266.2 190.5L270.1 199.5L267.1 191.5L263.2 180.9z" fill="#155b90" stroke="#08253a"/>
<path d="M262.3 180.6L266.2 190.5L263.2 180.9L259.3 169.3z" fill="#298390" stroke="#10343a"/>
<path d="M258.4 170.5L262.3 180.6L259.3 169.3L255.4 157.4z" fill="#419679" stroke="#1a3c31"/>
<path d="M254.5 160.8L258.4 170.5L255.4 157.4L251.5 145.8z" fill="#4ea645" stroke="#1f431c"/>
<path d="M250.6 152.4L254.5 160.8L251.5 145.8L247.6 135.5z" fill="#73af35" stroke="#2e4615"/>
<path d="M246.7 145.9L250.6 152.4L247.6 135.5L243.7 127.6z" fill="#a9b921" stroke="#434a0d"/>
<path d="M242.8 142.3L246.7 145.9L243.7 127.6L239.8 122.9z" fill="#cbc314" stroke="#514e08"/>
<path d="M238.9 142L242.8 142.3L239.8 122.9L235.9 122.2z" fill="#d4c115" stroke="#554d08"/>
<path d="M235 145.3L238.9 142L235.9 122.2L232 125.9z" fill="#ded516" stroke="#595509"/>
<path d="M231.1 151.9L235 145.3L232 125.9L228.1 133.6z" fill="#c8db27" stroke="#505810"/>
<path d="M227.2 161.4L231.1 151.9L228.1 133.6L224.2 144.6z" fill="#91dd43" stroke="#3a581b"/>
<path d="M223.3 172.9L227.2 161.4L224.2 144.6L220.3 157.8z" fill="#67db5b" stroke="#295825"/>
<path d="M219.4 185.6L223.3 172.9L220.3 157.8L216.4 172.4z" fill="#58cba5" stroke="#235142"/>
<path d="M215.5 198.7L219.4 185.6L216.4 172.4L212.5 187.4z" fill="#38b4c6" stroke="#16484f"/>
<path d="M211.6 211.5L215.5 198.7L212.5 187.4L208.5 201.9z" fill="#1d7ec8" stroke="#0c3350"/>
<path d="M207.7 223.6L211.6 211.5L208.5 201.9L204.6 215.6z" fill="#144fc1" stroke="#08204d"/>
<path d="M203.8 234.5L207.7 223.6L204.6 215.6L200.7 227.9z" fill="#0e2aaf" stroke="#061146"/>
<path d="M199.9 244.1L203.8 234.5L200.7 227.9L196.8 238.6z" fill="#0a12a0" stroke="#040740"/>
<path d="M195.9 252.2L199.9 244.1L196.8 238.6L192.9 247.6z" fill="#090f9d" stroke="#04063f"/>
<path d="M192 258.8L195.9 252.2L192.9 247.6L189 255z" fill="#080c9b" stroke="#03053e"/>
<path d="M188.1 264L192 258.8L189 255L185.1 260.9z" fill="#080a9a" stroke="#03043e"/>
<path d="M184.2 268L188.1 264L185.1 260.9L181.2 265.4z" fill="#080999" stroke="#03043d"/>
<path d="M180.3 271.1L184.2 268L181.2 265.4L177.3 268.8z" fill="#070797" stroke="#03033c"/>
<path d="M176.4 273.5L180.3 271.1L177.3 268.8L173.4 271.3z" fill="#060696" stroke="#03033c"/>
<path d="M172.5 275.4L176.4 273.5L173.4 271.3L169.5 273.3z" fill="#060696" stroke="#02023c"/>
<path d="M168.6 277L172.5 275.4L169.5 273.3L165.6 275z" fill="#060696" stroke="#02023c"/>
<path d="M164.7 278.5L168.6 277L165.6 275L161.7 276.5z" fill="#060696" stroke="#02023c"/>
<path d="M160.8 280L164.7 278.5L161.7 276.5L157.8 278.1z" fill="#060696" stroke="#02023c"/>
<path d="M316.1 223.3L320 221.8L317 219.8L313.1 221.3z" fill="#060696" stroke="#02023c"/>
<path d="M312.2 224.8L316.1 223.3L313.1 221.3L309.2 222.8z" fill="#060696" stroke="#02023c"/>
<path d="M308.3 226.2L312.2 224.8L309.2 222.8L305.3 224.2z" fill="#060696" stroke="#02023c"/>
<path d="M304.4 227.5L308.3 226.2L305.3 224.2L301.4 225.3z" fill="#060696" stroke="#02023c"/>
<path d="M300.5 228.3L304.4 227.5L301.4 225.3L297.5 226z" fill="#060696" stroke="#02023c"/>
<path d="M296.6 228.6L300.5 228.3L297.5 226L293.6 225.9z" fill="#060695" stroke="#02023b"/>
<path d="M292.7 228L296.6 228.6L293.6 225.9L289.7 224.9z" fill="#060790" stroke="#020339"/>
<path d="M288.8 226.4L292.7 228L289.7 224.9L285.8 222.6z" fill="#060889" stroke="#030337"/>
<path d="M284.9 223.7L288.8 226.4L285.8 222.6L281.9 219.1z" fill="#070b84" stroke="#030435"/>
<path d="M281 219.7L284.9 223.7L281.9 219.1L277.9 214z" fill="#080d7f" stroke="#030533"/>
<path d="M277.1 214.4L281 219.7L277.9 214L274 207.5z" fill="#09147f" stroke="#030833"/>
<path d="M273.2 207.9L277.1 214.4L274 207.5L270.1 199.5z" fill="#0d2d8a" stroke="#051237"/>
<path d="M269.3 200.4L273.2 207.9L270.1 199.5L266.2 190.5z" fill="#104293" stroke="#061b3b"/>
<path d="M265.4 192.3L269.3 200.4L266.2 190.5L262.3 180.6z" fill="#165f95" stroke="#09263c"/>
<path d="M261.4 184.1L265.4 192.3L262.3 180.6L258.4 170.5z" fill="#2a8997" stroke="#11373c"/>
<path d="M257.5 176.2L261.4 184.1L258.4 170.5L254.5 160.8z" fill="#459e80" stroke="#1b3f33"/>
<path d="M253.6 169.5L257.5 176.2L254.5 160.8L250.6 152.4z" fill="#50ab62" stroke="#204427"/>
<path d="M249.7 164.4L253.6 169.5L250.6 152.4L246.7 145.9z" fill="#56b64c" stroke="#22491e"/>
<path d="M245.8 161.8L249.7 164.4L246.7 145.9L242.8 142.3z" fill="#66c043" stroke="#294d1b"/>
<path d="M241.9 161.8L245.8 161.8L242.8 142.3L238.9 142z" fill="#6ac746" stroke="#2a501c"/>
<path d="M238 164.8L241.9 161.8L238.9 142L235 145.3z" fill="#6ece49" stroke="#2c521d"/>
<path d="M234.1 170.5L238 164.8L235 145.3L231.1 151.9z" fill="#62d258" stroke="#275423"/>
<path d="M230.2 178.5L234.1 170.5L231.1 151.9L227.2 161.4z" fill="#61cf77" stroke="#275330"/>
<path d="M226.3 188.3L230.2 178.5L227.2 161.4L223.3 172.9z" fill="#57c8a2" stroke="#235041"/>
<path d="M222.4 199.1L226.3 188.3L223.3 172.9L219.4 185.6z" fill="#37b2c5" stroke="#16474f"/>
<path d="M218.5 210.4L222.4 199.1L219.4 185.6L215.5 198.7z" fill="#1d7ec6" stroke="#0c324f"/>
<path d="M214.6 221.5L218.5 210.4L215.5 198.7L211.6 211.5z" fill="#1659c5" stroke="#09234f"/>
<path d="M210.7 231.9L214.6 221.5L211.6 211.5L207.7 223.6z" fill="#113cb9" stroke="#07184a"/>
<path d="M206.8 241.4L210.7 231.9L207.7 223.6L203.8 234.5z" fill="#0b1aa5" stroke="#050a42"/>
<path d="M202.9 249.8L206.8 241.4L203.8 234.5L199.9 244.1z" fill="#0a119f" stroke="#040740"/>
<path d="M199 256.8L202.9 249.8L199.9 244.1L195.9 252.2z" fill="#090e9c" stroke="#04053f"/>
<path d="M195.1 262.6L199 256.8L195.9 252.2L192 258.8z" fill="#090b9b" stroke="#04053e"/>
<path d="M191.2 267.1L195.1 262.6L192 258.8L188.1 264z" fill="#0a0b9b" stroke="#04043e"/>
<path d="M187.2 270.7L191.2 267.1L188.1 264L184.2 268z" fill="#090999" stroke="#04043d"/>
<path d="M183.3 273.5L187.2 270.7L184.2 268L180.3 271.1z" fill="#070797" stroke="#03033c"/>
<path d="M179.4 275.6L183.3 273.5L180.3 271.1L176.4 273.5z" fill="#060696" stroke="#03033c"/>
<path d="M175.5 277.4L179.4 275.6L176.4 273.5L172.5 275.4z" fill="#060696" stroke="#02023c"/>
<path d="M171.6 279L175.5 277.4L172.5 275.4L168.6 277z" fill="#060696" stroke="#02023c"/>
<path d="M167.7 280.5L171.6 279L168.6 277L164.7 278.5z" fill="#060696" stroke="#02023c"/>
<path d="M163.8 282L167.7 280.5L164.7 278.5L160.8 280z" fill="#060696" stroke="#02023c"/>
<path d="M319.1 225.2L323 223.7L320 221.8L316.1 223.3z" fill="#060696" stroke="#02023c"/>
<path d="M315.2 226.7L319.1 225.2L316.1 223.3L312.2 224.8z" fill="#060696" stroke="#02023c"/>
<path d="M311.3 228.2L315.2 226.7L312.2 224.8L308.3 226.2z" fill="#060696" stroke="#02023c"/>
<path d="M307.4 229.6L311.3 228.2L308.3 226.2L304.4 227.5z" fill="#060696" stroke="#02023c"/>
<path d="M303.5 230.6L307.4 229.6L304.4 227.5L300.5 228.3z" fill="#060696" stroke="#02023c"/>
<path d="M299.6 231.2L303.5 230.6L300.5 228.3L296.6 228.6z" fill="#060696" stroke="#02023c"/>
<path d="M295.7 231.1L299.6 231.2L296.6 228.6L292.7 228z" fill="#060893" stroke="#03033b"/>
<path d="M291.8 230.2L295.7 231.1L292.7 228L288.8 226.4z" fill="#07098e" stroke="#030439"/>
<path d="M287.9 228.3L291.8 230.2L288.8 226.4L284.9 223.7z" fill="#070a88" stroke="#030436"/>
<path d="M284 225.3L287.9 228.3L284.9 223.7L281 219.7z" fill="#070c84" stroke="#030535"/>
<path d="M280.1 221.2L284 225.3L281 219.7L277.1 214.4z" fill="#080e81" stroke="#030634"/>
<path d="M276.2 216.1L280.1 221.2L277.1 214.4L273.2 207.9z" fill="#0a1b85" stroke="#040b35"/>
<path d="M272.3 210.3L276.2 216.1L273.2 207.9L269.3 200.4z" fill="#0d2e8e" stroke="#051239"/>
<path d="M268.4 203.9L272.3 210.3L269.3 200.4L265.4 192.3z" fill="#114598" stroke="#071b3d"/>
<path d="M264.5 197.4L268.4 203.9L265.4 192.3L261.4 184.1z" fill="#17639c" stroke="#09273e"/>
<path d="M260.6 191.3L264.5 197.4L261.4 184.1L257.5 176.2z" fill="#26849e" stroke="#0f353f"/>
<path d="M256.7 186.1L260.6 191.3L257.5 176.2L253.6 169.5z" fill="#349ea1" stroke="#153f40"/>
<path d="M252.8 182.3L256.7 186.1L253.6 169.5L249.7 164.4z" fill="#43a894" stroke="#1b433b"/>
<path d="M248.8 180.4L252.8 182.3L249.7 164.4L245.8 161.8z" fill="#4cb08f" stroke="#1f4739"/>
<path d="M244.9 180.8L248.8 180.4L245.8 161.8L241.9 161.8z" fill="#56b98a" stroke="#224a37"/>
<path d="M241 183.5L244.9 180.8L241.9 161.8L238 164.8z" fill="#51bb98" stroke="#204b3d"/>
<path d="M237.1 188.3L241 183.5L238 164.8L234.1 170.5z" fill="#4cbda6" stroke="#1e4c42"/>
<path d="M233.2 195.1L237.1 188.3L234.1 170.5L230.2 178.5z" fill="#3ebabe" stroke="#194b4c"/>
<path d="M229.3 203.3L233.2 195.1L230.2 178.5L226.3 188.3z" fill="#2fa2c2" stroke="#13414e"/>
<path d="M225.4 212.4L229.3 203.3L226.3 188.3L222.4 199.1z" fill="#1d7dc5" stroke="#0b324f"/>
<path d="M221.5 221.9L225.4 212.4L222.4 199.1L218.5 210.4z" fill="#1658c4" stroke="#09234e"/>
<path d="M217.6 231.3L221.5 221.9L218.5 210.4L214.6 221.5z" fill="#113cb8" stroke="#07184a"/>
<path d="M213.7 240.2L217.6 231.3L214.6 221.5L210.7 231.9z" fill="#0d22aa" stroke="#050e44"/>
<path d="M209.8 248.3L213.7 240.2L210.7 231.9L206.8 241.4z" fill="#0b13a1" stroke="#040740"/>
<path d="M205.9 255.4L209.8 248.3L206.8 241.4L202.9 249.8z" fill="#0b109f" stroke="#040740"/>
<path d="M202 261.4L205.9 255.4L202.9 249.8L199 256.8z" fill="#0c0f9e" stroke="#05063f"/>
<path d="M198.1 266.3L202 261.4L199 256.8L195.1 262.6z" fill="#0e10a0" stroke="#060740"/>
<path d="M194.2 270.2L198.1 266.3L195.1 262.6L191.2 267.1z" fill="#0e0f9e" stroke="#05063f"/>
<path d="M190.3 273.3L194.2 270.2L191.2 267.1L187.2 270.7z" fill="#0a0a9a" stroke="#04043d"/>
<path d="M186.4 275.8L190.3 273.3L187.2 270.7L183.3 273.5z" fill="#070797" stroke="#03033c"/>
<path d="M182.5 277.7L186.4 275.8L183.3 273.5L179.4 275.6z" fill="#060696" stroke="#02023c"/>
<path d="M178.6 279.4L182.5 277.7L179.4 275.6L175.5 277.4z" fill="#060696" stroke="#02023c"/>
<path d="M174.7 280.9L178.6 279.4L175.5 277.4L171.6 279z" fill="#060696" stroke="#02023c"/>
<path d="M170.7 282.4L174.7 280.9L171.6 279L167.7 280.5z" fill="#060696" stroke="#02023c"/>
<path d="M166.8 283.9L170.7 282.4L167.7 280.5L163.8 282z" fill="#060696" stroke="#02023c"/>
<path d="M322.2 227.2L326.1 225.7L323 223.7L319.1 225.2z" fill="#060696" stroke="#02023c"/>
<path d="M318.2 228.7L322.2 227.2L319.1 225.2L315.2 226.7z" fill="#060696" stroke="#02023c"/>
<path d="M314.3 230.2L318.2 228.7L315.2 226.7L311.3 228.2z" fill="#060696" stroke="#02023c"/>
<path d="M310.4 231.6L314.3 230.2L311.3 228.2L307.4 229.6z" fill="#060696" stroke="#02023c"/>
<path d="M306.5 232.8L310.4 231.6L307.4 229.6L303.5 230.6z" fill="#060696" stroke="#02023c"/>
<path d="M302.6 233.7L306.5 232.8L303.5 230.6L299.6 231.2z" fill="#060696" stroke="#02023c"/>
<path d="M298.7 234.1L302.6 233.7L299.6 231.2L295.7 231.1z" fill="#060695" stroke="#02023c"/>
<path d="M294.8 233.7L298.7 234.1L295.7 231.1L291.8 230.2z" fill="#060792" stroke="#03033a"/>
<path d="M290.9 232.6L294.8 233.7L291.8 230.2L287.9 228.3z" fill="#07098d" stroke="#030338"/>
<path d="M287 230.6L290.9 232.6L287.9 228.3L284 225.3z" fill="#070a88" stroke="#030436"/>
<path d="M283.1 227.7L287 230.6L284 225.3L280.1 221.2z" fill="#070c85" stroke="#030535"/>
<path d="M279.2 224L283.1 227.7L280.1 221.2L276.2 216.1z" fill="#080f83" stroke="#030634"/>
<path d="M275.3 219.6L279.2 224L276.2 216.1L272.3 210.3z" fill="#0a1b88" stroke="#040b36"/>
<path d="M271.4 214.8L275.3 219.6L272.3 210.3L268.4 203.9z" fill="#0d3093" stroke="#05133b"/>
<path d="M267.5 209.9L271.4 214.8L268.4 203.9L264.5 197.4z" fill="#10409b" stroke="#06193e"/>
<path d="M263.6 205.4L267.5 209.9L264.5 197.4L260.6 191.3z" fill="#1452a1" stroke="#082140"/>
<path d="M259.7 201.6L263.6 205.4L260.6 191.3L256.7 186.1z" fill="#1869a6" stroke="#0a2a42"/>
<path d="M255.8 198.9L259.7 201.6L256.7 186.1L252.8 182.3z" fill="#2282aa" stroke="#0d3444"/>
<path d="M251.9 197.8L255.8 198.9L252.8 182.3L248.8 180.4z" fill="#2a91ae" stroke="#113a46"/>
<path d="M248 198.3L251.9 197.8L248.8 180.4L244.9 180.8z" fill="#2b95b2" stroke="#113c47"/>
<path d="M244.1 200.8L248 198.3L244.9 180.8L241 183.5z" fill="#2c99b7" stroke="#123d49"/>
<path d="M240.2 204.9L244.1 200.8L241 183.5L237.1 188.3z" fill="#258fbb" stroke="#0f394b"/>
<path d="M236.2 210.6L240.2 204.9L237.1 188.3L233.2 195.1z" fill="#1c79bf" stroke="#0b304c"/>
<path d="M232.3 217.4L236.2 210.6L233.2 195.1L229.3 203.3z" fill="#1863c0" stroke="#09274d"/>
<path d="M228.4 225L232.3 217.4L229.3 203.3L225.4 212.4z" fill="#144ebe" stroke="#081f4c"/>
<path d="M224.5 232.9L228.4 225L225.4 212.4L221.5 221.9z" fill="#113cb7" stroke="#071849"/>
<path d="M220.6 240.7L224.5 232.9L221.5 221.9L217.6 231.3z" fill="#0e23ab" stroke="#060e45"/>
<path d="M216.7 248L220.6 240.7L217.6 231.3L213.7 240.2z" fill="#0c14a2" stroke="#050841"/>
<path d="M212.8 254.8L216.7 248L213.7 240.2L209.8 248.3z" fill="#0e13a2" stroke="#050841"/>
<path d="M208.9 260.7L212.8 254.8L209.8 248.3L205.9 255.4z" fill="#1115a4" stroke="#070842"/>
<path d="M205 265.7L208.9 260.7L205.9 255.4L202 261.4z" fill="#1719a9" stroke="#090a43"/>
<path d="M201.1 269.9L205 265.7L202 261.4L198.1 266.3z" fill="#1718a8" stroke="#090a43"/>
<path d="M197.2 273.2L201.1 269.9L198.1 266.3L194.2 270.2z" fill="#1010a0" stroke="#060640"/>
<path d="M193.3 275.9L197.2 273.2L194.2 270.2L190.3 273.3z" fill="#090999" stroke="#04043d"/>
<path d="M189.4 278L193.3 275.9L190.3 273.3L186.4 275.8z" fill="#070797" stroke="#03033c"/>
<path d="M185.5 279.8L189.4 278L186.4 275.8L182.5 277.7z" fill="#060696" stroke="#02023c"/>
<path d="M181.6 281.4L185.5 279.8L182.5 277.7L178.6 279.4z" fill="#060696" stroke="#02023c"/>
<path d="M177.7 282.9L181.6 281.4L178.6 279.4L174.7 280.9z" fill="#060696" stroke="#02023c"/>
<path d="M173.8 284.4L177.7 282.9L174.7 280.9L170.7 282.4z" fill="#060696" stroke="#02023c"/>
<path d="M169.9 285.9L173.8 284.4L170.7 282.4L166.8 283.9z" fill="#060696" stroke="#02023c"/>
<path d="M325.2 229.2L329.1 227.7L326.1 225.7L322.2 227.2z" fill="#060696" stroke="#02023c"/>
<path d="M321.3 230.7L325.2 229.2L322.2 227.2L318.2 228.7z" fill="#060696" stroke="#02023c"/>
<path d="M317.4 232.2L321.3 230.7L318.2 228.7L314.3 230.2z" fill="#060696" stroke="#02023c"/>
<path d="M313.5 233.6L317.4 232.2L314.3 230.2L310.4 231.6z" fill="#060696" stroke="#02023c"/>
<path d="M309.6 235L313.5 233.6L310.4 231.6L306.5 232.8z" fill="#060696" stroke="#02023c"/>
<path d="M305.7 236.1L309.6 235L306.5 232.8L302.6 233.7z" fill="#060696" stroke="#02023c"/>
<path d="M301.7 236.8L305.7 236.1L302.6 233.7L298.7 234.1z" fill="#060696" stroke="#02023c"/>
<path d="M297.8 237L301.7 236.8L298.7 234.1L294.8 233.7z" fill="#070896" stroke="#03033c"/>
<path d="M293.9 236.6L297.8 237L294.8 233.7L290.9 232.6z" fill="#060791" stroke="#03033a"/>
<path d="M290 235.5L293.9 236.6L290.9 232.6L287 230.6z" fill="#07098d" stroke="#030338"/>
<path d="M286.1 233.7L290 235.5L287 230.6L283.1 227.7z" fill="#070a89" stroke="#030437"/>
<path d="M282.2 231.2L286.1 233.7L283.1 227.7L279.2 224z" fill="#080d87" stroke="#030536"/>
<path d="M278.3 228.1L282.2 231.2L279.2 224L275.3 219.6z" fill="#080f86" stroke="#030636"/>
<path d="M274.4 224.8L278.3 228.1L275.3 219.6L271.4 214.8z" fill="#091689" stroke="#040937"/>
<path d="M270.5 221.3L274.4 224.8L271.4 214.8L267.5 209.9z" fill="#0b2390" stroke="#050e3a"/>
<path d="M266.6 218.1L270.5 221.3L267.5 209.9L263.6 205.4z" fill="#0e3299" stroke="#06143d"/>
<path d="M262.7 215.5L266.6 218.1L263.6 205.4L259.7 201.6z" fill="#1143a3" stroke="#071b41"/>
<path d="M258.8 213.8L262.7 215.5L259.7 201.6L255.8 198.9z" fill="#134daa" stroke="#071f44"/>
<path d="M254.9 213.3L258.8 213.8L255.8 198.9L251.9 197.8z" fill="#1559af" stroke="#092446"/>
<path d="M251 214.1L254.9 213.3L251.9 197.8L248 198.3z" fill="#165bb2" stroke="#092447"/>
<path d="M247.1 216.3L251 214.1L248 198.3L244.1 200.8z" fill="#165db6" stroke="#092549"/>
<path d="M243.2 219.8L247.1 216.3L244.1 200.8L240.2 204.9z" fill="#1553b9" stroke="#08214a"/>
<path d="M239.3 224.6L243.2 219.8L240.2 204.9L236.2 210.6z" fill="#144cb9" stroke="#081e4a"/>
<path d="M235.4 230.2L239.3 224.6L236.2 210.6L232.3 217.4z" fill="#113bb3" stroke="#071848"/>
<path d="M231.5 236.4L235.4 230.2L232.3 217.4L228.4 225z" fill="#102bae" stroke="#061145"/>
<path d="M227.6 242.8L231.5 236.4L228.4 225L224.5 232.9z" fill="#0f1ea8" stroke="#060c43"/>
<path d="M223.6 249.2L227.6 242.8L224.5 232.9L220.6 240.7z" fill="#1119a7" stroke="#070a43"/>
<path d="M219.7 255.2L223.6 249.2L220.6 240.7L216.7 248z" fill="#161caa" stroke="#090b44"/>
<path d="M215.8 260.7L219.7 255.2L216.7 248L212.8 254.8z" fill="#1f23b2" stroke="#0c0e47"/>
<path d="M211.9 265.6L215.8 260.7L212.8 254.8L208.9 260.7z" fill="#2a2cbc" stroke="#11124b"/>
<path d="M208 269.7L211.9 265.6L208.9 260.7L205 265.7z" fill="#2b2cbc" stroke="#11124b"/>
<path d="M204.1 273.2L208 269.7L205 265.7L201.1 269.9z" fill="#1e20af" stroke="#0c0d46"/>
<path d="M200.2 276L204.1 273.2L201.1 269.9L197.2 273.2z" fill="#0f0f9f" stroke="#060640"/>
<path d="M196.3 278.2L200.2 276L197.2 273.2L193.3 275.9z" fill="#080898" stroke="#03033d"/>
<path d="M192.4 280.1L196.3 278.2L193.3 275.9L189.4 278z" fill="#060696" stroke="#03033c"/>
<path d="M188.5 281.8L192.4 280.1L189.4 278L185.5 279.8z" fill="#060696" stroke="#02023c"/>
<path d="M184.6 283.3L188.5 281.8L185.5 279.8L181.6 281.4z" fill="#060696" stroke="#02023c"/>
<path d="M180.7 284.9L184.6 283.3L181.6 281.4L177.7 282.9z" fill="#060696" stroke="#02023c"/>
<path d="M176.8 286.4L180.7 284.9L177.7 282.9L173.8 284.4z" fill="#060696" stroke="#02023c"/>
<path d="M172.9 287.9L176.8 286.4L173.8 284.4L169.9 285.9z" fill="#060696" stroke="#02023c"/>
<path d="M328.2 231.1L332.1 229.6L329.1 227.7L325.2 229.2z" fill="#060696" stroke="#02023c"/>
<path d="M324.3 232.6L328.2 231.1L325.2 229.2L321.3 230.7z" fill="#060696" stroke="#02023c"/>
<path d="M320.4 234.1L324.3 232.6L321.3 230.7L317.4 232.2z" fill="#060696" stroke="#02023c"/>
<path d="M316.5 235.6L320.4 234.1L317.4 232.2L313.5 233.6z" fill="#060696" stroke="#02023c"/>
<path d="M312.6 237.1L316.5 235.6L313.5 233.6L309.6 235z" fill="#060696" stroke="#02023c"/>
<path d="M308.7 238.4L312.6 237.1L309.6 235L305.7 236.1z" fill="#060696" stroke="#02023c"/>
<path d="M304.8 239.4L308.7 238.4L305.7 236.1L301.7 236.8z" fill="#060696" stroke="#02023c"/>
<path d="M300.9 240L304.8 239.4L301.7 236.8L297.8 237z" fill="#060696" stroke="#02023c"/>
<path d="M297 240.2L300.9 240L297.8 237L293.9 236.6z" fill="#070896" stroke="#03033c"/>
<path d="M293.1 239.9L297 240.2L293.9 236.6L290 235.5z" fill="#060791" stroke="#03033a"/>
<path d="M289.1 239L293.1 239.9L290 235.5L286.1 233.7z" fill="#07098e" stroke="#030439"/>
<path d="M285.2 237.5L289.1 239L286.1 233.7L282.2 231.2z" fill="#070a8b" stroke="#030438"/>
<path d="M281.3 235.7L285.2 237.5L282.2 231.2L278.3 228.1z" fill="#080d8b" stroke="#030537"/>
<path d="M277.4 233.5L281.3 235.7L278.3 228.1L274.4 224.8z" fill="#080e8a" stroke="#030637"/>
<path d="M273.5 231.3L277.4 233.5L274.4 224.8L270.5 221.3z" fill="#09108a" stroke="#030637"/>
<path d="M269.6 229.3L273.5 231.3L270.5 221.3L266.6 218.1z" fill="#0b1d92" stroke="#040c3b"/>
<path d="M265.7 227.7L269.6 229.3L266.6 218.1L262.7 215.5z" fill="#0c2498" stroke="#050f3d"/>
<path d="M261.8 226.8L265.7 227.7L262.7 215.5L258.8 213.8z" fill="#0d2c9e" stroke="#05123f"/>
<path d="M257.9 226.8L261.8 226.8L258.8 213.8L254.9 213.3z" fill="#0d2ca0" stroke="#051240"/>
<path d="M254 227.8L257.9 226.8L254.9 213.3L251 214.1z" fill="#0f36a7" stroke="#061643"/>
<path d="M250.1 229.8L254 227.8L251 214.1L247.1 216.3z" fill="#0e2ea6" stroke="#061342"/>
<path d="M246.2 232.8L250.1 229.8L247.1 216.3L243.2 219.8z" fill="#0f30aa" stroke="#061344"/>
<path d="M242.3 236.8L246.2 232.8L243.2 219.8L239.3 224.6z" fill="#102baa" stroke="#061144"/>
<path d="M238.4 241.4L242.3 236.8L239.3 224.6L235.4 230.2z" fill="#1126ab" stroke="#070f44"/>
<path d="M234.5 246.4L238.4 241.4L235.4 230.2L231.5 236.4z" fill="#141ca9" stroke="#080b43"/>
<path d="M230.6 251.6L234.5 246.4L231.5 236.4L227.6 242.8z" fill="#1b22b1" stroke="#0b0e47"/>
<path d="M226.7 256.7L230.6 251.6L227.6 242.8L223.6 249.2z" fill="#292fbd" stroke="#10134c"/>
<path d="M222.8 261.6L226.7 256.7L223.6 249.2L219.7 255.2z" fill="#3d40cf" stroke="#181a53"/>
<path d="M218.9 266L222.8 261.6L219.7 255.2L215.8 260.7z" fill="#5052e2" stroke="#20215a"/>
<path d="M215 270L218.9 266L215.8 260.7L211.9 265.6z" fill="#4f51e0" stroke="#20205a"/>
<path d="M211 273.3L215 270L211.9 265.6L208 269.7z" fill="#3738c8" stroke="#161650"/>
<path d="M207.1 276.2L211 273.3L208 269.7L204.1 273.2z" fill="#1a1aaa" stroke="#0a0a44"/>
<path d="M203.2 278.5L207.1 276.2L204.1 273.2L200.2 276z" fill="#0b0b9b" stroke="#04043e"/>
<path d="M199.3 280.5L203.2 278.5L200.2 276L196.3 278.2z" fill="#070797" stroke="#03033c"/>
<path d="M195.4 282.2L199.3 280.5L196.3 278.2L192.4 280.1z" fill="#060696" stroke="#02023c"/>
<path d="M191.5 283.8L195.4 282.2L192.4 280.1L188.5 281.8z" fill="#060696" stroke="#02023c"/>
<path d="M187.6 285.3L191.5 283.8L188.5 281.8L184.6 283.3z" fill="#060696" stroke="#02023c"/>
<path d="M183.7 286.8L187.6 285.3L184.6 283.3L180.7 284.9z" fill="#060696" stroke="#02023c"/>
<path d="M179.8 288.3L183.7 286.8L180.7 284.9L176.8 286.4z" fill="#060696" stroke="#02023c"/>
<path d="M175.9 289.8L179.8 288.3L176.8 286.4L172.9 287.9z" fill="#060696" stroke="#02023c"/>
<path d="M331.2 233.1L335.1 231.6L332.1 229.6L328.2 231.1z" fill="#060696" stroke="#02023c"/>
<path d="M327.3 234.6L331.2 233.1L328.2 231.1L324.3 232.6z" fill="#060696" stroke="#02023c"/>
<path d="M323.4 236.1L327.3 234.6L324.3 232.6L320.4 234.1z" fill="#060696" stroke="#02023c"/>
<path d="M319.5 237.6L323.4 236.1L320.4 234.1L316.5 235.6z" fill="#060696" stroke="#02023c"/>
<path d="M315.6 239.1L319.5 237.6L316.5 235.6L312.6 237.1z" fill="#060696" stroke="#02023c"/>
<path d="M311.7 240.5L315.6 239.1L312.6 237.1L308.7 238.4z" fill="#060696" stroke="#02023c"/>
<path d="M307.8 241.8L311.7 240.5L308.7 238.4L304.8 239.4z" fill="#060696" stroke="#02023c"/>
<path d="M303.9 242.8L307.8 241.8L304.8 239.4L300.9 240z" fill="#060696" stroke="#02023c"/>
<path d="M300 243.4L303.9 242.8L300.9 240L297 240.2z" fill="#060696" stroke="#02023c"/>
<path d="M296.1 243.7L300 243.4L297 240.2L293.1 239.9z" fill="#070897" stroke="#03033c"/>
<path d="M292.2 243.5L296.1 243.7L293.1 239.9L289.1 239z" fill="#060893" stroke="#03033b"/>
<path d="M288.3 243L292.2 243.5L289.1 239L285.2 237.5z" fill="#070991" stroke="#03043a"/>
<path d="M284.4 242.1L288.3 243L285.2 237.5L281.3 235.7z" fill="#070a8f" stroke="#030439"/>
<path d="M280.5 241L284.4 242.1L281.3 235.7L277.4 233.5z" fill="#080c8e" stroke="#030539"/>
<path d="M276.5 239.9L280.5 241L277.4 233.5L273.5 231.3z" fill="#080d8e" stroke="#030539"/>
<path d="M272.6 238.8L276.5 239.9L273.5 231.3L269.6 229.3z" fill="#090f8e" stroke="#030639"/>
<path d="M268.7 238.1L272.6 238.8L269.6 229.3L265.7 227.7z" fill="#091090" stroke="#04073a"/>
<path d="M264.8 237.8L268.7 238.1L265.7 227.7L261.8 226.8z" fill="#091091" stroke="#04073a"/>
<path d="M260.9 238.2L264.8 237.8L261.8 226.8L257.9 226.8z" fill="#0b1897" stroke="#040a3d"/>
<path d="M257 239.3L260.9 238.2L257.9 226.8L254 227.8z" fill="#0b199a" stroke="#050a3e"/>
<path d="M253.1 241.2L257 239.3L254 227.8L250.1 229.8z" fill="#0d1b9e" stroke="#050b3f"/>
<path d="M249.2 243.8L253.1 241.2L250.1 229.8L246.2 232.8z" fill="#0e169e" stroke="#06093f"/>
<path d="M245.3 247.1L249.2 243.8L246.2 232.8L242.3 236.8z" fill="#141ca7" stroke="#080b43"/>
<path d="M241.4 250.8L245.3 247.1L242.3 236.8L238.4 241.4z" fill="#1e25b3" stroke="#0c0f48"/>
<path d="M237.5 254.9L241.4 250.8L238.4 241.4L234.5 246.4z" fill="#3136c5" stroke="#13164f"/>
<path d="M233.6 259.1L237.5 254.9L234.5 246.4L230.6 251.6z" fill="#4e52e1" stroke="#1f215a"/>
<path d="M229.7 263.2L233.6 259.1L230.6 251.6L226.7 256.7z" fill="#7175ff" stroke="#2d2f66"/>
<path d="M225.8 267.1L229.7 263.2L226.7 256.7L222.8 261.6z" fill="#8b8eff" stroke="#383966"/>
<path d="M221.9 270.6L225.8 267.1L222.8 261.6L218.9 266z" fill="#8384ff" stroke="#343566"/>
<path d="M218 273.8L221.9 270.6L218.9 266L215 270z" fill="#5859e9" stroke="#23245d"/>
<path d="M214.1 276.5L218 273.8L215 270L211 273.3z" fill="#2828b8" stroke="#10104a"/>
<path d="M210.2 278.9L214.1 276.5L211 273.3L207.1 276.2z" fill="#0f0f9f" stroke="#060640"/>
<path d="M206.3 280.9L210.2 278.9L207.1 276.2L203.2 278.5z" fill="#070797" stroke="#03033d"/>
<path d="M202.4 282.6L206.3 280.9L203.2 278.5L199.3 280.5z" fill="#060696" stroke="#02023c"/>
<path d="M198.4 284.2L202.4 282.6L199.3 280.5L195.4 282.2z" fill="#060696" stroke="#02023c"/>
<path d="M194.5 285.8L198.4 284.2L195.4 282.2L191.5 283.8z" fill="#060696" stroke="#02023c"/>
<path d="M190.6 287.3L194.5 285.8L191.5 283.8L187.6 285.3z" fill="#060696" stroke="#02023c"/>
<path d="M186.7 288.8L190.6 287.3L187.6 285.3L183.7 286.8z" fill="#060696" stroke="#02023c"/>
<path d="M182.8 290.3L186.7 288.8L183.7 286.8L179.8 288.3z" fill="#060696" stroke="#02023c"/>
<path d="M178.9 291.8L182.8 290.3L179.8 288.3L175.9 289.8z" fill="#060696" stroke="#02023c"/>
<path d="M334.2 235.1L338.1 233.5L335.1 231.6L331.2 233.1z" fill="#060696" stroke="#02023c"/>
<path d="M330.3 236.6L334.2 235.1L331.2 233.1L327.3 234.6z" fill="#060696" stroke="#02023c"/>
<path d="M326.4 238.1L330.3 236.6L327.3 234.6L323.4 236.1z" fill="#060696" stroke="#02023c"/>
<path d="M322.5 239.6L326.4 238.1L323.4 236.1L319.5 237.6z" fill="#060696" stroke="#02023c"/>
<path d="M318.6 241.1L322.5 239.6L319.5 237.6L315.6 239.1z" fill="#060696" stroke="#02023c"/>
<path d="M314.7 242.6L318.6 241.1L315.6 239.1L311.7 240.5z" fill="#060696" stroke="#02023c"/>
<path d="M310.8 243.9L314.7 242.6L311.7 240.5L307.8 241.8z" fill="#060696" stroke="#02023c"/>
<path d="M306.9 245.2L310.8 243.9L307.8 241.8L303.9 242.8z" fill="#060696" stroke="#02023c"/>
<path d="M303 246.2L306.9 245.2L303.9 242.8L300 243.4z" fill="#060696" stroke="#02023c"/>
<path d="M299.1 247L303 246.2L300 243.4L296.1 243.7z" fill="#060696" stroke="#02023c"/>
<path d="M295.2 247.4L299.1 247L296.1 243.7L292.2 243.5z" fill="#060696" stroke="#02023c"/>
<path d="M291.3 247.6L295.2 247.4L292.2 243.5L288.3 243z" fill="#070896" stroke="#03033c"/>
<path d="M287.4 247.5L291.3 247.6L288.3 243L284.4 242.1z" fill="#070995" stroke="#03043b"/>
<path d="M283.5 247.2L287.4 247.5L284.4 242.1L280.5 241z" fill="#070992" stroke="#03043b"/>
<path d="M279.6 246.9L283.5 247.2L280.5 241L276.5 239.9z" fill="#080b92" stroke="#03043a"/>
<path d="M275.7 246.6L279.6 246.9L276.5 239.9L272.6 238.8z" fill="#080d93" stroke="#03053b"/>
<path d="M271.8 246.6L275.7 246.6L272.6 238.8L268.7 238.1z" fill="#090d93" stroke="#03053b"/>
<path d="M267.9 246.9L271.8 246.6L268.7 238.1L264.8 237.8z" fill="#0a0f95" stroke="#04063c"/>
<path d="M263.9 247.6L267.9 246.9L264.8 237.8L260.9 238.2z" fill="#0b1098" stroke="#04073d"/>
<path d="M260 248.8L263.9 247.6L260.9 238.2L257 239.3z" fill="#0e139c" stroke="#06083e"/>
<path d="M256.1 250.6L260 248.8L257 239.3L253.1 241.2z" fill="#1419a4" stroke="#080a41"/>
<path d="M252.2 252.9L256.1 250.6L253.1 241.2L249.2 243.8z" fill="#1f25b1" stroke="#0c0f47"/>
<path d="M248.3 255.6L252.2 252.9L249.2 243.8L245.3 247.1z" fill="#3338c7" stroke="#14164f"/>
<path d="M244.4 258.7L248.3 255.6L245.3 247.1L241.4 250.8z" fill="#5559e8" stroke="#22245d"/>
<path d="M240.5 262L244.4 258.7L241.4 250.8L237.5 254.9z" fill="#8386ff" stroke="#343666"/>
<path d="M236.6 265.3L240.5 262L237.5 254.9L233.6 259.1z" fill="#b2b4ff" stroke="#474866"/>
<path d="M232.7 268.6L236.6 265.3L233.6 259.1L229.7 263.2z" fill="#c9cbff" stroke="#505166"/>
<path d="M228.8 271.7L232.7 268.6L229.7 263.2L225.8 267.1z" fill="#b0b1ff" stroke="#464766"/>
<path d="M224.9 274.5L228.8 271.7L225.8 267.1L221.9 270.6z" fill="#7273ff" stroke="#2e2e66"/>
<path d="M221 277.1L224.9 274.5L221.9 270.6L218 273.8z" fill="#3434c4" stroke="#15154e"/>
<path d="M217.1 279.3L221 277.1L218 273.8L214.1 276.5z" fill="#1212a2" stroke="#070741"/>
<path d="M213.2 281.3L217.1 279.3L214.1 276.5L210.2 278.9z" fill="#080898" stroke="#03033d"/>
<path d="M209.3 283.1L213.2 281.3L210.2 278.9L206.3 280.9z" fill="#060696" stroke="#03033c"/>
<path d="M205.4 284.7L209.3 283.1L206.3 280.9L202.4 282.6z" fill="#060696" stroke="#02023c"/>
<path d="M201.5 286.2L205.4 284.7L202.4 282.6L198.4 284.2z" fill="#060696" stroke="#02023c"/>
<path d="M197.6 287.7L201.5 286.2L198.4 284.2L194.5 285.8z" fill="#060696" stroke="#02023c"/>
<path d="M193.7 289.2L197.6 287.7L194.5 285.8L190.6 287.3z" fill="#060696" stroke="#02023c"/>
<path d="M189.8 290.7L193.7 289.2L190.6 287.3L186.7 288.8z" fill="#060696" stroke="#02023c"/>
<path d="M185.8 292.2L189.8 290.7L186.7 288.8L182.8 290.3z" fill="#060696" stroke="#02023c"/>
<path d="M181.9 293.8L185.8 292.2L182.8 290.3L178.9 291.8z" fill="#060696" stroke="#02023c"/>
<path d="M337.3 237L341.2 235.5L338.1 233.5L334.2 235.1z" fill="#060696" stroke="#02023c"/>
<path d="M333.4 238.5L337.3 237L334.2 235.1L330.3 236.6z" fill="#060696" stroke="#02023c"/>
<path d="M329.4 240L333.4 238.5L330.3 236.6L326.4 238.1z" fill="#060696" stroke="#02023c"/>
<path d="M325.5 241.5L329.4 240L326.4 238.1L322.5 239.6z" fill="#060696" stroke="#02023c"/>
<path d="M321.6 243L325.5 241.5L322.5 239.6L318.6 241.1z" fill="#060696" stroke="#02023c"/>
<path d="M317.7 244.5L321.6 243L318.6 241.1L314.7 242.6z" fill="#060696" stroke="#02023c"/>
<path d="M313.8 246L317.7 244.5L314.7 242.6L310.8 243.9z" fill="#060696" stroke="#02023c"/>
<path d="M309.9 247.4L313.8 246L310.8 243.9L306.9 245.2z" fill="#060696" stroke="#02023c"/>
<path d="M306 248.7L309.9 247.4L306.9 245.2L303 246.2z" fill="#060696" stroke="#02023c"/>
<path d="M302.1 249.8L306 248.7L303 246.2L299.1 247z" fill="#060696" stroke="#02023c"/>
<path d="M298.2 250.7L302.1 249.8L299.1 247L295.2 247.4z" fill="#060696" stroke="#02023c"/>
<path d="M294.3 251.4L298.2 250.7L295.2 247.4L291.3 247.6z" fill="#060696" stroke="#03033c"/>
<path d="M290.4 251.9L294.3 251.4L291.3 247.6L287.4 247.5z" fill="#070898" stroke="#03033d"/>
<path d="M286.5 252.3L290.4 251.9L287.4 247.5L283.5 247.2z" fill="#080998" stroke="#03033d"/>
<path d="M282.6 252.6L286.5 252.3L283.5 247.2L279.6 246.9z" fill="#090b99" stroke="#03043d"/>
<path d="M278.7 252.9L282.6 252.6L279.6 246.9L275.7 246.6z" fill="#0a0c99" stroke="#04053d"/>
<path d="M274.8 253.4L278.7 252.9L275.7 246.6L271.8 246.6z" fill="#0b0e9a" stroke="#05053e"/>
<path d="M270.9 254.1L274.8 253.4L271.8 246.6L267.9 246.9z" fill="#0f129f" stroke="#06073f"/>
<path d="M267 255.1L270.9 254.1L267.9 246.9L263.9 247.6z" fill="#1518a5" stroke="#080a42"/>
<path d="M263.1 256.4L267 255.1L263.9 247.6L260 248.8z" fill="#1f23b1" stroke="#0c0e47"/>
<path d="M259.2 258.1L263.1 256.4L260 248.8L256.1 250.6z" fill="#3135c4" stroke="#14154e"/>
<path d="M255.2 260.1L259.2 258.1L256.1 250.6L252.2 252.9z" fill="#4f52e2" stroke="#20215a"/>
<path d="M251.3 262.4L255.2 260.1L252.2 252.9L248.3 255.6z" fill="#797bff" stroke="#303166"/>
<path d="M247.4 265L251.3 262.4L248.3 255.6L244.4 258.7z" fill="#aaacff" stroke="#444566"/>
<path d="M243.5 267.7L247.4 265L244.4 258.7L240.5 262z" fill="#d2d4ff" stroke="#545566"/>
<path d="M239.6 270.4L243.5 267.7L240.5 262L236.6 265.3z" fill="#d8d9ff" stroke="#565766"/>
<path d="M235.7 273L239.6 270.4L236.6 265.3L232.7 268.6z" fill="#b2b3ff" stroke="#474866"/>
<path d="M231.8 275.5L235.7 273L232.7 268.6L228.8 271.7z" fill="#6e6efe" stroke="#2c2c66"/>
<path d="M227.9 277.8L231.8 275.5L228.8 271.7L224.9 274.5z" fill="#3232c2" stroke="#14144d"/>
<path d="M224 279.9L227.9 277.8L224.9 274.5L221 277.1z" fill="#1212a2" stroke="#070741"/>
<path d="M220.1 281.8L224 279.9L221 277.1L217.1 279.3z" fill="#080898" stroke="#03033d"/>
<path d="M216.2 283.5L220.1 281.8L217.1 279.3L213.2 281.3z" fill="#060696" stroke="#03033c"/>
<path d="M212.3 285.1L216.2 283.5L213.2 281.3L209.3 283.1z" fill="#060696" stroke="#02023c"/>
<path d="M208.4 286.7L212.3 285.1L209.3 283.1L205.4 284.7z" fill="#060696" stroke="#02023c"/>
<path d="M204.5 288.2L208.4 286.7L205.4 284.7L201.5 286.2z" fill="#060696" stroke="#02023c"/>
<path d="M200.6 289.7L204.5 288.2L201.5 286.2L197.6 287.7z" fill="#060696" stroke="#02023c"/>
<path d="M196.7 291.2L200.6 289.7L197.6 287.7L193.7 289.2z" fill="#060696" stroke="#02023c"/>
<path d="M192.8 292.7L196.7 291.2L193.7 289.2L189.8 290.7z" fill="#060696" stroke="#02023c"/>
<path d="M188.9 294.2L192.8 292.7L189.8 290.7L185.8 292.2z" fill="#060696" stroke="#02023c"/>
<path d="M185 295.7L188.9 294.2L185.8 292.2L181.9 293.8z" fill="#060696" stroke="#02023c"/>
<path d="M340.3 239L344.2 237.5L341.2 235.5L337.3 237z" fill="#060696" stroke="#02023c"/>
<path d="M336.4 240.5L340.3 239L337.3 237L333.4 238.5z" fill="#060696" stroke="#02023c"/>
<path d="M332.5 242L336.4 240.5L333.4 238.5L329.4 240z" fill="#060696" stroke="#02023c"/>
<path d="M328.6 243.5L332.5 242L329.4 240L325.5 241.5z" fill="#060696" stroke="#02023c"/>
<path d="M324.7 245L328.6 243.5L325.5 241.5L321.6 243z" fill="#060696" stroke="#02023c"/>
<path d="M320.8 246.5L324.7 245L321.6 243L317.7 244.5z" fill="#060696" stroke="#02023c"/>
<path d="M316.8 248L320.8 246.5L317.7 244.5L313.8 246z" fill="#060696" stroke="#02023c"/>
<path d="M312.9 249.5L316.8 248L313.8 246L309.9 247.4z" fill="#060696" stroke="#02023c"/>
<path d="M309 250.9L312.9 249.5L309.9 247.4L306 248.7z" fill="#060696" stroke="#02023c"/>
<path d="M305.1 252.2L309 250.9L306 248.7L302.1 249.8z" fill="#060696" stroke="#02023c"/>
<path d="M301.2 253.4L305.1 252.2L302.1 249.8L298.2 250.7z" fill="#060696" stroke="#02023c"/>
<path d="M297.3 254.5L301.2 253.4L298.2 250.7L294.3 251.4z" fill="#060696" stroke="#03033c"/>
<path d="M293.4 255.5L297.3 254.5L294.3 251.4L290.4 251.9z" fill="#070797" stroke="#03033c"/>
<path d="M289.5 256.3L293.4 255.5L290.4 251.9L286.5 252.3z" fill="#070797" stroke="#03033d"/>
<path d="M285.6 257.1L289.5 256.3L286.5 252.3L282.6 252.6z" fill="#090a9a" stroke="#04043e"/>
<path d="M281.7 257.9L285.6 257.1L282.6 252.6L278.7 252.9z" fill="#0c0d9c" stroke="#05053f"/>
<path d="M277.8 258.8L281.7 257.9L278.7 252.9L274.8 253.4z" fill="#1011a1" stroke="#060740"/>
<path d="M273.9 259.8L277.8 258.8L274.8 253.4L270.9 254.1z" fill="#1718a8" stroke="#090a43"/>
<path d="M270 260.9L273.9 259.8L270.9 254.1L267 255.1z" fill="#2324b3" stroke="#0e0e48"/>
<path d="M266.1 262.3L270 260.9L267 255.1L263.1 256.4z" fill="#3536c6" stroke="#15164f"/>
<path d="M262.2 263.9L266.1 262.3L263.1 256.4L259.2 258.1z" fill="#4f50e0" stroke="#20205a"/>
<path d="M258.3 265.8L262.2 263.9L259.2 258.1L255.2 260.1z" fill="#7071ff" stroke="#2d2d66"/>
<path d="M254.4 267.8L258.3 265.8L255.2 260.1L251.3 262.4z" fill="#9192ff" stroke="#3a3a66"/>
<path d="M250.5 269.9L254.4 267.8L251.3 262.4L247.4 265z" fill="#a5a6ff" stroke="#424266"/>
<path d="M246.6 272.2L250.5 269.9L247.4 265L243.5 267.7z" fill="#9fa0ff" stroke="#3f4066"/>
<path d="M242.7 274.4L246.6 272.2L243.5 267.7L239.6 270.4z" fill="#7a7aff" stroke="#313166"/>
<path d="M238.7 276.5L242.7 274.4L239.6 270.4L235.7 273z" fill="#4848d8" stroke="#1d1d56"/>
<path d="M234.8 278.6L238.7 276.5L235.7 273L231.8 275.5z" fill="#2121b1" stroke="#0d0d47"/>
<path d="M230.9 280.5L234.8 278.6L231.8 275.5L227.9 277.8z" fill="#0e0e9e" stroke="#06063f"/>
<path d="M227 282.3L230.9 280.5L227.9 277.8L224 279.9z" fill="#080898" stroke="#03033d"/>
<path d="M223.1 284L227 282.3L224 279.9L220.1 281.8z" fill="#060696" stroke="#03033c"/>
<path d="M219.2 285.6L223.1 284L220.1 281.8L216.2 283.5z" fill="#060696" stroke="#02023c"/>
<path d="M215.3 287.1L219.2 285.6L216.2 283.5L212.3 285.1z" fill="#060696" stroke="#02023c"/>
<path d="M211.4 288.6L215.3 287.1L212.3 285.1L208.4 286.7z" fill="#060696" stroke="#02023c"/>
<path d="M207.5 290.1L211.4 288.6L208.4 286.7L204.5 288.2z" fill="#060696" stroke="#02023c"/>
<path d="M203.6 291.7L207.5 290.1L204.5 288.2L200.6 289.7z" fill="#060696" stroke="#02023c"/>
<path d="M199.7 293.2L203.6 291.7L200.6 289.7L196.7 291.2z" fill="#060696" stroke="#02023c"/>
<path d="M195.8 294.7L199.7 293.2L196.7 291.2L192.8 292.7z" fill="#060696" stroke="#02023c"/>
<path d="M191.9 296.2L195.8 294.7L192.8 292.7L188.9 294.2z" fill="#060696" stroke="#02023c"/>
<path d="M188 297.7L191.9 296.2L188.9 294.2L185 295.7z" fill="#060696" stroke="#02023c"/>
<path d="M343.3 240.9L347.2 239.4L344.2 237.5L340.3 239z" fill="#060696" stroke="#02023c"/>
<path d="M339.4 242.4L343.3 240.9L340.3 239L336.4 240.5z" fill="#060696" stroke="#02023c"/>
<path d="M335.5 244L339.4 242.4L336.4 240.5L332.5 242z" fill="#060696" stroke="#02023c"/>
<path d="M331.6 245.5L335.5 244L332.5 242L328.6 243.5z" fill="#060696" stroke="#02023c"/>
<path d="M327.7 247L331.6 245.5L328.6 243.5L324.7 245z" fill="#060696" stroke="#02023c"/>
<path d="M323.8 248.5L327.7 247L324.7 245L320.8 246.5z" fill="#060696" stroke="#02023c"/>
<path d="M319.9 250L323.8 248.5L320.8 246.5L316.8 248z" fill="#060696" stroke="#02023c"/>
<path d="M316 251.5L319.9 250L316.8 248L312.9 249.5z" fill="#060696" stroke="#02023c"/>
<path d="M312.1 253L316 251.5L312.9 249.5L309 250.9z" fill="#060696" stroke="#02023c"/>
<path d="M308.1 254.4L312.1 253L309 250.9L305.1 252.2z" fill="#060696" stroke="#02023c"/>
<path d="M304.2 255.8L308.1 254.4L305.1 252.2L301.2 253.4z" fill="#060696" stroke="#02023c"/>
<path d="M300.3 257.1L304.2 255.8L301.2 253.4L297.3 254.5z" fill="#060696" stroke="#02023c"/>
<path d="M296.4 258.4L300.3 257.1L297.3 254.5L293.4 255.5z" fill="#060696" stroke="#03033c"/>
<path d="M292.5 259.5L296.4 258.4L293.4 255.5L289.5 256.3z" fill="#070797" stroke="#03033c"/>
<path d="M288.6 260.6L292.5 259.5L289.5 256.3L285.6 257.1z" fill="#080898" stroke="#03033d"/>
<path d="M284.7 261.8L288.6 260.6L285.6 257.1L281.7 257.9z" fill="#0a0a9a" stroke="#04043d"/>
<path d="M280.8 262.9L284.7 261.8L281.7 257.9L277.8 258.8z" fill="#0d0d9d" stroke="#05053f"/>
<path d="M276.9 264.1L280.8 262.9L277.8 258.8L273.9 259.8z" fill="#1414a4" stroke="#080841"/>
<path d="M273 265.4L276.9 264.1L273.9 259.8L270 260.9z" fill="#1d1dad" stroke="#0c0c45"/>
<path d="M269.1 266.9L273 265.4L270 260.9L266.1 262.3z" fill="#2b2cbc" stroke="#11124b"/>
<path d="M265.2 268.4L269.1 266.9L266.1 262.3L262.2 263.9z" fill="#3a3aca" stroke="#171751"/>
<path d="M261.3 270.1L265.2 268.4L262.2 263.9L258.3 265.8z" fill="#4747d7" stroke="#1c1c56"/>
<path d="M257.4 271.9L261.3 270.1L258.3 265.8L254.4 267.8z" fill="#4c4cdc" stroke="#1f1f58"/>
<path d="M253.5 273.8L257.4 271.9L254.4 267.8L250.5 269.9z" fill="#4545d5" stroke="#1c1c55"/>
<path d="M249.6 275.7L253.5 273.8L250.5 269.9L246.6 272.2z" fill="#3333c3" stroke="#14144e"/>
<path d="M245.7 277.6L249.6 275.7L246.6 272.2L242.7 274.4z" fill="#1e1eae" stroke="#0c0c46"/>
<path d="M241.8 279.4L245.7 277.6L242.7 274.4L238.7 276.5z" fill="#1010a0" stroke="#060640"/>
<path d="M237.9 281.2L241.8 279.4L238.7 276.5L234.8 278.6z" fill="#090999" stroke="#04043d"/>
<path d="M234 282.9L237.9 281.2L234.8 278.6L230.9 280.5z" fill="#070797" stroke="#03033c"/>
<path d="M230.1 284.5L234 282.9L230.9 280.5L227 282.3z" fill="#060696" stroke="#02023c"/>
<path d="M226.1 286.1L230.1 284.5L227 282.3L223.1 284z" fill="#060696" stroke="#02023c"/>
<path d="M222.2 287.6L226.1 286.1L223.1 284L219.2 285.6z" fill="#060696" stroke="#02023c"/>
<path d="M218.3 289.1L222.2 287.6L219.2 285.6L215.3 287.1z" fill="#060696" stroke="#02023c"/>
<path d="M214.4 290.6L218.3 289.1L215.3 287.1L211.4 288.6z" fill="#060696" stroke="#02023c"/>
<path d="M210.5 292.1L214.4 290.6L211.4 288.6L207.5 290.1z" fill="#060696" stroke="#02023c"/>
<path d="M206.6 293.6L210.5 292.1L207.5 290.1L203.6 291.7z" fill="#060696" stroke="#02023c"/>
<path d="M202.7 295.1L206.6 293.6L203.6 291.7L199.7 293.2z" fill="#060696" stroke="#02023c"/>
<path d="M198.8 296.6L202.7 295.1L199.7 293.2L195.8 294.7z" fill="#060696" stroke="#02023c"/>
<path d="M194.9 298.1L198.8 296.6L195.8 294.7L191.9 296.2z" fill="#060696" stroke="#02023c"/>
<path d="M191 299.6L194.9 298.1L191.9 296.2L188 297.7z" fill="#060696" stroke="#02023c"/>
<path d="M346.3 242.9L350.2 241.4L347.2 239.4L343.3 240.9z" fill="#060696" stroke="#02023c"/>
<path d="M342.4 244.4L346.3 242.9L343.3 240.9L339.4 242.4z" fill="#060696" stroke="#02023c"/>
<path d="M338.5 245.9L342.4 244.4L339.4 242.4L335.5 244z" fill="#060696" stroke="#02023c"/>
<path d="M334.6 247.4L338.5 245.9L335.5 244L331.6 245.5z" fill="#060696" stroke="#02023c"/>
<path d="M330.7 248.9L334.6 247.4L331.6 245.5L327.7 247z" fill="#060696" stroke="#02023c"/>
<path d="M326.8 250.4L330.7 248.9L327.7 247L323.8 248.5z" fill="#060696" stroke="#02023c"/>
<path d="M322.9 251.9L326.8 250.4L323.8 248.5L319.9 250z" fill="#060696" stroke="#02023c"/>
<path d="M319 253.4L322.9 251.9L319.9 250L316 251.5z" fill="#060696" stroke="#02023c"/>
<path d="M315.1 254.9L319 253.4L316 251.5L312.1 253z" fill="#060696" stroke="#02023c"/>
<path d="M311.2 256.4L315.1 254.9L312.1 253L308.1 254.4z" fill="#060696" stroke="#02023c"/>
<path d="M307.3 257.9L311.2 256.4L308.1 254.4L304.2 255.8z" fill="#060696" stroke="#02023c"/>
<path d="M303.4 259.4L307.3 257.9L304.2 255.8L300.3 257.1z" fill="#060696" stroke="#02023c"/>
<path d="M299.5 260.8L303.4 259.4L300.3 257.1L296.4 258.4z" fill="#060696" stroke="#02023c"/>
<path d="M295.6 262.1L299.5 260.8L296.4 258.4L292.5 259.5z" fill="#060696" stroke="#02023c"/>
<path d="M291.6 263.5L295.6 262.1L292.5 259.5L288.6 260.6z" fill="#060696" stroke="#03033c"/>
<path d="M287.7 264.8L291.6 263.5L288.6 260.6L284.7 261.8z" fill="#070797" stroke="#03033c"/>
<path d="M283.8 266.1L287.7 264.8L284.7 261.8L280.8 262.9z" fill="#080898" stroke="#03033d"/>
<path d="M279.9 267.5L283.8 266.1L280.8 262.9L276.9 264.1z" fill="#0a0a9a" stroke="#04043e"/>
<path d="M276 268.9L279.9 267.5L276.9 264.1L273 265.4z" fill="#0d0d9d" stroke="#05053f"/>
<path d="M272.1 270.4L276 268.9L273 265.4L269.1 266.9z" fill="#1010a0" stroke="#060640"/>
<path d="M268.2 271.9L272.1 270.4L269.1 266.9L265.2 268.4z" fill="#1313a3" stroke="#080841"/>
<path d="M264.3 273.5L268.2 271.9L265.2 268.4L261.3 270.1z" fill="#1414a4" stroke="#080842"/>
<path d="M260.4 275.1L264.3 273.5L261.3 270.1L257.4 271.9z" fill="#1212a2" stroke="#070741"/>
<path d="M256.5 276.8L260.4 275.1L257.4 271.9L253.5 273.8z" fill="#0f0f9f" stroke="#06063f"/>
<path d="M252.6 278.5L256.5 276.8L253.5 273.8L249.6 275.7z" fill="#0b0b9b" stroke="#04043e"/>
<path d="M248.7 280.2L252.6 278.5L249.6 275.7L245.7 277.6z" fill="#080898" stroke="#03033d"/>
<path d="M244.8 281.8L248.7 280.2L245.7 277.6L241.8 279.4z" fill="#070797" stroke="#03033c"/>
<path d="M240.9 283.4L244.8 281.8L241.8 279.4L237.9 281.2z" fill="#060696" stroke="#03033c"/>
<path d="M237 285L240.9 283.4L237.9 281.2L234 282.9z" fill="#060696" stroke="#02023c"/>
<path d="M233.1 286.5L237 285L234 282.9L230.1 284.5z" fill="#060696" stroke="#02023c"/>
<path d="M229.2 288.1L233.1 286.5L230.1 284.5L226.1 286.1z" fill="#060696" stroke="#02023c"/>
<path d="M225.3 289.6L229.2 288.1L226.1 286.1L222.2 287.6z" fill="#060696" stroke="#02023c"/>
<path d="M221.4 291.1L225.3 289.6L222.2 287.6L218.3 289.1z" fill="#060696" stroke="#02023c"/>
<path d="M217.5 292.6L221.4 291.1L218.3 289.1L214.4 290.6z" fill="#060696" stroke="#02023c"/>
<path d="M213.5 294.1L217.5 292.6L214.4 290.6L210.5 292.1z" fill="#060696" stroke="#02023c"/>
<path d="M209.6 295.6L213.5 294.1L210.5 292.1L206.6 293.6z" fill="#060696" stroke="#02023c"/>
<path d="M205.7 297.1L209.6 295.6L206.6 293.6L202.7 295.1z" fill="#060696" stroke="#02023c"/>
<path d="M201.8 298.6L205.7 297.1L202.7 295.1L198.8 296.6z" fill="#060696" stroke="#02023c"/>
<path d="M197.9 300.1L201.8 298.6L198.8 296.6L194.9 298.1z" fill="#060696" stroke="#02023c"/>
<path d="M194 301.6L197.9 300.1L194.9 298.1L191 299.6z" fill="#060696" stroke="#02023c"/>
<path d="M349.3 244.9L353.2 243.4L350.2 241.4L346.3 242.9z" fill="#060696" stroke="#02023c"/>
<path d="M345.4 246.4L349.3 244.9L346.3 242.9L342.4 244.4z" fill="#060696" stroke="#02023c"/>
<path d="M341.5 247.9L345.4 246.4L342.4 244.4L338.5 245.9z" fill="#060696" stroke="#02023c"/>
<path d="M337.6 249.4L341.5 247.9L338.5 245.9L334.6 247.4z" fill="#060696" stroke="#02023c"/>
<path d="M333.7 250.9L337.6 249.4L334.6 247.4L330.7 248.9z" fill="#060696" stroke="#02023c"/>
<path d="M329.8 252.4L333.7 250.9L330.7 248.9L326.8 250.4z" fill="#060696" stroke="#02023c"/>
<path d="M325.9 253.9L329.8 252.4L326.8 250.4L322.9 251.9z" fill="#060696" stroke="#02023c"/>
<path d="M322 255.4L325.9 253.9L322.9 251.9L319 253.4z" fill="#060696" stroke="#02023c"/>
<path d="M318.1 256.9L322 255.4L319 253.4L315.1 254.9z" fill="#060696" stroke="#02023c"/>
<path d="M314.2 258.4L318.1 256.9L315.1 254.9L311.2 256.4z" fill="#060696" stroke="#02023c"/>
<path d="M310.3 259.9L314.2 258.4L311.2 256.4L307.3 257.9z" fill="#060696" stroke="#02023c"/>
<path d="M306.4 261.4L310.3 259.9L307.3 257.9L303.4 259.4z" fill="#060696" stroke="#02023c"/>
<path d="M302.5 262.9L306.4 261.4L303.4 259.4L299.5 260.8z" fill="#060696" stroke="#02023c"/>
<path d="M298.6 264.4L302.5 262.9L299.5 260.8L295.6 262.1z" fill="#060696" stroke="#02023c"/>
<path d="M294.7 265.8L298.6 264.4L295.6 262.1L291.6 263.5z" fill="#060696" stroke="#02023c"/>
<path d="M290.8 267.2L294.7 265.8L291.6 263.5L287.7 264.8z" fill="#060696" stroke="#02023c"/>
<path d="M286.9 268.7L290.8 267.2L287.7 264.8L283.8 266.1z" fill="#060696" stroke="#03033c"/>
<path d="M283 270.1L286.9 268.7L283.8 266.1L279.9 267.5z" fill="#070797" stroke="#03033c"/>
<path d="M279 271.6L283 270.1L279.9 267.5L276 268.9z" fill="#070797" stroke="#03033c"/>
<path d="M275.1 273.1L279 271.6L276 268.9L272.1 270.4z" fill="#070797" stroke="#03033c"/>
<path d="M271.2 274.6L275.1 273.1L272.1 270.4L268.2 271.9z" fill="#070797" stroke="#03033d"/>
<path d="M267.3 276.1L271.2 274.6L268.2 271.9L264.3 273.5z" fill="#070797" stroke="#03033c"/>
<path d="M263.4 277.7L267.3 276.1L264.3 273.5L260.4 275.1z" fill="#070797" stroke="#03033c"/>
<path d="M259.5 279.3L263.4 277.7L260.4 275.1L256.5 276.8z" fill="#070797" stroke="#03033c"/>
<path d="M255.6 280.9L259.5 279.3L256.5 276.8L252.6 278.5z" fill="#060696" stroke="#03033c"/>
<path d="M251.7 282.4L255.6 280.9L252.6 278.5L248.7 280.2z" fill="#060696" stroke="#02023c"/>
<path d="M247.8 284L251.7 282.4L248.7 280.2L244.8 281.8z" fill="#060696" stroke="#02023c"/>
<path d="M243.9 285.5L247.8 284L244.8 281.8L240.9 283.4z" fill="#060696" stroke="#02023c"/>
<path d="M240 287L243.9 285.5L240.9 283.4L237 285z" fill="#060696" stroke="#02023c"/>
<path d="M236.1 288.5L240 287L237 285L233.1 286.5z" fill="#060696" stroke="#02023c"/>
<path d="M232.2 290L236.1 288.5L233.1 286.5L229.2 288.1z" fill="#060696" stroke="#02023c"/>
<path d="M228.3 291.5L232.2 290L229.2 288.1L225.3 289.6z" fill="#060696" stroke="#02023c"/>
<path d="M224.4 293L228.3 291.5L225.3 289.6L221.4 291.1z" fill="#060696" stroke="#02023c"/>
<path d="M220.5 294.5L224.4 293L221.4 291.1L217.5 292.6z" fill="#060696" stroke="#02023c"/>
<path d="M216.6 296L220.5 294.5L217.5 292.6L213.5 294.1z" fill="#060696" stroke="#02023c"/>
<path d="M212.7 297.5L216.6 296L213.5 294.1L209.6 295.6z" fill="#060696" stroke="#02023c"/>
<path d="M208.8 299L212.7 297.5L209.6 295.6L205.7 297.1z" fill="#060696" stroke="#02023c"/>
<path d="M204.9 300.6L208.8 299L205.7 297.1L201.8 298.6z" fill="#060696" stroke="#02023c"/>
<path d="M200.9 302.1L204.9 300.6L201.8 298.6L197.9 300.1z" fill="#060696" stroke="#02023c"/>
<path d="M197 303.6L200.9 302.1L197.9 300.1L194 301.6z" fill="#060696" stroke="#02023c"/>
<path d="M352.4 246.8L356.3 245.3L353.2 243.4L349.3 244.9z" fill="#060696" stroke="#02023c"/>
<path d="M348.5 248.3L352.4 246.8L349.3 244.9L345.4 246.4z" fill="#060696" stroke="#02023c"/>
<path d="M344.5 249.8L348.5 248.3L345.4 246.4L341.5 247.9z" fill="#060696" stroke="#02023c"/>
<path d="M340.6 251.3L344.5 249.8L341.5 247.9L337.6 249.4z" fill="#060696" stroke="#02023c"/>
<path d="M336.7 252.8L340.6 251.3L337.6 249.4L333.7 250.9z" fill="#060696" stroke="#02023c"/>
<path d="M332.8 254.4L336.7 252.8L333.7 250.9L329.8 252.4z" fill="#060696" stroke="#02023c"/>
<path d="M328.9 255.9L332.8 254.4L329.8 252.4L325.9 253.9z" fill="#060696" stroke="#02023c"/>
<path d="M325 257.4L328.9 255.9L325.9 253.9L322 255.4z" fill="#060696" stroke="#02023c"/>
<path d="M321.1 258.9L325 257.4L322 255.4L318.1 256.9z" fill="#060696" stroke="#02023c"/>
<path d="M317.2 260.4L321.1 258.9L318.1 256.9L314.2 258.4z" fill="#060696" stroke="#02023c"/>
<path d="M313.3 261.9L317.2 260.4L314.2 258.4L310.3 259.9z" fill="#060696" stroke="#02023c"/>
<path d="M309.4 263.4L313.3 261.9L310.3 259.9L306.4 261.4z" fill="#060696" stroke="#02023c"/>
<path d="M305.5 264.9L309.4 263.4L306.4 261.4L302.5 262.9z" fill="#060696" stroke="#02023c"/>
<path d="M301.6 266.4L305.5 264.9L302.5 262.9L298.6 264.4z" fill="#060696" stroke="#02023c"/>
<path d="M297.7 267.9L301.6 266.4L298.6 264.4L294.7 265.8z" fill="#060696" stroke="#02023c"/>
<path d="M293.8 269.4L297.7 267.9L294.7 265.8L290.8 267.2z" fill="#060696" stroke="#02023c"/>
<path d="M289.9 270.9L293.8 269.4L290.8 267.2L286.9 268.7z" fill="#060696" stroke="#02023c"/>
<path d="M286 272.4L289.9 270.9L286.9 268.7L283 270.1z" fill="#060696" stroke="#02023c"/>
<path d="M282.1 273.8L286 272.4L283 270.1L279 271.6z" fill="#060696" stroke="#02023c"/>
<path d="M278.2 275.3L282.1 273.8L279 271.6L275.1 273.1z" fill="#060696" stroke="#02023c"/>
<path d="M274.3 276.9L278.2 275.3L275.1 273.1L271.2 274.6z" fill="#060696" stroke="#02023c"/>
<path d="M270.4 278.4L274.3 276.9L271.2 274.6L267.3 276.1z" fill="#060696" stroke="#02023c"/>
<path d="M266.4 279.9L270.4 278.4L267.3 276.1L263.4 277.7z" fill="#060696" stroke="#02023c"/>
<path d="M262.5 281.4L266.4 279.9L263.4 277.7L259.5 279.3z" fill="#060696" stroke="#02023c"/>
<path d="M258.6 282.9L262.5 281.4L259.5 279.3L255.6 280.9z" fill="#060696" stroke="#02023c"/>
<path d="M254.7 284.4L258.6 282.9L255.6 280.9L251.7 282.4z" fill="#060696" stroke="#02023c"/>
<path d="M250.8 286L254.7 284.4L251.7 282.4L247.8 284z" fill="#060696" stroke="#02023c"/>
<path d="M246.9 287.5L250.8 286L247.8 284L243.9 285.5z" fill="#060696" stroke="#02023c"/>
<path d="M243 289L246.9 287.5L243.9 285.5L240 287z" fill="#060696" stroke="#02023c"/>
<path d="M239.1 290.5L243 289L240 287L236.1 288.5z" fill="#060696" stroke="#02023c"/>
<path d="M235.2 292L239.1 290.5L236.1 288.5L232.2 290z" fill="#060696" stroke="#02023c"/>
<path d="M231.3 293.5L235.2 292L232.2 290L228.3 291.5z" fill="#060696" stroke="#02023c"/>
<path d="M227.4 295L231.3 293.5L228.3 291.5L224.4 293z" fill="#060696" stroke="#02023c"/>
<path d="M223.5 296.5L227.4 295L224.4 293L220.5 294.5z" fill="#060696" stroke="#02023c"/>
<path d="M219.6 298L223.5 296.5L220.5 294.5L216.6 296z" fill="#060696" stroke="#02023c"/>
<path d="M215.7 299.5L219.6 298L216.6 296L212.7 297.5z" fill="#060696" stroke="#02023c"/>
<path d="M211.8 301L215.7 299.5L212.7 297.5L208.8 299z" fill="#060696" stroke="#02023c"/>
<path d="M207.9 302.5L211.8 301L208.8 299L204.9 300.6z" fill="#060696" stroke="#02023c"/>
<path d="M204 304L207.9 302.5L204.9 300.6L200.9 302.1z" fill="#060696" stroke="#02023c"/>
<path d="M200.1 305.5L204 304L200.9 302.1L197 303.6z" fill="#060696" stroke="#02023c"/>
<path d="M355.4 248.8L359.3 247.3L356.3 245.3L352.4 246.8z" fill="#060696" stroke="#02023c"/>
<path d="M351.5 250.3L355.4 248.8L352.4 246.8L348.5 248.3z" fill="#060696" stroke="#02023c"/>
<path d="M347.6 251.8L351.5 250.3L348.5 248.3L344.5 249.8z" fill="#060696" stroke="#02023c"/>
<path d="M343.7 253.3L347.6 251.8L344.5 249.8L340.6 251.3z" fill="#060696" stroke="#02023c"/>
<path d="M339.8 254.8L343.7 253.3L340.6 251.3L336.7 252.8z" fill="#060696" stroke="#02023c"/>
<path d="M335.9 256.3L339.8 254.8L336.7 252.8L332.8 254.4z" fill="#060696" stroke="#02023c"/>
<path d="M331.9 257.8L335.9 256.3L332.8 254.4L328.9 255.9z" fill="#060696" stroke="#02023c"/>
<path d="M328 259.3L331.9 257.8L328.9 255.9L325 257.4z" fill="#060696" stroke="#02023c"/>
<path d="M324.1 260.8L328 259.3L325 257.4L321.1 258.9z" fill="#060696" stroke="#02023c"/>
<path d="M320.2 262.3L324.1 260.8L321.1 258.9L317.2 260.4z" fill="#060696" stroke="#02023c"/>
<path d="M316.3 263.8L320.2 262.3L317.2 260.4L313.3 261.9z" fill="#060696" stroke="#02023c"/>
<path d="M312.4 265.3L316.3 263.8L313.3 261.9L309.4 263.4z" fill="#060696" stroke="#02023c"/>
<path d="M308.5 266.9L312.4 265.3L309.4 263.4L305.5 264.9z" fill="#060696" stroke="#02023c"/>
<path d="M304.6 268.4L308.5 266.9L305.5 264.9L301.6 266.4z" fill="#060696" stroke="#02023c"/>
<path d="M300.7 269.9L304.6 268.4L301.6 266.4L297.7 267.9z" fill="#060696" stroke="#02023c"/>
<path d="M296.8 271.4L300.7 269.9L297.7 267.9L293.8 269.4z" fill="#060696" stroke="#02023c"/>
<path d="M292.9 272.9L296.8 271.4L293.8 269.4L289.9 270.9z" fill="#060696" stroke="#02023c"/>
<path d="M289 274.4L292.9 272.9L289.9 270.9L286 272.4z" fill="#060696" stroke="#02023c"/>
<path d="M285.1 275.9L289 274.4L286 272.4L282.1 273.8z" fill="#060696" stroke="#02023c"/>
<path d="M281.2 277.4L285.1 275.9L282.1 273.8L278.2 275.3z" fill="#060696" stroke="#02023c"/>
<path d="M277.3 278.9L281.2 277.4L278.2 275.3L274.3 276.9z" fill="#060696" stroke="#02023c"/>
<path d="M273.4 280.4L277.3 278.9L274.3 276.9L270.4 278.4z" fill="#060696" stroke="#02023c"/>
<path d="M269.5 281.9L273.4 280.4L270.4 278.4L266.4 279.9z" fill="#060696" stroke="#02023c"/>
<path d="M265.6 283.4L269.5 281.9L266.4 279.9L262.5 281.4z" fill="#060696" stroke="#02023c"/>
<path d="M261.7 284.9L265.6 283.4L262.5 281.4L258.6 282.9z" fill="#060696" stroke="#02023c"/>
<path d="M257.8 286.4L261.7 284.9L258.6 282.9L254.7 284.4z" fill="#060696" stroke="#02023c"/>
<path d="M253.8 287.9L257.8 286.4L254.7 284.4L250.8 286z" fill="#060696" stroke="#02023c"/>
<path d="M249.9 289.4L253.8 287.9L250.8 286L246.9 287.5z" fill="#060696" stroke="#02023c"/>
<path d="M246 290.9L249.9 289.4L246.9 287.5L243 289z" fill="#060696" stroke="#02023c"/>
<path d="M242.1 292.4L246 290.9L243 289L239.1 290.5z" fill="#060696" stroke="#02023c"/>
<path d="M238.2 293.9L242.1 292.4L239.1 290.5L235.2 292z" fill="#060696" stroke="#02023c"/>
<path d="M234.3 295.4L238.2 293.9L235.2 292L231.3 293.5z" fill="#060696" stroke="#02023c"/>
<path d="M230.4 297L234.3 295.4L231.3 293.5L227.4 295z" fill="#060696" stroke="#02023c"/>
<path d="M226.5 298.5L230.4 297L227.4 295L223.5 296.5z" fill="#060696" stroke="#02023c"/>
<path d="M222.6 300L226.5 298.5L223.5 296.5L219.6 298z" fill="#060696" stroke="#02023c"/>
<path d="M218.7 301.5L222.6 300L219.6 298L215.7 299.5z" fill="#060696" stroke="#02023c"/>
<path d="M214.8 303L218.7 301.5L215.7 299.5L211.8 301z" fill="#060696" stroke="#02023c"/>
<path d="M210.9 304.5L214.8 303L211.8 301L207.9 302.5z" fill="#060696" stroke="#02023c"/>
<path d="M207 306L210.9 304.5L207.9 302.5L204 304z" fill="#060696" stroke="#02023c"/>
<path d="M203.1 307.5L207 306L204 304L200.1 305.5z" fill="#060696" stroke="#02023c"/>
<path d="M358.4 250.8L362.3 249.2L359.3 247.3L355.4 248.8z" fill="#060696" stroke="#02023c"/>
<path d="M354.5 252.3L358.4 250.8L355.4 248.8L351.5 250.3z" fill="#060696" stroke="#02023c"/>
<path d="M350.6 253.8L354.5 252.3L351.5 250.3L347.6 251.8z" fill="#060696" stroke="#02023c"/>
<path d="M346.7 255.3L350.6 253.8L347.6 251.8L343.7 253.3z" fill="#060696" stroke="#02023c"/>
<path d="M342.8 256.8L346.7 255.3L343.7 253.3L339.8 254.8z" fill="#060696" stroke="#02023c"/>
<path d="M338.9 258.3L342.8 256.8L339.8 254.8L335.9 256.3z" fill="#060696" stroke="#02023c"/>
<path d="M335 259.8L338.9 258.3L335.9 256.3L331.9 257.8z" fill="#060696" stroke="#02023c"/>
<path d="M331.1 261.3L335 259.8L331.9 257.8L328 259.3z" fill="#060696" stroke="#02023c"/>
<path d="M327.2 262.8L331.1 261.3L328 259.3L324.1 260.8z" fill="#060696" stroke="#02023c"/>
<path d="M323.2 264.3L327.2 262.8L324.1 260.8L320.2 262.3z" fill="#060696" stroke="#02023c"/>
<path d="M319.3 265.8L323.2 264.3L320.2 262.3L316.3 263.8z" fill="#060696" stroke="#02023c"/>
<path d="M315.4 267.3L319.3 265.8L316.3 263.8L312.4 265.3z" fill="#060696" stroke="#02023c"/>
<path d="M311.5 268.8L315.4 267.3L312.4 265.3L308.5 266.9z" fill="#060696" stroke="#02023c"/>
<path d="M307.6 270.3L311.5 268.8L308.5 266.9L304.6 268.4z" fill="#060696" stroke="#02023c"/>
<path d="M303.7 271.8L307.6 270.3L304.6 268.4L300.7 269.9z" fill="#060696" stroke="#02023c"/>
<path d="M299.8 273.3L303.7 271.8L300.7 269.9L296.8 271.4z" fill="#060696" stroke="#02023c"/>
<path d="M295.9 274.8L299.8 273.3L296.8 271.4L292.9 272.9z" fill="#060696" stroke="#02023c"/>
<path d="M292 276.3L295.9 274.8L292.9 272.9L289 274.4z" fill="#060696" stroke="#02023c"/>
<path d="M288.1 277.8L292 276.3L289 274.4L285.1 275.9z" fill="#060696" stroke="#02023c"/>
<path d="M284.2 279.4L288.1 277.8L285.1 275.9L281.2 277.4z" fill="#060696" stroke="#02023c"/>
<path d="M280.3 280.9L284.2 279.4L281.2 277.4L277.3 278.9z" fill="#060696" stroke="#02023c"/>
<path d="M276.4 282.4L280.3 280.9L277.3 278.9L273.4 280.4z" fill="#060696" stroke="#02023c"/>
<path d="M272.5 283.9L276.4 282.4L273.4 280.4L269.5 281.9z" fill="#060696" stroke="#02023c"/>
<path d="M268.6 285.4L272.5 283.9L269.5 281.9L265.6 283.4z" fill="#060696" stroke="#02023c"/>
<path d="M264.7 286.9L268.6 285.4L265.6 283.4L261.7 284.9z" fill="#060696" stroke="#02023c"/>
<path d="M260.8 288.4L264.7 286.9L261.7 284.9L257.8 286.4z" fill="#060696" stroke="#02023c"/>
<path d="M256.9 289.9L260.8 288.4L257.8 286.4L253.8 287.9z" fill="#060696" stroke="#02023c"/>
<path d="M253 291.4L256.9 289.9L253.8 287.9L249.9 289.4z" fill="#060696" stroke="#02023c"/>
<path d="M249.1 292.9L253 291.4L249.9 289.4L246 290.9z" fill="#060696" stroke="#02023c"/>
<path d="M245.2 294.4L249.1 292.9L246 290.9L242.1 292.4z" fill="#060696" stroke="#02023c"/>
<path d="M241.2 295.9L245.2 294.4L242.1 292.4L238.2 293.9z" fill="#060696" stroke="#02023c"/>
<path d="M237.3 297.4L241.2 295.9L238.2 293.9L234.3 295.4z" fill="#060696" stroke="#02023c"/>
<path d="M233.4 298.9L237.3 297.4L234.3 295.4L230.4 297z" fill="#060696" stroke="#02023c"/>
<path d="M229.5 300.4L233.4 298.9L230.4 297L226.5 298.5z" fill="#060696" stroke="#02023c"/>
<path d="M225.6 301.9L229.5 300.4L226.5 298.5L222.6 300z" fill="#060696" stroke="#02023c"/>
<path d="M221.7 303.4L225.6 301.9L222.6 300L218.7 301.5z" fill="#060696" stroke="#02023c"/>
<path d="M217.8 304.9L221.7 303.4L218.7 301.5L214.8 303z" fill="#060696" stroke="#02023c"/>
<path d="M213.9 306.4L217.8 304.9L214.8 303L210.9 304.5z" fill="#060696" stroke="#02023c"/>
<path d="M210 307.9L213.9 306.4L210.9 304.5L207 306z" fill="#060696" stroke="#02023c"/>
<path d="M206.1 309.4L210 307.9L207 306L203.1 307.5z" fill="#060696" stroke="#02023c"/></g>
<g><path class="v" d="M775.5 251.5L775.5 81.5"/>
<path class="v" d="M537.6 218.1L537.6 48.1"/>
<path class="v" d="M745.3 231.8L745.3 61.8"/>
<path class="v" d="M576.6 203.1L576.6 33.1"/>
<path class="v" d="M715.1 212.2L715.1 42.2"/>
<path class="v" d="M615.6 188L615.6 18"/>
<path class="v" d="M684.9 192.6L684.9 22.6"/>
<path class="v" d="M654.7 173L654.7 3"/>
<path class="g" d="M498.5 233.2L654.7 173"/>
<path class="g" d="M654.7 173L775.5 251.5"/>
<path class="g" d="M498.5 211.9L654.7 151.7"/>
<path class="g" d="M654.7 151.7L775.5 230.2"/>
<path class="g" d="M498.5 190.7L654.7 130.5"/>
<path class="g" d="M654.7 130.5L775.5 209"/>
<path class="g" d="M498.5 169.4L654.7 109.2"/>
<path class="g" d="M654.7 109.2L775.5 187.7"/>
<path class="g" d="M498.5 148.2L654.7 88"/>
<path class="g" d="M654.7 88L775.5 166.5"/>
<path class="g" d="M498.5 126.9L654.7 66.7"/>
<path class="g" d="M654.7 66.7L775.5 145.2"/>
<path class="g" d="M498.5 105.7L654.7 45.5"/>
<path class="g" d="M654.7 45.5L775.5 124"/>
<path class="g" d="M498.5 84.4L654.7 24.2"/>
<path class="g" d="M654.7 24.2L775.5 102.7"/>
<path class="g" d="M498.5 63.2L654.7 3"/>
<path class="g" d="M654.7 3L775.5 81.5"/>
<path class="g" d="M658.4 296.6L537.6 218.1"/>
<path class="g" d="M589.1 292L745.3 231.8"/>
<path class="g" d="M697.4 281.6L576.6 203.1"/>
<path class="g" d="M558.9 272.4L715.1 212.2"/>
<path class="g" d="M736.4 266.5L615.6 188"/>
<path class="g" d="M528.7 252.8L684.9 192.6"/>
<path class="g" d="M775.5 251.5L654.7 173"/>
<path class="g" d="M498.5 233.2L654.7 173"/>
<path class="a" d="M498.5 233.2L498.5 63.2"/>
<path class="a" d="M619.3 311.6L775.5 251.5"/>
<path class="a" d="M619.3 311.6L498.5 233.2"/>
<path class="a" d="M619.3 311.6L622.7 313.8"/>
<path class="a" d="M619.3 311.6L615.6 313.1"/>
<path class="a" d="M658.4 296.6L661.7 298.8"/>
<path class="a" d="M589.1 292L585.4 293.5"/>
<path class="a" d="M697.4 281.6L700.8 283.7"/>
<path class="a" d="M558.9 272.4L555.2 273.8"/>
<path class="a" d="M736.4 266.5L739.8 268.7"/>
<path class="a" d="M528.7 252.8L525 254.2"/>
<path class="a" d="M775.5 251.5L778.9 253.6"/>
<path class="a" d="M498.5 233.2L494.8 234.6"/>
<path class="a" d="M498.5 233.2L494.8 234.6"/>
<path class="a" d="M498.5 211.9L494.8 213.3"/>
<path class="a" d="M498.5 190.7L494.8 192.1"/>
<path class="a" d="M498.5 169.4L494.8 170.8"/>
<path class="a" d="M498.5 148.2L494.8 149.6"/>
<path class="a" d="M498.5 126.9L494.8 128.3"/>
<path class="a" d="M498.5 105.7L494.8 107.1"/>
<path class="a" d="M498.5 84.4L494.8 85.8"/>
<path class="a" d="M498.5 63.2L494.8 64.6"/></g>
<g class="s" filter="url(#b)"><path d="M652.9 94.9L660.7 91.9L654.7 88L646.9 91z" fill="#2c5822" stroke="#2c5822"/>
<path d="M645.1 97.9L652.9 94.9L646.9 91L639.1 94z" fill="#2c5822" stroke="#2c5822"/>
<path d="M637.3 100.9L645.1 97.9L639.1 94L631.3 97z" fill="#2c5822" stroke="#2c5822"/>
<path d="M629.5 103.9L637.3 100.9L631.3 97L623.5 100z" fill="#2c5822" stroke="#2c5822"/>
<path d="M621.7 106.9L629.5 103.9L623.5 100L615.6 103z" fill="#2c5822" stroke="#2c5822"/>
<path d="M613.9 109.9L621.7 106.9L615.6 103L607.8 106z" fill="#2c5822" stroke="#2c5822"/>
<path d="M606.1 113L613.9 109.9L607.8 106L600 109z" fill="#2c5822" stroke="#2c5822"/>
<path d="M598.3 116L606.1 113L600 109L592.2 112z" fill="#295825" stroke="#295825"/>
<path d="M590.5 119L598.3 116L592.2 112L584.4 115z" fill="#295825" stroke="#295825"/>
<path d="M582.6 122L590.5 119L584.4 115L576.6 118.1z" fill="#295825" stroke="#295825"/>
<path d="M574.8 124.9L582.6 122L576.6 118.1L568.8 121.1z" fill="#2c5822" stroke="#2c5822"/>
<path d="M567 127.9L574.8 124.9L568.8 121.1L561 124.1z" fill="#2c5822" stroke="#2c5822"/>
<path d="M559.2 131L567 127.9L561 124.1L553.2 127.1z" fill="#2c5822" stroke="#2c5822"/>
<path d="M551.4 134L559.2 131L553.2 127.1L545.4 130.1z" fill="#2c5822" stroke="#2c5822"/>
<path d="M543.6 137L551.4 134L545.4 130.1L537.5 133.1z" fill="#2c5822" stroke="#2c5822"/>
<path d="M535.8 140L543.6 137L537.5 133.1L529.7 136.1z" fill="#2c5822" stroke="#2c5822"/>
<path d="M528 143L535.8 140L529.7 136.1L521.9 139.1z" fill="#2c5822" stroke="#2c5822"/>
<path d="M520.2 146.1L528 143L521.9 139.1L514.1 142.1z" fill="#2c5822" stroke="#2c5822"/>
<path d="M512.4 149.1L520.2 146.1L514.1 142.1L506.3 145.1z" fill="#2c5822" stroke="#2c5822"/>
<path d="M504.5 152.1L512.4 149.1L506.3 145.1L498.5 148.2z" fill="#2c5822" stroke="#2c5822"/>
<path d="M659 98.8L666.8 95.8L660.7 91.9L652.9 94.9z" fill="#2c5822" stroke="#2c5822"/>
<path d="M651.2 101.8L659 98.8L652.9 94.9L645.1 97.9z" fill="#2c5822" stroke="#2c5822"/>
<path d="M643.4 104.8L651.2 101.8L645.1 97.9L637.3 100.9z" fill="#2c5822" stroke="#2c5822"/>
<path d="M635.5 107.8L643.4 104.8L637.3 100.9L629.5 103.9z" fill="#2c5822" stroke="#2c5822"/>
<path d="M627.7 110.9L635.5 107.8L629.5 103.9L621.7 106.9z" fill="#2c5822" stroke="#2c5822"/>
<path d="M619.9 114.3L627.7 110.9L621.7 106.9L613.9 109.9z" fill="#295825" stroke="#295825"/>
<path d="M612.1 117.7L619.9 114.3L613.9 109.9L606.1 113z" fill="#295825" stroke="#295825"/>
<path d="M604.3 120.8L612.1 117.7L606.1 113L598.3 116z" fill="#2a5825" stroke="#2a5825"/>
<path d="M596.5 123.5L604.3 120.8L598.3 116L590.5 119z" fill="#295825" stroke="#295825"/>
<path d="M588.7 125.9L596.5 123.5L590.5 119L582.6 122z" fill="#295825" stroke="#295825"/>
<path d="M580.9 128.3L588.7 125.9L582.6 122L574.8 124.9z" fill="#2c5822" stroke="#2c5822"/>
<path d="M573.1 131L580.9 128.3L574.8 124.9L567 127.9z" fill="#2c5722" stroke="#2c5722"/>
<path d="M565.2 134.1L573.1 131L567 127.9L559.2 131z" fill="#2c5722" stroke="#2c5722"/>
<path d="M557.4 137.5L565.2 134.1L559.2 131L551.4 134z" fill="#2c5822" stroke="#2c5822"/>
<path d="M549.6 140.9L557.4 137.5L551.4 134L543.6 137z" fill="#2c5822" stroke="#2c5822"/>
<path d="M541.8 144L549.6 140.9L543.6 137L535.8 140z" fill="#2c5822" stroke="#2c5822"/>
<path d="M534 147L541.8 144L535.8 140L528 143z" fill="#2c5822" stroke="#2c5822"/>
<path d="M526.2 150L534 147L528 143L520.2 146.1z" fill="#2c5822" stroke="#2c5822"/>
<path d="M518.4 153L526.2 150L520.2 146.1L512.4 149.1z" fill="#2c5822" stroke="#2c5822"/>
<path d="M510.6 156L518.4 153L512.4 149.1L504.5 152.1z" fill="#2c5822" stroke="#2c5822"/>
<path d="M665 102.7L672.8 99.7L666.8 95.8L659 98.8z" fill="#2c5822" stroke="#2c5822"/>
<path d="M657.2 105.7L665 102.7L659 98.8L651.2 101.8z" fill="#2c5822" stroke="#2c5822"/>
<path d="M649.4 108.8L657.2 105.7L651.2 101.8L643.4 104.8z" fill="#2c5822" stroke="#2c5822"/>
<path d="M641.6 112L649.4 108.8L643.4 104.8L635.5 107.8z" fill="#295825" stroke="#295825"/>
<path d="M633.8 115.9L641.6 112L635.5 107.8L627.7 110.9z" fill="#2a5925" stroke="#2a5925"/>
<path d="M626 120.3L633.8 115.9L627.7 110.9L619.9 114.3z" fill="#2a5a25" stroke="#2a5a25"/>
<path d="M618.1 124.3L626 120.3L619.9 114.3L612.1 117.7z" fill="#2a5a25" stroke="#2a5a25"/>
<path d="M610.3 127.2L618.1 124.3L612.1 117.7L604.3 120.8z" fill="#2a5925" stroke="#2a5925"/>
<path d="M602.5 129L610.3 127.2L604.3 120.8L596.5 123.5z" fill="#295825" stroke="#295825"/>
<path d="M594.7 129.8L602.5 129L596.5 123.5L588.7 125.9z" fill="#285624" stroke="#285624"/>
<path d="M586.9 130.7L594.7 129.8L588.7 125.9L580.9 128.3z" fill="#2b5521" stroke="#2b5521"/>
<path d="M579.1 132.4L586.9 130.7L580.9 128.3L573.1 131z" fill="#2a5420" stroke="#2a5420"/>
<path d="M571.3 135.4L579.1 132.4L573.1 131L565.2 134.1z" fill="#2a5521" stroke="#2a5521"/>
<path d="M563.5 139.4L571.3 135.4L565.2 134.1L557.4 137.5z" fill="#2b5621" stroke="#2b5621"/>
<path d="M555.7 143.7L563.5 139.4L557.4 137.5L549.6 140.9z" fill="#2c5722" stroke="#2c5722"/>
<path d="M547.9 147.6L555.7 143.7L549.6 140.9L541.8 144z" fill="#2c5822" stroke="#2c5822"/>
<path d="M540 150.9L547.9 147.6L541.8 144L534 147z" fill="#2c5822" stroke="#2c5822"/>
<path d="M532.2 153.9L540 150.9L534 147L526.2 150z" fill="#2c5822" stroke="#2c5822"/>
<path d="M524.4 156.9L532.2 153.9L526.2 150L518.4 153z" fill="#2c5822" stroke="#2c5822"/>
<path d="M516.6 159.9L524.4 156.9L518.4 153L510.6 156z" fill="#2c5822" stroke="#2c5822"/>
<path d="M671 106.7L678.9 103.7L672.8 99.7L665 102.7z" fill="#2c5822" stroke="#2c5822"/>
<path d="M663.2 109.7L671 106.7L665 102.7L657.2 105.7z" fill="#2c5822" stroke="#2c5822"/>
<path d="M655.4 113L663.2 109.7L657.2 105.7L649.4 108.8z" fill="#295825" stroke="#295825"/>
<path d="M647.6 117.5L655.4 113L649.4 108.8L641.6 112z" fill="#2a5925" stroke="#2a5925"/>
<path d="M639.8 123.2L647.6 117.5L641.6 112L633.8 115.9z" fill="#2b5b26" stroke="#2b5b26"/>
<path d="M632 129.1L639.8 123.2L633.8 115.9L626 120.3z" fill="#2a592c" stroke="#2a592c"/>
<path d="M624.2 133.8L632 129.1L626 120.3L618.1 124.3z" fill="#29582c" stroke="#29582c"/>
<path d="M616.4 136.2L624.2 133.8L618.1 124.3L610.3 127.2z" fill="#285531" stroke="#285531"/>
<path d="M608.6 135.8L616.4 136.2L610.3 127.2L602.5 129z" fill="#275429" stroke="#275429"/>
<path d="M600.8 133.8L608.6 135.8L602.5 129L594.7 129.8z" fill="#275222" stroke="#275222"/>
<path d="M593 131.7L600.8 133.8L594.7 129.8L586.9 130.7z" fill="#28501f" stroke="#28501f"/>
<path d="M585.1 131.3L593 131.7L586.9 130.7L579.1 132.4z" fill="#2a4f1c" stroke="#2a4f1c"/>
<path d="M577.3 133.7L585.1 131.3L579.1 132.4L571.3 135.4z" fill="#355018" stroke="#355018"/>
<path d="M569.5 138.4L577.3 133.7L571.3 135.4L563.5 139.4z" fill="#2c521d" stroke="#2c521d"/>
<path d="M561.7 144.3L569.5 138.4L563.5 139.4L555.7 143.7z" fill="#2d551e" stroke="#2d551e"/>
<path d="M553.9 150L561.7 144.3L555.7 143.7L547.9 147.6z" fill="#2c5721" stroke="#2c5721"/>
<path d="M546.1 154.5L553.9 150L547.9 147.6L540 150.9z" fill="#2c5822" stroke="#2c5822"/>
<path d="M538.3 157.8L546.1 154.5L540 150.9L532.2 153.9z" fill="#2c5822" stroke="#2c5822"/>
<path d="M530.5 160.8L538.3 157.8L532.2 153.9L524.4 156.9z" fill="#2c5822" stroke="#2c5822"/>
<path d="M522.7 163.9L530.5 160.8L524.4 156.9L516.6 159.9z" fill="#2c5822" stroke="#2c5822"/>
<path d="M677.1 110.6L684.9 107.6L678.9 103.7L671 106.7z" fill="#2c5822" stroke="#2c5822"/>
<path d="M669.3 113.7L677.1 110.6L671 106.7L663.2 109.7z" fill="#2c5822" stroke="#2c5822"/>
<path d="M661.5 118.2L669.3 113.7L663.2 109.7L655.4 113z" fill="#2a5925" stroke="#2a5925"/>
<path d="M653.7 125L661.5 118.2L655.4 113L647.6 117.5z" fill="#2b5b26" stroke="#2b5b26"/>
<path d="M645.9 133.3L653.7 125L647.6 117.5L639.8 123.2z" fill="#2a5a2c" stroke="#2a5a2c"/>
<path d="M638 141.5L645.9 133.3L639.8 123.2L632 129.1z" fill="#285538" stroke="#285538"/>
<path d="M630.2 147.1L638 141.5L632 129.1L624.2 133.8z" fill="#26523d" stroke="#26523d"/>
<path d="M622.4 148.4L630.2 147.1L624.2 133.8L616.4 136.2z" fill="#244e3a" stroke="#244e3a"/>
<path d="M614.6 144.7L622.4 148.4L616.4 136.2L608.6 135.8z" fill="#234b32" stroke="#234b32"/>
<path d="M606.8 137.7L614.6 144.7L608.6 135.8L600.8 133.8z" fill="#224924" stroke="#224924"/>
<path d="M599 130.7L606.8 137.7L600.8 133.8L593 131.7z" fill="#30591f" stroke="#30591f"/>
<path d="M591.2 127L599 130.7L593 131.7L585.1 131.3z" fill="#475b17" stroke="#475b17"/>
<path d="M583.4 128.2L591.2 127L585.1 131.3L577.3 133.7z" fill="#4d5c14" stroke="#4d5c14"/>
<path d="M575.6 133.9L583.4 128.2L577.3 133.7L569.5 138.4z" fill="#4d5c14" stroke="#4d5c14"/>
<path d="M567.8 142L575.6 133.9L569.5 138.4L561.7 144.3z" fill="#405215" stroke="#405215"/>
<path d="M559.9 150.4L567.8 142L561.7 144.3L553.9 150z" fill="#2d551e" stroke="#2d551e"/>
<path d="M552.1 157.1L559.9 150.4L553.9 150L546.1 154.5z" fill="#2c5822" stroke="#2c5822"/>
<path d="M544.3 161.6L552.1 157.1L546.1 154.5L538.3 157.8z" fill="#2c5922" stroke="#2c5922"/>
<path d="M536.5 164.8L544.3 161.6L538.3 157.8L530.5 160.8z" fill="#2c5822" stroke="#2c5822"/>
<path d="M528.7 167.8L536.5 164.8L530.5 160.8L522.7 163.9z" fill="#2c5822" stroke="#2c5822"/>
<path d="M683.1 114.5L690.9 111.5L684.9 107.6L677.1 110.6z" fill="#2c5822" stroke="#2c5822"/>
<path d="M675.3 118.3L683.1 114.5L677.1 110.6L669.3 113.7z" fill="#295825" stroke="#295825"/>
<path d="M667.5 124.9L675.3 118.3L669.3 113.7L661.5 118.2z" fill="#2b5b26" stroke="#2b5b26"/>
<path d="M659.7 134.6L667.5 124.9L661.5 118.2L653.7 125z" fill="#2a5a2d" stroke="#2a5a2d"/>
<path d="M651.9 146.3L659.7 134.6L653.7 125L645.9 133.3z" fill="#27543e" stroke="#27543e"/>
<path d="M644.1 157.4L651.9 146.3L645.9 133.3L638 141.5z" fill="#204f45" stroke="#204f45"/>
<path d="M636.3 164.4L644.1 157.4L638 141.5L630.2 147.1z" fill="#18494b" stroke="#18494b"/>
<path d="M628.5 164.3L636.3 164.4L630.2 147.1L622.4 148.4z" fill="#174547" stroke="#174547"/>
<path d="M620.6 155.8L628.5 164.3L622.4 148.4L614.6 144.7z" fill="#1a4139" stroke="#1a4139"/>
<path d="M612.8 141.6L620.6 155.8L614.6 144.7L606.8 137.7z" fill="#1d3e24" stroke="#1d3e24"/>
<path d="M605 127.4L612.8 141.6L606.8 137.7L599 130.7z" fill="#3b5a1b" stroke="#3b5a1b"/>
<path d="M597.2 118.9L605 127.4L599 130.7L591.2 127z" fill="#5a5c0d" stroke="#5a5c0d"/>
<path d="M589.4 118.8L597.2 118.9L591.2 127L583.4 128.2z" fill="#605709" stroke="#605709"/>
<path d="M581.6 125.8L589.4 118.8L583.4 128.2L575.6 133.9z" fill="#605709" stroke="#605709"/>
<path d="M573.8 136.9L581.6 125.8L575.6 133.9L567.8 142z" fill="#4c4e0b" stroke="#4c4e0b"/>
<path d="M566 148.6L573.8 136.9L567.8 142L559.9 150.4z" fill="#465312" stroke="#465312"/>
<path d="M558.2 158.3L566 148.6L559.9 150.4L552.1 157.1z" fill="#2e561e" stroke="#2e561e"/>
<path d="M550.4 164.9L558.2 158.3L552.1 157.1L544.3 161.6z" fill="#2d5922" stroke="#2d5922"/>
<path d="M542.5 168.7L550.4 164.9L544.3 161.6L536.5 164.8z" fill="#2c5922" stroke="#2c5922"/>
<path d="M534.7 171.7L542.5 168.7L536.5 164.8L528.7 167.8z" fill="#2c5822" stroke="#2c5822"/>
<path d="M689.2 118.5L697 115.4L690.9 111.5L683.1 114.5z" fill="#2c5822" stroke="#2c5822"/>
<path d="M681.4 123.5L689.2 118.5L683.1 114.5L675.3 118.3z" fill="#2a5a25" stroke="#2a5a25"/>
<path d="M673.5 132.5L681.4 123.5L675.3 118.3L667.5 124.9z" fill="#2a5a2d" stroke="#2a5a2d"/>
<path d="M665.7 145.7L673.5 132.5L667.5 124.9L659.7 134.6z" fill="#285639" stroke="#285639"/>
<path d="M657.9 161.3L665.7 145.7L659.7 134.6L651.9 146.3z" fill="#1c4e4a" stroke="#1c4e4a"/>
<path d="M650.1 176L657.9 161.3L651.9 146.3L644.1 157.4z" fill="#12404c" stroke="#12404c"/>
<path d="M642.3 185.2L650.1 176L644.1 157.4L636.3 164.4z" fill="#0b2f4a" stroke="#0b2f4a"/>
<path d="M634.5 184L642.3 185.2L636.3 164.4L628.5 164.3z" fill="#092643" stroke="#092643"/>
<path d="M626.7 169.7L634.5 184L628.5 164.3L620.6 155.8z" fill="#0e313a" stroke="#0e313a"/>
<path d="M618.9 145.5L626.7 169.7L620.6 155.8L612.8 141.6z" fill="#26533d" stroke="#26533d"/>
<path d="M611.1 121.4L618.9 145.5L612.8 141.6L605 127.4z" fill="#4d5c14" stroke="#4d5c14"/>
<path d="M603.3 107.1L611.1 121.4L605 127.4L597.2 118.9z" fill="#5f4d09" stroke="#5f4d09"/>
<path d="M595.5 105.9L603.3 107.1L597.2 118.9L589.4 118.8z" fill="#5e3908" stroke="#5e3908"/>
<path d="M587.6 115.1L595.5 105.9L589.4 118.8L581.6 125.8z" fill="#5f3e08" stroke="#5f3e08"/>
<path d="M579.8 129.8L587.6 115.1L581.6 125.8L573.8 136.9z" fill="#4f4007" stroke="#4f4007"/>
<path d="M572 145.4L579.8 129.8L573.8 136.9L566 148.6z" fill="#555208" stroke="#555208"/>
<path d="M564.2 158.5L572 145.4L566 148.6L558.2 158.3z" fill="#435616" stroke="#435616"/>
<path d="M556.4 167.5L564.2 158.5L558.2 158.3L550.4 164.9z" fill="#2f591f" stroke="#2f591f"/>
<path d="M548.6 172.5L556.4 167.5L550.4 164.9L542.5 168.7z" fill="#2d5922" stroke="#2d5922"/>
<path d="M540.8 175.6L548.6 172.5L542.5 168.7L534.7 171.7z" fill="#2c5822" stroke="#2c5822"/>
<path d="M695.2 122.7L703 119.3L697 115.4L689.2 118.5z" fill="#295825" stroke="#295825"/>
<path d="M687.4 129L695.2 122.7L689.2 118.5L681.4 123.5z" fill="#2b5b26" stroke="#2b5b26"/>
<path d="M679.6 140.4L687.4 129L681.4 123.5L673.5 132.5z" fill="#295833" stroke="#295833"/>
<path d="M671.8 156.7L679.6 140.4L673.5 132.5L665.7 145.7z" fill="#235142" stroke="#235142"/>
<path d="M664 176.2L671.8 156.7L665.7 145.7L657.9 161.3z" fill="#12404d" stroke="#12404d"/>
<path d="M656.2 194.8L664 176.2L657.9 161.3L650.1 176z" fill="#09264b" stroke="#09264b"/>
<path d="M648.4 207.1L656.2 194.8L650.1 176L642.3 185.2z" fill="#061643" stroke="#061643"/>
<path d="M640.5 206.1L648.4 207.1L642.3 185.2L634.5 184z" fill="#05103b" stroke="#05103b"/>
<path d="M632.7 186.2L640.5 206.1L634.5 184L626.7 169.7z" fill="#061835" stroke="#061835"/>
<path d="M624.9 149.5L632.7 186.2L626.7 169.7L618.9 145.5z" fill="#205046" stroke="#205046"/>
<path d="M617.1 112.7L624.9 149.5L618.9 145.5L611.1 121.4z" fill="#5a5c0d" stroke="#5a5c0d"/>
<path d="M609.3 92.8L617.1 112.7L611.1 121.4L603.3 107.1z" fill="#5d2f07" stroke="#5d2f07"/>
<path d="M601.5 91.8L609.3 92.8L603.3 107.1L595.5 105.9z" fill="#581b06" stroke="#581b06"/>
<path d="M593.7 104.1L601.5 91.8L595.5 105.9L587.6 115.1z" fill="#592007" stroke="#592007"/>
<path d="M585.9 122.7L593.7 104.1L587.6 115.1L579.8 129.8z" fill="#4f2b06" stroke="#4f2b06"/>
<path d="M578.1 142.2L585.9 122.7L579.8 129.8L572 145.4z" fill="#544408" stroke="#544408"/>
<path d="M570.2 158.5L578.1 142.2L572 145.4L564.2 158.5z" fill="#4e560f" stroke="#4e560f"/>
<path d="M562.4 169.9L570.2 158.5L564.2 158.5L556.4 167.5z" fill="#3b591b" stroke="#3b591b"/>
<path d="M554.6 176.2L562.4 169.9L556.4 167.5L548.6 172.5z" fill="#2d5a23" stroke="#2d5a23"/>
<path d="M546.8 179.6L554.6 176.2L548.6 172.5L540.8 175.6z" fill="#2c5922" stroke="#2c5922"/>
<path d="M701.2 126.9L709.1 123.3L703 119.3L695.2 122.7z" fill="#2a5825" stroke="#2a5825"/>
<path d="M693.4 134.2L701.2 126.9L695.2 122.7L687.4 129z" fill="#2b5b26" stroke="#2b5b26"/>
<path d="M685.6 147.3L693.4 134.2L687.4 129L679.6 140.4z" fill="#295732" stroke="#295732"/>
<path d="M677.8 166L685.6 147.3L679.6 140.4L671.8 156.7z" fill="#1c4d49" stroke="#1c4d49"/>
<path d="M670 188.4L677.8 166L671.8 156.7L664 176.2z" fill="#0b304b" stroke="#0b304b"/>
<path d="M662.2 210.3L670 188.4L664 176.2L656.2 194.8z" fill="#061644" stroke="#061644"/>
<path d="M654.4 225.9L662.2 210.3L656.2 194.8L648.4 207.1z" fill="#04063b" stroke="#04063b"/>
<path d="M646.6 226.9L654.4 225.9L648.4 207.1L640.5 206.1z" fill="#030535" stroke="#030535"/>
<path d="M638.8 204.2L646.6 226.9L640.5 206.1L632.7 186.2z" fill="#03092b" stroke="#03092b"/>
<path d="M631 153.4L638.8 204.2L632.7 186.2L624.9 149.5z" fill="#16474e" stroke="#16474e"/>
<path d="M623.1 102.6L631 153.4L624.9 149.5L617.1 112.7z" fill="#605209" stroke="#605209"/>
<path d="M615.3 79.8L623.1 102.6L617.1 112.7L609.3 92.8z" fill="#551106" stroke="#551106"/>
<path d="M607.5 80.9L615.3 79.8L609.3 92.8L601.5 91.8z" fill="#460804" stroke="#460804"/>
<path d="M599.7 96.4L607.5 80.9L601.5 91.8L593.7 104.1z" fill="#3e0804" stroke="#3e0804"/>
<path d="M591.9 118.4L599.7 96.4L593.7 104.1L585.9 122.7z" fill="#4d1c06" stroke="#4d1c06"/>
<path d="M584.1 140.8L591.9 118.4L585.9 122.7L578.1 142.2z" fill="#553807" stroke="#553807"/>
<path d="M576.3 159.5L584.1 140.8L578.1 142.2L570.2 158.5z" fill="#5a5609" stroke="#5a5609"/>
<path d="M568.5 172.5L576.3 159.5L570.2 158.5L562.4 169.9z" fill="#3b591b" stroke="#3b591b"/>
<path d="M560.7 179.8L568.5 172.5L562.4 169.9L554.6 176.2z" fill="#2d5b23" stroke="#2d5b23"/>
<path d="M552.9 183.5L560.7 179.8L554.6 176.2L546.8 179.6z" fill="#2d5922" stroke="#2d5922"/>
<path d="M707.3 131L715.1 127.2L709.1 123.3L701.2 126.9z" fill="#2a5925" stroke="#2a5925"/>
<path d="M699.5 138.7L707.3 131L701.2 126.9L693.4 134.2z" fill="#2b5b26" stroke="#2b5b26"/>
<path d="M691.7 152.3L699.5 138.7L693.4 134.2L685.6 147.3z" fill="#275437" stroke="#275437"/>
<path d="M683.9 171.9L691.7 152.3L685.6 147.3L677.8 166z" fill="#184a4c" stroke="#184a4c"/>
<path d="M676 195.4L683.9 171.9L677.8 166L670 188.4z" fill="#0a2a4a" stroke="#0a2a4a"/>
<path d="M668.2 218.7L676 195.4L670 188.4L662.2 210.3z" fill="#050c3e" stroke="#050c3e"/>
<path d="M660.4 235.7L668.2 218.7L662.2 210.3L654.4 225.9z" fill="#03043b" stroke="#03043b"/>
<path d="M652.6 238.3L660.4 235.7L654.4 225.9L646.6 226.9z" fill="#020238" stroke="#020238"/>
<path d="M644.8 216.3L652.6 238.3L646.6 226.9L638.8 204.2z" fill="#03053c" stroke="#03053c"/>
<path d="M637 157.3L644.8 216.3L638.8 204.2L631 153.4z" fill="#0c374f" stroke="#0c374f"/>
<path d="M629.2 98.3L637 157.3L631 153.4L623.1 102.6z" fill="#5f4308" stroke="#5f4308"/>
<path d="M621.4 76.3L629.2 98.3L623.1 102.6L615.3 79.8z" fill="#420704" stroke="#420704"/>
<path d="M613.6 78.9L621.4 76.3L615.3 79.8L607.5 80.9z" fill="#300302" stroke="#300302"/>
<path d="M605.8 95.9L613.6 78.9L607.5 80.9L599.7 96.4z" fill="#390603" stroke="#390603"/>
<path d="M598 119.2L605.8 95.9L599.7 96.4L591.9 118.4z" fill="#4e0f05" stroke="#4e0f05"/>
<path d="M590.1 142.7L598 119.2L591.9 118.4L584.1 140.8z" fill="#573407" stroke="#573407"/>
<path d="M582.3 162.3L590.1 142.7L584.1 140.8L576.3 159.5z" fill="#5b5309" stroke="#5b5309"/>
<path d="M574.5 175.9L582.3 162.3L576.3 159.5L568.5 172.5z" fill="#465b17" stroke="#465b17"/>
<path d="M566.7 183.6L574.5 175.9L568.5 172.5L560.7 179.8z" fill="#2e5b23" stroke="#2e5b23"/>
<path d="M558.9 187.4L566.7 183.6L560.7 179.8L552.9 183.5z" fill="#2d5922" stroke="#2d5922"/>
<path d="M713.3 134.8L721.1 131.1L715.1 127.2L707.3 131z" fill="#2a5925" stroke="#2a5925"/>
<path d="M705.5 142.1L713.3 134.8L707.3 131L699.5 138.7z" fill="#2b5b26" stroke="#2b5b26"/>
<path d="M697.7 155.1L705.5 142.1L699.5 138.7L691.7 152.3z" fill="#275337" stroke="#275337"/>
<path d="M689.9 173.8L697.7 155.1L691.7 152.3L683.9 171.9z" fill="#18494a" stroke="#18494a"/>
<path d="M682.1 196.2L689.9 173.8L683.9 171.9L676 195.4z" fill="#0a2948" stroke="#0a2948"/>
<path d="M674.3 218.2L682.1 196.2L676 195.4L668.2 218.7z" fill="#040c3c" stroke="#040c3c"/>
<path d="M666.5 233.7L674.3 218.2L668.2 218.7L660.4 235.7z" fill="#030437" stroke="#030437"/>
<path d="M658.7 234.8L666.5 233.7L660.4 235.7L652.6 238.3z" fill="#02023a" stroke="#02023a"/>
<path d="M650.9 212L658.7 234.8L652.6 238.3L644.8 216.3z" fill="#03053c" stroke="#03053c"/>
<path d="M643 161.2L650.9 212L644.8 216.3L637 157.3z" fill="#0c374f" stroke="#0c374f"/>
<path d="M635.2 110.4L643 161.2L637 157.3L629.2 98.3z" fill="#5f4308" stroke="#5f4308"/>
<path d="M627.4 87.7L635.2 110.4L629.2 98.3L621.4 76.3z" fill="#420704" stroke="#420704"/>
<path d="M619.6 88.7L627.4 87.7L621.4 76.3L613.6 78.9z" fill="#2f0301" stroke="#2f0301"/>
<path d="M611.8 104.3L619.6 88.7L613.6 78.9L605.8 95.9z" fill="#3d0603" stroke="#3d0603"/>
<path d="M604 126.2L611.8 104.3L605.8 95.9L598 119.2z" fill="#511006" stroke="#511006"/>
<path d="M596.2 148.6L604 126.2L598 119.2L590.1 142.7z" fill="#593607" stroke="#593607"/>
<path d="M588.4 167.3L596.2 148.6L590.1 142.7L582.3 162.3z" fill="#5c5409" stroke="#5c5409"/>
<path d="M580.6 180.4L588.4 167.3L582.3 162.3L574.5 175.9z" fill="#475c17" stroke="#475c17"/>
<path d="M572.8 187.7L580.6 180.4L574.5 175.9L566.7 183.6z" fill="#2e5c23" stroke="#2e5c23"/>
<path d="M564.9 191.3L572.8 187.7L566.7 183.6L558.9 187.4z" fill="#2d5922" stroke="#2d5922"/>
<path d="M719.4 138.4L727.2 135.1L721.1 131.1L713.3 134.8z" fill="#295825" stroke="#295825"/>
<path d="M711.6 144.7L719.4 138.4L713.3 134.8L705.5 142.1z" fill="#2a5a26" stroke="#2a5a26"/>
<path d="M703.8 156.1L711.6 144.7L705.5 142.1L697.7 155.1z" fill="#275431" stroke="#275431"/>
<path d="M695.9 172.4L703.8 156.1L697.7 155.1L689.9 173.8z" fill="#1b4945" stroke="#1b4945"/>
<path d="M688.1 191.9L695.9 172.4L689.9 173.8L682.1 196.2z" fill="#0a2d46" stroke="#0a2d46"/>
<path d="M680.3 210.5L688.1 191.9L682.1 196.2L674.3 218.2z" fill="#06143e" stroke="#06143e"/>
<path d="M672.5 222.8L680.3 210.5L674.3 218.2L666.5 233.7z" fill="#030533" stroke="#030533"/>
<path d="M664.7 221.8L672.5 222.8L666.5 233.7L658.7 234.8z" fill="#03063c" stroke="#03063c"/>
<path d="M656.9 201.9L664.7 221.8L658.7 234.8L650.9 212z" fill="#050d41" stroke="#050d41"/>
<path d="M649.1 165.2L656.9 201.9L650.9 212L643 161.2z" fill="#16474e" stroke="#16474e"/>
<path d="M641.3 128.4L649.1 165.2L643 161.2L635.2 110.4z" fill="#605209" stroke="#605209"/>
<path d="M633.5 108.5L641.3 128.4L635.2 110.4L627.4 87.7z" fill="#380b04" stroke="#380b04"/>
<path d="M625.6 107.5L633.5 108.5L627.4 87.7L619.6 88.7z" fill="#3d0704" stroke="#3d0704"/>
<path d="M617.8 119.8L625.6 107.5L619.6 88.7L611.8 104.3z" fill="#480905" stroke="#480905"/>
<path d="M610 138.4L617.8 119.8L611.8 104.3L604 126.2z" fill="#561f06" stroke="#561f06"/>
<path d="M602.2 157.9L610 138.4L604 126.2L596.2 148.6z" fill="#5b3c08" stroke="#5b3c08"/>
<path d="M594.4 174.2L602.2 157.9L596.2 148.6L588.4 167.3z" fill="#5e5b09" stroke="#5e5b09"/>
<path d="M586.6 185.6L594.4 174.2L588.4 167.3L580.6 180.4z" fill="#3c5c1c" stroke="#3c5c1c"/>
<path d="M578.8 191.9L586.6 185.6L580.6 180.4L572.8 187.7z" fill="#2e5c23" stroke="#2e5c23"/>
<path d="M571 195.2L578.8 191.9L572.8 187.7L564.9 191.3z" fill="#2d5922" stroke="#2d5922"/>
<path d="M725.4 142.1L733.2 139L727.2 135.1L719.4 138.4z" fill="#295825" stroke="#295825"/>
<path d="M717.6 147.1L725.4 142.1L719.4 138.4L711.6 144.7z" fill="#2a5a25" stroke="#2a5a25"/>
<path d="M709.8 156.1L717.6 147.1L711.6 144.7L703.8 156.1z" fill="#285531" stroke="#285531"/>
<path d="M702 169.2L709.8 156.1L703.8 156.1L695.9 172.4z" fill="#214c3d" stroke="#214c3d"/>
<path d="M694.2 184.8L702 169.2L695.9 172.4L688.1 191.9z" fill="#113a45" stroke="#113a45"/>
<path d="M686.4 199.5L694.2 184.8L688.1 191.9L680.3 210.5z" fill="#082141" stroke="#082141"/>
<path d="M678.5 208.7L686.4 199.5L680.3 210.5L672.5 222.8z" fill="#061747" stroke="#061747"/>
<path d="M670.7 207.5L678.5 208.7L672.5 222.8L664.7 221.8z" fill="#061345" stroke="#061345"/>
<path d="M662.9 193.2L670.7 207.5L664.7 221.8L656.9 201.9z" fill="#08234d" stroke="#08234d"/>
<path d="M655.1 169.1L662.9 193.2L656.9 201.9L649.1 165.2z" fill="#205046" stroke="#205046"/>
<path d="M647.3 144.9L655.1 169.1L649.1 165.2L641.3 128.4z" fill="#5a5c0d" stroke="#5a5c0d"/>
<path d="M639.5 130.6L647.3 144.9L641.3 128.4L633.5 108.5z" fill="#402105" stroke="#402105"/>
<path d="M631.7 129.4L639.5 130.6L633.5 108.5L625.6 107.5z" fill="#4a1706" stroke="#4a1706"/>
<path d="M623.9 138.6L631.7 129.4L625.6 107.5L617.8 119.8z" fill="#541e06" stroke="#541e06"/>
<path d="M616.1 153.3L623.9 138.6L617.8 119.8L610 138.4z" fill="#5b3207" stroke="#5b3207"/>
<path d="M608.3 168.9L616.1 153.3L610 138.4L602.2 157.9z" fill="#5d4b09" stroke="#5d4b09"/>
<path d="M600.5 182.1L608.3 168.9L602.2 157.9L594.4 174.2z" fill="#545c10" stroke="#545c10"/>
<path d="M592.6 191.1L600.5 182.1L594.4 174.2L586.6 185.6z" fill="#3d5d1c" stroke="#3d5d1c"/>
<path d="M584.8 196.1L592.6 191.1L586.6 185.6L578.8 191.9z" fill="#2e5c23" stroke="#2e5c23"/>
<path d="M577 199.2L584.8 196.1L578.8 191.9L571 195.2z" fill="#2c5922" stroke="#2c5922"/>
<path d="M731.5 145.9L739.3 142.9L733.2 139L725.4 142.1z" fill="#2c5822" stroke="#2c5822"/>
<path d="M723.6 149.7L731.5 145.9L725.4 142.1L717.6 147.1z" fill="#2a5925" stroke="#2a5925"/>
<path d="M715.8 156.3L723.6 149.7L717.6 147.1L709.8 156.1z" fill="#29572b" stroke="#29572b"/>
<path d="M708 166L715.8 156.3L709.8 156.1L702 169.2z" fill="#254f34" stroke="#254f34"/>
<path d="M700.2 177.7L708 166L702 169.2L694.2 184.8z" fill="#194542" stroke="#194542"/>
<path d="M692.4 188.8L700.2 177.7L694.2 184.8L686.4 199.5z" fill="#103741" stroke="#103741"/>
<path d="M684.6 195.8L692.4 188.8L686.4 199.5L678.5 208.7z" fill="#0b324e" stroke="#0b324e"/>
<path d="M676.8 195.7L684.6 195.8L678.5 208.7L670.7 207.5z" fill="#0a2d4e" stroke="#0a2d4e"/>
<path d="M669 187.2L676.8 195.7L670.7 207.5L662.9 193.2z" fill="#13424f" stroke="#13424f"/>
<path d="M661.2 173L669 187.2L662.9 193.2L655.1 169.1z" fill="#26533d" stroke="#26533d"/>
<path d="M653.4 158.8L661.2 173L655.1 169.1L647.3 144.9z" fill="#4d5c14" stroke="#4d5c14"/>
<path d="M645.5 150.3L653.4 158.8L647.3 144.9L639.5 130.6z" fill="#473907" stroke="#473907"/>
<path d="M637.7 150.2L645.5 150.3L639.5 130.6L631.7 129.4z" fill="#513107" stroke="#513107"/>
<path d="M629.9 157.2L637.7 150.2L631.7 129.4L623.9 138.6z" fill="#593a08" stroke="#593a08"/>
<path d="M622.1 168.3L629.9 157.2L623.9 138.6L616.1 153.3z" fill="#5d4b09" stroke="#5d4b09"/>
<path d="M614.3 180L622.1 168.3L616.1 153.3L608.3 168.9z" fill="#605c0a" stroke="#605c0a"/>
<path d="M606.5 189.7L614.3 180L608.3 168.9L600.5 182.1z" fill="#495d18" stroke="#495d18"/>
<path d="M598.7 196.3L606.5 189.7L600.5 182.1L592.6 191.1z" fill="#325d21" stroke="#325d21"/>
<path d="M590.9 200.1L598.7 196.3L592.6 191.1L584.8 196.1z" fill="#2d5a23" stroke="#2d5a23"/>
<path d="M583.1 203.1L590.9 200.1L584.8 196.1L577 199.2z" fill="#2c5822" stroke="#2c5822"/>
<path d="M737.5 149.8L745.3 146.8L739.3 142.9L731.5 145.9z" fill="#2c5822" stroke="#2c5822"/>
<path d="M729.7 153L737.5 149.8L731.5 145.9L723.6 149.7z" fill="#295825" stroke="#295825"/>
<path d="M721.9 157.5L729.7 153L723.6 149.7L715.8 156.3z" fill="#2a5825" stroke="#2a5825"/>
<path d="M714.1 164.2L721.9 157.5L715.8 156.3L708 166z" fill="#27542a" stroke="#27542a"/>
<path d="M706.2 172.6L714.1 164.2L708 166L700.2 177.7z" fill="#234b38" stroke="#234b38"/>
<path d="M698.4 180.7L706.2 172.6L700.2 177.7L692.4 188.8z" fill="#1b443b" stroke="#1b443b"/>
<path d="M690.6 186.4L698.4 180.7L692.4 188.8L684.6 195.8z" fill="#194d4e" stroke="#194d4e"/>
<path d="M682.8 187.6L690.6 186.4L684.6 195.8L676.8 195.7z" fill="#194d4e" stroke="#194d4e"/>
<path d="M675 183.9L682.8 187.6L676.8 195.7L669 187.2z" fill="#205046" stroke="#205046"/>
<path d="M667.2 176.9L675 183.9L669 187.2L661.2 173z" fill="#285531" stroke="#285531"/>
<path d="M659.4 169.9L667.2 176.9L661.2 173L653.4 158.8z" fill="#2b4214" stroke="#2b4214"/>
<path d="M651.6 166.2L659.4 169.9L653.4 158.8L645.5 150.3z" fill="#494b0b" stroke="#494b0b"/>
<path d="M643.8 167.5L651.6 166.2L645.5 150.3L637.7 150.2z" fill="#564e08" stroke="#564e08"/>
<path d="M636 173.1L643.8 167.5L637.7 150.2L629.9 157.2z" fill="#5c5309" stroke="#5c5309"/>
<path d="M628.1 181.3L636 173.1L629.9 157.2L622.1 168.3z" fill="#595b0d" stroke="#595b0d"/>
<path d="M620.3 189.6L628.1 181.3L622.1 168.3L614.3 180z" fill="#4f5d14" stroke="#4f5d14"/>
<path d="M612.5 196.4L620.3 189.6L614.3 180L606.5 189.7z" fill="#315d21" stroke="#315d21"/>
<path d="M604.7 200.9L612.5 196.4L606.5 189.7L598.7 196.3z" fill="#2e5c23" stroke="#2e5c23"/>
<path d="M596.9 204L604.7 200.9L598.7 196.3L590.9 200.1z" fill="#2d5922" stroke="#2d5922"/>
<path d="M589.1 207L596.9 204L590.9 200.1L583.1 203.1z" fill="#2c5822" stroke="#2c5822"/>
<path d="M743.5 153.8L751.3 150.8L745.3 146.8L737.5 149.8z" fill="#2c5822" stroke="#2c5822"/>
<path d="M735.7 156.8L743.5 153.8L737.5 149.8L729.7 153z" fill="#2c5822" stroke="#2c5822"/>
<path d="M727.9 160.1L735.7 156.8L729.7 153L721.9 157.5z" fill="#295825" stroke="#295825"/>
<path d="M720.1 164.6L727.9 160.1L721.9 157.5L714.1 164.2z" fill="#295724" stroke="#295724"/>
<path d="M712.3 170.3L720.1 164.6L714.1 164.2L706.2 172.6z" fill="#275229" stroke="#275229"/>
<path d="M704.5 176.2L712.3 170.3L706.2 172.6L698.4 180.7z" fill="#234b31" stroke="#234b31"/>
<path d="M696.7 180.9L704.5 176.2L698.4 180.7L690.6 186.4z" fill="#26533d" stroke="#26533d"/>
<path d="M688.9 183.3L696.7 180.9L690.6 186.4L682.8 187.6z" fill="#26533d" stroke="#26533d"/>
<path d="M681 182.9L688.9 183.3L682.8 187.6L675 183.9z" fill="#275437" stroke="#275437"/>
<path d="M673.2 180.9L681 182.9L675 183.9L667.2 176.9z" fill="#29572b" stroke="#29572b"/>
<path d="M665.4 178.8L673.2 180.9L667.2 176.9L659.4 169.9z" fill="#284b1a" stroke="#284b1a"/>
<path d="M657.6 178.4L665.4 178.8L659.4 169.9L651.6 166.2z" fill="#405215" stroke="#405215"/>
<path d="M649.8 180.8L657.6 178.4L651.6 166.2L643.8 167.5z" fill="#495713" stroke="#495713"/>
<path d="M642 185.5L649.8 180.8L643.8 167.5L636 173.1z" fill="#4c5a13" stroke="#4c5a13"/>
<path d="M634.2 191.4L642 185.5L636 173.1L628.1 181.3z" fill="#485d17" stroke="#485d17"/>
<path d="M626.4 197.1L634.2 191.4L628.1 181.3L620.3 189.6z" fill="#315d21" stroke="#315d21"/>
<path d="M618.6 201.6L626.4 197.1L620.3 189.6L612.5 196.4z" fill="#2e5c23" stroke="#2e5c23"/>
<path d="M610.8 204.9L618.6 201.6L612.5 196.4L604.7 200.9z" fill="#2d5a23" stroke="#2d5a23"/>
<path d="M603 207.9L610.8 204.9L604.7 200.9L596.9 204z" fill="#2c5822" stroke="#2c5822"/>
<path d="M595.1 211L603 207.9L596.9 204L589.1 207z" fill="#2c5822" stroke="#2c5822"/>
<path d="M749.6 157.7L757.4 154.7L751.3 150.8L743.5 153.8z" fill="#2c5822" stroke="#2c5822"/>
<path d="M741.8 160.7L749.6 157.7L743.5 153.8L735.7 156.8z" fill="#2c5822" stroke="#2c5822"/>
<path d="M734 163.7L741.8 160.7L735.7 156.8L727.9 160.1z" fill="#295825" stroke="#295825"/>
<path d="M726.1 167L734 163.7L727.9 160.1L720.1 164.6z" fill="#295825" stroke="#295825"/>
<path d="M718.3 170.9L726.1 167L720.1 164.6L712.3 170.3z" fill="#295724" stroke="#295724"/>
<path d="M710.5 175.2L718.3 170.9L712.3 170.3L704.5 176.2z" fill="#275229" stroke="#275229"/>
<path d="M702.7 179.2L710.5 175.2L704.5 176.2L696.7 180.9z" fill="#254f27" stroke="#254f27"/>
<path d="M694.9 182.2L702.7 179.2L696.7 180.9L688.9 183.3z" fill="#244c2c" stroke="#244c2c"/>
<path d="M687.1 183.9L694.9 182.2L688.9 183.3L681 182.9z" fill="#244d26" stroke="#244d26"/>
<path d="M679.3 184.8L687.1 183.9L681 182.9L673.2 180.9z" fill="#254f21" stroke="#254f21"/>
<path d="M671.5 185.6L679.3 184.8L673.2 180.9L665.4 178.8z" fill="#295320" stroke="#295320"/>
<path d="M663.7 187.4L671.5 185.6L665.4 178.8L657.6 178.4z" fill="#2e561e" stroke="#2e561e"/>
<path d="M655.9 190.3L663.7 187.4L657.6 178.4L649.8 180.8z" fill="#3b5a1b" stroke="#3b5a1b"/>
<path d="M648 194.3L655.9 190.3L649.8 180.8L642 185.5z" fill="#305b20" stroke="#305b20"/>
<path d="M640.2 198.7L648 194.3L642 185.5L634.2 191.4z" fill="#315c20" stroke="#315c20"/>
<path d="M632.4 202.6L640.2 198.7L634.2 191.4L626.4 197.1z" fill="#2e5b23" stroke="#2e5b23"/>
<path d="M624.6 205.8L632.4 202.6L626.4 197.1L618.6 201.6z" fill="#2d5a23" stroke="#2d5a23"/>
<path d="M616.8 208.9L624.6 205.8L618.6 201.6L610.8 204.9z" fill="#2c5822" stroke="#2c5822"/>
<path d="M609 211.9L616.8 208.9L610.8 204.9L603 207.9z" fill="#2c5822" stroke="#2c5822"/>
<path d="M601.2 214.9L609 211.9L603 207.9L595.1 211z" fill="#2c5822" stroke="#2c5822"/>
<path d="M755.6 161.6L763.4 158.6L757.4 154.7L749.6 157.7z" fill="#2c5822" stroke="#2c5822"/>
<path d="M747.8 164.6L755.6 161.6L749.6 157.7L741.8 160.7z" fill="#2c5822" stroke="#2c5822"/>
<path d="M740 167.6L747.8 164.6L741.8 160.7L734 163.7z" fill="#2c5822" stroke="#2c5822"/>
<path d="M732.2 170.6L740 167.6L734 163.7L726.1 167z" fill="#295825" stroke="#295825"/>
<path d="M724.4 173.7L732.2 170.6L726.1 167L718.3 170.9z" fill="#295825" stroke="#295825"/>
<path d="M716.6 177.1L724.4 173.7L718.3 170.9L710.5 175.2z" fill="#295724" stroke="#295724"/>
<path d="M708.8 180.5L716.6 177.1L710.5 175.2L702.7 179.2z" fill="#285524" stroke="#285524"/>
<path d="M700.9 183.6L708.8 180.5L702.7 179.2L694.9 182.2z" fill="#285423" stroke="#285423"/>
<path d="M693.1 186.3L700.9 183.6L694.9 182.2L687.1 183.9z" fill="#275423" stroke="#275423"/>
<path d="M685.3 188.7L693.1 186.3L687.1 183.9L679.3 184.8z" fill="#285523" stroke="#285523"/>
<path d="M677.5 191.1L685.3 188.7L679.3 184.8L671.5 185.6z" fill="#2b5721" stroke="#2b5721"/>
<path d="M669.7 193.8L677.5 191.1L671.5 185.6L663.7 187.4z" fill="#2c5822" stroke="#2c5822"/>
<path d="M661.9 196.9L669.7 193.8L663.7 187.4L655.9 190.3z" fill="#2d5a22" stroke="#2d5a22"/>
<path d="M654.1 200.3L661.9 196.9L655.9 190.3L648 194.3z" fill="#2d5a23" stroke="#2d5a23"/>
<path d="M646.3 203.7L654.1 200.3L648 194.3L640.2 198.7z" fill="#2d5a23" stroke="#2d5a23"/>
<path d="M638.5 206.8L646.3 203.7L640.2 198.7L632.4 202.6z" fill="#2d5922" stroke="#2d5922"/>
<path d="M630.6 209.8L638.5 206.8L632.4 202.6L624.6 205.8z" fill="#2c5822" stroke="#2c5822"/>
<path d="M622.8 212.8L630.6 209.8L624.6 205.8L616.8 208.9z" fill="#2c5822" stroke="#2c5822"/>
<path d="M615 215.8L622.8 212.8L616.8 208.9L609 211.9z" fill="#2c5822" stroke="#2c5822"/>
<path d="M607.2 218.8L615 215.8L609 211.9L601.2 214.9z" fill="#2c5822" stroke="#2c5822"/>
<path d="M761.6 165.5L769.5 162.5L763.4 158.6L755.6 161.6z" fill="#2c5822" stroke="#2c5822"/>
<path d="M753.8 168.5L761.6 165.5L755.6 161.6L747.8 164.6z" fill="#2c5822" stroke="#2c5822"/>
<path d="M746 171.6L753.8 168.5L747.8 164.6L740 167.6z" fill="#2c5822" stroke="#2c5822"/>
<path d="M738.2 174.6L746 171.6L740 167.6L732.2 170.6z" fill="#2c5822" stroke="#2c5822"/>
<path d="M730.4 177.6L738.2 174.6L732.2 170.6L724.4 173.7z" fill="#2c5822" stroke="#2c5822"/>
<path d="M722.6 180.6L730.4 177.6L724.4 173.7L716.6 177.1z" fill="#295825" stroke="#295825"/>
<path d="M714.8 183.6L722.6 180.6L716.6 177.1L708.8 180.5z" fill="#295724" stroke="#295724"/>
<path d="M707 186.7L714.8 183.6L708.8 180.5L700.9 183.6z" fill="#295724" stroke="#295724"/>
<path d="M699.2 189.7L707 186.7L700.9 183.6L693.1 186.3z" fill="#295724" stroke="#295724"/>
<path d="M691.4 192.6L699.2 189.7L693.1 186.3L685.3 188.7z" fill="#295724" stroke="#295724"/>
<path d="M683.5 195.6L691.4 192.6L685.3 188.7L677.5 191.1z" fill="#2c5822" stroke="#2c5822"/>
<path d="M675.7 198.6L683.5 195.6L677.5 191.1L669.7 193.8z" fill="#2c5922" stroke="#2c5922"/>
<path d="M667.9 201.6L675.7 198.6L669.7 193.8L661.9 196.9z" fill="#2d5922" stroke="#2d5922"/>
<path d="M660.1 204.7L667.9 201.6L661.9 196.9L654.1 200.3z" fill="#2d5922" stroke="#2d5922"/>
<path d="M652.3 207.7L660.1 204.7L654.1 200.3L646.3 203.7z" fill="#2c5922" stroke="#2c5922"/>
<path d="M644.5 210.7L652.3 207.7L646.3 203.7L638.5 206.8z" fill="#2c5822" stroke="#2c5822"/>
<path d="M636.7 213.7L644.5 210.7L638.5 206.8L630.6 209.8z" fill="#2c5822" stroke="#2c5822"/>
<path d="M628.9 216.7L636.7 213.7L630.6 209.8L622.8 212.8z" fill="#2c5822" stroke="#2c5822"/>
<path d="M621.1 219.7L628.9 216.7L622.8 212.8L615 215.8z" fill="#2c5822" stroke="#2c5822"/>
<path d="M613.3 222.7L621.1 219.7L615 215.8L607.2 218.8z" fill="#2c5822" stroke="#2c5822"/>
<path d="M767.7 169.5L775.5 166.5L769.5 162.5L761.6 165.5z" fill="#2c5822" stroke="#2c5822"/>
<path d="M759.9 172.5L767.7 169.5L761.6 165.5L753.8 168.5z" fill="#2c5822" stroke="#2c5822"/>
<path d="M752.1 175.5L759.9 172.5L753.8 168.5L746 171.6z" fill="#2c5822" stroke="#2c5822"/>
<path d="M744.3 178.5L752.1 175.5L746 171.6L738.2 174.6z" fill="#2c5822" stroke="#2c5822"/>
<path d="M736.5 181.5L744.3 178.5L738.2 174.6L730.4 177.6z" fill="#2c5822" stroke="#2c5822"/>
<path d="M728.6 184.5L736.5 181.5L730.4 177.6L722.6 180.6z" fill="#2c5822" stroke="#2c5822"/>
<path d="M720.8 187.5L728.6 184.5L722.6 180.6L714.8 183.6z" fill="#2c5822" stroke="#2c5822"/>
<path d="M713 190.5L720.8 187.5L714.8 183.6L707 186.7z" fill="#295825" stroke="#295825"/>
<path d="M705.2 193.5L713 190.5L707 186.7L699.2 189.7z" fill="#295825" stroke="#295825"/>
<path d="M697.4 196.6L705.2 193.5L699.2 189.7L691.4 192.6z" fill="#295825" stroke="#295825"/>
<path d="M689.6 199.6L697.4 196.6L691.4 192.6L683.5 195.6z" fill="#2c5822" stroke="#2c5822"/>
<path d="M681.8 202.6L689.6 199.6L683.5 195.6L675.7 198.6z" fill="#2c5822" stroke="#2c5822"/>
<path d="M674 205.6L681.8 202.6L675.7 198.6L667.9 201.6z" fill="#2c5822" stroke="#2c5822"/>
<path d="M666.2 208.6L674 205.6L667.9 201.6L660.1 204.7z" fill="#2c5822" stroke="#2c5822"/>
<path d="M658.4 211.6L666.2 208.6L660.1 204.7L652.3 207.7z" fill="#2c5822" stroke="#2c5822"/>
<path d="M650.5 214.6L658.4 211.6L652.3 207.7L644.5 210.7z" fill="#2c5822" stroke="#2c5822"/>
<path d="M642.7 217.6L650.5 214.6L644.5 210.7L636.7 213.7z" fill="#2c5822" stroke="#2c5822"/>
<path d="M634.9 220.6L642.7 217.6L636.7 213.7L628.9 216.7z" fill="#2c5822" stroke="#2c5822"/>
<path d="M627.1 223.6L634.9 220.6L628.9 216.7L621.1 219.7z" fill="#2c5822" stroke="#2c5822"/>
<path d="M619.3 226.7L627.1 223.6L621.1 219.7L613.3 222.7z" fill="#2c5822" stroke="#2c5822"/>
<path d="M653.8 91.4L657.7 89.9L654.7 88L650.8 89.5z" fill="#6fdd55" stroke="#2c5822"/>
<path d="M649.9 92.9L653.8 91.4L650.8 89.5L646.9 91z" fill="#6fdd55" stroke="#2c5822"/>
<path d="M646 94.4L649.9 92.9L646.9 91L643 92.5z" fill="#6fdd55" stroke="#2c5822"/>
<path d="M642.1 95.9L646 94.4L643 92.5L639.1 94z" fill="#6fdd55" stroke="#2c5822"/>
<path d="M638.2 97.4L642.1 95.9L639.1 94L635.2 95.5z" fill="#6fdd55" stroke="#2c5822"/>
<path d="M634.3 98.9L638.2 97.4L635.2 95.5L631.3 97z" fill="#6fdd55" stroke="#2c5822"/>
<path d="M630.4 100.4L634.3 98.9L631.3 97L627.4 98.5z" fill="#6fdd55" stroke="#2c5822"/>
<path d="M626.5 102L630.4 100.4L627.4 98.5L623.5 100z" fill="#6fdd55" stroke="#2c5822"/>
<path d="M622.6 103.5L626.5 102L623.5 100L619.6 101.5z" fill="#6fdd55" stroke="#2c5822"/>
<path d="M618.7 105L622.6 103.5L619.6 101.5L615.6 103z" fill="#6fdd55" stroke="#2c5822"/>
<path d="M614.8 106.5L618.7 105L615.6 103L611.7 104.5z" fill="#6fdd55" stroke="#2c5822"/>
<path d="M610.9 108L614.8 106.5L611.7 104.5L607.8 106z" fill="#6fdd55" stroke="#2c5822"/>
<path d="M607 109.5L610.9 108L607.8 106L603.9 107.5z" fill="#6fdd55" stroke="#2c5822"/>
<path d="M603 111L607 109.5L603.9 107.5L600 109z" fill="#67db5b" stroke="#295825"/>
<path d="M599.1 112.5L603 111L600 109L596.1 110.5z" fill="#67db5b" stroke="#295825"/>
<path d="M595.2 114L599.1 112.5L596.1 110.5L592.2 112z" fill="#67db5b" stroke="#295825"/>
<path d="M591.3 115.5L595.2 114L592.2 112L588.3 113.5z" fill="#67db5c" stroke="#295825"/>
<path d="M587.4 117L591.3 115.5L588.3 113.5L584.4 115z" fill="#67db5c" stroke="#295825"/>
<path d="M583.5 118.5L587.4 117L584.4 115L580.5 116.5z" fill="#67db5b" stroke="#295825"/>
<path d="M579.6 120L583.5 118.5L580.5 116.5L576.6 118.1z" fill="#6fdd55" stroke="#2c5822"/>
<path d="M575.7 121.5L579.6 120L576.6 118.1L572.7 119.6z" fill="#6edc55" stroke="#2c5822"/>
<path d="M571.8 123L575.7 121.5L572.7 119.6L568.8 121.1z" fill="#6edc55" stroke="#2c5822"/>
<path d="M567.9 124.5L571.8 123L568.8 121.1L564.9 122.6z" fill="#6edc55" stroke="#2c5822"/>
<path d="M564 126L567.9 124.5L564.9 122.6L561 124.1z" fill="#6edc55" stroke="#2c5822"/>
<path d="M560.1 127.5L564 126L561 124.1L557.1 125.6z" fill="#6edc55" stroke="#2c5822"/>
<path d="M556.2 129L560.1 127.5L557.1 125.6L553.2 127.1z" fill="#6edc55" stroke="#2c5822"/>
<path d="M552.3 130.5L556.2 129L553.2 127.1L549.3 128.6z" fill="#6edd55" stroke="#2c5822"/>
<path d="M548.4 132.1L552.3 130.5L549.3 128.6L545.4 130.1z" fill="#6fdd55" stroke="#2c5822"/>
<path d="M544.5 133.6L548.4 132.1L545.4 130.1L541.5 131.6z" fill="#6fdd55" stroke="#2c5822"/>
<path d="M540.6 135.1L544.5 133.6L541.5 131.6L537.5 133.1z" fill="#6fdd55" stroke="#2c5822"/>
<path d="M536.7 136.6L540.6 135.1L537.5 133.1L533.6 134.6z" fill="#6fdd55" stroke="#2c5822"/>
<path d="M532.8 138.1L536.7 136.6L533.6 134.6L529.7 136.1z" fill="#6fdd55" stroke="#2c5822"/>
<path d="M528.9 139.6L532.8 138.1L529.7 136.1L525.8 137.6z" fill="#6fdd55" stroke="#2c5822"/>
<path d="M525 141.1L528.9 139.6L525.8 137.6L521.9 139.1z" fill="#6fdd55" stroke="#2c5822"/>
<path d="M521 142.6L525 141.1L521.9 139.1L518 140.6z" fill="#6fdd55" stroke="#2c5822"/>
<path d="M517.1 144.1L521 142.6L518 140.6L514.1 142.1z" fill="#6fdd55" stroke="#2c5822"/>
<path d="M513.2 145.6L517.1 144.1L514.1 142.1L510.2 143.6z" fill="#6fdd55" stroke="#2c5822"/>
<path d="M509.3 147.1L513.2 145.6L510.2 143.6L506.3 145.1z" fill="#6fdd55" stroke="#2c5822"/>
<path d="M505.4 148.6L509.3 147.1L506.3 145.1L502.4 146.6z" fill="#6fdd55" stroke="#2c5822"/>
<path d="M501.5 150.1L505.4 148.6L502.4 146.6L498.5 148.2z" fill="#6fdd55" stroke="#2c5822"/>
<path d="M656.8 93.4L660.7 91.9L657.7 89.9L653.8 91.4z" fill="#6fdd55" stroke="#2c5822"/>
<path d="M652.9 94.9L656.8 93.4L653.8 91.4L649.9 92.9z" fill="#6fdd55" stroke="#2c5822"/>
<path d="M649 96.4L652.9 94.9L649.9 92.9L646 94.4z" fill="#6fdd55" stroke="#2c5822"/>
<path d="M645.1 97.9L649 96.4L646 94.4L642.1 95.9z" fill="#6fdd55" stroke="#2c5822"/>
<path d="M641.2 99.4L645.1 97.9L642.1 95.9L638.2 97.4z" fill="#6fdd55" stroke="#2c5822"/>
<path d="M637.3 100.9L641.2 99.4L638.2 97.4L634.3 98.9z" fill="#6fdd55" stroke="#2c5822"/>
<path d="M633.4 102.4L637.3 100.9L634.3 98.9L630.4 100.4z" fill="#6fdd55" stroke="#2c5822"/>
<path d="M629.5 103.9L633.4 102.4L630.4 100.4L626.5 102z" fill="#6fdd55" stroke="#2c5822"/>
<path d="M625.6 105.4L629.5 103.9L626.5 102L622.6 103.5z" fill="#6fdd55" stroke="#2c5822"/>
<path d="M621.7 106.9L625.6 105.4L622.6 103.5L618.7 105z" fill="#6fdd55" stroke="#2c5822"/>
<path d="M617.8 108.4L621.7 106.9L618.7 105L614.8 106.5z" fill="#6fdd55" stroke="#2c5822"/>
<path d="M613.9 109.9L617.8 108.4L614.8 106.5L610.9 108z" fill="#67db5b" stroke="#295825"/>
<path d="M610 111.5L613.9 109.9L610.9 108L607 109.5z" fill="#67db5c" stroke="#295825"/>
<path d="M606.1 113L610 111.5L607 109.5L603 111z" fill="#67db5c" stroke="#295825"/>
<path d="M602.2 114.5L606.1 113L603 111L599.1 112.5z" fill="#67dc5c" stroke="#295825"/>
<path d="M598.3 116L602.2 114.5L599.1 112.5L595.2 114z" fill="#67dc5c" stroke="#295825"/>
<path d="M594.4 117.5L598.3 116L595.2 114L591.3 115.5z" fill="#67dc5c" stroke="#295825"/>
<path d="M590.5 119L594.4 117.5L591.3 115.5L587.4 117z" fill="#67db5c" stroke="#295825"/>
<path d="M586.5 120.5L590.5 119L587.4 117L583.5 118.5z" fill="#67db5c" stroke="#295825"/>
<path d="M582.6 122L586.5 120.5L583.5 118.5L579.6 120z" fill="#6edc55" stroke="#2c5822"/>
<path d="M578.7 123.4L582.6 122L579.6 120L575.7 121.5z" fill="#6edc55" stroke="#2c5822"/>
<path d="M574.8 124.9L578.7 123.4L575.7 121.5L571.8 123z" fill="#6edc55" stroke="#2c5822"/>
<path d="M570.9 126.4L574.8 124.9L571.8 123L567.9 124.5z" fill="#6edc55" stroke="#2c5822"/>
<path d="M567 127.9L570.9 126.4L567.9 124.5L564 126z" fill="#6edc55" stroke="#2c5822"/>
<path d="M563.1 129.4L567 127.9L564 126L560.1 127.5z" fill="#6edc55" stroke="#2c5822"/>
<path d="M559.2 131L563.1 129.4L560.1 127.5L556.2 129z" fill="#6edc55" stroke="#2c5822"/>
<path d="M555.3 132.5L559.2 131L556.2 129L552.3 130.5z" fill="#6edc55" stroke="#2c5822"/>
<path d="M551.4 134L555.3 132.5L552.3 130.5L548.4 132.1z" fill="#6edc55" stroke="#2c5822"/>
<path d="M547.5 135.5L551.4 134L548.4 132.1L544.5 133.6z" fill="#6edc55" stroke="#2c5822"/>
<path d="M543.6 137L547.5 135.5L544.5 133.6L540.6 135.1z" fill="#6fdd55" stroke="#2c5822"/>
<path d="M539.7 138.5L543.6 137L540.6 135.1L536.7 136.6z" fill="#6fdd55" stroke="#2c5822"/>
<path d="M535.8 140L539.7 138.5L536.7 136.6L532.8 138.1z" fill="#6fdd55" stroke="#2c5822"/>
<path d="M531.9 141.5L535.8 140L532.8 138.1L528.9 139.6z" fill="#6fdd55" stroke="#2c5822"/>
<path d="M528 143L531.9 141.5L528.9 139.6L525 141.1z" fill="#6fdd55" stroke="#2c5822"/>
<path d="M524.1 144.6L528 143L525 141.1L521 142.6z" fill="#6fdd55" stroke="#2c5822"/>
<path d="M520.2 146.1L524.1 144.6L521 142.6L517.1 144.1z" fill="#6fdd55" stroke="#2c5822"/>
<path d="M516.3 147.6L520.2 146.1L517.1 144.1L513.2 145.6z" fill="#6fdd55" stroke="#2c5822"/>
<path d="M512.4 149.1L516.3 147.6L513.2 145.6L509.3 147.1z" fill="#6fdd55" stroke="#2c5822"/>
<path d="M508.4 150.6L512.4 149.1L509.3 147.1L505.4 148.6z" fill="#6fdd55" stroke="#2c5822"/>
<path d="M504.5 152.1L508.4 150.6L505.4 148.6L501.5 150.1z" fill="#6fdd55" stroke="#2c5822"/>
<path d="M659.9 95.3L663.8 93.8L660.7 91.9L656.8 93.4z" fill="#6fdd55" stroke="#2c5822"/>
<path d="M656 96.8L659.9 95.3L656.8 93.4L652.9 94.9z" fill="#6fdd55" stroke="#2c5822"/>
<path d="M652 98.4L656 96.8L652.9 94.9L649 96.4z" fill="#6fdd55" stroke="#2c5822"/>
<path d="M648.1 99.9L652 98.4L649 96.4L645.1 97.9z" fill="#6fdd55" stroke="#2c5822"/>
<path d="M644.2 101.4L648.1 99.9L645.1 97.9L641.2 99.4z" fill="#6fdd55" stroke="#2c5822"/>
<path d="M640.3 102.9L644.2 101.4L641.2 99.4L637.3 100.9z" fill="#6fdd55" stroke="#2c5822"/>
<path d="M636.4 104.4L640.3 102.9L637.3 100.9L633.4 102.4z" fill="#6fdd55" stroke="#2c5822"/>
<path d="M632.5 105.9L636.4 104.4L633.4 102.4L629.5 103.9z" fill="#6fdd55" stroke="#2c5822"/>
<path d="M628.6 107.4L632.5 105.9L629.5 103.9L625.6 105.4z" fill="#6fdd55" stroke="#2c5822"/>
<path d="M624.7 108.9L628.6 107.4L625.6 105.4L621.7 106.9z" fill="#67db5b" stroke="#295825"/>
<path d="M620.8 110.4L624.7 108.9L621.7 106.9L617.8 108.4z" fill="#67db5c" stroke="#295825"/>
<path d="M616.9 112L620.8 110.4L617.8 108.4L613.9 109.9z" fill="#67dc5c" stroke="#295825"/>
<path d="M613 113.6L616.9 112L613.9 109.9L610 111.5z" fill="#67dc5c" stroke="#295825"/>
<path d="M609.1 115.2L613 113.6L610 111.5L606.1 113z" fill="#68dc5c" stroke="#295825"/>
<path d="M605.2 116.7L609.1 115.2L606.1 113L602.2 114.5z" fill="#68dd5c" stroke="#295825"/>
<path d="M601.3 118.3L605.2 116.7L602.2 114.5L598.3 116z" fill="#68dd5c" stroke="#295825"/>
<path d="M597.4 119.7L601.3 118.3L598.3 116L594.4 117.5z" fill="#67dc5c" stroke="#295825"/>
<path d="M593.5 121.2L597.4 119.7L594.4 117.5L590.5 119z" fill="#67dc5c" stroke="#295825"/>
<path d="M589.6 122.6L593.5 121.2L590.5 119L586.5 120.5z" fill="#67db5c" stroke="#295825"/>
<path d="M585.7 123.9L589.6 122.6L586.5 120.5L582.6 122z" fill="#6edc55" stroke="#2c5822"/>
<path d="M581.8 125.3L585.7 123.9L582.6 122L578.7 123.4z" fill="#6edc54" stroke="#2c5822"/>
<path d="M577.9 126.7L581.8 125.3L578.7 123.4L574.8 124.9z" fill="#6edb54" stroke="#2c5822"/>
<path d="M573.9 128.1L577.9 126.7L574.8 124.9L570.9 126.4z" fill="#6edb54" stroke="#2c5822"/>
<path d="M570 129.6L573.9 128.1L570.9 126.4L567 127.9z" fill="#6edb54" stroke="#2c5822"/>
<path d="M566.1 131.1L570 129.6L567 127.9L563.1 129.4z" fill="#6edb54" stroke="#2c5822"/>
<path d="M562.2 132.7L566.1 131.1L563.1 129.4L559.2 131z" fill="#6edb54" stroke="#2c5822"/>
<path d="M558.3 134.3L562.2 132.7L559.2 131L555.3 132.5z" fill="#6edc54" stroke="#2c5822"/>
<path d="M554.4 135.9L558.3 134.3L555.3 132.5L551.4 134z" fill="#6edc55" stroke="#2c5822"/>
<path d="M550.5 137.5L554.4 135.9L551.4 134L547.5 135.5z" fill="#6edc55" stroke="#2c5822"/>
<path d="M546.6 139L550.5 137.5L547.5 135.5L543.6 137z" fill="#6edc55" stroke="#2c5822"/>
<path d="M542.7 140.5L546.6 139L543.6 137L539.7 138.5z" fill="#6edc55" stroke="#2c5822"/>
<path d="M538.8 142L542.7 140.5L539.7 138.5L535.8 140z" fill="#6fdd55" stroke="#2c5822"/>
<path d="M534.9 143.5L538.8 142L535.8 140L531.9 141.5z" fill="#6fdd55" stroke="#2c5822"/>
<path d="M531 145L534.9 143.5L531.9 141.5L528 143z" fill="#6fdd55" stroke="#2c5822"/>
<path d="M527.1 146.5L531 145L528 143L524.1 144.6z" fill="#6fdd55" stroke="#2c5822"/>
<path d="M523.2 148L527.1 146.5L524.1 144.6L520.2 146.1z" fill="#6fdd55" stroke="#2c5822"/>
<path d="M519.3 149.5L523.2 148L520.2 146.1L516.3 147.6z" fill="#6fdd55" stroke="#2c5822"/>
<path d="M515.4 151L519.3 149.5L516.3 147.6L512.4 149.1z" fill="#6fdd55" stroke="#2c5822"/>
<path d="M511.5 152.5L515.4 151L512.4 149.1L508.4 150.6z" fill="#6fdd55" stroke="#2c5822"/>
<path d="M507.6 154L511.5 152.5L508.4 150.6L504.5 152.1z" fill="#6fdd55" stroke="#2c5822"/>
<path d="M662.9 97.3L666.8 95.8L663.8 93.8L659.9 95.3z" fill="#6fdd55" stroke="#2c5822"/>
<path d="M659 98.8L662.9 97.3L659.9 95.3L656 96.8z" fill="#6fdd55" stroke="#2c5822"/>
<path d="M655.1 100.3L659 98.8L656 96.8L652 98.4z" fill="#6fdd55" stroke="#2c5822"/>
<path d="M651.2 101.8L655.1 100.3L652 98.4L648.1 99.9z" fill="#6fdd55" stroke="#2c5822"/>
<path d="M647.3 103.3L651.2 101.8L648.1 99.9L644.2 101.4z" fill="#6fdd55" stroke="#2c5822"/>
<path d="M643.4 104.8L647.3 103.3L644.2 101.4L640.3 102.9z" fill="#6fdd55" stroke="#2c5822"/>
<path d="M639.4 106.3L643.4 104.8L640.3 102.9L636.4 104.4z" fill="#6fdd55" stroke="#2c5822"/>
<path d="M635.5 107.8L639.4 106.3L636.4 104.4L632.5 105.9z" fill="#6fdd55" stroke="#2c5822"/>
<path d="M631.6 109.4L635.5 107.8L632.5 105.9L628.6 107.4z" fill="#67db5c" stroke="#295825"/>
<path d="M627.7 110.9L631.6 109.4L628.6 107.4L624.7 108.9z" fill="#67dc5c" stroke="#295825"/>
<path d="M623.8 112.6L627.7 110.9L624.7 108.9L620.8 110.4z" fill="#68dc5c" stroke="#295825"/>
<path d="M619.9 114.3L623.8 112.6L620.8 110.4L616.9 112z" fill="#68dd5c" stroke="#2a5825"/>
<path d="M616 116L619.9 114.3L616.9 112L613 113.6z" fill="#68de5d" stroke="#2a5925"/>
<path d="M612.1 117.7L616 116L613 113.6L609.1 115.2z" fill="#68de5d" stroke="#2a5925"/>
<path d="M608.2 119.3L612.1 117.7L609.1 115.2L605.2 116.7z" fill="#68de5d" stroke="#2a5925"/>
<path d="M604.3 120.8L608.2 119.3L605.2 116.7L601.3 118.3z" fill="#68de5d" stroke="#2a5925"/>
<path d="M600.4 122.2L604.3 120.8L601.3 118.3L597.4 119.7z" fill="#68dd5c" stroke="#295825"/>
<path d="M596.5 123.5L600.4 122.2L597.4 119.7L593.5 121.2z" fill="#67dc5c" stroke="#295825"/>
<path d="M592.6 124.7L596.5 123.5L593.5 121.2L589.6 122.6z" fill="#67db5b" stroke="#295825"/>
<path d="M588.7 125.9L592.6 124.7L589.6 122.6L585.7 123.9z" fill="#6edb54" stroke="#2c5822"/>
<path d="M584.8 127.1L588.7 125.9L585.7 123.9L581.8 125.3z" fill="#6dda54" stroke="#2c5722"/>
<path d="M580.9 128.3L584.8 127.1L581.8 125.3L577.9 126.7z" fill="#6dd954" stroke="#2c5721"/>
<path d="M577 129.6L580.9 128.3L577.9 126.7L573.9 128.1z" fill="#6dd953" stroke="#2b5721"/>
<path d="M573.1 131L577 129.6L573.9 128.1L570 129.6z" fill="#6dd953" stroke="#2b5721"/>
<path d="M569.2 132.5L573.1 131L570 129.6L566.1 131.1z" fill="#6dd953" stroke="#2c5721"/>
<path d="M565.2 134.1L569.2 132.5L566.1 131.1L562.2 132.7z" fill="#6dda54" stroke="#2c5721"/>
<path d="M561.3 135.8L565.2 134.1L562.2 132.7L558.3 134.3z" fill="#6dda54" stroke="#2c5722"/>
<path d="M557.4 137.5L561.3 135.8L558.3 134.3L554.4 135.9z" fill="#6edb54" stroke="#2c5822"/>
<path d="M553.5 139.2L557.4 137.5L554.4 135.9L550.5 137.5z" fill="#6edc54" stroke="#2c5822"/>
<path d="M549.6 140.9L553.5 139.2L550.5 137.5L546.6 139z" fill="#6edc55" stroke="#2c5822"/>
<path d="M545.7 142.4L549.6 140.9L546.6 139L542.7 140.5z" fill="#6edc55" stroke="#2c5822"/>
<path d="M541.8 144L545.7 142.4L542.7 140.5L538.8 142z" fill="#6edc55" stroke="#2c5822"/>
<path d="M537.9 145.5L541.8 144L538.8 142L534.9 143.5z" fill="#6fdd55" stroke="#2c5822"/>
<path d="M534 147L537.9 145.5L534.9 143.5L531 145z" fill="#6fdd55" stroke="#2c5822"/>
<path d="M530.1 148.5L534 147L531 145L527.1 146.5z" fill="#6fdd55" stroke="#2c5822"/>
<path d="M526.2 150L530.1 148.5L527.1 146.5L523.2 148z" fill="#6fdd55" stroke="#2c5822"/>
<path d="M522.3 151.5L526.2 150L523.2 148L519.3 149.5z" fill="#6fdd55" stroke="#2c5822"/>
<path d="M518.4 153L522.3 151.5L519.3 149.5L515.4 151z" fill="#6fdd55" stroke="#2c5822"/>
<path d="M514.5 154.5L518.4 153L515.4 151L511.5 152.5z" fill="#6fdd55" stroke="#2c5822"/>
<path d="M510.6 156L514.5 154.5L511.5 152.5L507.6 154z" fill="#6fdd55" stroke="#2c5822"/>
<path d="M665.9 99.3L669.8 97.8L666.8 95.8L662.9 97.3z" fill="#6fdd55" stroke="#2c5822"/>
<path d="M662 100.8L665.9 99.3L662.9 97.3L659 98.8z" fill="#6fdd55" stroke="#2c5822"/>
<path d="M658.1 102.3L662 100.8L659 98.8L655.1 100.3z" fill="#6fdd55" stroke="#2c5822"/>
<path d="M654.2 103.8L658.1 102.3L655.1 100.3L651.2 101.8z" fill="#6fdd55" stroke="#2c5822"/>
<path d="M650.3 105.3L654.2 103.8L651.2 101.8L647.3 103.3z" fill="#6fdd55" stroke="#2c5822"/>
<path d="M646.4 106.8L650.3 105.3L647.3 103.3L643.4 104.8z" fill="#6fdd55" stroke="#2c5822"/>
<path d="M642.5 108.3L646.4 106.8L643.4 104.8L639.4 106.3z" fill="#67db5b" stroke="#295825"/>
<path d="M638.6 109.8L642.5 108.3L639.4 106.3L635.5 107.8z" fill="#67db5c" stroke="#295825"/>
<path d="M634.7 111.5L638.6 109.8L635.5 107.8L631.6 109.4z" fill="#67dc5c" stroke="#295825"/>
<path d="M630.8 113.2L634.7 111.5L631.6 109.4L627.7 110.9z" fill="#68dd5d" stroke="#2a5925"/>
<path d="M626.8 115.1L630.8 113.2L627.7 110.9L623.8 112.6z" fill="#69df5d" stroke="#2a5925"/>
<path d="M622.9 117L626.8 115.1L623.8 112.6L619.9 114.3z" fill="#6ae05e" stroke="#2a5a26"/>
<path d="M619 118.9L622.9 117L619.9 114.3L616 116z" fill="#6ae15f" stroke="#2b5a26"/>
<path d="M615.1 120.6L619 118.9L616 116L612.1 117.7z" fill="#6ae15f" stroke="#2a5a26"/>
<path d="M611.2 122.3L615.1 120.6L612.1 117.7L608.2 119.3z" fill="#6ae05e" stroke="#2a5a26"/>
<path d="M607.3 123.7L611.2 122.3L608.2 119.3L604.3 120.8z" fill="#69de5d" stroke="#2a5925"/>
<path d="M603.4 125L607.3 123.7L604.3 120.8L600.4 122.2z" fill="#68dd5c" stroke="#2a5825"/>
<path d="M599.5 126.1L603.4 125L600.4 122.2L596.5 123.5z" fill="#67db5b" stroke="#295825"/>
<path d="M595.6 127L599.5 126.1L596.5 123.5L592.6 124.7z" fill="#66d95b" stroke="#295724"/>
<path d="M591.7 127.9L595.6 127L592.6 124.7L588.7 125.9z" fill="#6dd954" stroke="#2c5721"/>
<path d="M587.8 128.7L591.7 127.9L588.7 125.9L584.8 127.1z" fill="#6cd853" stroke="#2b5621"/>
<path d="M583.9 129.6L587.8 128.7L584.8 127.1L580.9 128.3z" fill="#6bd652" stroke="#2b5621"/>
<path d="M580 130.7L583.9 129.6L580.9 128.3L577 129.6z" fill="#6bd652" stroke="#2b5521"/>
<path d="M576.1 132L580 130.7L577 129.6L573.1 131z" fill="#6bd552" stroke="#2b5521"/>
<path d="M572.2 133.4L576.1 132L573.1 131L569.2 132.5z" fill="#6bd652" stroke="#2b5521"/>
<path d="M568.3 135.1L572.2 133.4L569.2 132.5L565.2 134.1z" fill="#6bd652" stroke="#2b5621"/>
<path d="M564.4 136.9L568.3 135.1L565.2 134.1L561.3 135.8z" fill="#6cd853" stroke="#2b5621"/>
<path d="M560.5 138.8L564.4 136.9L561.3 135.8L557.4 137.5z" fill="#6dd953" stroke="#2c5721"/>
<path d="M556.6 140.7L560.5 138.8L557.4 137.5L553.5 139.2z" fill="#6dda54" stroke="#2c5722"/>
<path d="M552.6 142.5L556.6 140.7L553.5 139.2L549.6 140.9z" fill="#6edb54" stroke="#2c5822"/>
<path d="M548.7 144.3L552.6 142.5L549.6 140.9L545.7 142.4z" fill="#6edc55" stroke="#2c5822"/>
<path d="M544.8 145.9L548.7 144.3L545.7 142.4L541.8 144z" fill="#6edc55" stroke="#2c5822"/>
<path d="M540.9 147.4L544.8 145.9L541.8 144L537.9 145.5z" fill="#6fdd55" stroke="#2c5822"/>
<path d="M537 148.9L540.9 147.4L537.9 145.5L534 147z" fill="#6fdd55" stroke="#2c5822"/>
<path d="M533.1 150.4L537 148.9L534 147L530.1 148.5z" fill="#6fdd55" stroke="#2c5822"/>
<path d="M529.2 151.9L533.1 150.4L530.1 148.5L526.2 150z" fill="#6fdd55" stroke="#2c5822"/>
<path d="M525.3 153.4L529.2 151.9L526.2 150L522.3 151.5z" fill="#6fdd55" stroke="#2c5822"/>
<path d="M521.4 155L525.3 153.4L522.3 151.5L518.4 153z" fill="#6fdd55" stroke="#2c5822"/>
<path d="M517.5 156.5L521.4 155L518.4 153L514.5 154.5z" fill="#6fdd55" stroke="#2c5822"/>
<path d="M513.6 158L517.5 156.5L514.5 154.5L510.6 156z" fill="#6fdd55" stroke="#2c5822"/>
<path d="M668.9 101.2L672.8 99.7L669.8 97.8L665.9 99.3z" fill="#6fdd55" stroke="#2c5822"/>
<path d="M665 102.7L668.9 101.2L665.9 99.3L662 100.8z" fill="#6fdd55" stroke="#2c5822"/>
<path d="M661.1 104.2L665 102.7L662 100.8L658.1 102.3z" fill="#6fdd55" stroke="#2c5822"/>
<path d="M657.2 105.7L661.1 104.2L658.1 102.3L654.2 103.8z" fill="#6fdd55" stroke="#2c5822"/>
<path d="M653.3 107.2L657.2 105.7L654.2 103.8L650.3 105.3z" fill="#6fdd55" stroke="#2c5822"/>
<path d="M649.4 108.8L653.3 107.2L650.3 105.3L646.4 106.8z" fill="#67db5b" stroke="#295825"/>
<path d="M645.5 110.3L649.4 108.8L646.4 106.8L642.5 108.3z" fill="#67dc5c" stroke="#295825"/>
<path d="M641.6 112L645.5 110.3L642.5 108.3L638.6 109.8z" fill="#68dd5c" stroke="#295825"/>
<path d="M637.7 113.9L641.6 112L638.6 109.8L634.7 111.5z" fill="#69df5d" stroke="#2a5925"/>
<path d="M633.8 115.9L637.7 113.9L634.7 111.5L630.8 113.2z" fill="#6ae15f" stroke="#2b5a26"/>
<path d="M629.9 118.1L633.8 115.9L630.8 113.2L626.8 115.1z" fill="#6de461" stroke="#2c5b27"/>
<path d="M626 120.3L629.9 118.1L626.8 115.1L622.9 117z" fill="#70e764" stroke="#2d5d28"/>
<path d="M622.1 122.3L626 120.3L622.9 117L619 118.9z" fill="#6ee474" stroke="#2c5b2f"/>
<path d="M618.1 124.3L622.1 122.3L619 118.9L615.1 120.6z" fill="#6ce272" stroke="#2b5a2e"/>
<path d="M614.2 125.9L618.1 124.3L615.1 120.6L611.2 122.3z" fill="#69de6f" stroke="#2a592c"/>
<path d="M610.3 127.2L614.2 125.9L611.2 122.3L607.3 123.7z" fill="#67db6d" stroke="#29572b"/>
<path d="M606.4 128.2L610.3 127.2L607.3 123.7L603.4 125z" fill="#65d86b" stroke="#29562b"/>
<path d="M602.5 129L606.4 128.2L603.4 125L599.5 126.1z" fill="#66d95b" stroke="#295724"/>
<path d="M598.6 129.4L602.5 129L599.5 126.1L595.6 127z" fill="#65d75a" stroke="#285624"/>
<path d="M594.7 129.8L598.6 129.4L595.6 127L591.7 127.9z" fill="#6bd652" stroke="#2b5521"/>
<path d="M590.8 130.2L594.7 129.8L591.7 127.9L587.8 128.7z" fill="#6ad451" stroke="#2a5521"/>
<path d="M586.9 130.7L590.8 130.2L587.8 128.7L583.9 129.6z" fill="#69d251" stroke="#2a5420"/>
<path d="M583 131.4L586.9 130.7L583.9 129.6L580 130.7z" fill="#70d24a" stroke="#2d541e"/>
<path d="M579.1 132.4L583 131.4L580 130.7L576.1 132z" fill="#6fd14a" stroke="#2d541d"/>
<path d="M575.2 133.8L579.1 132.4L576.1 132L572.2 133.4z" fill="#70d24a" stroke="#2d541e"/>
<path d="M571.3 135.4L575.2 133.8L572.2 133.4L568.3 135.1z" fill="#70d34a" stroke="#2d541e"/>
<path d="M567.4 137.3L571.3 135.4L568.3 135.1L564.4 136.9z" fill="#71d54b" stroke="#2d551e"/>
<path d="M563.5 139.4L567.4 137.3L564.4 136.9L560.5 138.8z" fill="#6bd552" stroke="#2b5521"/>
<path d="M559.6 141.6L563.5 139.4L560.5 138.8L556.6 140.7z" fill="#6cd853" stroke="#2b5621"/>
<path d="M555.7 143.7L559.6 141.6L556.6 140.7L552.6 142.5z" fill="#6dda54" stroke="#2c5721"/>
<path d="M551.8 145.8L555.7 143.7L552.6 142.5L548.7 144.3z" fill="#6edb54" stroke="#2c5822"/>
<path d="M547.9 147.6L551.8 145.8L548.7 144.3L544.8 145.9z" fill="#6edc55" stroke="#2c5822"/>
<path d="M544 149.3L547.9 147.6L544.8 145.9L540.9 147.4z" fill="#6fdd55" stroke="#2c5822"/>
<path d="M540 150.9L544 149.3L540.9 147.4L537 148.9z" fill="#6fdd55" stroke="#2c5822"/>
<path d="M536.1 152.4L540 150.9L537 148.9L533.1 150.4z" fill="#6fdd55" stroke="#2c5822"/>
<path d="M532.2 153.9L536.1 152.4L533.1 150.4L529.2 151.9z" fill="#6fdd55" stroke="#2c5822"/>
<path d="M528.3 155.4L532.2 153.9L529.2 151.9L525.3 153.4z" fill="#6fdd55" stroke="#2c5822"/>
<path d="M524.4 156.9L528.3 155.4L525.3 153.4L521.4 155z" fill="#6fdd55" stroke="#2c5822"/>
<path d="M520.5 158.4L524.4 156.9L521.4 155L517.5 156.5z" fill="#6fdd55" stroke="#2c5822"/>
<path d="M516.6 159.9L520.5 158.4L517.5 156.5L513.6 158z" fill="#6fdd55" stroke="#2c5822"/>
<path d="M671.9 103.2L675.8 101.7L672.8 99.7L668.9 101.2z" fill="#6fdd55" stroke="#2c5822"/>
<path d="M668 104.7L671.9 103.2L668.9 101.2L665 102.7z" fill="#6fdd55" stroke="#2c5822"/>
<path d="M664.1 106.2L668 104.7L665 102.7L661.1 104.2z" fill="#6fdd55" stroke="#2c5822"/>
<path d="M660.2 107.7L664.1 106.2L661.1 104.2L657.2 105.7z" fill="#6fdd55" stroke="#2c5822"/>
<path d="M656.3 109.2L660.2 107.7L657.2 105.7L653.3 107.2z" fill="#67db5b" stroke="#295825"/>
<path d="M652.4 110.8L656.3 109.2L653.3 107.2L649.4 108.8z" fill="#67dc5c" stroke="#295825"/>
<path d="M648.5 112.5L652.4 110.8L649.4 108.8L645.5 110.3z" fill="#68dd5c" stroke="#2a5825"/>
<path d="M644.6 114.5L648.5 112.5L645.5 110.3L641.6 112z" fill="#69e05e" stroke="#2a5926"/>
<path d="M640.7 116.8L644.6 114.5L641.6 112L637.7 113.9z" fill="#6de561" stroke="#2c5b27"/>
<path d="M636.8 119.2L640.7 116.8L637.7 113.9L633.8 115.9z" fill="#75ed6a" stroke="#2f5f2a"/>
<path d="M632.9 121.8L636.8 119.2L633.8 115.9L629.9 118.1z" fill="#7ef483" stroke="#326235"/>
<path d="M629 124.3L632.9 121.8L629.9 118.1L626 120.3z" fill="#81f887" stroke="#346336"/>
<path d="M625.1 126.6L629 124.3L626 120.3L622.1 122.3z" fill="#7cf181" stroke="#316134"/>
<path d="M621.2 128.6L625.1 126.6L622.1 122.3L618.1 124.3z" fill="#70e387" stroke="#2d5b36"/>
<path d="M617.3 130.2L621.2 128.6L618.1 124.3L614.2 125.9z" fill="#68da7f" stroke="#2a5733"/>
<path d="M613.4 131.3L617.3 130.2L614.2 125.9L610.3 127.2z" fill="#66d96c" stroke="#29572b"/>
<path d="M609.5 132L613.4 131.3L610.3 127.2L606.4 128.2z" fill="#64d56a" stroke="#28552a"/>
<path d="M605.5 132.2L609.5 132L606.4 128.2L602.5 129z" fill="#62d268" stroke="#27542a"/>
<path d="M601.6 132.1L605.5 132.2L602.5 129L598.6 129.4z" fill="#63d258" stroke="#275423"/>
<path d="M597.7 131.8L601.6 132.1L598.6 129.4L594.7 129.8z" fill="#68d050" stroke="#2a5320"/>
<path d="M593.8 131.5L597.7 131.8L594.7 129.8L590.8 130.2z" fill="#67cd4f" stroke="#295220"/>
<path d="M589.9 131.4L593.8 131.5L590.8 130.2L586.9 130.7z" fill="#6dcc48" stroke="#2b521d"/>
<path d="M586 131.6L589.9 131.4L586.9 130.7L583 131.4z" fill="#6cca47" stroke="#2b511c"/>
<path d="M582.1 132.2L586 131.6L583 131.4L579.1 132.4z" fill="#6bca47" stroke="#2b511c"/>
<path d="M578.2 133.4L582.1 132.2L579.1 132.4L575.2 133.8z" fill="#86cd3e" stroke="#365219"/>
<path d="M574.3 135L578.2 133.4L575.2 133.8L571.3 135.4z" fill="#87ce3e" stroke="#365219"/>
<path d="M570.4 137L574.3 135L571.3 135.4L567.4 137.3z" fill="#6ece49" stroke="#2c531d"/>
<path d="M566.5 139.3L570.4 137L567.4 137.3L563.5 139.4z" fill="#6fd14a" stroke="#2d541d"/>
<path d="M562.6 141.8L566.5 139.3L563.5 139.4L559.6 141.6z" fill="#71d54b" stroke="#2d551e"/>
<path d="M558.7 144.4L562.6 141.8L559.6 141.6L555.7 143.7z" fill="#6cd753" stroke="#2b5621"/>
<path d="M554.8 146.8L558.7 144.4L555.7 143.7L551.8 145.8z" fill="#6dd954" stroke="#2c5721"/>
<path d="M550.9 149.1L554.8 146.8L551.8 145.8L547.9 147.6z" fill="#6edb54" stroke="#2c5822"/>
<path d="M547 151.1L550.9 149.1L547.9 147.6L544 149.3z" fill="#6fdd55" stroke="#2c5822"/>
<path d="M543.1 152.8L547 151.1L544 149.3L540 150.9z" fill="#6fdd55" stroke="#2c5822"/>
<path d="M539.2 154.4L543.1 152.8L540 150.9L536.1 152.4z" fill="#6fdd55" stroke="#2c5822"/>
<path d="M535.3 155.9L539.2 154.4L536.1 152.4L532.2 153.9z" fill="#6fdd55" stroke="#2c5822"/>
<path d="M531.4 157.4L535.3 155.9L532.2 153.9L528.3 155.4z" fill="#6fdd55" stroke="#2c5822"/>
<path d="M527.5 158.9L531.4 157.4L528.3 155.4L524.4 156.9z" fill="#6fdd55" stroke="#2c5822"/>
<path d="M523.5 160.4L527.5 158.9L524.4 156.9L520.5 158.4z" fill="#6fdd55" stroke="#2c5822"/>
<path d="M519.6 161.9L523.5 160.4L520.5 158.4L516.6 159.9z" fill="#6fdd55" stroke="#2c5822"/>
<path d="M675 105.2L678.9 103.7L675.8 101.7L671.9 103.2z" fill="#6fdd55" stroke="#2c5822"/>
<path d="M671 106.7L675 105.2L671.9 103.2L668 104.7z" fill="#6fdd55" stroke="#2c5822"/>
<path d="M667.1 108.2L671 106.7L668 104.7L664.1 106.2z" fill="#6fdd55" stroke="#2c5822"/>
<path d="M663.2 109.7L667.1 108.2L664.1 106.2L660.2 107.7z" fill="#6fdd55" stroke="#2c5822"/>
<path d="M659.3 111.2L663.2 109.7L660.2 107.7L656.3 109.2z" fill="#67dc5c" stroke="#295825"/>
<path d="M655.4 113L659.3 111.2L656.3 109.2L652.4 110.8z" fill="#68dd5c" stroke="#2a5825"/>
<path d="M651.5 115L655.4 113L652.4 110.8L648.5 112.5z" fill="#6ae05e" stroke="#2a5a26"/>
<path d="M647.6 117.5L651.5 115L648.5 112.5L644.6 114.5z" fill="#70e865" stroke="#2d5d28"/>
<path d="M643.7 120.2L647.6 117.5L644.6 114.5L640.7 116.8z" fill="#81f887" stroke="#346336"/>
<path d="M639.8 123.2L643.7 120.2L640.7 116.8L636.8 119.2z" fill="#9cffa2" stroke="#3e6641"/>
<path d="M635.9 126.2L639.8 123.2L636.8 119.2L632.9 121.8z" fill="#a8ffc0" stroke="#43664d"/>
<path d="M632 129.1L635.9 126.2L632.9 121.8L629 124.3z" fill="#9dffb5" stroke="#3f6648"/>
<path d="M628.1 131.7L632 129.1L629 124.3L625.1 126.6z" fill="#83f5ac" stroke="#346245"/>
<path d="M624.2 133.8L628.1 131.7L625.1 126.6L621.2 128.6z" fill="#6fdf97" stroke="#2c593c"/>
<path d="M620.3 135.3L624.2 133.8L621.2 128.6L617.3 130.2z" fill="#64d38c" stroke="#285438"/>
<path d="M616.4 136.2L620.3 135.3L617.3 130.2L613.4 131.3z" fill="#60cd87" stroke="#265236"/>
<path d="M612.5 136.3L616.4 136.2L613.4 131.3L609.5 132z" fill="#60cd76" stroke="#26522f"/>
<path d="M608.6 135.8L612.5 136.3L609.5 132L605.5 132.2z" fill="#60cc65" stroke="#265228"/>
<path d="M604.7 134.9L608.6 135.8L605.5 132.2L601.6 132.1z" fill="#5fcb55" stroke="#265122"/>
<path d="M600.8 133.8L604.7 134.9L601.6 132.1L597.7 131.8z" fill="#64c84d" stroke="#28501f"/>
<path d="M596.9 132.6L600.8 133.8L597.7 131.8L593.8 131.5z" fill="#62c44b" stroke="#274e1e"/>
<path d="M593 131.7L596.9 132.6L593.8 131.5L589.9 131.4z" fill="#6ccc48" stroke="#2b511d"/>
<path d="M589 131.2L593 131.7L589.9 131.4L586 131.6z" fill="#8cd641" stroke="#38551a"/>
<path d="M585.1 131.3L589 131.2L586 131.6L582.1 132.2z" fill="#a8d837" stroke="#435616"/>
<path d="M581.2 132.2L585.1 131.3L582.1 132.2L578.2 133.4z" fill="#a8d837" stroke="#435616"/>
<path d="M577.3 133.7L581.2 132.2L578.2 133.4L574.3 135z" fill="#a2d135" stroke="#415315"/>
<path d="M573.4 135.8L577.3 133.7L574.3 135L570.4 137z" fill="#9ecb33" stroke="#3f5114"/>
<path d="M569.5 138.4L573.4 135.8L570.4 137L566.5 139.3z" fill="#86cd3e" stroke="#365219"/>
<path d="M565.6 141.3L569.5 138.4L566.5 139.3L562.6 141.8z" fill="#89d13f" stroke="#375419"/>
<path d="M561.7 144.3L565.6 141.3L562.6 141.8L558.7 144.4z" fill="#71d34a" stroke="#2d551e"/>
<path d="M557.8 147.3L561.7 144.3L558.7 144.4L554.8 146.8z" fill="#73d84c" stroke="#2e561e"/>
<path d="M553.9 150L557.8 147.3L554.8 146.8L550.9 149.1z" fill="#6dda54" stroke="#2c5721"/>
<path d="M550 152.5L553.9 150L550.9 149.1L547 151.1z" fill="#6edc55" stroke="#2c5822"/>
<path d="M546.1 154.5L550 152.5L547 151.1L543.1 152.8z" fill="#6fdd55" stroke="#2c5822"/>
<path d="M542.2 156.3L546.1 154.5L543.1 152.8L539.2 154.4z" fill="#6fdd55" stroke="#2c5822"/>
<path d="M538.3 157.8L542.2 156.3L539.2 154.4L535.3 155.9z" fill="#6fdd55" stroke="#2c5822"/>
<path d="M534.4 159.3L538.3 157.8L535.3 155.9L531.4 157.4z" fill="#6fdd55" stroke="#2c5822"/>
<path d="M530.5 160.8L534.4 159.3L531.4 157.4L527.5 158.9z" fill="#6fdd55" stroke="#2c5822"/>
<path d="M526.6 162.3L530.5 160.8L527.5 158.9L523.5 160.4z" fill="#6fdd55" stroke="#2c5822"/>
<path d="M522.7 163.9L526.6 162.3L523.5 160.4L519.6 161.9z" fill="#6fdd55" stroke="#2c5822"/>
<path d="M678 107.1L681.9 105.6L678.9 103.7L675 105.2z" fill="#6fdd55" stroke="#2c5822"/>
<path d="M674.1 108.6L678 107.1L675 105.2L671 106.7z" fill="#6fdd55" stroke="#2c5822"/>
<path d="M670.2 110.1L674.1 108.6L671 106.7L667.1 108.2z" fill="#6fdd55" stroke="#2c5822"/>
<path d="M666.3 111.6L670.2 110.1L667.1 108.2L663.2 109.7z" fill="#67db5c" stroke="#295825"/>
<path d="M662.4 113.4L666.3 111.6L663.2 109.7L659.3 111.2z" fill="#68dd5c" stroke="#295825"/>
<path d="M658.5 115.4L662.4 113.4L659.3 111.2L655.4 113z" fill="#6ae05e" stroke="#2a5a26"/>
<path d="M654.5 118L658.5 115.4L655.4 113L651.5 115z" fill="#72ea66" stroke="#2e5e29"/>
<path d="M650.6 120.9L654.5 118L651.5 115L647.6 117.5z" fill="#8dff93" stroke="#38663b"/>
<path d="M646.7 124.3L650.6 120.9L647.6 117.5L643.7 120.2z" fill="#c0ffc6" stroke="#4d664f"/>
<path d="M642.8 127.9L646.7 124.3L643.7 120.2L639.8 123.2z" fill="#e0fff8" stroke="#5a6663"/>
<path d="M638.9 131.4L642.8 127.9L639.8 123.2L635.9 126.2z" fill="#d2fffb" stroke="#546664"/>
<path d="M635 134.8L638.9 131.4L635.9 126.2L632 129.1z" fill="#a7ffd0" stroke="#436653"/>
<path d="M631.1 137.7L635 134.8L632 129.1L628.1 131.7z" fill="#7decb7" stroke="#325e49"/>
<path d="M627.2 140L631.1 137.7L628.1 131.7L624.2 133.8z" fill="#67d4a0" stroke="#295540"/>
<path d="M623.3 141.4L627.2 140L624.2 133.8L620.3 135.3z" fill="#5fca97" stroke="#26513c"/>
<path d="M619.4 141.8L623.3 141.4L620.3 135.3L616.4 136.2z" fill="#5bc492" stroke="#254f3a"/>
<path d="M615.5 141.3L619.4 141.8L616.4 136.2L612.5 136.3z" fill="#5bc380" stroke="#244e33"/>
<path d="M611.6 140L615.5 141.3L612.5 136.3L608.6 135.8z" fill="#5ac16f" stroke="#244d2c"/>
<path d="M607.7 138L611.6 140L608.6 135.8L604.7 134.9z" fill="#59be5e" stroke="#244c26"/>
<path d="M603.8 135.7L607.7 138L604.7 134.9L600.8 133.8z" fill="#5fbd49" stroke="#264c1d"/>
<path d="M599.9 133.4L603.8 135.7L600.8 133.8L596.9 132.6z" fill="#69c646" stroke="#2a4f1c"/>
<path d="M596 131.4L599.9 133.4L596.9 132.6L593 131.7z" fill="#90db43" stroke="#3a581b"/>
<path d="M592.1 130.1L596 131.4L593 131.7L589 131.2z" fill="#b4e73c" stroke="#485c18"/>
<path d="M588.2 129.6L592.1 130.1L589 131.2L585.1 131.3z" fill="#c4e734" stroke="#4e5d15"/>
<path d="M584.3 130.1L588.2 129.6L585.1 131.3L581.2 132.2z" fill="#c2e632" stroke="#4e5c14"/>
<path d="M580.4 131.5L584.3 130.1L581.2 132.2L577.3 133.7z" fill="#bbdd30" stroke="#4b5913"/>
<path d="M576.4 133.7L580.4 131.5L577.3 133.7L573.4 135.8z" fill="#b5d62e" stroke="#485612"/>
<path d="M572.5 136.6L576.4 133.7L573.4 135.8L569.5 138.4z" fill="#a2d135" stroke="#415315"/>
<path d="M568.6 140L572.5 136.6L569.5 138.4L565.6 141.3z" fill="#9fcd34" stroke="#405215"/>
<path d="M564.7 143.6L568.6 140L565.6 141.3L561.7 144.3z" fill="#89d03f" stroke="#375319"/>
<path d="M560.8 147.1L564.7 143.6L561.7 144.3L557.8 147.3z" fill="#70d34a" stroke="#2d551e"/>
<path d="M556.9 150.5L560.8 147.1L557.8 147.3L553.9 150z" fill="#73d84c" stroke="#2e561e"/>
<path d="M553 153.5L556.9 150.5L553.9 150L550 152.5z" fill="#6edb54" stroke="#2c5722"/>
<path d="M549.1 156L553 153.5L550 152.5L546.1 154.5z" fill="#6fdd55" stroke="#2c5822"/>
<path d="M545.2 158.1L549.1 156L546.1 154.5L542.2 156.3z" fill="#6fdd55" stroke="#2c5922"/>
<path d="M541.3 159.8L545.2 158.1L542.2 156.3L538.3 157.8z" fill="#6fdd55" stroke="#2c5822"/>
<path d="M537.4 161.3L541.3 159.8L538.3 157.8L534.4 159.3z" fill="#6fdd55" stroke="#2c5822"/>
<path d="M533.5 162.8L537.4 161.3L534.4 159.3L530.5 160.8z" fill="#6fdd55" stroke="#2c5822"/>
<path d="M529.6 164.3L533.5 162.8L530.5 160.8L526.6 162.3z" fill="#6fdd55" stroke="#2c5822"/>
<path d="M525.7 165.8L529.6 164.3L526.6 162.3L522.7 163.9z" fill="#6fdd55" stroke="#2c5822"/>
<path d="M681 109.1L684.9 107.6L681.9 105.6L678 107.1z" fill="#6fdd55" stroke="#2c5822"/>
<path d="M677.1 110.6L681 109.1L678 107.1L674.1 108.6z" fill="#6fdd55" stroke="#2c5822"/>
<path d="M673.2 112.1L677.1 110.6L674.1 108.6L670.2 110.1z" fill="#67db5c" stroke="#295825"/>
<path d="M669.3 113.7L673.2 112.1L670.2 110.1L666.3 111.6z" fill="#67dc5c" stroke="#295825"/>
<path d="M665.4 115.7L669.3 113.7L666.3 111.6L662.4 113.4z" fill="#69df5d" stroke="#2a5925"/>
<path d="M661.5 118.2L665.4 115.7L662.4 113.4L658.5 115.4z" fill="#70e864" stroke="#2d5d28"/>
<path d="M657.6 121.3L661.5 118.2L658.5 115.4L654.5 118z" fill="#8eff94" stroke="#39663b"/>
<path d="M653.7 125L657.6 121.3L654.5 118L650.6 120.9z" fill="#d3ffd9" stroke="#546657"/>
<path d="M649.8 129L653.7 125L650.6 120.9L646.7 124.3z" fill="#ffffff" stroke="#666666"/>
<path d="M645.9 133.3L649.8 129L646.7 124.3L642.8 127.9z" fill="#ffffff" stroke="#666666"/>
<path d="M641.9 137.5L645.9 133.3L642.8 127.9L638.9 131.4z" fill="#cdffff" stroke="#526666"/>
<path d="M638 141.5L641.9 137.5L638.9 131.4L635 134.8z" fill="#8cffd8" stroke="#386656"/>
<path d="M634.1 144.7L638 141.5L635 134.8L631.1 137.7z" fill="#60d6be" stroke="#26564c"/>
<path d="M630.2 147.1L634.1 144.7L631.1 137.7L627.2 140z" fill="#51c5ad" stroke="#204f45"/>
<path d="M626.3 148.4L630.2 147.1L627.2 140L623.3 141.4z" fill="#4cbda6" stroke="#1e4c42"/>
<path d="M622.4 148.4L626.3 148.4L623.3 141.4L619.4 141.8z" fill="#51bb98" stroke="#204b3d"/>
<path d="M618.5 147.1L622.4 148.4L619.4 141.8L615.5 141.3z" fill="#56b889" stroke="#224a37"/>
<path d="M614.6 144.7L618.5 147.1L615.5 141.3L611.6 140z" fill="#54b577" stroke="#224830"/>
<path d="M610.7 141.4L614.6 144.7L611.6 140L607.7 138z" fill="#54b359" stroke="#224824"/>
<path d="M606.8 137.7L610.7 141.4L607.7 138L603.8 135.7z" fill="#60bf49" stroke="#264c1d"/>
<path d="M602.9 133.9L606.8 137.7L603.8 135.7L599.9 133.4z" fill="#73d64c" stroke="#2e561e"/>
<path d="M599 130.7L602.9 133.9L599.9 133.4L596 131.4z" fill="#b7ea3f" stroke="#495d19"/>
<path d="M595.1 128.3L599 130.7L596 131.4L592.1 130.1z" fill="#cbef3b" stroke="#516018"/>
<path d="M591.2 127L595.1 128.3L592.1 130.1L588.2 129.6z" fill="#dbef33" stroke="#576014"/>
<path d="M587.3 127L591.2 127L588.2 129.6L584.3 130.1z" fill="#e5eb25" stroke="#5c5e0f"/>
<path d="M583.4 128.2L587.3 127L584.3 130.1L580.4 131.5z" fill="#e2e722" stroke="#5a5d0d"/>
<path d="M579.5 130.6L583.4 128.2L580.4 131.5L576.4 133.7z" fill="#e1e621" stroke="#5a5c0d"/>
<path d="M575.6 133.9L579.5 130.6L576.4 133.7L572.5 136.6z" fill="#c2d526" stroke="#4e550f"/>
<path d="M571.7 137.8L575.6 133.9L572.5 136.6L568.6 140z" fill="#a8c72b" stroke="#435011"/>
<path d="M567.8 142L571.7 137.8L568.6 140L564.7 143.6z" fill="#9fcd34" stroke="#405215"/>
<path d="M563.8 146.3L567.8 142L564.7 143.6L560.8 147.1z" fill="#89d13f" stroke="#375319"/>
<path d="M559.9 150.4L563.8 146.3L560.8 147.1L556.9 150.5z" fill="#71d44b" stroke="#2d551e"/>
<path d="M556 154L559.9 150.4L556.9 150.5L553 153.5z" fill="#74da4d" stroke="#2e571f"/>
<path d="M552.1 157.1L556 154L553 153.5L549.1 156z" fill="#6edc55" stroke="#2c5822"/>
<path d="M548.2 159.6L552.1 157.1L549.1 156L545.2 158.1z" fill="#6fde55" stroke="#2c5922"/>
<path d="M544.3 161.6L548.2 159.6L545.2 158.1L541.3 159.8z" fill="#6fde55" stroke="#2c5922"/>
<path d="M540.4 163.3L544.3 161.6L541.3 159.8L537.4 161.3z" fill="#6fdd55" stroke="#2c5822"/>
<path d="M536.5 164.8L540.4 163.3L537.4 161.3L533.5 162.8z" fill="#6fdd55" stroke="#2c5822"/>
<path d="M532.6 166.3L536.5 164.8L533.5 162.8L529.6 164.3z" fill="#6fdd55" stroke="#2c5822"/>
<path d="M528.7 167.8L532.6 166.3L529.6 164.3L525.7 165.8z" fill="#6fdd55" stroke="#2c5822"/>
<path d="M684 111L687.9 109.5L684.9 107.6L681 109.1z" fill="#6fdd55" stroke="#2c5822"/>
<path d="M680.1 112.5L684 111L681 109.1L677.1 110.6z" fill="#6fdd55" stroke="#2c5822"/>
<path d="M676.2 114.1L680.1 112.5L677.1 110.6L673.2 112.1z" fill="#67dc5c" stroke="#295825"/>
<path d="M672.3 115.9L676.2 114.1L673.2 112.1L669.3 113.7z" fill="#68de5d" stroke="#2a5925"/>
<path d="M668.4 118.3L672.3 115.9L669.3 113.7L665.4 115.7z" fill="#6de461" stroke="#2b5b27"/>
<path d="M664.5 121.4L668.4 118.3L665.4 115.7L661.5 118.2z" fill="#83fa89" stroke="#346437"/>
<path d="M660.6 125.1L664.5 121.4L661.5 118.2L657.6 121.3z" fill="#c8ffce" stroke="#506653"/>
<path d="M656.7 129.5L660.6 125.1L657.6 121.3L653.7 125z" fill="#ffffff" stroke="#666666"/>
<path d="M652.8 134.4L656.7 129.5L653.7 125L649.8 129z" fill="#ffffff" stroke="#666666"/>
<path d="M648.9 139.5L652.8 134.4L649.8 129L645.9 133.3z" fill="#deffff" stroke="#596666"/>
<path d="M645 144.5L648.9 139.5L645.9 133.3L641.9 137.5z" fill="#97fff7" stroke="#3d6663"/>
<path d="M641.1 149L645 144.5L641.9 137.5L638 141.5z" fill="#64dfd4" stroke="#285955"/>
<path d="M637.2 152.7L641.1 149L638 141.5L634.1 144.7z" fill="#46c3c7" stroke="#1c4e50"/>
<path d="M633.2 155.3L637.2 152.7L634.1 144.7L630.2 147.1z" fill="#3eb8bc" stroke="#194a4b"/>
<path d="M629.3 156.4L633.2 155.3L630.2 147.1L626.3 148.4z" fill="#3bb2b6" stroke="#184749"/>
<path d="M625.4 155.8L629.3 156.4L626.3 148.4L622.4 148.4z" fill="#40afa6" stroke="#1a4642"/>
<path d="M621.5 153.6L625.4 155.8L622.4 148.4L618.5 147.1z" fill="#44ab96" stroke="#1b443c"/>
<path d="M617.6 149.9L621.5 153.6L618.5 147.1L614.6 144.7z" fill="#4ea87d" stroke="#1f4332"/>
<path d="M613.7 145.1L617.6 149.9L614.6 144.7L610.7 141.4z" fill="#4da65f" stroke="#1f4226"/>
<path d="M609.8 139.6L613.7 145.1L610.7 141.4L606.8 137.7z" fill="#62c34b" stroke="#274e1e"/>
<path d="M605.9 134.2L609.8 139.6L606.8 137.7L602.9 133.9z" fill="#97e547" stroke="#3d5c1c"/>
<path d="M602 129.3L605.9 134.2L602.9 133.9L599 130.7z" fill="#cff33f" stroke="#536119"/>
<path d="M598.1 125.6L602 129.3L599 130.7L595.1 128.3z" fill="#fdff3d" stroke="#656618"/>
<path d="M594.2 123.4L598.1 125.6L595.1 128.3L591.2 127z" fill="#ffff33" stroke="#666615"/>
<path d="M590.3 122.9L594.2 123.4L591.2 127L587.3 127z" fill="#fde725" stroke="#655c0f"/>
<path d="M586.4 124L590.3 122.9L587.3 127L583.4 128.2z" fill="#f3dd1b" stroke="#61580b"/>
<path d="M582.5 126.5L586.4 124L583.4 128.2L579.5 130.6z" fill="#f0da18" stroke="#60570a"/>
<path d="M578.6 130.3L582.5 126.5L579.5 130.6L575.6 133.9z" fill="#e7dd17" stroke="#5c5909"/>
<path d="M574.7 134.8L578.6 130.3L575.6 133.9L571.7 137.8z" fill="#c8cd1d" stroke="#50520c"/>
<path d="M570.8 139.8L574.7 134.8L571.7 137.8L567.8 142z" fill="#b7c924" stroke="#49500e"/>
<path d="M566.9 144.9L570.8 139.8L567.8 142L563.8 146.3z" fill="#aecf2c" stroke="#465312"/>
<path d="M563 149.7L566.9 144.9L563.8 146.3L559.9 150.4z" fill="#8ad33f" stroke="#375419"/>
<path d="M559.1 154.1L563 149.7L559.9 150.4L556 154z" fill="#72d74c" stroke="#2e561e"/>
<path d="M555.1 157.9L559.1 154.1L556 154L552.1 157.1z" fill="#75dc4d" stroke="#2f581f"/>
<path d="M551.2 161L555.1 157.9L552.1 157.1L548.2 159.6z" fill="#6fdd55" stroke="#2c5922"/>
<path d="M547.3 163.3L551.2 161L548.2 159.6L544.3 161.6z" fill="#6fde55" stroke="#2d5922"/>
<path d="M543.4 165.2L547.3 163.3L544.3 161.6L540.4 163.3z" fill="#6fde55" stroke="#2c5922"/>
<path d="M539.5 166.7L543.4 165.2L540.4 163.3L536.5 164.8z" fill="#6fdd55" stroke="#2c5822"/>
<path d="M535.6 168.2L539.5 166.7L536.5 164.8L532.6 166.3z" fill="#6fdd55" stroke="#2c5822"/>
<path d="M531.7 169.7L535.6 168.2L532.6 166.3L528.7 167.8z" fill="#6fdd55" stroke="#2c5822"/>
<path d="M687 113L690.9 111.5L687.9 109.5L684 111z" fill="#6fdd55" stroke="#2c5822"/>
<path d="M683.1 114.5L687 113L684 111L680.1 112.5z" fill="#67db5c" stroke="#295825"/>
<path d="M679.2 116.2L683.1 114.5L680.1 112.5L676.2 114.1z" fill="#68dd5c" stroke="#295825"/>
<path d="M675.3 118.3L679.2 116.2L676.2 114.1L672.3 115.9z" fill="#6ae05e" stroke="#2a5a26"/>
<path d="M671.4 121.2L675.3 118.3L672.3 115.9L668.4 118.3z" fill="#77ef6b" stroke="#2f602b"/>
<path d="M667.5 124.9L671.4 121.2L668.4 118.3L664.5 121.4z" fill="#a8ffae" stroke="#436646"/>
<path d="M663.6 129.4L667.5 124.9L664.5 121.4L660.6 125.1z" fill="#f4ffff" stroke="#626666"/>
<path d="M659.7 134.6L663.6 129.4L660.6 125.1L656.7 129.5z" fill="#ffffff" stroke="#666666"/>
<path d="M655.8 140.4L659.7 134.6L656.7 129.5L652.8 134.4z" fill="#deffff" stroke="#596666"/>
<path d="M651.9 146.3L655.8 140.4L652.8 134.4L648.9 139.5z" fill="#96ffff" stroke="#3c6666"/>
<path d="M648 152.2L651.9 146.3L648.9 139.5L645 144.5z" fill="#65e5e8" stroke="#285b5d"/>
<path d="M644.1 157.4L648 152.2L645 144.5L641.1 149z" fill="#45bdcf" stroke="#1c4c53"/>
<path d="M640.2 161.7L644.1 157.4L641.1 149L637.2 152.7z" fill="#31a2c1" stroke="#14414d"/>
<path d="M636.3 164.4L640.2 161.7L637.2 152.7L633.2 155.3z" fill="#258eb9" stroke="#0f394a"/>
<path d="M632.4 165.4L636.3 164.4L633.2 155.3L629.3 156.4z" fill="#2388b2" stroke="#0e3747"/>
<path d="M628.5 164.3L632.4 165.4L629.3 156.4L625.4 155.8z" fill="#298faa" stroke="#103944"/>
<path d="M624.6 161L628.5 164.3L625.4 155.8L621.5 153.6z" fill="#349ea1" stroke="#153f40"/>
<path d="M620.6 155.8L624.6 161L621.5 153.6L617.6 149.9z" fill="#3e9a87" stroke="#193e36"/>
<path d="M616.7 149.1L620.6 155.8L617.6 149.9L613.7 145.1z" fill="#4fa970" stroke="#20442d"/>
<path d="M612.8 141.6L616.7 149.1L613.7 145.1L609.8 139.6z" fill="#68d050" stroke="#2a5320"/>
<path d="M608.9 134.1L612.8 141.6L609.8 139.6L605.9 134.2z" fill="#b7ea3f" stroke="#495e19"/>
<path d="M605 127.4L608.9 134.1L605.9 134.2L602 129.3z" fill="#fcff3c" stroke="#656618"/>
<path d="M601.1 122.2L605 127.4L602 129.3L598.1 125.6z" fill="#ffff4f" stroke="#666620"/>
<path d="M597.2 118.9L601.1 122.2L598.1 125.6L594.2 123.4z" fill="#fff94e" stroke="#66631f"/>
<path d="M593.3 117.8L597.2 118.9L594.2 123.4L590.3 122.9z" fill="#ffcf31" stroke="#665314"/>
<path d="M589.4 118.8L593.3 117.8L590.3 122.9L586.4 124z" fill="#f4ba1c" stroke="#624b0b"/>
<path d="M585.5 121.5L589.4 118.8L586.4 124L582.5 126.5z" fill="#efc117" stroke="#604d09"/>
<path d="M581.6 125.8L585.5 121.5L582.5 126.5L578.6 130.3z" fill="#efcd17" stroke="#605209"/>
<path d="M577.7 131L581.6 125.8L578.6 130.3L574.7 134.8z" fill="#ddc916" stroke="#585009"/>
<path d="M573.8 136.9L577.7 131L574.7 134.8L570.8 139.8z" fill="#cec615" stroke="#524f08"/>
<path d="M569.9 142.8L573.8 136.9L570.8 139.8L566.9 144.9z" fill="#b9cb24" stroke="#4a510e"/>
<path d="M566 148.6L569.9 142.8L566.9 144.9L563 149.7z" fill="#a3d135" stroke="#415415"/>
<path d="M562.1 153.8L566 148.6L563 149.7L559.1 154.1z" fill="#8cd640" stroke="#38551a"/>
<path d="M558.2 158.3L562.1 153.8L559.1 154.1L555.1 157.9z" fill="#74da4d" stroke="#2e571f"/>
<path d="M554.3 162L558.2 158.3L555.1 157.9L551.2 161z" fill="#6fdd55" stroke="#2c5822"/>
<path d="M550.4 164.9L554.3 162L551.2 161L547.3 163.3z" fill="#70df56" stroke="#2d5922"/>
<path d="M546.5 167L550.4 164.9L547.3 163.3L543.4 165.2z" fill="#70df56" stroke="#2d5922"/>
<path d="M542.5 168.7L546.5 167L543.4 165.2L539.5 166.7z" fill="#6fdd55" stroke="#2c5922"/>
<path d="M538.6 170.2L542.5 168.7L539.5 166.7L535.6 168.2z" fill="#6fdd55" stroke="#2c5822"/>
<path d="M534.7 171.7L538.6 170.2L535.6 168.2L531.7 169.7z" fill="#6fdd55" stroke="#2c5822"/>
<path d="M690.1 115L694 113.5L690.9 111.5L687 113z" fill="#6fdd55" stroke="#2c5822"/>
<path d="M686.1 116.5L690.1 115L687 113L683.1 114.5z" fill="#67dc5c" stroke="#295825"/>
<path d="M682.2 118.4L686.1 116.5L683.1 114.5L679.2 116.2z" fill="#68de5d" stroke="#2a5925"/>
<path d="M678.3 120.9L682.2 118.4L679.2 116.2L675.3 118.3z" fill="#6de562" stroke="#2c5c27"/>
<path d="M674.4 124.3L678.3 120.9L675.3 118.3L671.4 121.2z" fill="#87fe8d" stroke="#366638"/>
<path d="M670.5 128.6L674.4 124.3L671.4 121.2L667.5 124.9z" fill="#c3ffdb" stroke="#4e6658"/>
<path d="M666.6 133.9L670.5 128.6L667.5 124.9L663.6 129.4z" fill="#e9ffff" stroke="#5d6666"/>
<path d="M662.7 140L666.6 133.9L663.6 129.4L659.7 134.6z" fill="#c9ffff" stroke="#516666"/>
<path d="M658.8 146.7L662.7 140L659.7 134.6L655.8 140.4z" fill="#8dffff" stroke="#386666"/>
<path d="M654.9 153.7L658.8 146.7L655.8 140.4L651.9 146.3z" fill="#65e4e8" stroke="#285b5d"/>
<path d="M651 160.4L654.9 153.7L651.9 146.3L648 152.2z" fill="#41b4d4" stroke="#1a4855"/>
<path d="M647.1 166.5L651 160.4L648 152.2L644.1 157.4z" fill="#268cc7" stroke="#0f3850"/>
<path d="M643.2 171.3L647.1 166.5L644.1 157.4L640.2 161.7z" fill="#1d78bd" stroke="#0c304b"/>
<path d="M639.3 174.5L643.2 171.3L640.2 161.7L636.3 164.4z" fill="#1868b5" stroke="#0a2948"/>
<path d="M635.4 175.4L639.3 174.5L636.3 164.4L632.4 165.4z" fill="#1763ae" stroke="#092845"/>
<path d="M631.5 173.7L635.4 175.4L632.4 165.4L628.5 164.3z" fill="#1a73a6" stroke="#0a2e43"/>
<path d="M627.6 169.3L631.5 173.7L628.5 164.3L624.6 161z" fill="#25829b" stroke="#0f343e"/>
<path d="M623.7 162.4L627.6 169.3L624.6 161L620.6 155.8z" fill="#359088" stroke="#153936"/>
<path d="M619.8 153.5L623.7 162.4L620.6 155.8L616.7 149.1z" fill="#52b083" stroke="#214734"/>
<path d="M615.9 143.6L619.8 153.5L616.7 149.1L612.8 141.6z" fill="#70df56" stroke="#2d5922"/>
<path d="M612 133.6L615.9 143.6L612.8 141.6L608.9 134.1z" fill="#caed3a" stroke="#515f17"/>
<path d="M608 124.7L612 133.6L608.9 134.1L605 127.4z" fill="#ffff40" stroke="#66661a"/>
<path d="M604.1 117.8L608 124.7L605 127.4L601.1 122.2z" fill="#ffff6c" stroke="#66662b"/>
<path d="M600.2 113.4L604.1 117.8L601.1 122.2L597.2 118.9z" fill="#ffff70" stroke="#66662d"/>
<path d="M596.3 111.8L600.2 113.4L597.2 118.9L593.3 117.8z" fill="#ffbc41" stroke="#664b1a"/>
<path d="M592.4 112.7L596.3 111.8L593.3 117.8L589.4 118.8z" fill="#f6981e" stroke="#623d0c"/>
<path d="M588.5 115.8L592.4 112.7L589.4 118.8L585.5 121.5z" fill="#ed9c15" stroke="#5f3e09"/>
<path d="M584.6 120.6L588.5 115.8L585.5 121.5L581.6 125.8z" fill="#eda715" stroke="#5f4308"/>
<path d="M580.7 126.7L584.6 120.6L581.6 125.8L577.7 131z" fill="#dab114" stroke="#574708"/>
<path d="M576.8 133.5L580.7 126.7L577.7 131L573.8 136.9z" fill="#cbb914" stroke="#514a08"/>
<path d="M572.9 140.4L576.8 133.5L573.8 136.9L569.9 142.8z" fill="#d2ca15" stroke="#545108"/>
<path d="M569 147.1L572.9 140.4L569.9 142.8L566 148.6z" fill="#bdcf25" stroke="#4c530f"/>
<path d="M565.1 153.2L569 147.1L566 148.6L562.1 153.8z" fill="#a6d536" stroke="#425516"/>
<path d="M561.2 158.5L565.1 153.2L562.1 153.8L558.2 158.3z" fill="#8fda42" stroke="#39571a"/>
<path d="M557.3 162.9L561.2 158.5L558.2 158.3L554.3 162z" fill="#76dd4e" stroke="#2f581f"/>
<path d="M553.4 166.3L557.3 162.9L554.3 162L550.4 164.9z" fill="#70df56" stroke="#2d5922"/>
<path d="M549.5 168.8L553.4 166.3L550.4 164.9L546.5 167z" fill="#70df56" stroke="#2d5922"/>
<path d="M545.6 170.6L549.5 168.8L546.5 167L542.5 168.7z" fill="#6fde55" stroke="#2d5922"/>
<path d="M541.7 172.2L545.6 170.6L542.5 168.7L538.6 170.2z" fill="#6fdd55" stroke="#2c5822"/>
<path d="M537.8 173.7L541.7 172.2L538.6 170.2L534.7 171.7z" fill="#6fdd55" stroke="#2c5822"/>
<path d="M693.1 116.9L697 115.4L694 113.5L690.1 115z" fill="#67db5c" stroke="#295825"/>
<path d="M689.2 118.5L693.1 116.9L690.1 115L686.1 116.5z" fill="#67dc5c" stroke="#295825"/>
<path d="M685.3 120.6L689.2 118.5L686.1 116.5L682.2 118.4z" fill="#69e05e" stroke="#2a5a26"/>
<path d="M681.4 123.5L685.3 120.6L682.2 118.4L678.3 120.9z" fill="#73ec68" stroke="#2e5e29"/>
<path d="M677.5 127.5L681.4 123.5L678.3 120.9L674.4 124.3z" fill="#96ff9c" stroke="#3c663f"/>
<path d="M673.5 132.5L677.5 127.5L674.4 124.3L670.5 128.6z" fill="#beffd6" stroke="#4c6656"/>
<path d="M669.6 138.6L673.5 132.5L670.5 128.6L666.6 133.9z" fill="#b7fff2" stroke="#496661"/>
<path d="M665.7 145.7L669.6 138.6L666.6 133.9L662.7 140z" fill="#86ffe6" stroke="#36665c"/>
<path d="M661.8 153.3L665.7 145.7L662.7 140L658.8 146.7z" fill="#5cdde0" stroke="#25585a"/>
<path d="M657.9 161.3L661.8 153.3L658.8 146.7L654.9 153.7z" fill="#3fb2d2" stroke="#194754"/>
<path d="M654 169L657.9 161.3L654.9 153.7L651 160.4z" fill="#2582c8" stroke="#0f3450"/>
<path d="M650.1 176L654 169L651 160.4L647.1 166.5z" fill="#1c64bf" stroke="#0b284d"/>
<path d="M646.2 181.6L650.1 176L647.1 166.5L643.2 171.3z" fill="#1654b8" stroke="#09214a"/>
<path d="M642.3 185.2L646.2 181.6L643.2 171.3L639.3 174.5z" fill="#1247ad" stroke="#071c45"/>
<path d="M638.4 186.1L642.3 185.2L639.3 174.5L635.4 175.4z" fill="#1144a5" stroke="#071b42"/>
<path d="M634.5 184L638.4 186.1L635.4 175.4L631.5 173.7z" fill="#1352a0" stroke="#082140"/>
<path d="M630.6 178.4L634.5 184L631.5 173.7L627.6 169.3z" fill="#165f95" stroke="#09263c"/>
<path d="M626.7 169.7L630.6 178.4L627.6 169.3L623.7 162.4z" fill="#277d8a" stroke="#103237"/>
<path d="M622.8 158.3L626.7 169.7L623.7 162.4L619.8 153.5z" fill="#4aaa89" stroke="#1d4437"/>
<path d="M618.9 145.5L622.8 158.3L619.8 153.5L615.9 143.6z" fill="#70df56" stroke="#2d5923"/>
<path d="M615 132.7L618.9 145.5L615.9 143.6L612 133.6z" fill="#dbf033" stroke="#586014"/>
<path d="M611.1 121.4L615 132.7L612 133.6L608 124.7z" fill="#fffd47" stroke="#66651c"/>
<path d="M607.2 112.6L611.1 121.4L608 124.7L604.1 117.8z" fill="#ffff83" stroke="#666634"/>
<path d="M603.3 107.1L607.2 112.6L604.1 117.8L600.2 113.4z" fill="#fffe8f" stroke="#666539"/>
<path d="M599.4 104.9L603.3 107.1L600.2 113.4L596.3 111.8z" fill="#ffa952" stroke="#664321"/>
<path d="M595.5 105.9L599.4 104.9L596.3 111.8L592.4 112.7z" fill="#f2751f" stroke="#612f0c"/>
<path d="M591.5 109.5L595.5 105.9L592.4 112.7L588.5 115.8z" fill="#e97613" stroke="#5d2f08"/>
<path d="M587.6 115.1L591.5 109.5L588.5 115.8L584.6 120.6z" fill="#eb8213" stroke="#5e3408"/>
<path d="M583.7 122L587.6 115.1L584.6 120.6L580.7 126.7z" fill="#d88e13" stroke="#573907"/>
<path d="M579.8 129.8L583.7 122L580.7 126.7L576.8 133.5z" fill="#c9a313" stroke="#504107"/>
<path d="M575.9 137.7L579.8 129.8L576.8 133.5L572.9 140.4z" fill="#d0be14" stroke="#534c08"/>
<path d="M572 145.4L575.9 137.7L572.9 140.4L569 147.1z" fill="#c9ce1d" stroke="#51530c"/>
<path d="M568.1 152.4L572 145.4L569 147.1L565.1 153.2z" fill="#b3d42e" stroke="#485512"/>
<path d="M564.2 158.5L568.1 152.4L565.1 153.2L561.2 158.5z" fill="#8ed841" stroke="#39561a"/>
<path d="M560.3 163.6L564.2 158.5L561.2 158.5L557.3 162.9z" fill="#75dc4d" stroke="#2f581f"/>
<path d="M556.4 167.5L560.3 163.6L557.3 162.9L553.4 166.3z" fill="#70df56" stroke="#2d5922"/>
<path d="M552.5 170.4L556.4 167.5L553.4 166.3L549.5 168.8z" fill="#70e056" stroke="#2d5a22"/>
<path d="M548.6 172.5L552.5 170.4L549.5 168.8L545.6 170.6z" fill="#70df56" stroke="#2d5922"/>
<path d="M544.7 174.1L548.6 172.5L545.6 170.6L541.7 172.2z" fill="#6fdd55" stroke="#2c5922"/>
<path d="M540.8 175.6L544.7 174.1L541.7 172.2L537.8 173.7z" fill="#6fdd55" stroke="#2c5822"/>
<path d="M696.1 118.9L700 117.4L697 115.4L693.1 116.9z" fill="#67db5c" stroke="#295825"/>
<path d="M692.2 120.6L696.1 118.9L693.1 116.9L689.2 118.5z" fill="#68dd5c" stroke="#2a5825"/>
<path d="M688.3 123L692.2 120.6L689.2 118.5L685.3 120.6z" fill="#6be25f" stroke="#2b5a26"/>
<path d="M684.4 126.3L688.3 123L685.3 120.6L681.4 123.5z" fill="#78ef7e" stroke="#306032"/>
<path d="M680.5 130.8L684.4 126.3L681.4 123.5L677.5 127.5z" fill="#95ffad" stroke="#3c6645"/>
<path d="M676.6 136.5L680.5 130.8L677.5 127.5L673.5 132.5z" fill="#9fffc9" stroke="#406650"/>
<path d="M672.7 143.4L676.6 136.5L673.5 132.5L669.6 138.6z" fill="#81f6cf" stroke="#346253"/>
<path d="M668.8 151.3L672.7 143.4L669.6 138.6L665.7 145.7z" fill="#5cd8ce" stroke="#255652"/>
<path d="M664.9 159.9L668.8 151.3L665.7 145.7L661.8 153.3z" fill="#39adcd" stroke="#174552"/>
<path d="M661 168.9L664.9 159.9L661.8 153.3L657.9 161.3z" fill="#2380c6" stroke="#0e334f"/>
<path d="M657 177.6L661 168.9L657.9 161.3L654 169z" fill="#1c65c1" stroke="#0b284d"/>
<path d="M653.1 185.6L657 177.6L654 169L650.1 176z" fill="#164eb8" stroke="#091f4a"/>
<path d="M649.2 192L653.1 185.6L650.1 176L646.2 181.6z" fill="#1138aa" stroke="#071744"/>
<path d="M645.3 196.2L649.2 192L646.2 181.6L642.3 185.2z" fill="#0e2da0" stroke="#051240"/>
<path d="M641.4 197.4L645.3 196.2L642.3 185.2L638.4 186.1z" fill="#0d2a98" stroke="#05113d"/>
<path d="M637.5 194.9L641.4 197.4L638.4 186.1L634.5 184z" fill="#0d2f91" stroke="#05133a"/>
<path d="M633.6 188.3L637.5 194.9L634.5 184L630.6 178.4z" fill="#10408e" stroke="#061a39"/>
<path d="M629.7 177.6L633.6 188.3L630.6 178.4L626.7 169.7z" fill="#1e7397" stroke="#0c2e3c"/>
<path d="M625.8 163.6L629.7 177.6L626.7 169.7L622.8 158.3z" fill="#49b6a0" stroke="#1d4940"/>
<path d="M621.9 147.5L625.8 163.6L622.8 158.3L618.9 145.5z" fill="#70df57" stroke="#2d5923"/>
<path d="M618 131.4L621.9 147.5L618.9 145.5L615 132.7z" fill="#ecf12c" stroke="#5e6011"/>
<path d="M614.1 117.3L618 131.4L615 132.7L611.1 121.4z" fill="#ffe849" stroke="#665d1d"/>
<path d="M610.2 106.7L614.1 117.3L611.1 121.4L607.2 112.6z" fill="#fff390" stroke="#66613a"/>
<path d="M606.3 100.1L610.2 106.7L607.2 112.6L603.3 107.1z" fill="#ffe5a6" stroke="#665c43"/>
<path d="M602.4 97.6L606.3 100.1L603.3 107.1L599.4 104.9z" fill="#ff9260" stroke="#663b26"/>
<path d="M598.5 98.8L602.4 97.6L599.4 104.9L595.5 105.9z" fill="#e9511f" stroke="#5d200c"/>
<path d="M594.6 103L598.5 98.8L595.5 105.9L591.5 109.5z" fill="#df5011" stroke="#592007"/>
<path d="M590.7 109.4L594.6 103L591.5 109.5L587.6 115.1z" fill="#da6311" stroke="#572807"/>
<path d="M586.8 117.3L590.7 109.4L587.6 115.1L583.7 122z" fill="#cd7111" stroke="#522d07"/>
<path d="M582.9 126.1L586.8 117.3L583.7 122L579.8 129.8z" fill="#c88311" stroke="#503407"/>
<path d="M578.9 135L582.9 126.1L579.8 129.8L575.9 137.7z" fill="#cfa813" stroke="#534308"/>
<path d="M575 143.7L578.9 135L575.9 137.7L572 145.4z" fill="#d7ce15" stroke="#565209"/>
<path d="M571.1 151.6L575 143.7L572 145.4L568.1 152.4z" fill="#c0d326" stroke="#4d550f"/>
<path d="M567.2 158.5L571.1 151.6L568.1 152.4L564.2 158.5z" fill="#a9d937" stroke="#435716"/>
<path d="M563.3 164.2L567.2 158.5L564.2 158.5L560.3 163.6z" fill="#91dd43" stroke="#3a581b"/>
<path d="M559.4 168.7L563.3 164.2L560.3 163.6L556.4 167.5z" fill="#77e04f" stroke="#305a20"/>
<path d="M555.5 172L559.4 168.7L556.4 167.5L552.5 170.4z" fill="#71e156" stroke="#2d5a23"/>
<path d="M551.6 174.4L555.5 172L552.5 170.4L548.6 172.5z" fill="#70e056" stroke="#2d5a22"/>
<path d="M547.7 176.1L551.6 174.4L548.6 172.5L544.7 174.1z" fill="#6fde55" stroke="#2d5922"/>
<path d="M543.8 177.6L547.7 176.1L544.7 174.1L540.8 175.6z" fill="#6fdd55" stroke="#2c5822"/>
<path d="M699.1 120.9L703 119.3L700 117.4L696.1 118.9z" fill="#67dc5c" stroke="#295825"/>
<path d="M695.2 122.7L699.1 120.9L696.1 118.9L692.2 120.6z" fill="#68de5d" stroke="#2a5925"/>
<path d="M691.3 125.3L695.2 122.7L692.2 120.6L688.3 123z" fill="#6de461" stroke="#2b5b27"/>
<path d="M687.4 129L691.3 125.3L688.3 123L684.4 126.3z" fill="#7bf281" stroke="#316133"/>
<path d="M683.5 134L687.4 129L684.4 126.3L680.5 130.8z" fill="#8affa1" stroke="#376641"/>
<path d="M679.6 140.4L683.5 134L680.5 130.8L676.6 136.5z" fill="#80f1bb" stroke="#33604b"/>
<path d="M675.7 148L679.6 140.4L676.6 136.5L672.7 143.4z" fill="#5fd7be" stroke="#26564c"/>
<path d="M671.8 156.7L675.7 148L672.7 143.4L668.8 151.3z" fill="#3db7c9" stroke="#184950"/>
<path d="M667.9 166.3L671.8 156.7L668.8 151.3L664.9 159.9z" fill="#2a97c4" stroke="#113c4e"/>
<path d="M664 176.2L667.9 166.3L664.9 159.9L661 168.9z" fill="#1c6fc0" stroke="#0b2c4d"/>
<path d="M660.1 185.9L664 176.2L661 168.9L657 177.6z" fill="#154db8" stroke="#091f49"/>
<path d="M656.2 194.8L660.1 185.9L657 177.6L653.1 185.6z" fill="#1131a9" stroke="#071444"/>
<path d="M652.3 202.2L656.2 194.8L653.1 185.6L649.2 192z" fill="#0e219e" stroke="#050d3f"/>
<path d="M648.4 207.1L652.3 202.2L649.2 192L645.3 196.2z" fill="#0b1894" stroke="#040a3b"/>
<path d="M644.4 208.7L648.4 207.1L645.3 196.2L641.4 197.4z" fill="#0a168c" stroke="#040938"/>
<path d="M640.5 206.1L644.4 208.7L641.4 197.4L637.5 194.9z" fill="#0a1a84" stroke="#040b35"/>
<path d="M636.6 198.7L640.5 206.1L637.5 194.9L633.6 188.3z" fill="#0c2a81" stroke="#051134"/>
<path d="M632.7 186.2L636.6 198.7L633.6 188.3L629.7 177.6z" fill="#165ea4" stroke="#092642"/>
<path d="M628.8 169.2L632.7 186.2L629.7 177.6L625.8 163.6z" fill="#48c4b9" stroke="#1d4e4a"/>
<path d="M624.9 149.5L628.8 169.2L625.8 163.6L621.9 147.5z" fill="#71df57" stroke="#2d5923"/>
<path d="M621 129.7L624.9 149.5L621.9 147.5L618 131.4z" fill="#fbf223" stroke="#64610e"/>
<path d="M617.1 112.7L621 129.7L618 131.4L614.1 117.3z" fill="#ffc147" stroke="#664d1c"/>
<path d="M613.2 100.2L617.1 112.7L614.1 117.3L610.2 106.7z" fill="#ffd192" stroke="#66533a"/>
<path d="M609.3 92.8L613.2 100.2L610.2 106.7L606.3 100.1z" fill="#ffcdb2" stroke="#665247"/>
<path d="M605.4 90.2L609.3 92.8L606.3 100.1L602.4 97.6z" fill="#ff7567" stroke="#662f29"/>
<path d="M601.5 91.8L605.4 90.2L602.4 97.6L598.5 98.8z" fill="#df2a1c" stroke="#59110b"/>
<path d="M597.6 96.7L601.5 91.8L598.5 98.8L594.6 103z" fill="#d52a0f" stroke="#551106"/>
<path d="M593.7 104.1L597.6 96.7L594.6 103L590.7 109.4z" fill="#c73d0f" stroke="#501806"/>
<path d="M589.8 113L593.7 104.1L590.7 109.4L586.8 117.3z" fill="#be570f" stroke="#4c2306"/>
<path d="M585.9 122.7L589.8 113L586.8 117.3L582.9 126.1z" fill="#ca7a11" stroke="#513107"/>
<path d="M582 132.6L585.9 122.7L582.9 126.1L578.9 135z" fill="#d09e13" stroke="#533f08"/>
<path d="M578.1 142.2L582 132.6L578.9 135L575 143.7z" fill="#d6b814" stroke="#564a08"/>
<path d="M574.2 150.9L578.1 142.2L575 143.7L571.1 151.6z" fill="#cfd41e" stroke="#53550c"/>
<path d="M570.2 158.5L574.2 150.9L571.1 151.6L567.2 158.5z" fill="#b7d92f" stroke="#495713"/>
<path d="M566.3 164.9L570.2 158.5L567.2 158.5L563.3 164.2z" fill="#91dc42" stroke="#3a581b"/>
<path d="M562.4 169.9L566.3 164.9L563.3 164.2L559.4 168.7z" fill="#77df4f" stroke="#30591f"/>
<path d="M558.5 173.6L562.4 169.9L559.4 168.7L555.5 172z" fill="#71e157" stroke="#2d5a23"/>
<path d="M554.6 176.2L558.5 173.6L555.5 172L551.6 174.4z" fill="#71e157" stroke="#2d5a23"/>
<path d="M550.7 178L554.6 176.2L551.6 174.4L547.7 176.1z" fill="#70df56" stroke="#2d5922"/>
<path d="M546.8 179.6L550.7 178L547.7 176.1L543.8 177.6z" fill="#6fdd55" stroke="#2c5822"/>
<path d="M702.1 122.9L706 121.3L703 119.3L699.1 120.9z" fill="#67dc5c" stroke="#295825"/>
<path d="M698.2 124.8L702.1 122.9L699.1 120.9L695.2 122.7z" fill="#69df5d" stroke="#2a5925"/>
<path d="M694.3 127.7L698.2 124.8L695.2 122.7L691.3 125.3z" fill="#6ee662" stroke="#2c5c27"/>
<path d="M690.4 131.7L694.3 127.7L691.3 125.3L687.4 129z" fill="#78f07e" stroke="#306033"/>
<path d="M686.5 137.1L690.4 131.7L687.4 129L683.5 134z" fill="#7bf093" stroke="#31603b"/>
<path d="M682.6 144L686.5 137.1L683.5 134L679.6 140.4z" fill="#6edda8" stroke="#2c5943"/>
<path d="M678.7 152.2L682.6 144L679.6 140.4L675.7 148z" fill="#4cc7bd" stroke="#1e504c"/>
<path d="M674.8 161.7L678.7 152.2L675.7 148L671.8 156.7z" fill="#30a3c2" stroke="#13414e"/>
<path d="M670.9 172L674.8 161.7L671.8 156.7L667.9 166.3z" fill="#1c79bf" stroke="#0b304c"/>
<path d="M667 182.8L670.9 172L667.9 166.3L664 176.2z" fill="#1554ba" stroke="#09224a"/>
<path d="M663.1 193.4L667 182.8L664 176.2L660.1 185.9z" fill="#1139ac" stroke="#071745"/>
<path d="M659.2 203.3L663.1 193.4L660.1 185.9L656.2 194.8z" fill="#0e22a0" stroke="#060d40"/>
<path d="M655.3 211.5L659.2 203.3L656.2 194.8L652.3 202.2z" fill="#0c1396" stroke="#05073c"/>
<path d="M651.4 217.2L655.3 211.5L652.3 202.2L648.4 207.1z" fill="#0a1092" stroke="#04063a"/>
<path d="M647.5 219.4L651.4 217.2L648.4 207.1L644.4 208.7z" fill="#080d88" stroke="#030536"/>
<path d="M643.6 217.1L647.5 219.4L644.4 208.7L640.5 206.1z" fill="#070d7c" stroke="#030531"/>
<path d="M639.7 209.3L643.6 217.1L640.5 206.1L636.6 198.7z" fill="#091775" stroke="#03092f"/>
<path d="M635.8 195.2L639.7 209.3L636.6 198.7L632.7 186.2z" fill="#1248a0" stroke="#071d40"/>
<path d="M631.8 175.3L635.8 195.2L632.7 186.2L628.8 169.2z" fill="#37b2c4" stroke="#16474e"/>
<path d="M627.9 151.4L631.8 175.3L628.8 169.2L624.9 149.5z" fill="#71e057" stroke="#2d5923"/>
<path d="M624 127.6L627.9 151.4L624.9 149.5L621 129.7z" fill="#fad822" stroke="#64560d"/>
<path d="M620.1 107.6L624 127.6L621 129.7L617.1 112.7z" fill="#ffa441" stroke="#66411a"/>
<path d="M616.2 93.6L620.1 107.6L617.1 112.7L613.2 100.2z" fill="#ffa288" stroke="#664136"/>
<path d="M612.3 85.7L616.2 93.6L613.2 100.2L609.3 92.8z" fill="#ffb9ad" stroke="#664a45"/>
<path d="M608.4 83.4L612.3 85.7L609.3 92.8L605.4 90.2z" fill="#ff6d62" stroke="#662b27"/>
<path d="M604.5 85.6L608.4 83.4L605.4 90.2L601.5 91.8z" fill="#ba1f15" stroke="#4a0c08"/>
<path d="M600.6 91.3L604.5 85.6L601.5 91.8L597.6 96.7z" fill="#b3170b" stroke="#480905"/>
<path d="M596.7 99.6L600.6 91.3L597.6 96.7L593.7 104.1z" fill="#bb240d" stroke="#4b0f05"/>
<path d="M592.8 109.4L596.7 99.6L593.7 104.1L589.8 113z" fill="#bd430e" stroke="#4c1b06"/>
<path d="M588.9 120.1L592.8 109.4L589.8 113L585.9 122.7z" fill="#ca6610" stroke="#512906"/>
<path d="M585 130.8L588.9 120.1L585.9 122.7L582 132.6z" fill="#d18912" stroke="#543707"/>
<path d="M581.1 141.1L585 130.8L582 132.6L578.1 142.2z" fill="#d7ae14" stroke="#564608"/>
<path d="M577.2 150.6L581.1 141.1L578.1 142.2L574.2 150.9z" fill="#ded516" stroke="#595509"/>
<path d="M573.3 158.8L577.2 150.6L574.2 150.9L570.2 158.5z" fill="#b7d92f" stroke="#495713"/>
<path d="M569.4 165.7L573.3 158.8L570.2 158.5L566.3 164.9z" fill="#90dc42" stroke="#3a581b"/>
<path d="M565.5 171.1L569.4 165.7L566.3 164.9L562.4 169.9z" fill="#77df4f" stroke="#30591f"/>
<path d="M561.6 175.1L565.5 171.1L562.4 169.9L558.5 173.6z" fill="#71e257" stroke="#2d5a23"/>
<path d="M557.6 178L561.6 175.1L558.5 173.6L554.6 176.2z" fill="#71e257" stroke="#2d5a23"/>
<path d="M553.7 180L557.6 178L554.6 176.2L550.7 178z" fill="#70df56" stroke="#2d5922"/>
<path d="M549.8 181.5L553.7 180L550.7 178L546.8 179.6z" fill="#6fdd55" stroke="#2c5922"/>
<path d="M705.2 124.9L709.1 123.3L706 121.3L702.1 122.9z" fill="#68dc5c" stroke="#295825"/>
<path d="M701.2 126.9L705.2 124.9L702.1 122.9L698.2 124.8z" fill="#69e05e" stroke="#2a5925"/>
<path d="M697.3 130L701.2 126.9L698.2 124.8L694.3 127.7z" fill="#6ee763" stroke="#2c5c27"/>
<path d="M693.4 134.2L697.3 130L694.3 127.7L690.4 131.7z" fill="#74eb79" stroke="#2e5e31"/>
<path d="M689.5 140L693.4 134.2L690.4 131.7L686.5 137.1z" fill="#6ee198" stroke="#2c5a3d"/>
<path d="M685.6 147.3L689.5 140L686.5 137.1L682.6 144z" fill="#5dd0a9" stroke="#255344"/>
<path d="M681.7 156L685.6 147.3L682.6 144L678.7 152.2z" fill="#48c2b8" stroke="#1d4e4a"/>
<path d="M677.8 166L681.7 156L678.7 152.2L674.8 161.7z" fill="#2ea0bf" stroke="#12404d"/>
<path d="M673.9 176.9L677.8 166L674.8 161.7L670.9 172z" fill="#196bbb" stroke="#0a2b4b"/>
<path d="M670 188.4L673.9 176.9L670.9 172L667 182.8z" fill="#134ab4" stroke="#081e48"/>
<path d="M666.1 199.7L670 188.4L667 182.8L663.1 193.4z" fill="#0d27a2" stroke="#051041"/>
<path d="M662.2 210.3L666.1 199.7L663.1 193.4L659.2 203.3z" fill="#0b1295" stroke="#04073c"/>
<path d="M658.3 219.4L662.2 210.3L659.2 203.3L655.3 211.5z" fill="#0d1297" stroke="#05073c"/>
<path d="M654.4 225.9L658.3 219.4L655.3 211.5L651.4 217.2z" fill="#111399" stroke="#07083d"/>
<path d="M650.5 228.8L654.4 225.9L651.4 217.2L647.5 219.4z" fill="#0d0f8f" stroke="#050639"/>
<path d="M646.6 226.9L650.5 228.8L647.5 219.4L643.6 217.1z" fill="#06097b" stroke="#020431"/>
<path d="M642.7 219.1L646.6 226.9L643.6 217.1L639.7 209.3z" fill="#060b6c" stroke="#03042b"/>
<path d="M638.8 204.2L642.7 219.1L639.7 209.3L635.8 195.2z" fill="#0d3093" stroke="#05133b"/>
<path d="M634.9 181.6L638.8 204.2L635.8 195.2L631.8 175.3z" fill="#2fa4c4" stroke="#13424f"/>
<path d="M631 153.4L634.9 181.6L631.8 175.3L627.9 151.4z" fill="#71e057" stroke="#2d5923"/>
<path d="M627.1 125.1L631 153.4L627.9 151.4L624 127.6z" fill="#f8ca20" stroke="#63510d"/>
<path d="M623.1 102.6L627.1 125.1L624 127.6L620.1 107.6z" fill="#ff7537" stroke="#662f16"/>
<path d="M619.2 87.7L623.1 102.6L620.1 107.6L616.2 93.6z" fill="#ff786c" stroke="#66302b"/>
<path d="M615.3 79.8L619.2 87.7L616.2 93.6L612.3 85.7z" fill="#ff968e" stroke="#663c39"/>
<path d="M611.4 78L615.3 79.8L612.3 85.7L608.4 83.4z" fill="#d7564f" stroke="#562220"/>
<path d="M607.5 80.9L611.4 78L608.4 83.4L604.5 85.6z" fill="#8e120c" stroke="#390705"/>
<path d="M603.6 87.4L607.5 80.9L604.5 85.6L600.6 91.3z" fill="#921008" stroke="#3a0603"/>
<path d="M599.7 96.4L603.6 87.4L600.6 91.3L596.7 99.6z" fill="#ab170b" stroke="#440905"/>
<path d="M595.8 107L599.7 96.4L596.7 99.6L592.8 109.4z" fill="#bd2f0e" stroke="#4c1305"/>
<path d="M591.9 118.4L595.8 107L592.8 109.4L588.9 120.1z" fill="#cb5d10" stroke="#512506"/>
<path d="M588 129.8L591.9 118.4L588.9 120.1L585 130.8z" fill="#d48012" stroke="#553307"/>
<path d="M584.1 140.8L588 129.8L585 130.8L581.1 141.1z" fill="#d9b014" stroke="#574608"/>
<path d="M580.2 150.8L584.1 140.8L581.1 141.1L577.2 150.6z" fill="#dfd616" stroke="#595609"/>
<path d="M576.3 159.5L580.2 150.8L577.2 150.6L573.3 158.8z" fill="#c6da27" stroke="#4f5710"/>
<path d="M572.4 166.8L576.3 159.5L573.3 158.8L569.4 165.7z" fill="#addf38" stroke="#455916"/>
<path d="M568.5 172.5L572.4 166.8L569.4 165.7L565.5 171.1z" fill="#77e04f" stroke="#305920"/>
<path d="M564.6 176.8L568.5 172.5L565.5 171.1L561.6 175.1z" fill="#72e257" stroke="#2d5b23"/>
<path d="M560.7 179.8L564.6 176.8L561.6 175.1L557.6 178z" fill="#72e358" stroke="#2e5b23"/>
<path d="M556.8 181.9L560.7 179.8L557.6 178L553.7 180z" fill="#70e056" stroke="#2d5a23"/>
<path d="M552.9 183.5L556.8 181.9L553.7 180L549.8 181.5z" fill="#6fde55" stroke="#2c5922"/>
<path d="M708.2 126.8L712.1 125.2L709.1 123.3L705.2 124.9z" fill="#68dd5c" stroke="#295825"/>
<path d="M704.3 129L708.2 126.8L705.2 124.9L701.2 126.9z" fill="#69e05e" stroke="#2a5a25"/>
<path d="M700.4 132.1L704.3 129L701.2 126.9L697.3 130z" fill="#6ee662" stroke="#2c5c27"/>
<path d="M696.5 136.6L700.4 132.1L697.3 130L693.4 134.2z" fill="#6fe675" stroke="#2c5c2f"/>
<path d="M692.6 142.5L696.5 136.6L693.4 134.2L689.5 140z" fill="#68da91" stroke="#2a573a"/>
<path d="M688.6 150L692.6 142.5L689.5 140L685.6 147.3z" fill="#59cba5" stroke="#245142"/>
<path d="M684.7 159.1L688.6 150L685.6 147.3L681.7 156z" fill="#3ebcc0" stroke="#194b4d"/>
<path d="M680.8 169.4L684.7 159.1L681.7 156L677.8 166z" fill="#2691bd" stroke="#0f3a4c"/>
<path d="M676.9 180.7L680.8 169.4L677.8 166L673.9 176.9z" fill="#196ab9" stroke="#0a2a4a"/>
<path d="M673 192.6L676.9 180.7L673.9 176.9L670 188.4z" fill="#1140ad" stroke="#071a45"/>
<path d="M669.1 204.5L673 192.6L670 188.4L666.1 199.7z" fill="#0c1f9b" stroke="#050c3e"/>
<path d="M665.2 215.6L669.1 204.5L666.1 199.7L662.2 210.3z" fill="#090f93" stroke="#04063b"/>
<path d="M661.3 225.2L665.2 215.6L662.2 210.3L658.3 219.4z" fill="#0b0f95" stroke="#05063c"/>
<path d="M657.4 232.2L661.3 225.2L658.3 219.4L654.4 225.9z" fill="#3536bf" stroke="#15164d"/>
<path d="M653.5 235.7L657.4 232.2L654.4 225.9L650.5 228.8z" fill="#3030b7" stroke="#131349"/>
<path d="M649.6 234.4L653.5 235.7L650.5 228.8L646.6 226.9z" fill="#05067c" stroke="#020332"/>
<path d="M645.7 226.9L649.6 234.4L646.6 226.9L642.7 219.1z" fill="#060a77" stroke="#030430"/>
<path d="M641.8 211.9L645.7 226.9L642.7 219.1L638.8 204.2z" fill="#0c2599" stroke="#050f3d"/>
<path d="M637.9 187.9L641.8 211.9L638.8 204.2L634.9 181.6z" fill="#1f89c5" stroke="#0c374f"/>
<path d="M634 155.3L637.9 187.9L634.9 181.6L631 153.4z" fill="#71e057" stroke="#2d5923"/>
<path d="M630.1 122.7L634 155.3L631 153.4L627.1 125.1z" fill="#f5af1d" stroke="#62460b"/>
<path d="M626.2 98.8L630.1 122.7L627.1 125.1L623.1 102.6z" fill="#ef4e27" stroke="#601f10"/>
<path d="M622.3 83.8L626.2 98.8L623.1 102.6L619.2 87.7z" fill="#da483f" stroke="#571d19"/>
<path d="M618.4 76.3L622.3 83.8L619.2 87.7L615.3 79.8z" fill="#ce5550" stroke="#522220"/>
<path d="M614.5 75L618.4 76.3L615.3 79.8L611.4 78z" fill="#9f2f2b" stroke="#401311"/>
<path d="M610.5 78.4L614.5 75L611.4 78L607.5 80.9z" fill="#7d0b06" stroke="#320403"/>
<path d="M606.6 85.5L610.5 78.4L607.5 80.9L603.6 87.4z" fill="#890e07" stroke="#370603"/>
<path d="M602.7 95.1L606.6 85.5L603.6 87.4L599.7 96.4z" fill="#a9150b" stroke="#440804"/>
<path d="M598.8 106.2L602.7 95.1L599.7 96.4L595.8 107z" fill="#c0250e" stroke="#4d0f05"/>
<path d="M594.9 118.1L598.8 106.2L595.8 107L591.9 118.4z" fill="#cc5310" stroke="#522106"/>
<path d="M591 129.9L594.9 118.1L591.9 118.4L588 129.8z" fill="#d78212" stroke="#563407"/>
<path d="M587.1 141.3L591 129.9L588 129.8L584.1 140.8z" fill="#dba614" stroke="#584208"/>
<path d="M583.2 151.6L587.1 141.3L584.1 140.8L580.2 150.8z" fill="#e0cc16" stroke="#5a5209"/>
<path d="M579.3 160.6L583.2 151.6L580.2 150.8L576.3 159.5z" fill="#c7db27" stroke="#505810"/>
<path d="M575.4 168.1L579.3 160.6L576.3 159.5L572.4 166.8z" fill="#aedf38" stroke="#455917"/>
<path d="M571.5 174.1L575.4 168.1L572.4 166.8L568.5 172.5z" fill="#78e04f" stroke="#305a20"/>
<path d="M567.6 178.6L571.5 174.1L568.5 172.5L564.6 176.8z" fill="#72e358" stroke="#2e5b23"/>
<path d="M563.7 181.7L567.6 178.6L564.6 176.8L560.7 179.8z" fill="#73e458" stroke="#2e5b23"/>
<path d="M559.8 183.8L563.7 181.7L560.7 179.8L556.8 181.9z" fill="#71e157" stroke="#2d5a23"/>
<path d="M555.9 185.4L559.8 183.8L556.8 181.9L552.9 183.5z" fill="#6fde55" stroke="#2d5922"/>
<path d="M711.2 128.8L715.1 127.2L712.1 125.2L708.2 126.8z" fill="#68dd5c" stroke="#295825"/>
<path d="M707.3 131L711.2 128.8L708.2 126.8L704.3 129z" fill="#69e05e" stroke="#2a5a25"/>
<path d="M703.4 134.2L707.3 131L704.3 129L700.4 132.1z" fill="#6de561" stroke="#2b5b27"/>
<path d="M699.5 138.7L703.4 134.2L700.4 132.1L696.5 136.6z" fill="#6ce272" stroke="#2b5a2e"/>
<path d="M695.6 144.7L699.5 138.7L696.5 136.6L692.6 142.5z" fill="#65d68e" stroke="#285639"/>
<path d="M691.7 152.3L695.6 144.7L692.6 142.5L688.6 150z" fill="#57c9a3" stroke="#235041"/>
<path d="M687.8 161.4L691.7 152.3L688.6 150L684.7 159.1z" fill="#3dbabe" stroke="#194a4c"/>
<path d="M683.9 171.9L687.8 161.4L684.7 159.1L680.8 169.4z" fill="#258fbb" stroke="#0f394b"/>
<path d="M680 183.3L683.9 171.9L680.8 169.4L676.9 180.7z" fill="#165db6" stroke="#092549"/>
<path d="M676 195.4L680 183.3L676.9 180.7L673 192.6z" fill="#113fab" stroke="#071945"/>
<path d="M672.1 207.4L676 195.4L673 192.6L669.1 204.5z" fill="#0b1f99" stroke="#050c3d"/>
<path d="M668.2 218.7L672.1 207.4L669.1 204.5L665.2 215.6z" fill="#080d8f" stroke="#030539"/>
<path d="M664.3 228.5L668.2 218.7L665.2 215.6L661.3 225.2z" fill="#080a8f" stroke="#030439"/>
<path d="M660.4 235.7L664.3 228.5L661.3 225.2L657.4 232.2z" fill="#2c2cb6" stroke="#121249"/>
<path d="M656.5 239.4L660.4 235.7L657.4 232.2L653.5 235.7z" fill="#2b2bb5" stroke="#111148"/>
<path d="M652.6 238.3L656.5 239.4L653.5 235.7L649.6 234.4z" fill="#060686" stroke="#020236"/>
<path d="M648.7 231.1L652.6 238.3L649.6 234.4L645.7 226.9z" fill="#080c8d" stroke="#030539"/>
<path d="M644.8 216.3L648.7 231.1L645.7 226.9L641.8 211.9z" fill="#0d22a4" stroke="#050d42"/>
<path d="M640.9 192.2L644.8 216.3L641.8 211.9L637.9 187.9z" fill="#1e7dc5" stroke="#0c324f"/>
<path d="M637 157.3L640.9 192.2L637.9 187.9L634 155.3z" fill="#71e058" stroke="#2d5a23"/>
<path d="M633.1 122.4L637 157.3L634 155.3L630.1 122.7z" fill="#f19f19" stroke="#60400a"/>
<path d="M629.2 98.3L633.1 122.4L630.1 122.7L626.2 98.8z" fill="#dd3218" stroke="#581409"/>
<path d="M625.3 83.5L629.2 98.3L626.2 98.8L622.3 83.8z" fill="#b42118" stroke="#480d0a"/>
<path d="M621.4 76.3L625.3 83.5L622.3 83.8L618.4 76.3z" fill="#8b1a16" stroke="#370a09"/>
<path d="M617.5 75.2L621.4 76.3L618.4 76.3L614.5 75z" fill="#81110d" stroke="#330705"/>
<path d="M613.6 78.9L617.5 75.2L614.5 75L610.5 78.4z" fill="#760804" stroke="#2f0302"/>
<path d="M609.7 86.1L613.6 78.9L610.5 78.4L606.6 85.5z" fill="#890d07" stroke="#370503"/>
<path d="M605.8 95.9L609.7 86.1L606.6 85.5L602.7 95.1z" fill="#a6140a" stroke="#420804"/>
<path d="M601.9 107.2L605.8 95.9L602.7 95.1L598.8 106.2z" fill="#c5260e" stroke="#4f0f06"/>
<path d="M598 119.2L601.9 107.2L598.8 106.2L594.9 118.1z" fill="#d15510" stroke="#532206"/>
<path d="M594 131.3L598 119.2L594.9 118.1L591 129.9z" fill="#da7812" stroke="#573007"/>
<path d="M590.1 142.7L594 131.3L591 129.9L587.1 141.3z" fill="#dea814" stroke="#594308"/>
<path d="M586.2 153.2L590.1 142.7L587.1 141.3L583.2 151.6z" fill="#e2ce16" stroke="#5a5209"/>
<path d="M582.3 162.3L586.2 153.2L583.2 151.6L579.3 160.6z" fill="#c9dd27" stroke="#505810"/>
<path d="M578.4 169.9L582.3 162.3L579.3 160.6L575.4 168.1z" fill="#afe139" stroke="#465a17"/>
<path d="M574.5 175.9L578.4 169.9L575.4 168.1L571.5 174.1z" fill="#79e250" stroke="#305a20"/>
<path d="M570.6 180.4L574.5 175.9L571.5 174.1L567.6 178.6z" fill="#74e559" stroke="#2e5c24"/>
<path d="M566.7 183.6L570.6 180.4L567.6 178.6L563.7 181.7z" fill="#73e559" stroke="#2e5c24"/>
<path d="M562.8 185.8L566.7 183.6L563.7 181.7L559.8 183.8z" fill="#71e157" stroke="#2d5a23"/>
<path d="M558.9 187.4L562.8 185.8L559.8 183.8L555.9 185.4z" fill="#6fde55" stroke="#2d5922"/>
<path d="M714.2 130.8L718.1 129.2L715.1 127.2L711.2 128.8z" fill="#68dd5c" stroke="#295825"/>
<path d="M710.3 132.9L714.2 130.8L711.2 128.8L707.3 131z" fill="#69e05e" stroke="#2a5925"/>
<path d="M706.4 136L710.3 132.9L707.3 131L703.4 134.2z" fill="#6ce360" stroke="#2b5b26"/>
<path d="M702.5 140.5L706.4 136L703.4 134.2L699.5 138.7z" fill="#6ae070" stroke="#2a5a2d"/>
<path d="M698.6 146.5L702.5 140.5L699.5 138.7L695.6 144.7z" fill="#63d48c" stroke="#285538"/>
<path d="M694.7 154L698.6 146.5L695.6 144.7L691.7 152.3z" fill="#56c7a1" stroke="#235041"/>
<path d="M690.8 163L694.7 154L691.7 152.3L687.8 161.4z" fill="#3db9bc" stroke="#184a4b"/>
<path d="M686.9 173.3L690.8 163L687.8 161.4L683.9 171.9z" fill="#258eba" stroke="#0f394a"/>
<path d="M683 184.7L686.9 173.3L683.9 171.9L680 183.3z" fill="#1868b5" stroke="#0a2a49"/>
<path d="M679.1 196.5L683 184.7L680 183.3L676 195.4z" fill="#103ea9" stroke="#071944"/>
<path d="M675.2 208.4L679.1 196.5L676 195.4L672.1 207.4z" fill="#0b1e97" stroke="#040c3c"/>
<path d="M671.3 219.5L675.2 208.4L672.1 207.4L668.2 218.7z" fill="#080f8d" stroke="#030639"/>
<path d="M667.4 229.1L671.3 219.5L668.2 218.7L664.3 228.5z" fill="#070a8c" stroke="#030438"/>
<path d="M663.5 236.2L667.4 229.1L664.3 228.5L660.4 235.7z" fill="#06088c" stroke="#030338"/>
<path d="M659.5 239.6L663.5 236.2L660.4 235.7L656.5 239.4z" fill="#06068e" stroke="#020239"/>
<path d="M655.6 238.3L659.5 239.6L656.5 239.4L652.6 238.3z" fill="#0f109a" stroke="#06073e"/>
<path d="M651.7 230.8L655.6 238.3L652.6 238.3L648.7 231.1z" fill="#1b1fa8" stroke="#0b0c43"/>
<path d="M647.8 215.8L651.7 230.8L648.7 231.1L644.8 216.3z" fill="#1c38b7" stroke="#0b1649"/>
<path d="M643.9 191.9L647.8 215.8L644.8 216.3L640.9 192.2z" fill="#2791cd" stroke="#103a52"/>
<path d="M640 159.3L643.9 191.9L640.9 192.2L637 157.3z" fill="#74e35a" stroke="#2e5b24"/>
<path d="M636.1 126.7L640 159.3L637 157.3L633.1 122.4z" fill="#efa917" stroke="#604409"/>
<path d="M632.2 102.7L636.1 126.7L633.1 122.4L629.2 98.3z" fill="#d93711" stroke="#571607"/>
<path d="M628.3 87.7L632.2 102.7L629.2 98.3L625.3 83.5z" fill="#a6130a" stroke="#420804"/>
<path d="M624.4 80.2L628.3 87.7L625.3 83.5L621.4 76.3z" fill="#7c0a05" stroke="#320402"/>
<path d="M620.5 78.9L624.4 80.2L621.4 76.3L617.5 75.2z" fill="#700704" stroke="#2d0301"/>
<path d="M616.6 82.4L620.5 78.9L617.5 75.2L613.6 78.9z" fill="#a8302a" stroke="#431311"/>
<path d="M612.7 89.4L616.6 82.4L613.6 78.9L609.7 86.1z" fill="#c0362e" stroke="#4d1512"/>
<path d="M608.8 99L612.7 89.4L609.7 86.1L605.8 95.9z" fill="#b6180c" stroke="#490905"/>
<path d="M604.9 110.1L608.8 99L605.8 95.9L601.9 107.2z" fill="#ca270e" stroke="#511006"/>
<path d="M601 122L604.9 110.1L601.9 107.2L598 119.2z" fill="#d45610" stroke="#552307"/>
<path d="M597.1 133.9L601 122L598 119.2L594 131.3z" fill="#dd8613" stroke="#593507"/>
<path d="M593.2 145.2L597.1 133.9L594 131.3L590.1 142.7z" fill="#e0aa14" stroke="#5a4408"/>
<path d="M589.3 155.5L593.2 145.2L590.1 142.7L586.2 153.2z" fill="#e4d016" stroke="#5b5309"/>
<path d="M585.4 164.6L589.3 155.5L586.2 153.2L582.3 162.3z" fill="#cade28" stroke="#515910"/>
<path d="M581.4 172.1L585.4 164.6L582.3 162.3L578.4 169.9z" fill="#b0e239" stroke="#465b17"/>
<path d="M577.5 178L581.4 172.1L578.4 169.9L574.5 175.9z" fill="#7ae452" stroke="#315b21"/>
<path d="M573.6 182.5L577.5 178L574.5 175.9L570.6 180.4z" fill="#76e75b" stroke="#2f5d24"/>
<path d="M569.7 185.6L573.6 182.5L570.6 180.4L566.7 183.6z" fill="#75e65a" stroke="#2f5c24"/>
<path d="M565.8 187.8L569.7 185.6L566.7 183.6L562.8 185.8z" fill="#71e157" stroke="#2d5a23"/>
<path d="M561.9 189.4L565.8 187.8L562.8 185.8L558.9 187.4z" fill="#6fde55" stroke="#2d5922"/>
<path d="M717.2 132.7L721.1 131.1L718.1 129.2L714.2 130.8z" fill="#68dd5c" stroke="#295825"/>
<path d="M713.3 134.8L717.2 132.7L714.2 130.8L710.3 132.9z" fill="#69df5d" stroke="#2a5925"/>
<path d="M709.4 137.8L713.3 134.8L710.3 132.9L706.4 136z" fill="#6be25f" stroke="#2b5b26"/>
<path d="M705.5 142.1L709.4 137.8L706.4 136L702.5 140.5z" fill="#69de6f" stroke="#2a592c"/>
<path d="M701.6 147.8L705.5 142.1L702.5 140.5L698.6 146.5z" fill="#62d38b" stroke="#275438"/>
<path d="M697.7 155.1L701.6 147.8L698.6 146.5L694.7 154z" fill="#56c6a1" stroke="#224f40"/>
<path d="M693.8 163.8L697.7 155.1L694.7 154L690.8 163z" fill="#44bbb1" stroke="#1b4b47"/>
<path d="M689.9 173.8L693.8 163.8L690.8 163L686.9 173.3z" fill="#2c9ab8" stroke="#123d4a"/>
<path d="M686 184.8L689.9 173.8L686.9 173.3L683 184.7z" fill="#1867b3" stroke="#0a2948"/>
<path d="M682.1 196.2L686 184.8L683 184.7L679.1 196.5z" fill="#1246ab" stroke="#071c44"/>
<path d="M678.2 207.6L682.1 196.2L679.1 196.5L675.2 208.4z" fill="#0c2598" stroke="#050f3d"/>
<path d="M674.3 218.2L678.2 207.6L675.2 208.4L671.3 219.5z" fill="#09108b" stroke="#030638"/>
<path d="M670.4 227.2L674.3 218.2L671.3 219.5L667.4 229.1z" fill="#070b87" stroke="#030436"/>
<path d="M666.5 233.7L670.4 227.2L667.4 229.1L663.5 236.2z" fill="#060883" stroke="#020335"/>
<path d="M662.6 236.6L666.5 233.7L663.5 236.2L659.5 239.6z" fill="#080a8c" stroke="#030438"/>
<path d="M658.7 234.8L662.6 236.6L659.5 239.6L655.6 238.3z" fill="#2f32bc" stroke="#13144b"/>
<path d="M654.8 226.9L658.7 234.8L655.6 238.3L651.7 230.8z" fill="#545ae3" stroke="#21245b"/>
<path d="M650.9 212L654.8 226.9L651.7 230.8L647.8 215.8z" fill="#466fe7" stroke="#1c2d5d"/>
<path d="M646.9 189.5L650.9 212L647.8 215.8L643.9 191.9z" fill="#47bcdc" stroke="#1c4b58"/>
<path d="M643 161.2L646.9 189.5L643.9 191.9L640 159.3z" fill="#77e65d" stroke="#305c25"/>
<path d="M639.1 133L643 161.2L640 159.3L636.1 126.7z" fill="#f0c218" stroke="#604e09"/>
<path d="M635.2 110.4L639.1 133L636.1 126.7L632.2 102.7z" fill="#de4f11" stroke="#592007"/>
<path d="M631.3 95.5L635.2 110.4L632.2 102.7L628.3 87.7z" fill="#ab150b" stroke="#440904"/>
<path d="M627.4 87.7L631.3 95.5L628.3 87.7L624.4 80.2z" fill="#7a0c06" stroke="#310502"/>
<path d="M623.5 85.8L627.4 87.7L624.4 80.2L620.5 78.9z" fill="#7a0b06" stroke="#310402"/>
<path d="M619.6 88.7L623.5 85.8L620.5 78.9L616.6 82.4z" fill="#b53731" stroke="#491614"/>
<path d="M615.7 95.2L619.6 88.7L616.6 82.4L612.7 89.4z" fill="#d34138" stroke="#541a16"/>
<path d="M611.8 104.3L615.7 95.2L612.7 89.4L608.8 99z" fill="#c61e11" stroke="#4f0c07"/>
<path d="M607.9 114.9L611.8 104.3L608.8 99L604.9 110.1z" fill="#d0340f" stroke="#531506"/>
<path d="M604 126.2L607.9 114.9L604.9 110.1L601 122z" fill="#da6311" stroke="#572807"/>
<path d="M600.1 137.7L604 126.2L601 122L597.1 133.9z" fill="#e08713" stroke="#5a3608"/>
<path d="M596.2 148.6L600.1 137.7L597.1 133.9L593.2 145.2z" fill="#e3b815" stroke="#5b4908"/>
<path d="M592.3 158.6L596.2 148.6L593.2 145.2L589.3 155.5z" fill="#e7de17" stroke="#5c5909"/>
<path d="M588.4 167.3L592.3 158.6L589.3 155.5L585.4 164.6z" fill="#cce128" stroke="#525a10"/>
<path d="M584.5 174.6L588.4 167.3L585.4 164.6L581.4 172.1z" fill="#b2e53b" stroke="#475c18"/>
<path d="M580.6 180.4L584.5 174.6L581.4 172.1L577.5 178z" fill="#7ee855" stroke="#325d22"/>
<path d="M576.7 184.6L580.6 180.4L577.5 178L573.6 182.5z" fill="#79eb5e" stroke="#305e26"/>
<path d="M572.8 187.7L576.7 184.6L573.6 182.5L569.7 185.6z" fill="#76e75b" stroke="#2f5d24"/>
<path d="M568.8 189.7L572.8 187.7L569.7 185.6L565.8 187.8z" fill="#71e157" stroke="#2d5a23"/>
<path d="M564.9 191.3L568.8 189.7L565.8 187.8L561.9 189.4z" fill="#6fde55" stroke="#2d5922"/>
<path d="M720.3 134.6L724.2 133.1L721.1 131.1L717.2 132.7z" fill="#67dc5c" stroke="#295825"/>
<path d="M716.4 136.6L720.3 134.6L717.2 132.7L713.3 134.8z" fill="#69df5d" stroke="#2a5925"/>
<path d="M712.4 139.5L716.4 136.6L713.3 134.8L709.4 137.8z" fill="#6ae15e" stroke="#2a5a26"/>
<path d="M708.5 143.5L712.4 139.5L709.4 137.8L705.5 142.1z" fill="#68dd6e" stroke="#2a592c"/>
<path d="M704.6 148.9L708.5 143.5L705.5 142.1L701.6 147.8z" fill="#64d67b" stroke="#285531"/>
<path d="M700.7 155.8L704.6 148.9L701.6 147.8L697.7 155.1z" fill="#5ec996" stroke="#25503c"/>
<path d="M696.8 164L700.7 155.8L697.7 155.1L693.8 163.8z" fill="#44bab0" stroke="#1b4a46"/>
<path d="M692.9 173.5L696.8 164L693.8 163.8L689.9 173.8z" fill="#2c98b6" stroke="#113d49"/>
<path d="M689 183.8L692.9 173.5L689.9 173.8L686 184.8z" fill="#1a71b2" stroke="#0a2d47"/>
<path d="M685.1 194.5L689 183.8L686 184.8L682.1 196.2z" fill="#134eac" stroke="#081f45"/>
<path d="M681.2 205.2L685.1 194.5L682.1 196.2L678.2 207.6z" fill="#0e339e" stroke="#06143f"/>
<path d="M677.3 215L681.2 205.2L678.2 207.6L674.3 218.2z" fill="#0b1d8f" stroke="#040b39"/>
<path d="M673.4 223.3L677.3 215L674.3 218.2L670.4 227.2z" fill="#080d83" stroke="#030534"/>
<path d="M669.5 229L673.4 223.3L670.4 227.2L666.5 233.7z" fill="#080c86" stroke="#030536"/>
<path d="M665.6 231.2L669.5 229L666.5 233.7L662.6 236.6z" fill="#0d1396" stroke="#05083c"/>
<path d="M661.7 228.9L665.6 231.2L662.6 236.6L658.7 234.8z" fill="#5258e1" stroke="#21235a"/>
<path d="M657.8 221L661.7 228.9L658.7 234.8L654.8 226.9z" fill="#92a7ff" stroke="#3b4366"/>
<path d="M653.9 207L657.8 221L654.8 226.9L650.9 212z" fill="#76b7ff" stroke="#2f4966"/>
<path d="M650 187L653.9 207L650.9 212L646.9 189.5z" fill="#5dd8ea" stroke="#25565e"/>
<path d="M646.1 163.2L650 187L646.9 189.5L643 161.2z" fill="#79e85f" stroke="#305d26"/>
<path d="M642.2 139.3L646.1 163.2L643 161.2L639.1 133z" fill="#f0cf18" stroke="#60530a"/>
<path d="M638.2 119.4L642.2 139.3L639.1 133L635.2 110.4z" fill="#e87513" stroke="#5d2f07"/>
<path d="M634.3 105.3L638.2 119.4L635.2 110.4L631.3 95.5z" fill="#b0220c" stroke="#460e05"/>
<path d="M630.4 97.5L634.3 105.3L631.3 95.5L627.4 87.7z" fill="#841108" stroke="#350703"/>
<path d="M626.5 95.2L630.4 97.5L627.4 87.7L623.5 85.8z" fill="#911109" stroke="#3a0703"/>
<path d="M622.6 97.4L626.5 95.2L623.5 85.8L619.6 88.7z" fill="#aa1a10" stroke="#440a06"/>
<path d="M618.7 103.1L622.6 97.4L619.6 88.7L615.7 95.2z" fill="#c02116" stroke="#4d0d09"/>
<path d="M614.8 111.3L618.7 103.1L615.7 95.2L611.8 104.3z" fill="#d42e14" stroke="#551208"/>
<path d="M610.9 121.2L614.8 111.3L611.8 104.3L607.9 114.9z" fill="#d84e11" stroke="#561f07"/>
<path d="M607 131.8L610.9 121.2L607.9 114.9L604 126.2z" fill="#df7112" stroke="#592d07"/>
<path d="M603.1 142.6L607 131.8L604 126.2L600.1 137.7z" fill="#e39514" stroke="#5b3b08"/>
<path d="M599.2 152.9L603.1 142.6L600.1 137.7L596.2 148.6z" fill="#e6ba16" stroke="#5c4a09"/>
<path d="M595.3 162.4L599.2 152.9L596.2 148.6L592.3 158.6z" fill="#eae018" stroke="#5d5a09"/>
<path d="M591.4 170.6L595.3 162.4L592.3 158.6L588.4 167.3z" fill="#c0e332" stroke="#4d5b14"/>
<path d="M587.5 177.5L591.4 170.6L588.4 167.3L584.5 174.6z" fill="#99e749" stroke="#3d5d1d"/>
<path d="M583.6 182.9L587.5 177.5L584.5 174.6L580.6 180.4z" fill="#84ef5b" stroke="#356024"/>
<path d="M579.7 186.9L583.6 182.9L580.6 180.4L576.7 184.6z" fill="#7df063" stroke="#326027"/>
<path d="M575.8 189.8L579.7 186.9L576.7 184.6L572.8 187.7z" fill="#76e85c" stroke="#2f5d25"/>
<path d="M571.9 191.7L575.8 189.8L572.8 187.7L568.8 189.7z" fill="#71e157" stroke="#2d5a23"/>
<path d="M568 193.3L571.9 191.7L568.8 189.7L564.9 191.3z" fill="#6fde55" stroke="#2c5922"/>
<path d="M723.3 136.6L727.2 135.1L724.2 133.1L720.3 134.6z" fill="#67dc5c" stroke="#295825"/>
<path d="M719.4 138.4L723.3 136.6L720.3 134.6L716.4 136.6z" fill="#68de5d" stroke="#2a5925"/>
<path d="M715.5 141L719.4 138.4L716.4 136.6L712.4 139.5z" fill="#6ae05e" stroke="#2a5a26"/>
<path d="M711.6 144.7L715.5 141L712.4 139.5L708.5 143.5z" fill="#68dd6d" stroke="#29582c"/>
<path d="M707.7 149.7L711.6 144.7L708.5 143.5L704.6 148.9z" fill="#64d57b" stroke="#285531"/>
<path d="M703.8 156.1L707.7 149.7L704.6 148.9L700.7 155.8z" fill="#5dc996" stroke="#25503c"/>
<path d="M699.8 163.7L703.8 156.1L700.7 155.8L696.8 164z" fill="#4bbda5" stroke="#1e4b42"/>
<path d="M695.9 172.4L699.8 163.7L696.8 164L692.9 173.5z" fill="#33a4b5" stroke="#144248"/>
<path d="M692 182L695.9 172.4L692.9 173.5L689 183.8z" fill="#2388b2" stroke="#0e3647"/>
<path d="M688.1 191.9L692 182L689 183.8L685.1 194.5z" fill="#1763ac" stroke="#092745"/>
<path d="M684.2 201.6L688.1 191.9L685.1 194.5L681.2 205.2z" fill="#1143a3" stroke="#071b41"/>
<path d="M680.3 210.5L684.2 201.6L681.2 205.2L677.3 215z" fill="#0c2993" stroke="#05103b"/>
<path d="M676.4 217.9L680.3 210.5L677.3 215L673.4 223.3z" fill="#0b1d8f" stroke="#040b39"/>
<path d="M672.5 222.8L676.4 217.9L673.4 223.3L669.5 229z" fill="#0a1898" stroke="#040a3d"/>
<path d="M668.6 224.4L672.5 222.8L669.5 229L665.6 231.2z" fill="#1523a9" stroke="#080e43"/>
<path d="M664.7 221.8L668.6 224.4L665.6 231.2L661.7 228.9z" fill="#6478fb" stroke="#283064"/>
<path d="M660.8 214.4L664.7 221.8L661.7 228.9L657.8 221z" fill="#b1dbff" stroke="#475866"/>
<path d="M656.9 201.9L660.8 214.4L657.8 221L653.9 207z" fill="#93e8ff" stroke="#3b5d66"/>
<path d="M653 184.9L656.9 201.9L653.9 207L650 187z" fill="#76f2e8" stroke="#2f615d"/>
<path d="M649.1 165.2L653 184.9L650 187L646.1 163.2z" fill="#7ae960" stroke="#315d26"/>
<path d="M645.2 145.4L649.1 165.2L646.1 163.2L642.2 139.3z" fill="#f1e819" stroke="#615d0a"/>
<path d="M641.3 128.4L645.2 145.4L642.2 139.3L638.2 119.4z" fill="#ec8e14" stroke="#5e3908"/>
<path d="M637.4 115.9L641.3 128.4L638.2 119.4L634.3 105.3z" fill="#ba420e" stroke="#4a1a06"/>
<path d="M633.5 108.5L637.4 115.9L634.3 105.3L630.4 97.5z" fill="#981e0b" stroke="#3d0c04"/>
<path d="M629.6 105.9L633.5 108.5L630.4 97.5L626.5 95.2z" fill="#aa170c" stroke="#440905"/>
<path d="M625.6 107.5L629.6 105.9L626.5 95.2L622.6 97.4z" fill="#bd1a0d" stroke="#4b0a05"/>
<path d="M621.7 112.4L625.6 107.5L622.6 97.4L618.7 103.1z" fill="#cc2a11" stroke="#521107"/>
<path d="M617.8 119.8L621.7 112.4L618.7 103.1L614.8 111.3z" fill="#d74413" stroke="#561b08"/>
<path d="M613.9 128.7L617.8 119.8L614.8 111.3L610.9 121.2z" fill="#df6714" stroke="#592908"/>
<path d="M610 138.4L613.9 128.7L610.9 121.2L607 131.8z" fill="#e48a14" stroke="#5b3708"/>
<path d="M606.1 148.3L610 138.4L607 131.8L603.1 142.6z" fill="#e6af16" stroke="#5c4609"/>
<path d="M602.2 157.9L606.1 148.3L603.1 142.6L599.2 152.9z" fill="#e9c817" stroke="#5d5009"/>
<path d="M598.3 166.6L602.2 157.9L599.2 152.9L595.3 162.4z" fill="#dee322" stroke="#595b0d"/>
<path d="M594.4 174.2L598.3 166.6L595.3 162.4L591.4 170.6z" fill="#c5e936" stroke="#4f5d15"/>
<path d="M590.5 180.6L594.4 174.2L591.4 170.6L587.5 177.5z" fill="#a3f151" stroke="#416121"/>
<path d="M586.6 185.6L590.5 180.6L587.5 177.5L583.6 182.9z" fill="#8ffb66" stroke="#396429"/>
<path d="M582.7 189.3L586.6 185.6L583.6 182.9L579.7 186.9z" fill="#82f567" stroke="#346229"/>
<path d="M578.8 191.9L582.7 189.3L579.7 186.9L575.8 189.8z" fill="#76e85b" stroke="#2f5d25"/>
<path d="M574.9 193.7L578.8 191.9L575.8 189.8L571.9 191.7z" fill="#71e056" stroke="#2d5a23"/>
<path d="M571 195.2L574.9 193.7L571.9 191.7L568 193.3z" fill="#6fde55" stroke="#2c5922"/>
<path d="M726.3 138.5L730.2 137L727.2 135.1L723.3 136.6z" fill="#67dc5c" stroke="#295825"/>
<path d="M722.4 140.2L726.3 138.5L723.3 136.6L719.4 138.4z" fill="#68dd5c" stroke="#2a5925"/>
<path d="M718.5 142.6L722.4 140.2L719.4 138.4L715.5 141z" fill="#69e05d" stroke="#2a5925"/>
<path d="M714.6 145.9L718.5 142.6L715.5 141L711.6 144.7z" fill="#67dc6d" stroke="#29582c"/>
<path d="M710.7 150.4L714.6 145.9L711.6 144.7L707.7 149.7z" fill="#64d57b" stroke="#285531"/>
<path d="M706.8 156.1L710.7 150.4L707.7 149.7L703.8 156.1z" fill="#5fcd87" stroke="#265236"/>
<path d="M702.9 163L706.8 156.1L703.8 156.1L699.8 163.7z" fill="#53c09b" stroke="#214d3e"/>
<path d="M699 170.9L702.9 163L699.8 163.7L695.9 172.4z" fill="#42b4ab" stroke="#1a4844"/>
<path d="M695.1 179.6L699 170.9L695.9 172.4L692 182z" fill="#2a93b0" stroke="#113b46"/>
<path d="M691.1 188.5L695.1 179.6L692 182L688.1 191.9z" fill="#196dab" stroke="#0a2b45"/>
<path d="M687.2 197.3L691.1 188.5L688.1 191.9L684.2 201.6z" fill="#1455a5" stroke="#082242"/>
<path d="M683.3 205.2L687.2 197.3L684.2 201.6L680.3 210.5z" fill="#10409c" stroke="#061a3e"/>
<path d="M679.4 211.6L683.3 205.2L680.3 210.5L676.4 217.9z" fill="#0f34a2" stroke="#061541"/>
<path d="M675.5 215.8L679.4 211.6L676.4 217.9L672.5 222.8z" fill="#0f30ad" stroke="#061345"/>
<path d="M671.6 217L675.5 215.8L672.5 222.8L668.6 224.4z" fill="#1c3eba" stroke="#0b194b"/>
<path d="M667.7 214.5L671.6 217L668.6 224.4L664.7 221.8z" fill="#6992ff" stroke="#2a3a66"/>
<path d="M663.8 207.9L667.7 214.5L664.7 221.8L660.8 214.4z" fill="#b9faff" stroke="#4a6466"/>
<path d="M659.9 197.3L663.8 207.9L660.8 214.4L656.9 201.9z" fill="#a8ffff" stroke="#436666"/>
<path d="M656 183.2L659.9 197.3L656.9 201.9L653 184.9z" fill="#83fae2" stroke="#34645a"/>
<path d="M652.1 167.1L656 183.2L653 184.9L649.1 165.2z" fill="#7be961" stroke="#315d27"/>
<path d="M648.2 151L652.1 167.1L649.1 165.2L645.2 145.4z" fill="#e2e722" stroke="#5a5c0d"/>
<path d="M644.3 137L648.2 151L645.2 145.4L641.3 128.4z" fill="#eeb416" stroke="#5f4809"/>
<path d="M640.4 126.3L644.3 137L641.3 128.4L637.4 115.9z" fill="#c36310" stroke="#4e2706"/>
<path d="M636.5 119.7L640.4 126.3L637.4 115.9L633.5 108.5z" fill="#a1390c" stroke="#411705"/>
<path d="M632.6 117.2L636.5 119.7L633.5 108.5L629.6 105.9z" fill="#b1360d" stroke="#471605"/>
<path d="M628.7 118.4L632.6 117.2L629.6 105.9L625.6 107.5z" fill="#c23b0e" stroke="#4d1806"/>
<path d="M624.8 122.6L628.7 118.4L625.6 107.5L621.7 112.4z" fill="#d04b10" stroke="#531e07"/>
<path d="M620.9 129L624.8 122.6L621.7 112.4L617.8 119.8z" fill="#dd6613" stroke="#582908"/>
<path d="M617 137L620.9 129L617.8 119.8L613.9 128.7z" fill="#e58015" stroke="#5c3309"/>
<path d="M613 145.7L617 137L613.9 128.7L610 138.4z" fill="#e79816" stroke="#5d3d09"/>
<path d="M609.1 154.7L613 145.7L610 138.4L606.1 148.3z" fill="#eabe18" stroke="#5e4c0a"/>
<path d="M605.2 163.3L609.1 154.7L606.1 148.3L602.2 157.9z" fill="#efe51b" stroke="#5f5c0b"/>
<path d="M601.3 171.2L605.2 163.3L602.2 157.9L598.3 166.6z" fill="#d5ea2f" stroke="#555d13"/>
<path d="M597.4 178.1L601.3 171.2L598.3 166.6L594.4 174.2z" fill="#c1f549" stroke="#4d621d"/>
<path d="M593.5 183.8L597.4 178.1L594.4 174.2L590.5 180.6z" fill="#b6ff64" stroke="#496628"/>
<path d="M589.6 188.3L593.5 183.8L590.5 180.6L586.6 185.6z" fill="#9dff74" stroke="#3f662e"/>
<path d="M585.7 191.6L589.6 188.3L586.6 185.6L582.7 189.3z" fill="#85f76a" stroke="#35632a"/>
<path d="M581.8 194L585.7 191.6L582.7 189.3L578.8 191.9z" fill="#75e65a" stroke="#2f5c24"/>
<path d="M577.9 195.7L581.8 194L578.8 191.9L574.9 193.7z" fill="#70e056" stroke="#2d5922"/>
<path d="M574 197.2L577.9 195.7L574.9 193.7L571 195.2z" fill="#6fdd55" stroke="#2c5822"/>
<path d="M729.3 140.5L733.2 139L730.2 137L726.3 138.5z" fill="#67db5c" stroke="#295825"/>
<path d="M725.4 142.1L729.3 140.5L726.3 138.5L722.4 140.2z" fill="#68dd5c" stroke="#295825"/>
<path d="M721.5 144.2L725.4 142.1L722.4 140.2L718.5 142.6z" fill="#69df5d" stroke="#2a5925"/>
<path d="M717.6 147.1L721.5 144.2L718.5 142.6L714.6 145.9z" fill="#69df5d" stroke="#2a5925"/>
<path d="M713.7 151L717.6 147.1L714.6 145.9L710.7 150.4z" fill="#66d96c" stroke="#29572b"/>
<path d="M709.8 156.1L713.7 151L710.7 150.4L706.8 156.1z" fill="#62d178" stroke="#275430"/>
<path d="M705.9 162.2L709.8 156.1L706.8 156.1L702.9 163z" fill="#5bc492" stroke="#244e3a"/>
<path d="M702 169.2L705.9 162.2L702.9 163L699 170.9z" fill="#49b7a1" stroke="#1d4940"/>
<path d="M698.1 176.9L702 169.2L699 170.9L695.1 179.6z" fill="#39acaf" stroke="#174546"/>
<path d="M694.2 184.8L698.1 176.9L695.1 179.6L691.1 188.5z" fill="#298fab" stroke="#103944"/>
<path d="M690.3 192.6L694.2 184.8L691.1 188.5L687.2 197.3z" fill="#1869a6" stroke="#0a2a42"/>
<path d="M686.4 199.5L690.3 192.6L687.2 197.3L683.3 205.2z" fill="#1456a8" stroke="#082243"/>
<path d="M682.5 205.1L686.4 199.5L683.3 205.2L679.4 211.6z" fill="#1452b7" stroke="#082149"/>
<path d="M678.5 208.7L682.5 205.1L679.4 211.6L675.5 215.8z" fill="#144dbc" stroke="#081f4b"/>
<path d="M674.6 209.7L678.5 208.7L675.5 215.8L671.6 217z" fill="#225bca" stroke="#0e2451"/>
<path d="M670.7 207.5L674.6 209.7L671.6 217L667.7 214.5z" fill="#67b3ff" stroke="#294766"/>
<path d="M666.8 202L670.7 207.5L667.7 214.5L663.8 207.9z" fill="#b2ffff" stroke="#476666"/>
<path d="M662.9 193.2L666.8 202L663.8 207.9L659.9 197.3z" fill="#b5ffff" stroke="#486666"/>
<path d="M659 181.9L662.9 193.2L659.9 197.3L656 183.2z" fill="#8cffd8" stroke="#386656"/>
<path d="M655.1 169.1L659 181.9L656 183.2L652.1 167.1z" fill="#7ae961" stroke="#315d27"/>
<path d="M651.2 156.3L655.1 169.1L652.1 167.1L648.2 151z" fill="#d2e72a" stroke="#545c11"/>
<path d="M647.3 144.9L651.2 156.3L648.2 151L644.3 137z" fill="#dabc15" stroke="#574b08"/>
<path d="M643.4 136.2L647.3 144.9L644.3 137L640.4 126.3z" fill="#b57710" stroke="#493006"/>
<path d="M639.5 130.6L643.4 136.2L640.4 126.3L636.5 119.7z" fill="#af600e" stroke="#462606"/>
<path d="M635.6 128.5L639.5 130.6L636.5 119.7L632.6 117.2z" fill="#ba550f" stroke="#4b2206"/>
<path d="M631.7 129.4L635.6 128.5L632.6 117.2L628.7 118.4z" fill="#c95c10" stroke="#502506"/>
<path d="M627.8 133L631.7 129.4L628.7 118.4L624.8 122.6z" fill="#d76c12" stroke="#562b07"/>
<path d="M623.9 138.6L627.8 133L624.8 122.6L620.9 129z" fill="#e17d14" stroke="#5a3208"/>
<path d="M620 145.6L623.9 138.6L620.9 129L617 137z" fill="#e79917" stroke="#5c3d09"/>
<path d="M616.1 153.3L620 145.6L617 137L613 145.7z" fill="#ecc01b" stroke="#5f4d0b"/>
<path d="M612.2 161.3L616.1 153.3L613 145.7L609.1 154.7z" fill="#f1dc1e" stroke="#60580c"/>
<path d="M608.3 168.9L612.2 161.3L609.1 154.7L605.2 163.3z" fill="#e8ee2b" stroke="#5d5f11"/>
<path d="M604.4 176L608.3 168.9L605.2 163.3L601.3 171.2z" fill="#d6f945" stroke="#55641c"/>
<path d="M600.5 182.1L604.4 176L601.3 171.2L597.4 178.1z" fill="#bfff6d" stroke="#4c662c"/>
<path d="M596.5 187.1L600.5 182.1L597.4 178.1L593.5 183.8z" fill="#b5ff8c" stroke="#486638"/>
<path d="M592.6 191.1L596.5 187.1L593.5 183.8L589.6 188.3z" fill="#a1ff86" stroke="#406636"/>
<path d="M588.7 194L592.6 191.1L589.6 188.3L585.7 191.6z" fill="#82f567" stroke="#346229"/>
<path d="M584.8 196.1L588.7 194L585.7 191.6L581.8 194z" fill="#73e458" stroke="#2e5b23"/>
<path d="M580.9 197.7L584.8 196.1L581.8 194L577.9 195.7z" fill="#70df56" stroke="#2d5922"/>
<path d="M577 199.2L580.9 197.7L577.9 195.7L574 197.2z" fill="#6fdd55" stroke="#2c5822"/>
<path d="M732.3 142.4L736.2 140.9L733.2 139L729.3 140.5z" fill="#6fdd55" stroke="#2c5822"/>
<path d="M728.4 144L732.3 142.4L729.3 140.5L725.4 142.1z" fill="#67dc5c" stroke="#295825"/>
<path d="M724.5 145.8L728.4 144L725.4 142.1L721.5 144.2z" fill="#68de5d" stroke="#2a5925"/>
<path d="M720.6 148.3L724.5 145.8L721.5 144.2L717.6 147.1z" fill="#69df5d" stroke="#2a5925"/>
<path d="M716.7 151.7L720.6 148.3L717.6 147.1L713.7 151z" fill="#66da6c" stroke="#29572b"/>
<path d="M712.8 156.1L716.7 151.7L713.7 151L709.8 156.1z" fill="#62d279" stroke="#275430"/>
<path d="M708.9 161.4L712.8 156.1L709.8 156.1L705.9 162.2z" fill="#5dc884" stroke="#255035"/>
<path d="M705 167.5L708.9 161.4L705.9 162.2L702 169.2z" fill="#51bc98" stroke="#214b3d"/>
<path d="M701.1 174.2L705 167.5L702 169.2L698.1 176.9z" fill="#40afa6" stroke="#1a4642"/>
<path d="M697.2 181.1L701.1 174.2L698.1 176.9L694.2 184.8z" fill="#37a7aa" stroke="#164344"/>
<path d="M693.3 187.9L697.2 181.1L694.2 184.8L690.3 192.6z" fill="#288ba6" stroke="#103742"/>
<path d="M689.4 194L693.3 187.9L690.3 192.6L686.4 199.5z" fill="#1c7db4" stroke="#0b3248"/>
<path d="M685.5 198.8L689.4 194L686.4 199.5L682.5 205.1z" fill="#1c7cc4" stroke="#0b324e"/>
<path d="M681.6 201.9L685.5 198.8L682.5 205.1L678.5 208.7z" fill="#1b70c3" stroke="#0b2d4e"/>
<path d="M677.7 202.8L681.6 201.9L678.5 208.7L674.6 209.7z" fill="#277ccf" stroke="#103253"/>
<path d="M673.8 201.2L677.7 202.8L674.6 209.7L670.7 207.5z" fill="#5fc9ff" stroke="#265066"/>
<path d="M669.9 196.8L673.8 201.2L670.7 207.5L666.8 202z" fill="#abffff" stroke="#446666"/>
<path d="M666 189.9L669.9 196.8L666.8 202L662.9 193.2z" fill="#b6ffff" stroke="#496666"/>
<path d="M662 181L666 189.9L662.9 193.2L659 181.9z" fill="#90ffca" stroke="#3a6651"/>
<path d="M658.1 171L662 181L659 181.9L655.1 169.1z" fill="#7ae960" stroke="#315d26"/>
<path d="M654.2 161.1L658.1 171L655.1 169.1L651.2 156.3z" fill="#c2e632" stroke="#4e5c14"/>
<path d="M650.3 152.2L654.2 161.1L651.2 156.3L647.3 144.9z" fill="#c9c114" stroke="#504d08"/>
<path d="M646.4 145.3L650.3 152.2L647.3 144.9L643.4 136.2z" fill="#a78710" stroke="#433606"/>
<path d="M642.5 140.9L646.4 145.3L643.4 136.2L639.5 130.6z" fill="#b58010" stroke="#483306"/>
<path d="M638.6 139.2L642.5 140.9L639.5 130.6L635.6 128.5z" fill="#c37610" stroke="#4e2f07"/>
<path d="M634.7 140.1L638.6 139.2L635.6 128.5L631.7 129.4z" fill="#d07e11" stroke="#533207"/>
<path d="M630.8 143.3L634.7 140.1L631.7 129.4L627.8 133z" fill="#da8f13" stroke="#573908"/>
<path d="M626.9 148.1L630.8 143.3L627.8 133L623.9 138.6z" fill="#e3a016" stroke="#5b4009"/>
<path d="M623 154.2L626.9 148.1L623.9 138.6L620 145.6z" fill="#ebbf1a" stroke="#5e4c0b"/>
<path d="M619.1 160.9L623 154.2L620 145.6L616.1 153.3z" fill="#f3de21" stroke="#61590d"/>
<path d="M615.2 167.9L619.1 160.9L616.1 153.3L612.2 161.3z" fill="#fdf428" stroke="#656110"/>
<path d="M611.3 174.6L615.2 167.9L612.2 161.3L608.3 168.9z" fill="#edff46" stroke="#5f661c"/>
<path d="M607.4 180.7L611.3 174.6L608.3 168.9L604.4 176z" fill="#e9ff70" stroke="#5d662d"/>
<path d="M603.5 186L607.4 180.7L604.4 176L600.5 182.1z" fill="#edff9b" stroke="#5f663e"/>
<path d="M599.6 190.3L603.5 186L600.5 182.1L596.5 187.1z" fill="#d2ffa8" stroke="#546643"/>
<path d="M595.7 193.7L599.6 190.3L596.5 187.1L592.6 191.1z" fill="#a0ff85" stroke="#406635"/>
<path d="M591.8 196.2L595.7 193.7L592.6 191.1L588.7 194z" fill="#7bed61" stroke="#315f27"/>
<path d="M587.9 198.1L591.8 196.2L588.7 194L584.8 196.1z" fill="#71e157" stroke="#2d5a23"/>
<path d="M583.9 199.6L587.9 198.1L584.8 196.1L580.9 197.7z" fill="#6fde55" stroke="#2c5922"/>
<path d="M580 201.1L583.9 199.6L580.9 197.7L577 199.2z" fill="#6fdd55" stroke="#2c5822"/>
<path d="M735.4 144.4L739.3 142.9L736.2 140.9L732.3 142.4z" fill="#6fdd55" stroke="#2c5822"/>
<path d="M731.5 145.9L735.4 144.4L732.3 142.4L728.4 144z" fill="#67dc5c" stroke="#295825"/>
<path d="M727.5 147.6L731.5 145.9L728.4 144L724.5 145.8z" fill="#68dd5c" stroke="#295825"/>
<path d="M723.6 149.7L727.5 147.6L724.5 145.8L720.6 148.3z" fill="#68de5d" stroke="#2a5925"/>
<path d="M719.7 152.6L723.6 149.7L720.6 148.3L716.7 151.7z" fill="#68dd5c" stroke="#2a5925"/>
<path d="M715.8 156.3L719.7 152.6L716.7 151.7L712.8 156.1z" fill="#65d76a" stroke="#28562a"/>
<path d="M711.9 160.8L715.8 156.3L712.8 156.1L708.9 161.4z" fill="#60ce76" stroke="#26522f"/>
<path d="M708 166L711.9 160.8L708.9 161.4L705 167.5z" fill="#5bc481" stroke="#254e34"/>
<path d="M704.1 171.8L708 166L705 167.5L701.1 174.2z" fill="#4fb794" stroke="#20493b"/>
<path d="M700.2 177.7L704.1 171.8L701.1 174.2L697.2 181.1z" fill="#3faba2" stroke="#194441"/>
<path d="M696.3 183.6L700.2 177.7L697.2 181.1L693.3 187.9z" fill="#36a3a6" stroke="#154142"/>
<path d="M692.4 188.8L696.3 183.6L693.3 187.9L689.4 194z" fill="#33a3b4" stroke="#144148"/>
<path d="M688.5 193.1L692.4 188.8L689.4 194L685.5 198.8z" fill="#2fa4c4" stroke="#13424f"/>
<path d="M684.6 195.8L688.5 193.1L685.5 198.8L681.6 201.9z" fill="#2897c5" stroke="#103c4f"/>
<path d="M680.7 196.8L684.6 195.8L681.6 201.9L677.7 202.8z" fill="#31a0cf" stroke="#144053"/>
<path d="M676.8 195.7L680.7 196.8L677.7 202.8L673.8 201.2z" fill="#5dd2f2" stroke="#255461"/>
<path d="M672.9 192.4L676.8 195.7L673.8 201.2L669.9 196.8z" fill="#9affff" stroke="#3e6666"/>
<path d="M669 187.2L672.9 192.4L669.9 196.8L666 189.9z" fill="#a6ffff" stroke="#426666"/>
<path d="M665.1 180.5L669 187.2L666 189.9L662 181z" fill="#8afab2" stroke="#376447"/>
<path d="M661.2 173L665.1 180.5L662 181L658.1 171z" fill="#78e75e" stroke="#305c26"/>
<path d="M657.3 165.5L661.2 173L658.1 171L654.2 161.1z" fill="#b2e53a" stroke="#475c17"/>
<path d="M653.4 158.8L657.3 165.5L654.2 161.1L650.3 152.2z" fill="#c0c41c" stroke="#4d4f0b"/>
<path d="M649.4 153.6L653.4 158.8L650.3 152.2L646.4 145.3z" fill="#b0a011" stroke="#464007"/>
<path d="M645.5 150.3L649.4 153.6L646.4 145.3L642.5 140.9z" fill="#bc9812" stroke="#4b3d07"/>
<path d="M641.6 149.2L645.5 150.3L642.5 140.9L638.6 139.2z" fill="#c99812" stroke="#503d07"/>
<path d="M637.7 150.2L641.6 149.2L638.6 139.2L634.7 140.1z" fill="#d4a113" stroke="#554008"/>
<path d="M633.8 152.9L637.7 150.2L634.7 140.1L630.8 143.3z" fill="#ddb315" stroke="#594808"/>
<path d="M629.9 157.2L633.8 152.9L630.8 143.3L626.9 148.1z" fill="#e6c618" stroke="#5c4f0a"/>
<path d="M626 162.4L629.9 157.2L626.9 148.1L623 154.2z" fill="#f0db1f" stroke="#60580c"/>
<path d="M622.1 168.3L626 162.4L623 154.2L619.1 160.9z" fill="#fff52b" stroke="#666211"/>
<path d="M618.2 174.2L622.1 168.3L619.1 160.9L615.2 167.9z" fill="#f5ff4e" stroke="#62661f"/>
<path d="M614.3 180L618.2 174.2L615.2 167.9L611.3 174.6z" fill="#f8ff7f" stroke="#636633"/>
<path d="M610.4 185.2L614.3 180L611.3 174.6L607.4 180.7z" fill="#ffffb5" stroke="#666649"/>
<path d="M606.5 189.7L610.4 185.2L607.4 180.7L603.5 186z" fill="#ffffd6" stroke="#666655"/>
<path d="M602.6 193.4L606.5 189.7L603.5 186L599.6 190.3z" fill="#cfffb4" stroke="#536648"/>
<path d="M598.7 196.3L602.6 193.4L599.6 190.3L595.7 193.7z" fill="#91ff76" stroke="#3a662f"/>
<path d="M594.8 198.4L598.7 196.3L595.7 193.7L591.8 196.2z" fill="#75e65b" stroke="#2f5c24"/>
<path d="M590.9 200.1L594.8 198.4L591.8 196.2L587.9 198.1z" fill="#70df56" stroke="#2d5922"/>
<path d="M587 201.6L590.9 200.1L587.9 198.1L583.9 199.6z" fill="#6fdd55" stroke="#2c5822"/>
<path d="M583.1 203.1L587 201.6L583.9 199.6L580 201.1z" fill="#6fdd55" stroke="#2c5822"/>
<path d="M738.4 146.4L742.3 144.9L739.3 142.9L735.4 144.4z" fill="#6fdd55" stroke="#2c5822"/>
<path d="M734.5 147.9L738.4 146.4L735.4 144.4L731.5 145.9z" fill="#6fdd55" stroke="#2c5822"/>
<path d="M730.6 149.4L734.5 147.9L731.5 145.9L727.5 147.6z" fill="#67dc5c" stroke="#295825"/>
<path d="M726.7 151.3L730.6 149.4L727.5 147.6L723.6 149.7z" fill="#68dd5c" stroke="#2a5825"/>
<path d="M722.8 153.6L726.7 151.3L723.6 149.7L719.7 152.6z" fill="#68dd5c" stroke="#2a5925"/>
<path d="M718.9 156.7L722.8 153.6L719.7 152.6L715.8 156.3z" fill="#65d86b" stroke="#28562b"/>
<path d="M714.9 160.5L718.9 156.7L715.8 156.3L711.9 160.8z" fill="#63d369" stroke="#28552a"/>
<path d="M711 164.9L714.9 160.5L711.9 160.8L708 166z" fill="#5eca74" stroke="#26512e"/>
<path d="M707.1 169.7L711 164.9L708 166L704.1 171.8z" fill="#58bd8d" stroke="#234c38"/>
<path d="M703.2 174.8L707.1 169.7L704.1 171.8L700.2 177.7z" fill="#4eb491" stroke="#1f483a"/>
<path d="M699.3 179.8L703.2 174.8L700.2 177.7L696.3 183.6z" fill="#44ab96" stroke="#1b443c"/>
<path d="M695.4 184.3L699.3 179.8L696.3 183.6L692.4 188.8z" fill="#42b4ab" stroke="#1a4844"/>
<path d="M691.5 188.1L695.4 184.3L692.4 188.8L688.5 193.1z" fill="#3fc0c4" stroke="#194d4e"/>
<path d="M687.6 190.6L691.5 188.1L688.5 193.1L684.6 195.8z" fill="#40c1c5" stroke="#1a4d4f"/>
<path d="M683.7 191.7L687.6 190.6L684.6 195.8L680.7 196.8z" fill="#46c6ca" stroke="#1c4f51"/>
<path d="M679.8 191.2L683.7 191.7L680.7 196.8L676.8 195.7z" fill="#63dfd5" stroke="#285955"/>
<path d="M675.9 189L679.8 191.2L676.8 195.7L672.9 192.4z" fill="#88ffe7" stroke="#36665c"/>
<path d="M672 185.3L675.9 189L672.9 192.4L669 187.2z" fill="#98ffd2" stroke="#3d6654"/>
<path d="M668.1 180.4L672 185.3L669 187.2L665.1 180.5z" fill="#7ff196" stroke="#33603c"/>
<path d="M664.2 175L668.1 180.4L665.1 180.5L661.2 173z" fill="#75e45b" stroke="#2f5b24"/>
<path d="M660.3 169.5L664.2 175L661.2 173L657.3 165.5z" fill="#8bd340" stroke="#37541a"/>
<path d="M656.4 164.7L660.3 169.5L657.3 165.5L653.4 158.8z" fill="#9cb928" stroke="#3e4a10"/>
<path d="M652.5 161L656.4 164.7L653.4 158.8L649.4 153.6z" fill="#adb219" stroke="#45470a"/>
<path d="M648.6 158.8L652.5 161L649.4 153.6L645.5 150.3z" fill="#c5bd14" stroke="#4f4c08"/>
<path d="M644.7 158.2L648.6 158.8L645.5 150.3L641.6 149.2z" fill="#d0bd14" stroke="#534c08"/>
<path d="M640.8 159.3L644.7 158.2L641.6 149.2L637.7 150.2z" fill="#d9c615" stroke="#574f09"/>
<path d="M636.8 161.9L640.8 159.3L637.7 150.2L633.8 152.9z" fill="#e1cd17" stroke="#5a5209"/>
<path d="M632.9 165.6L636.8 161.9L633.8 152.9L629.9 157.2z" fill="#ebe11b" stroke="#5e5a0b"/>
<path d="M629 170.1L632.9 165.6L629.9 157.2L626 162.4z" fill="#eaf02f" stroke="#5e6013"/>
<path d="M625.1 175.1L629 170.1L626 162.4L622.1 168.3z" fill="#f5ff4f" stroke="#62661f"/>
<path d="M621.2 180.2L625.1 175.1L622.1 168.3L618.2 174.2z" fill="#ffff7f" stroke="#666633"/>
<path d="M617.3 185.1L621.2 180.2L618.2 174.2L614.3 180z" fill="#ffffca" stroke="#666651"/>
<path d="M613.4 189.5L617.3 185.1L614.3 180L610.4 185.2z" fill="#fffffb" stroke="#666664"/>
<path d="M609.5 193.2L613.4 189.5L610.4 185.2L606.5 189.7z" fill="#ffffde" stroke="#666659"/>
<path d="M605.6 196.3L609.5 193.2L606.5 189.7L602.6 193.4z" fill="#b2ff97" stroke="#47663d"/>
<path d="M601.7 198.7L605.6 196.3L602.6 193.4L598.7 196.3z" fill="#7ff164" stroke="#336028"/>
<path d="M597.8 200.5L601.7 198.7L598.7 196.3L594.8 198.4z" fill="#72e257" stroke="#2d5a23"/>
<path d="M593.9 202.1L597.8 200.5L594.8 198.4L590.9 200.1z" fill="#6fde55" stroke="#2d5922"/>
<path d="M590 203.6L593.9 202.1L590.9 200.1L587 201.6z" fill="#6fdd55" stroke="#2c5822"/>
<path d="M586.1 205.1L590 203.6L587 201.6L583.1 203.1z" fill="#6fdd55" stroke="#2c5822"/>
<path d="M741.4 148.3L745.3 146.8L742.3 144.9L738.4 146.4z" fill="#6fdd55" stroke="#2c5822"/>
<path d="M737.5 149.8L741.4 148.3L738.4 146.4L734.5 147.9z" fill="#6fdd55" stroke="#2c5822"/>
<path d="M733.6 151.3L737.5 149.8L734.5 147.9L730.6 149.4z" fill="#67db5c" stroke="#295825"/>
<path d="M729.7 153L733.6 151.3L730.6 149.4L726.7 151.3z" fill="#67dc5c" stroke="#295825"/>
<path d="M725.8 155L729.7 153L726.7 151.3L722.8 153.6z" fill="#68dd5c" stroke="#295825"/>
<path d="M721.9 157.5L725.8 155L722.8 153.6L718.9 156.7z" fill="#67dc5c" stroke="#295825"/>
<path d="M718 160.6L721.9 157.5L718.9 156.7L714.9 160.5z" fill="#64d56a" stroke="#28552a"/>
<path d="M714.1 164.2L718 160.6L714.9 160.5L711 164.9z" fill="#62d067" stroke="#275329"/>
<path d="M710.2 168.3L714.1 164.2L711 164.9L707.1 169.7z" fill="#5dc772" stroke="#25502e"/>
<path d="M706.2 172.6L710.2 168.3L707.1 169.7L703.2 174.8z" fill="#58be7d" stroke="#234c32"/>
<path d="M702.3 176.8L706.2 172.6L703.2 174.8L699.3 179.8z" fill="#54b486" stroke="#224836"/>
<path d="M698.4 180.7L702.3 176.8L699.3 179.8L695.4 184.3z" fill="#4eb592" stroke="#1f483a"/>
<path d="M694.5 184L698.4 180.7L695.4 184.3L691.5 188.1z" fill="#4dbfa8" stroke="#1f4d43"/>
<path d="M690.6 186.4L694.5 184L691.5 188.1L687.6 190.6z" fill="#50c8af" stroke="#205046"/>
<path d="M686.7 187.6L690.6 186.4L687.6 190.6L683.7 191.7z" fill="#53cbb2" stroke="#215147"/>
<path d="M682.8 187.6L686.7 187.6L683.7 191.7L679.8 191.2z" fill="#65d8b1" stroke="#285647"/>
<path d="M678.9 186.3L682.8 187.6L679.8 191.2L675.9 189z" fill="#7beab5" stroke="#315d48"/>
<path d="M675 183.9L678.9 186.3L675.9 189L672 185.3z" fill="#7eeea6" stroke="#325f43"/>
<path d="M671.1 180.7L675 183.9L672 185.3L668.1 180.4z" fill="#74e77a" stroke="#2e5d31"/>
<path d="M667.2 176.9L671.1 180.7L668.1 180.4L664.2 175z" fill="#72e158" stroke="#2e5a23"/>
<path d="M663.3 173.2L667.2 176.9L664.2 175L660.3 169.5z" fill="#69c545" stroke="#2a4f1c"/>
<path d="M659.4 169.9L663.3 173.2L660.3 169.5L656.4 164.7z" fill="#8ab12d" stroke="#374712"/>
<path d="M655.5 167.5L659.4 169.9L656.4 164.7L652.5 161z" fill="#9dbb28" stroke="#3f4b10"/>
<path d="M651.6 166.2L655.5 167.5L652.5 161L648.6 158.8z" fill="#b3c423" stroke="#484f0e"/>
<path d="M647.7 166.2L651.6 166.2L648.6 158.8L644.7 158.2z" fill="#c9ce1d" stroke="#50520c"/>
<path d="M643.8 167.5L647.7 166.2L644.7 158.2L640.8 159.3z" fill="#d0d51e" stroke="#53550c"/>
<path d="M639.9 169.9L643.8 167.5L640.8 159.3L636.8 161.9z" fill="#d7dc20" stroke="#56580d"/>
<path d="M636 173.1L639.9 169.9L636.8 161.9L632.9 165.6z" fill="#d3e830" stroke="#555d13"/>
<path d="M632.1 177.1L636 173.1L632.9 165.6L629 170.1z" fill="#dcff4e" stroke="#58661f"/>
<path d="M628.1 181.3L632.1 177.1L629 170.1L625.1 175.1z" fill="#faff81" stroke="#646634"/>
<path d="M624.2 185.6L628.1 181.3L625.1 175.1L621.2 180.2z" fill="#ffffca" stroke="#666651"/>
<path d="M620.3 189.6L624.2 185.6L621.2 180.2L617.3 185.1z" fill="#ffffff" stroke="#666666"/>
<path d="M616.4 193.3L620.3 189.6L617.3 185.1L613.4 189.5z" fill="#fffffd" stroke="#666665"/>
<path d="M612.5 196.4L616.4 193.3L613.4 189.5L609.5 193.2z" fill="#d2ffb7" stroke="#546649"/>
<path d="M608.6 198.9L612.5 196.4L609.5 193.2L605.6 196.3z" fill="#8dff72" stroke="#38662e"/>
<path d="M604.7 200.9L608.6 198.9L605.6 196.3L601.7 198.7z" fill="#74e55a" stroke="#2f5c24"/>
<path d="M600.8 202.5L604.7 200.9L601.7 198.7L597.8 200.5z" fill="#70df56" stroke="#2d5922"/>
<path d="M596.9 204L600.8 202.5L597.8 200.5L593.9 202.1z" fill="#6fdd55" stroke="#2c5822"/>
<path d="M593 205.5L596.9 204L593.9 202.1L590 203.6z" fill="#6fdd55" stroke="#2c5822"/>
<path d="M589.1 207L593 205.5L590 203.6L586.1 205.1z" fill="#6fdd55" stroke="#2c5822"/>
<path d="M744.4 150.3L748.3 148.8L745.3 146.8L741.4 148.3z" fill="#6fdd55" stroke="#2c5822"/>
<path d="M740.5 151.8L744.4 150.3L741.4 148.3L737.5 149.8z" fill="#6fdd55" stroke="#2c5822"/>
<path d="M736.6 153.3L740.5 151.8L737.5 149.8L733.6 151.3z" fill="#6fdd55" stroke="#2c5822"/>
<path d="M732.7 154.8L736.6 153.3L733.6 151.3L729.7 153z" fill="#67dc5c" stroke="#295825"/>
<path d="M728.8 156.5L732.7 154.8L729.7 153L725.8 155z" fill="#67dc5c" stroke="#295825"/>
<path d="M724.9 158.6L728.8 156.5L725.8 155L721.9 157.5z" fill="#67dc5c" stroke="#295825"/>
<path d="M721 161.1L724.9 158.6L721.9 157.5L718 160.6z" fill="#67da5b" stroke="#295724"/>
<path d="M717.1 164.1L721 161.1L718 160.6L714.1 164.2z" fill="#63d369" stroke="#28552a"/>
<path d="M713.2 167.5L717.1 164.1L714.1 164.2L710.2 168.3z" fill="#61ce66" stroke="#275229"/>
<path d="M709.3 171L713.2 167.5L710.2 168.3L706.2 172.6z" fill="#5cc571" stroke="#254f2d"/>
<path d="M705.4 174.6L709.3 171L706.2 172.6L702.3 176.8z" fill="#58bc7c" stroke="#234b32"/>
<path d="M701.5 178L705.4 174.6L702.3 176.8L698.4 180.7z" fill="#55b778" stroke="#224930"/>
<path d="M697.6 180.9L701.5 178L698.4 180.7L694.5 184z" fill="#59c08f" stroke="#244d39"/>
<path d="M693.6 183.1L697.6 180.9L694.5 184L690.6 186.4z" fill="#60cf9a" stroke="#26533e"/>
<path d="M689.7 184.5L693.6 183.1L690.6 186.4L686.7 187.6z" fill="#61d09b" stroke="#27533e"/>
<path d="M685.8 185L689.7 184.5L686.7 187.6L682.8 187.6z" fill="#65d39e" stroke="#28553f"/>
<path d="M681.9 184.5L685.8 185L682.8 187.6L678.9 186.3z" fill="#6cdc94" stroke="#2b583b"/>
<path d="M678 183.2L681.9 184.5L678.9 186.3L675 183.9z" fill="#6ee085" stroke="#2c5935"/>
<path d="M674.1 181.2L678 183.2L675 183.9L671.1 180.7z" fill="#6bde71" stroke="#2b592d"/>
<path d="M670.2 178.9L674.1 181.2L671.1 180.7L667.2 176.9z" fill="#6bd552" stroke="#2b5521"/>
<path d="M666.3 176.6L670.2 178.9L667.2 176.9L663.3 173.2z" fill="#66c044" stroke="#294d1b"/>
<path d="M662.4 174.6L666.3 176.6L663.3 173.2L659.4 169.9z" fill="#7bbb38" stroke="#314b17"/>
<path d="M658.5 173.3L662.4 174.6L659.4 169.9L655.5 167.5z" fill="#99c432" stroke="#3d4f14"/>
<path d="M654.6 172.8L658.5 173.3L655.5 167.5L651.6 166.2z" fill="#adcc2c" stroke="#455212"/>
<path d="M650.7 173.2L654.6 172.8L651.6 166.2L647.7 166.2z" fill="#b2d32d" stroke="#475512"/>
<path d="M646.8 174.6L650.7 173.2L647.7 166.2L643.8 167.5z" fill="#b8da2f" stroke="#495713"/>
<path d="M642.9 176.9L646.8 174.6L643.8 167.5L639.9 169.9z" fill="#bfe234" stroke="#4c5a15"/>
<path d="M639 179.8L642.9 176.9L639.9 169.9L636 173.1z" fill="#c1f34a" stroke="#4d611e"/>
<path d="M635.1 183.2L639 179.8L636 173.1L632.1 177.1z" fill="#e6ff6d" stroke="#5c662c"/>
<path d="M631.2 186.7L635.1 183.2L632.1 177.1L628.1 181.3z" fill="#ffffb1" stroke="#666647"/>
<path d="M627.3 190.3L631.2 186.7L628.1 181.3L624.2 185.6z" fill="#fffff2" stroke="#666661"/>
<path d="M623.4 193.7L627.3 190.3L624.2 185.6L620.3 189.6z" fill="#fffff6" stroke="#666662"/>
<path d="M619.5 196.6L623.4 193.7L620.3 189.6L616.4 193.3z" fill="#ddffc2" stroke="#58664e"/>
<path d="M615.5 199.2L619.5 196.6L616.4 193.3L612.5 196.4z" fill="#98ff7d" stroke="#3d6632"/>
<path d="M611.6 201.2L615.5 199.2L612.5 196.4L608.6 198.9z" fill="#78e95d" stroke="#305d25"/>
<path d="M607.7 203L611.6 201.2L608.6 198.9L604.7 200.9z" fill="#71e157" stroke="#2d5a23"/>
<path d="M603.8 204.5L607.7 203L604.7 200.9L600.8 202.5z" fill="#6fde55" stroke="#2c5922"/>
<path d="M599.9 206L603.8 204.5L600.8 202.5L596.9 204z" fill="#6fdd55" stroke="#2c5822"/>
<path d="M596 207.5L599.9 206L596.9 204L593 205.5z" fill="#6fdd55" stroke="#2c5822"/>
<path d="M592.1 209L596 207.5L593 205.5L589.1 207z" fill="#6fdd55" stroke="#2c5822"/>
<path d="M747.4 152.3L751.3 150.8L748.3 148.8L744.4 150.3z" fill="#6fdd55" stroke="#2c5822"/>
<path d="M743.5 153.8L747.4 152.3L744.4 150.3L740.5 151.8z" fill="#6fdd55" stroke="#2c5822"/>
<path d="M739.6 155.3L743.5 153.8L740.5 151.8L736.6 153.3z" fill="#6fdd55" stroke="#2c5822"/>
<path d="M735.7 156.8L739.6 155.3L736.6 153.3L732.7 154.8z" fill="#6fdd55" stroke="#2c5822"/>
<path d="M731.8 158.3L735.7 156.8L732.7 154.8L728.8 156.5z" fill="#67dc5c" stroke="#295825"/>
<path d="M727.9 160.1L731.8 158.3L728.8 156.5L724.9 158.6z" fill="#67dc5c" stroke="#295825"/>
<path d="M724 162.1L727.9 160.1L724.9 158.6L721 161.1z" fill="#67db5c" stroke="#295825"/>
<path d="M720.1 164.6L724 162.1L721 161.1L717.1 164.1z" fill="#66d95b" stroke="#295724"/>
<path d="M716.2 167.3L720.1 164.6L717.1 164.1L713.2 167.5z" fill="#62d268" stroke="#27542a"/>
<path d="M712.3 170.3L716.2 167.3L713.2 167.5L709.3 171z" fill="#60cd66" stroke="#265229"/>
<path d="M708.4 173.3L712.3 170.3L709.3 171L705.4 174.6z" fill="#5cc571" stroke="#254f2d"/>
<path d="M704.5 176.2L708.4 173.3L705.4 174.6L701.5 178z" fill="#5ac06e" stroke="#244d2c"/>
<path d="M700.6 178.8L704.5 176.2L701.5 178L697.6 180.9z" fill="#59c07e" stroke="#244d32"/>
<path d="M696.7 180.9L700.6 178.8L697.6 180.9L693.6 183.1z" fill="#5cc581" stroke="#254f34"/>
<path d="M692.8 182.4L696.7 180.9L693.6 183.1L689.7 184.5z" fill="#5fcb86" stroke="#265136"/>
<path d="M688.9 183.3L692.8 182.4L689.7 184.5L685.8 185z" fill="#63d38b" stroke="#285438"/>
<path d="M685 183.4L688.9 183.3L685.8 185L681.9 184.5z" fill="#66d87d" stroke="#295632"/>
<path d="M681 182.9L685 183.4L681.9 184.5L678 183.2z" fill="#68dc6e" stroke="#2a582c"/>
<path d="M677.1 182L681 182.9L678 183.2L674.1 181.2z" fill="#65d65a" stroke="#285524"/>
<path d="M673.2 180.9L677.1 182L674.1 181.2L670.2 178.9z" fill="#63c44c" stroke="#274f1e"/>
<path d="M669.3 179.7L673.2 180.9L670.2 178.9L666.3 176.6z" fill="#5fbd49" stroke="#264c1d"/>
<path d="M665.4 178.8L669.3 179.7L666.3 176.6L662.4 174.6z" fill="#68c445" stroke="#2a4e1c"/>
<path d="M661.5 178.3L665.4 178.8L662.4 174.6L658.5 173.3z" fill="#86cc3e" stroke="#365219"/>
<path d="M657.6 178.4L661.5 178.3L658.5 173.3L654.6 172.8z" fill="#a5d435" stroke="#425515"/>
<path d="M653.7 179.3L657.6 178.4L654.6 172.8L650.7 173.2z" fill="#a9d937" stroke="#445716"/>
<path d="M649.8 180.8L653.7 179.3L650.7 173.2L646.8 174.6z" fill="#aedf39" stroke="#465917"/>
<path d="M645.9 182.9L649.8 180.8L646.8 174.6L642.9 176.9z" fill="#b8ea41" stroke="#4a5e1a"/>
<path d="M642 185.5L645.9 182.9L642.9 176.9L639 179.8z" fill="#b2ff61" stroke="#476627"/>
<path d="M638.1 188.4L642 185.5L639 179.8L635.1 183.2z" fill="#daff89" stroke="#576637"/>
<path d="M634.2 191.4L638.1 188.4L635.1 183.2L631.2 186.7z" fill="#e7ffbe" stroke="#5c664c"/>
<path d="M630.3 194.4L634.2 191.4L631.2 186.7L627.3 190.3z" fill="#f4ffca" stroke="#626651"/>
<path d="M626.4 197.1L630.3 194.4L627.3 190.3L623.4 193.7z" fill="#caffaf" stroke="#516646"/>
<path d="M622.5 199.6L626.4 197.1L623.4 193.7L619.5 196.6z" fill="#97ff7c" stroke="#3c6632"/>
<path d="M618.6 201.6L622.5 199.6L619.5 196.6L615.5 199.2z" fill="#7aeb5f" stroke="#315e26"/>
<path d="M614.7 203.4L618.6 201.6L615.5 199.2L611.6 201.2z" fill="#71e257" stroke="#2d5a23"/>
<path d="M610.8 204.9L614.7 203.4L611.6 201.2L607.7 203z" fill="#6fde55" stroke="#2d5922"/>
<path d="M606.9 206.4L610.8 204.9L607.7 203L603.8 204.5z" fill="#6fdd55" stroke="#2c5822"/>
<path d="M603 207.9L606.9 206.4L603.8 204.5L599.9 206z" fill="#6fdd55" stroke="#2c5822"/>
<path d="M599 209.4L603 207.9L599.9 206L596 207.5z" fill="#6fdd55" stroke="#2c5822"/>
<path d="M595.1 211L599 209.4L596 207.5L592.1 209z" fill="#6fdd55" stroke="#2c5822"/>
<path d="M750.5 154.2L754.4 152.7L751.3 150.8L747.4 152.3z" fill="#6fdd55" stroke="#2c5822"/>
<path d="M746.5 155.7L750.5 154.2L747.4 152.3L743.5 153.8z" fill="#6fdd55" stroke="#2c5822"/>
<path d="M742.6 157.2L746.5 155.7L743.5 153.8L739.6 155.3z" fill="#6fdd55" stroke="#2c5822"/>
<path d="M738.7 158.7L742.6 157.2L739.6 155.3L735.7 156.8z" fill="#6fdd55" stroke="#2c5822"/>
<path d="M734.8 160.2L738.7 158.7L735.7 156.8L731.8 158.3z" fill="#67db5c" stroke="#295825"/>
<path d="M730.9 161.8L734.8 160.2L731.8 158.3L727.9 160.1z" fill="#67dc5c" stroke="#295825"/>
<path d="M727 163.5L730.9 161.8L727.9 160.1L724 162.1z" fill="#67dc5c" stroke="#295825"/>
<path d="M723.1 165.5L727 163.5L724 162.1L720.1 164.6z" fill="#67db5b" stroke="#295724"/>
<path d="M719.2 167.8L723.1 165.5L720.1 164.6L716.2 167.3z" fill="#66d85a" stroke="#295724"/>
<path d="M715.3 170.2L719.2 167.8L716.2 167.3L712.3 170.3z" fill="#64d559" stroke="#285524"/>
<path d="M711.4 172.8L715.3 170.2L712.3 170.3L708.4 173.3z" fill="#60cd66" stroke="#265229"/>
<path d="M707.5 175.3L711.4 172.8L708.4 173.3L704.5 176.2z" fill="#5ec964" stroke="#265028"/>
<path d="M703.6 177.6L707.5 175.3L704.5 176.2L700.6 178.8z" fill="#5cc561" stroke="#254f27"/>
<path d="M699.7 179.6L703.6 177.6L700.6 178.8L696.7 180.9z" fill="#59be6d" stroke="#244c2c"/>
<path d="M695.8 181.2L699.7 179.6L696.7 180.9L692.8 182.4z" fill="#5bc370" stroke="#244e2d"/>
<path d="M691.9 182.4L695.8 181.2L692.8 182.4L688.9 183.3z" fill="#60cd66" stroke="#265229"/>
<path d="M688 183L691.9 182.4L688.9 183.3L685 183.4z" fill="#60cd66" stroke="#265229"/>
<path d="M684.1 183.2L688 183L685 183.4L681 182.9z" fill="#60cd66" stroke="#275229"/>
<path d="M680.2 183.1L684.1 183.2L681 182.9L677.1 182z" fill="#5ec954" stroke="#265022"/>
<path d="M676.3 182.8L680.2 183.1L677.1 182L673.2 180.9z" fill="#62c44b" stroke="#274e1e"/>
<path d="M672.4 182.5L676.3 182.8L673.2 180.9L669.3 179.7z" fill="#64c84d" stroke="#28501f"/>
<path d="M668.5 182.4L672.4 182.5L669.3 179.7L665.4 178.8z" fill="#6dce48" stroke="#2c521d"/>
<path d="M664.5 182.6L668.5 182.4L665.4 178.8L661.5 178.3z" fill="#70d24a" stroke="#2d541e"/>
<path d="M660.6 183.3L664.5 182.6L661.5 178.3L657.6 178.4z" fill="#72d64b" stroke="#2e561e"/>
<path d="M656.7 184.4L660.6 183.3L657.6 178.4L653.7 179.3z" fill="#91dd43" stroke="#3a581b"/>
<path d="M652.8 186L656.7 184.4L653.7 179.3L649.8 180.8z" fill="#96e347" stroke="#3c5b1c"/>
<path d="M648.9 188L652.8 186L649.8 180.8L645.9 182.9z" fill="#84ed5b" stroke="#355f25"/>
<path d="M645 190.3L648.9 188L645.9 182.9L642 185.5z" fill="#98ff6f" stroke="#3d662d"/>
<path d="M641.1 192.8L645 190.3L642 185.5L638.1 188.4z" fill="#b1ff88" stroke="#476636"/>
<path d="M637.2 195.4L641.1 192.8L638.1 188.4L634.2 191.4z" fill="#b4ff99" stroke="#48663d"/>
<path d="M633.3 197.8L637.2 195.4L634.2 191.4L630.3 194.4z" fill="#a6ff8b" stroke="#426638"/>
<path d="M629.4 200.1L633.3 197.8L630.3 194.4L626.4 197.1z" fill="#8bfd70" stroke="#38652d"/>
<path d="M625.5 202.1L629.4 200.1L626.4 197.1L622.5 199.6z" fill="#78ea5e" stroke="#305d26"/>
<path d="M621.6 203.8L625.5 202.1L622.5 199.6L618.6 201.6z" fill="#72e257" stroke="#2d5a23"/>
<path d="M617.7 205.4L621.6 203.8L618.6 201.6L614.7 203.4z" fill="#70df56" stroke="#2d5922"/>
<path d="M613.8 206.9L617.7 205.4L614.7 203.4L610.8 204.9z" fill="#6fdd55" stroke="#2c5822"/>
<path d="M609.9 208.4L613.8 206.9L610.8 204.9L606.9 206.4z" fill="#6fdd55" stroke="#2c5822"/>
<path d="M606 209.9L609.9 208.4L606.9 206.4L603 207.9z" fill="#6fdd55" stroke="#2c5822"/>
<path d="M602.1 211.4L606 209.9L603 207.9L599 209.4z" fill="#6fdd55" stroke="#2c5822"/>
<path d="M598.2 212.9L602.1 211.4L599 209.4L595.1 211z" fill="#6fdd55" stroke="#2c5822"/>
<path d="M753.5 156.2L757.4 154.7L754.4 152.7L750.5 154.2z" fill="#6fdd55" stroke="#2c5822"/>
<path d="M749.6 157.7L753.5 156.2L750.5 154.2L746.5 155.7z" fill="#6fdd55" stroke="#2c5822"/>
<path d="M745.7 159.2L749.6 157.7L746.5 155.7L742.6 157.2z" fill="#6fdd55" stroke="#2c5822"/>
<path d="M741.8 160.7L745.7 159.2L742.6 157.2L738.7 158.7z" fill="#6fdd55" stroke="#2c5822"/>
<path d="M737.9 162.2L741.8 160.7L738.7 158.7L734.8 160.2z" fill="#6fdd55" stroke="#2c5822"/>
<path d="M734 163.7L737.9 162.2L734.8 160.2L730.9 161.8z" fill="#67db5c" stroke="#295825"/>
<path d="M730 165.3L734 163.7L730.9 161.8L727 163.5z" fill="#67db5c" stroke="#295825"/>
<path d="M726.1 167L730 165.3L727 163.5L723.1 165.5z" fill="#67db5b" stroke="#295825"/>
<path d="M722.2 168.8L726.1 167L723.1 165.5L719.2 167.8z" fill="#66da5b" stroke="#295724"/>
<path d="M718.3 170.9L722.2 168.8L719.2 167.8L715.3 170.2z" fill="#65d85a" stroke="#295624"/>
<path d="M714.4 173L718.3 170.9L715.3 170.2L711.4 172.8z" fill="#64d559" stroke="#285524"/>
<path d="M710.5 175.2L714.4 173L711.4 172.8L707.5 175.3z" fill="#63d258" stroke="#275423"/>
<path d="M706.6 177.3L710.5 175.2L707.5 175.3L703.6 177.6z" fill="#5fcb65" stroke="#265128"/>
<path d="M702.7 179.2L706.6 177.3L703.6 177.6L699.7 179.6z" fill="#5ec863" stroke="#265028"/>
<path d="M698.8 180.8L702.7 179.2L699.7 179.6L695.8 181.2z" fill="#5dc662" stroke="#254f27"/>
<path d="M694.9 182.2L698.8 180.8L695.8 181.2L691.9 182.4z" fill="#5cc561" stroke="#254f27"/>
<path d="M691 183.2L694.9 182.2L691.9 182.4L688 183z" fill="#5cc461" stroke="#254e27"/>
<path d="M687.1 183.9L691 183.2L688 183L684.1 183.2z" fill="#5ec853" stroke="#265021"/>
<path d="M683.2 184.4L687.1 183.9L684.1 183.2L680.2 183.1z" fill="#5fc954" stroke="#265122"/>
<path d="M679.3 184.8L683.2 184.4L680.2 183.1L676.3 182.8z" fill="#67cd4f" stroke="#295220"/>
<path d="M675.4 185.2L679.3 184.8L676.3 182.8L672.4 182.5z" fill="#68d050" stroke="#2a5320"/>
<path d="M671.5 185.6L675.4 185.2L672.4 182.5L668.5 182.4z" fill="#6ad351" stroke="#2a5521"/>
<path d="M667.6 186.4L671.5 185.6L668.5 182.4L664.5 182.6z" fill="#73d84c" stroke="#2e561e"/>
<path d="M663.7 187.4L667.6 186.4L664.5 182.6L660.6 183.3z" fill="#75db4d" stroke="#2f581f"/>
<path d="M659.8 188.7L663.7 187.4L660.6 183.3L656.7 184.4z" fill="#77df4f" stroke="#305920"/>
<path d="M655.9 190.3L659.8 188.7L656.7 184.4L652.8 186z" fill="#7be453" stroke="#315b21"/>
<path d="M651.9 192.3L655.9 190.3L652.8 186L648.9 188z" fill="#83ed5a" stroke="#345f24"/>
<path d="M648 194.3L651.9 192.3L648.9 188L645 190.3z" fill="#85f66b" stroke="#35632b"/>
<path d="M644.1 196.5L648 194.3L645 190.3L641.1 192.8z" fill="#8bfd71" stroke="#38652d"/>
<path d="M640.2 198.7L644.1 196.5L641.1 192.8L637.2 195.4z" fill="#87f96d" stroke="#36642c"/>
<path d="M636.3 200.7L640.2 198.7L637.2 195.4L633.3 197.8z" fill="#7def63" stroke="#326027"/>
<path d="M632.4 202.6L636.3 200.7L633.3 197.8L629.4 200.1z" fill="#75e65b" stroke="#2f5c24"/>
<path d="M628.5 204.3L632.4 202.6L629.4 200.1L625.5 202.1z" fill="#71e157" stroke="#2d5a23"/>
<path d="M624.6 205.8L628.5 204.3L625.5 202.1L621.6 203.8z" fill="#70df56" stroke="#2d5922"/>
<path d="M620.7 207.4L624.6 205.8L621.6 203.8L617.7 205.4z" fill="#6fdd55" stroke="#2c5822"/>
<path d="M616.8 208.9L620.7 207.4L617.7 205.4L613.8 206.9z" fill="#6fdd55" stroke="#2c5822"/>
<path d="M612.9 210.4L616.8 208.9L613.8 206.9L609.9 208.4z" fill="#6fdd55" stroke="#2c5822"/>
<path d="M609 211.9L612.9 210.4L609.9 208.4L606 209.9z" fill="#6fdd55" stroke="#2c5822"/>
<path d="M605.1 213.4L609 211.9L606 209.9L602.1 211.4z" fill="#6fdd55" stroke="#2c5822"/>
<path d="M601.2 214.9L605.1 213.4L602.1 211.4L598.2 212.9z" fill="#6fdd55" stroke="#2c5822"/>
<path d="M756.5 158.1L760.4 156.6L757.4 154.7L753.5 156.2z" fill="#6fdd55" stroke="#2c5822"/>
<path d="M752.6 159.6L756.5 158.1L753.5 156.2L749.6 157.7z" fill="#6fdd55" stroke="#2c5822"/>
<path d="M748.7 161.2L752.6 159.6L749.6 157.7L745.7 159.2z" fill="#6fdd55" stroke="#2c5822"/>
<path d="M744.8 162.7L748.7 161.2L745.7 159.2L741.8 160.7z" fill="#6fdd55" stroke="#2c5822"/>
<path d="M740.9 164.2L744.8 162.7L741.8 160.7L737.9 162.2z" fill="#6fdd55" stroke="#2c5822"/>
<path d="M737 165.7L740.9 164.2L737.9 162.2L734 163.7z" fill="#6fdd55" stroke="#2c5822"/>
<path d="M733.1 167.2L737 165.7L734 163.7L730 165.3z" fill="#67db5b" stroke="#295825"/>
<path d="M729.2 168.7L733.1 167.2L730 165.3L726.1 167z" fill="#67db5b" stroke="#295825"/>
<path d="M725.3 170.3L729.2 168.7L726.1 167L722.2 168.8z" fill="#67db5b" stroke="#295825"/>
<path d="M721.4 172.1L725.3 170.3L722.2 168.8L718.3 170.9z" fill="#66da5b" stroke="#295724"/>
<path d="M717.4 173.9L721.4 172.1L718.3 170.9L714.4 173z" fill="#66d85a" stroke="#295724"/>
<path d="M713.5 175.8L717.4 173.9L714.4 173L710.5 175.2z" fill="#65d659" stroke="#285624"/>
<path d="M709.6 177.7L713.5 175.8L710.5 175.2L706.6 177.3z" fill="#64d458" stroke="#285523"/>
<path d="M705.7 179.5L709.6 177.7L706.6 177.3L702.7 179.2z" fill="#63d258" stroke="#275423"/>
<path d="M701.8 181.2L705.7 179.5L702.7 179.2L698.8 180.8z" fill="#62d057" stroke="#275323"/>
<path d="M697.9 182.6L701.8 181.2L698.8 180.8L694.9 182.2z" fill="#61cf56" stroke="#275323"/>
<path d="M694 183.9L697.9 182.6L694.9 182.2L691 183.2z" fill="#61cf56" stroke="#275323"/>
<path d="M690.1 185L694 183.9L691 183.2L687.1 183.9z" fill="#61cf56" stroke="#275323"/>
<path d="M686.2 185.9L690.1 185L687.1 183.9L683.2 184.4z" fill="#62d057" stroke="#275323"/>
<path d="M682.3 186.7L686.2 185.9L683.2 184.4L679.3 184.8z" fill="#6ad451" stroke="#2a5521"/>
<path d="M678.4 187.6L682.3 186.7L679.3 184.8L675.4 185.2z" fill="#6bd652" stroke="#2b5521"/>
<path d="M674.5 188.5L678.4 187.6L675.4 185.2L671.5 185.6z" fill="#6cd853" stroke="#2b5621"/>
<path d="M670.6 189.6L674.5 188.5L671.5 185.6L667.6 186.4z" fill="#6edb54" stroke="#2c5722"/>
<path d="M666.7 190.9L670.6 189.6L667.6 186.4L663.7 187.4z" fill="#6fdd55" stroke="#2c5822"/>
<path d="M662.8 192.3L666.7 190.9L663.7 187.4L659.8 188.7z" fill="#71e057" stroke="#2d5923"/>
<path d="M658.9 194L662.8 192.3L659.8 188.7L655.9 190.3z" fill="#73e359" stroke="#2e5b24"/>
<path d="M655 195.7L658.9 194L655.9 190.3L651.9 192.3z" fill="#76e75c" stroke="#2f5c25"/>
<path d="M651.1 197.6L655 195.7L651.9 192.3L648 194.3z" fill="#78e95e" stroke="#305d26"/>
<path d="M647.2 199.5L651.1 197.6L648 194.3L644.1 196.5z" fill="#78e95d" stroke="#305d25"/>
<path d="M643.2 201.4L647.2 199.5L644.1 196.5L640.2 198.7z" fill="#75e65b" stroke="#2f5c24"/>
<path d="M639.3 203.1L643.2 201.4L640.2 198.7L636.3 200.7z" fill="#72e358" stroke="#2e5b23"/>
<path d="M635.4 204.8L639.3 203.1L636.3 200.7L632.4 202.6z" fill="#70e056" stroke="#2d5a23"/>
<path d="M631.5 206.3L635.4 204.8L632.4 202.6L628.5 204.3z" fill="#6fde55" stroke="#2d5922"/>
<path d="M627.6 207.8L631.5 206.3L628.5 204.3L624.6 205.8z" fill="#6fdd55" stroke="#2c5822"/>
<path d="M623.7 209.3L627.6 207.8L624.6 205.8L620.7 207.4z" fill="#6fdd55" stroke="#2c5822"/>
<path d="M619.8 210.8L623.7 209.3L620.7 207.4L616.8 208.9z" fill="#6fdd55" stroke="#2c5822"/>
<path d="M615.9 212.3L619.8 210.8L616.8 208.9L612.9 210.4z" fill="#6fdd55" stroke="#2c5822"/>
<path d="M612 213.8L615.9 212.3L612.9 210.4L609 211.9z" fill="#6fdd55" stroke="#2c5822"/>
<path d="M608.1 215.3L612 213.8L609 211.9L605.1 213.4z" fill="#6fdd55" stroke="#2c5822"/>
<path d="M604.2 216.8L608.1 215.3L605.1 213.4L601.2 214.9z" fill="#6fdd55" stroke="#2c5822"/>
<path d="M759.5 160.1L763.4 158.6L760.4 156.6L756.5 158.1z" fill="#6fdd55" stroke="#2c5822"/>
<path d="M755.6 161.6L759.5 160.1L756.5 158.1L752.6 159.6z" fill="#6fdd55" stroke="#2c5822"/>
<path d="M751.7 163.1L755.6 161.6L752.6 159.6L748.7 161.2z" fill="#6fdd55" stroke="#2c5822"/>
<path d="M747.8 164.6L751.7 163.1L748.7 161.2L744.8 162.7z" fill="#6fdd55" stroke="#2c5822"/>
<path d="M743.9 166.1L747.8 164.6L744.8 162.7L740.9 164.2z" fill="#6fdd55" stroke="#2c5822"/>
<path d="M740 167.6L743.9 166.1L740.9 164.2L737 165.7z" fill="#6fdd55" stroke="#2c5822"/>
<path d="M736.1 169.1L740 167.6L737 165.7L733.1 167.2z" fill="#6fdd55" stroke="#2c5822"/>
<path d="M732.2 170.6L736.1 169.1L733.1 167.2L729.2 168.7z" fill="#6fdd55" stroke="#2c5822"/>
<path d="M728.3 172.2L732.2 170.6L729.2 168.7L725.3 170.3z" fill="#67db5b" stroke="#295825"/>
<path d="M724.4 173.7L728.3 172.2L725.3 170.3L721.4 172.1z" fill="#67db5b" stroke="#295725"/>
<path d="M720.5 175.4L724.4 173.7L721.4 172.1L717.4 173.9z" fill="#66da5b" stroke="#295724"/>
<path d="M716.6 177.1L720.5 175.4L717.4 173.9L713.5 175.8z" fill="#66d95b" stroke="#295724"/>
<path d="M712.7 178.8L716.6 177.1L713.5 175.8L709.6 177.7z" fill="#65d85a" stroke="#295624"/>
<path d="M708.8 180.5L712.7 178.8L709.6 177.7L705.7 179.5z" fill="#65d659" stroke="#285624"/>
<path d="M704.8 182.1L708.8 180.5L705.7 179.5L701.8 181.2z" fill="#64d559" stroke="#285524"/>
<path d="M700.9 183.6L704.8 182.1L701.8 181.2L697.9 182.6z" fill="#64d459" stroke="#285523"/>
<path d="M697 185L700.9 183.6L697.9 182.6L694 183.9z" fill="#64d458" stroke="#285523"/>
<path d="M693.1 186.3L697 185L694 183.9L690.1 185z" fill="#64d459" stroke="#285523"/>
<path d="M689.2 187.5L693.1 186.3L690.1 185L686.2 185.9z" fill="#64d559" stroke="#285524"/>
<path d="M685.3 188.7L689.2 187.5L686.2 185.9L682.3 186.7z" fill="#6cd853" stroke="#2b5621"/>
<path d="M681.4 189.9L685.3 188.7L682.3 186.7L678.4 187.6z" fill="#6dd954" stroke="#2c5721"/>
<path d="M677.5 191.1L681.4 189.9L678.4 187.6L674.5 188.5z" fill="#6edb54" stroke="#2c5822"/>
<path d="M673.6 192.4L677.5 191.1L674.5 188.5L670.6 189.6z" fill="#6fdd55" stroke="#2c5822"/>
<path d="M669.7 193.8L673.6 192.4L670.6 189.6L666.7 190.9z" fill="#6fde56" stroke="#2d5922"/>
<path d="M665.8 195.3L669.7 193.8L666.7 190.9L662.8 192.3z" fill="#70e056" stroke="#2d5a23"/>
<path d="M661.9 196.9L665.8 195.3L662.8 192.3L658.9 194z" fill="#71e157" stroke="#2d5a23"/>
<path d="M658 198.6L661.9 196.9L658.9 194L655 195.7z" fill="#72e258" stroke="#2e5a23"/>
<path d="M654.1 200.3L658 198.6L655 195.7L651.1 197.6z" fill="#72e258" stroke="#2e5b23"/>
<path d="M650.2 202L654.1 200.3L651.1 197.6L647.2 199.5z" fill="#71e257" stroke="#2d5a23"/>
<path d="M646.3 203.7L650.2 202L647.2 199.5L643.2 201.4z" fill="#71e056" stroke="#2d5a23"/>
<path d="M642.4 205.2L646.3 203.7L643.2 201.4L639.3 203.1z" fill="#70df56" stroke="#2d5922"/>
<path d="M638.5 206.8L642.4 205.2L639.3 203.1L635.4 204.8z" fill="#6fde55" stroke="#2c5922"/>
<path d="M634.6 208.3L638.5 206.8L635.4 204.8L631.5 206.3z" fill="#6fdd55" stroke="#2c5822"/>
<path d="M630.6 209.8L634.6 208.3L631.5 206.3L627.6 207.8z" fill="#6fdd55" stroke="#2c5822"/>
<path d="M626.7 211.3L630.6 209.8L627.6 207.8L623.7 209.3z" fill="#6fdd55" stroke="#2c5822"/>
<path d="M622.8 212.8L626.7 211.3L623.7 209.3L619.8 210.8z" fill="#6fdd55" stroke="#2c5822"/>
<path d="M618.9 214.3L622.8 212.8L619.8 210.8L615.9 212.3z" fill="#6fdd55" stroke="#2c5822"/>
<path d="M615 215.8L618.9 214.3L615.9 212.3L612 213.8z" fill="#6fdd55" stroke="#2c5822"/>
<path d="M611.1 217.3L615 215.8L612 213.8L608.1 215.3z" fill="#6fdd55" stroke="#2c5822"/>
<path d="M607.2 218.8L611.1 217.3L608.1 215.3L604.2 216.8z" fill="#6fdd55" stroke="#2c5822"/>
<path d="M762.5 162.1L766.4 160.6L763.4 158.6L759.5 160.1z" fill="#6fdd55" stroke="#2c5822"/>
<path d="M758.6 163.6L762.5 162.1L759.5 160.1L755.6 161.6z" fill="#6fdd55" stroke="#2c5822"/>
<path d="M754.7 165.1L758.6 163.6L755.6 161.6L751.7 163.1z" fill="#6fdd55" stroke="#2c5822"/>
<path d="M750.8 166.6L754.7 165.1L751.7 163.1L747.8 164.6z" fill="#6fdd55" stroke="#2c5822"/>
<path d="M746.9 168.1L750.8 166.6L747.8 164.6L743.9 166.1z" fill="#6fdd55" stroke="#2c5822"/>
<path d="M743 169.6L746.9 168.1L743.9 166.1L740 167.6z" fill="#6fdd55" stroke="#2c5822"/>
<path d="M739.1 171.1L743 169.6L740 167.6L736.1 169.1z" fill="#6fdd55" stroke="#2c5822"/>
<path d="M735.2 172.6L739.1 171.1L736.1 169.1L732.2 170.6z" fill="#6fdd55" stroke="#2c5822"/>
<path d="M731.3 174.1L735.2 172.6L732.2 170.6L728.3 172.2z" fill="#6edc55" stroke="#2c5822"/>
<path d="M727.4 175.6L731.3 174.1L728.3 172.2L724.4 173.7z" fill="#67db5b" stroke="#295825"/>
<path d="M723.5 177.1L727.4 175.6L724.4 173.7L720.5 175.4z" fill="#67db5b" stroke="#295725"/>
<path d="M719.6 178.7L723.5 177.1L720.5 175.4L716.6 177.1z" fill="#67da5b" stroke="#295724"/>
<path d="M715.7 180.3L719.6 178.7L716.6 177.1L712.7 178.8z" fill="#66da5b" stroke="#295724"/>
<path d="M711.8 181.9L715.7 180.3L712.7 178.8L708.8 180.5z" fill="#66d95b" stroke="#295724"/>
<path d="M707.9 183.5L711.8 181.9L708.8 180.5L704.8 182.1z" fill="#66d85a" stroke="#295724"/>
<path d="M704 185L707.9 183.5L704.8 182.1L700.9 183.6z" fill="#65d85a" stroke="#295624"/>
<path d="M700.1 186.5L704 185L700.9 183.6L697 185z" fill="#65d75a" stroke="#285624"/>
<path d="M696.1 187.9L700.1 186.5L697 185L693.1 186.3z" fill="#65d85a" stroke="#285624"/>
<path d="M692.2 189.3L696.1 187.9L693.1 186.3L689.2 187.5z" fill="#65d85a" stroke="#295624"/>
<path d="M688.3 190.7L692.2 189.3L689.2 187.5L685.3 188.7z" fill="#6dda54" stroke="#2c5722"/>
<path d="M684.4 192L688.3 190.7L685.3 188.7L681.4 189.9z" fill="#6edb54" stroke="#2c5822"/>
<path d="M680.5 193.4L684.4 192L681.4 189.9L677.5 191.1z" fill="#6edc55" stroke="#2c5822"/>
<path d="M676.6 194.9L680.5 193.4L677.5 191.1L673.6 192.4z" fill="#6fdd55" stroke="#2c5922"/>
<path d="M672.7 196.3L676.6 194.9L673.6 192.4L669.7 193.8z" fill="#6fde55" stroke="#2d5922"/>
<path d="M668.8 197.9L672.7 196.3L669.7 193.8L665.8 195.3z" fill="#70df56" stroke="#2d5922"/>
<path d="M664.9 199.4L668.8 197.9L665.8 195.3L661.9 196.9z" fill="#70e056" stroke="#2d5922"/>
<path d="M661 201L664.9 199.4L661.9 196.9L658 198.6z" fill="#70e056" stroke="#2d5922"/>
<path d="M657.1 202.6L661 201L658 198.6L654.1 200.3z" fill="#70df56" stroke="#2d5922"/>
<path d="M653.2 204.2L657.1 202.6L654.1 200.3L650.2 202z" fill="#70df56" stroke="#2d5922"/>
<path d="M649.3 205.7L653.2 204.2L650.2 202L646.3 203.7z" fill="#6fde55" stroke="#2c5922"/>
<path d="M645.4 207.2L649.3 205.7L646.3 203.7L642.4 205.2z" fill="#6fdd55" stroke="#2c5822"/>
<path d="M641.5 208.7L645.4 207.2L642.4 205.2L638.5 206.8z" fill="#6fdd55" stroke="#2c5822"/>
<path d="M637.6 210.2L641.5 208.7L638.5 206.8L634.6 208.3z" fill="#6fdd55" stroke="#2c5822"/>
<path d="M633.7 211.7L637.6 210.2L634.6 208.3L630.6 209.8z" fill="#6fdd55" stroke="#2c5822"/>
<path d="M629.8 213.2L633.7 211.7L630.6 209.8L626.7 211.3z" fill="#6fdd55" stroke="#2c5822"/>
<path d="M625.9 214.7L629.8 213.2L626.7 211.3L622.8 212.8z" fill="#6fdd55" stroke="#2c5822"/>
<path d="M622 216.2L625.9 214.7L622.8 212.8L618.9 214.3z" fill="#6fdd55" stroke="#2c5822"/>
<path d="M618 217.8L622 216.2L618.9 214.3L615 215.8z" fill="#6fdd55" stroke="#2c5822"/>
<path d="M614.1 219.3L618 217.8L615 215.8L611.1 217.3z" fill="#6fdd55" stroke="#2c5822"/>
<path d="M610.2 220.8L614.1 219.3L611.1 217.3L607.2 218.8z" fill="#6fdd55" stroke="#2c5822"/>
<path d="M765.6 164L769.5 162.5L766.4 160.6L762.5 162.1z" fill="#6fdd55" stroke="#2c5822"/>
<path d="M761.6 165.5L765.6 164L762.5 162.1L758.6 163.6z" fill="#6fdd55" stroke="#2c5822"/>
<path d="M757.7 167L761.6 165.5L758.6 163.6L754.7 165.1z" fill="#6fdd55" stroke="#2c5822"/>
<path d="M753.8 168.5L757.7 167L754.7 165.1L750.8 166.6z" fill="#6fdd55" stroke="#2c5822"/>
<path d="M749.9 170.1L753.8 168.5L750.8 166.6L746.9 168.1z" fill="#6fdd55" stroke="#2c5822"/>
<path d="M746 171.6L749.9 170.1L746.9 168.1L743 169.6z" fill="#6fdd55" stroke="#2c5822"/>
<path d="M742.1 173.1L746 171.6L743 169.6L739.1 171.1z" fill="#6fdd55" stroke="#2c5822"/>
<path d="M738.2 174.6L742.1 173.1L739.1 171.1L735.2 172.6z" fill="#6fdd55" stroke="#2c5822"/>
<path d="M734.3 176.1L738.2 174.6L735.2 172.6L731.3 174.1z" fill="#6fdd55" stroke="#2c5822"/>
<path d="M730.4 177.6L734.3 176.1L731.3 174.1L727.4 175.6z" fill="#6edc55" stroke="#2c5822"/>
<path d="M726.5 179.1L730.4 177.6L727.4 175.6L723.5 177.1z" fill="#6edc55" stroke="#2c5822"/>
<path d="M722.6 180.6L726.5 179.1L723.5 177.1L719.6 178.7z" fill="#67db5b" stroke="#295825"/>
<path d="M718.7 182.1L722.6 180.6L719.6 178.7L715.7 180.3z" fill="#67db5b" stroke="#295725"/>
<path d="M714.8 183.6L718.7 182.1L715.7 180.3L711.8 181.9z" fill="#67da5b" stroke="#295724"/>
<path d="M710.9 185.2L714.8 183.6L711.8 181.9L707.9 183.5z" fill="#66da5b" stroke="#295724"/>
<path d="M707 186.7L710.9 185.2L707.9 183.5L704 185z" fill="#66da5b" stroke="#295724"/>
<path d="M703.1 188.2L707 186.7L704 185L700.1 186.5z" fill="#66da5b" stroke="#295724"/>
<path d="M699.2 189.7L703.1 188.2L700.1 186.5L696.1 187.9z" fill="#66da5b" stroke="#295724"/>
<path d="M695.3 191.2L699.2 189.7L696.1 187.9L692.2 189.3z" fill="#66da5b" stroke="#295724"/>
<path d="M691.4 192.6L695.3 191.2L692.2 189.3L688.3 190.7z" fill="#6edc54" stroke="#2c5822"/>
<path d="M687.5 194.1L691.4 192.6L688.3 190.7L684.4 192z" fill="#6edc55" stroke="#2c5822"/>
<path d="M683.5 195.6L687.5 194.1L684.4 192L680.5 193.4z" fill="#6fdd55" stroke="#2c5822"/>
<path d="M679.6 197.1L683.5 195.6L680.5 193.4L676.6 194.9z" fill="#6fdd55" stroke="#2c5822"/>
<path d="M675.7 198.6L679.6 197.1L676.6 194.9L672.7 196.3z" fill="#6fde55" stroke="#2c5922"/>
<path d="M671.8 200.1L675.7 198.6L672.7 196.3L668.8 197.9z" fill="#6fde55" stroke="#2c5922"/>
<path d="M667.9 201.6L671.8 200.1L668.8 197.9L664.9 199.4z" fill="#6fde55" stroke="#2d5922"/>
<path d="M664 203.1L667.9 201.6L664.9 199.4L661 201z" fill="#6fde55" stroke="#2c5922"/>
<path d="M660.1 204.7L664 203.1L661 201L657.1 202.6z" fill="#6fde55" stroke="#2c5922"/>
<path d="M656.2 206.2L660.1 204.7L657.1 202.6L653.2 204.2z" fill="#6fdd55" stroke="#2c5822"/>
<path d="M652.3 207.7L656.2 206.2L653.2 204.2L649.3 205.7z" fill="#6fdd55" stroke="#2c5822"/>
<path d="M648.4 209.2L652.3 207.7L649.3 205.7L645.4 207.2z" fill="#6fdd55" stroke="#2c5822"/>
<path d="M644.5 210.7L648.4 209.2L645.4 207.2L641.5 208.7z" fill="#6fdd55" stroke="#2c5822"/>
<path d="M640.6 212.2L644.5 210.7L641.5 208.7L637.6 210.2z" fill="#6fdd55" stroke="#2c5822"/>
<path d="M636.7 213.7L640.6 212.2L637.6 210.2L633.7 211.7z" fill="#6fdd55" stroke="#2c5822"/>
<path d="M632.8 215.2L636.7 213.7L633.7 211.7L629.8 213.2z" fill="#6fdd55" stroke="#2c5822"/>
<path d="M628.9 216.7L632.8 215.2L629.8 213.2L625.9 214.7z" fill="#6fdd55" stroke="#2c5822"/>
<path d="M625 218.2L628.9 216.7L625.9 214.7L622 216.2z" fill="#6fdd55" stroke="#2c5822"/>
<path d="M621.1 219.7L625 218.2L622 216.2L618 217.8z" fill="#6fdd55" stroke="#2c5822"/>
<path d="M617.2 221.2L621.1 219.7L618 217.8L614.1 219.3z" fill="#6fdd55" stroke="#2c5822"/>
<path d="M613.3 222.7L617.2 221.2L614.1 219.3L610.2 220.8z" fill="#6fdd55" stroke="#2c5822"/>
<path d="M768.6 166L772.5 164.5L769.5 162.5L765.6 164z" fill="#6fdd55" stroke="#2c5822"/>
<path d="M764.7 167.5L768.6 166L765.6 164L761.6 165.5z" fill="#6fdd55" stroke="#2c5822"/>
<path d="M760.8 169L764.7 167.5L761.6 165.5L757.7 167z" fill="#6fdd55" stroke="#2c5822"/>
<path d="M756.9 170.5L760.8 169L757.7 167L753.8 168.5z" fill="#6fdd55" stroke="#2c5822"/>
<path d="M753 172L756.9 170.5L753.8 168.5L749.9 170.1z" fill="#6fdd55" stroke="#2c5822"/>
<path d="M749 173.5L753 172L749.9 170.1L746 171.6z" fill="#6fdd55" stroke="#2c5822"/>
<path d="M745.1 175L749 173.5L746 171.6L742.1 173.1z" fill="#6fdd55" stroke="#2c5822"/>
<path d="M741.2 176.5L745.1 175L742.1 173.1L738.2 174.6z" fill="#6fdd55" stroke="#2c5822"/>
<path d="M737.3 178L741.2 176.5L738.2 174.6L734.3 176.1z" fill="#6fdd55" stroke="#2c5822"/>
<path d="M733.4 179.5L737.3 178L734.3 176.1L730.4 177.6z" fill="#6fdd55" stroke="#2c5822"/>
<path d="M729.5 181L733.4 179.5L730.4 177.6L726.5 179.1z" fill="#6fdd55" stroke="#2c5822"/>
<path d="M725.6 182.5L729.5 181L726.5 179.1L722.6 180.6z" fill="#6edc55" stroke="#2c5822"/>
<path d="M721.7 184.1L725.6 182.5L722.6 180.6L718.7 182.1z" fill="#6edc55" stroke="#2c5822"/>
<path d="M717.8 185.6L721.7 184.1L718.7 182.1L714.8 183.6z" fill="#67db5b" stroke="#295825"/>
<path d="M713.9 187.1L717.8 185.6L714.8 183.6L710.9 185.2z" fill="#67db5b" stroke="#295825"/>
<path d="M710 188.6L713.9 187.1L710.9 185.2L707 186.7z" fill="#67db5b" stroke="#295725"/>
<path d="M706.1 190.1L710 188.6L707 186.7L703.1 188.2z" fill="#67db5b" stroke="#295724"/>
<path d="M702.2 191.6L706.1 190.1L703.1 188.2L699.2 189.7z" fill="#67db5b" stroke="#295724"/>
<path d="M698.3 193.1L702.2 191.6L699.2 189.7L695.3 191.2z" fill="#67db5b" stroke="#295725"/>
<path d="M694.4 194.6L698.3 193.1L695.3 191.2L691.4 192.6z" fill="#6edc55" stroke="#2c5822"/>
<path d="M690.5 196.1L694.4 194.6L691.4 192.6L687.5 194.1z" fill="#6edc55" stroke="#2c5822"/>
<path d="M686.6 197.6L690.5 196.1L687.5 194.1L683.5 195.6z" fill="#6fdd55" stroke="#2c5822"/>
<path d="M682.7 199.1L686.6 197.6L683.5 195.6L679.6 197.1z" fill="#6fdd55" stroke="#2c5822"/>
<path d="M678.8 200.6L682.7 199.1L679.6 197.1L675.7 198.6z" fill="#6fdd55" stroke="#2c5822"/>
<path d="M674.9 202.1L678.8 200.6L675.7 198.6L671.8 200.1z" fill="#6fdd55" stroke="#2c5822"/>
<path d="M671 203.6L674.9 202.1L671.8 200.1L667.9 201.6z" fill="#6fdd55" stroke="#2c5822"/>
<path d="M667 205.1L671 203.6L667.9 201.6L664 203.1z" fill="#6fdd55" stroke="#2c5822"/>
<path d="M663.1 206.6L667 205.1L664 203.1L660.1 204.7z" fill="#6fdd55" stroke="#2c5822"/>
<path d="M659.2 208.1L663.1 206.6L660.1 204.7L656.2 206.2z" fill="#6fdd55" stroke="#2c5822"/>
<path d="M655.3 209.6L659.2 208.1L656.2 206.2L652.3 207.7z" fill="#6fdd55" stroke="#2c5822"/>
<path d="M651.4 211.1L655.3 209.6L652.3 207.7L648.4 209.2z" fill="#6fdd55" stroke="#2c5822"/>
<path d="M647.5 212.6L651.4 211.1L648.4 209.2L644.5 210.7z" fill="#6fdd55" stroke="#2c5822"/>
<path d="M643.6 214.2L647.5 212.6L644.5 210.7L640.6 212.2z" fill="#6fdd55" stroke="#2c5822"/>
<path d="M639.7 215.7L643.6 214.2L640.6 212.2L636.7 213.7z" fill="#6fdd55" stroke="#2c5822"/>
<path d="M635.8 217.2L639.7 215.7L636.7 213.7L632.8 215.2z" fill="#6fdd55" stroke="#2c5822"/>
<path d="M631.9 218.7L635.8 217.2L632.8 215.2L628.9 216.7z" fill="#6fdd55" stroke="#2c5822"/>
<path d="M628 220.2L631.9 218.7L628.9 216.7L625 218.2z" fill="#6fdd55" stroke="#2c5822"/>
<path d="M624.1 221.7L628 220.2L625 218.2L621.1 219.7z" fill="#6fdd55" stroke="#2c5822"/>
<path d="M620.2 223.2L624.1 221.7L621.1 219.7L617.2 221.2z" fill="#6fdd55" stroke="#2c5822"/>
<path d="M616.3 224.7L620.2 223.2L617.2 221.2L613.3 222.7z" fill="#6fdd55" stroke="#2c5822"/>
<path d="M771.6 168L775.5 166.5L772.5 164.5L768.6 166z" fill="#6fdd55" stroke="#2c5822"/>
<path d="M767.7 169.5L771.6 168L768.6 166L764.7 167.5z" fill="#6fdd55" stroke="#2c5822"/>
<path d="M763.8 171L767.7 169.5L764.7 167.5L760.8 169z" fill="#6fdd55" stroke="#2c5822"/>
<path d="M759.9 172.5L763.8 171L760.8 169L756.9 170.5z" fill="#6fdd55" stroke="#2c5822"/>
<path d="M756 174L759.9 172.5L756.9 170.5L753 172z" fill="#6fdd55" stroke="#2c5822"/>
<path d="M752.1 175.5L756 174L753 172L749 173.5z" fill="#6fdd55" stroke="#2c5822"/>
<path d="M748.2 177L752.1 175.5L749 173.5L745.1 175z" fill="#6fdd55" stroke="#2c5822"/>
<path d="M744.3 178.5L748.2 177L745.1 175L741.2 176.5z" fill="#6fdd55" stroke="#2c5822"/>
<path d="M740.4 180L744.3 178.5L741.2 176.5L737.3 178z" fill="#6fdd55" stroke="#2c5822"/>
<path d="M736.5 181.5L740.4 180L737.3 178L733.4 179.5z" fill="#6fdd55" stroke="#2c5822"/>
<path d="M732.5 183L736.5 181.5L733.4 179.5L729.5 181z" fill="#6fdd55" stroke="#2c5822"/>
<path d="M728.6 184.5L732.5 183L729.5 181L725.6 182.5z" fill="#6fdd55" stroke="#2c5822"/>
<path d="M724.7 186L728.6 184.5L725.6 182.5L721.7 184.1z" fill="#6fdd55" stroke="#2c5822"/>
<path d="M720.8 187.5L724.7 186L721.7 184.1L717.8 185.6z" fill="#6edd55" stroke="#2c5822"/>
<path d="M716.9 189L720.8 187.5L717.8 185.6L713.9 187.1z" fill="#6edc55" stroke="#2c5822"/>
<path d="M713 190.5L716.9 189L713.9 187.1L710 188.6z" fill="#6edc55" stroke="#2c5822"/>
<path d="M709.1 192L713 190.5L710 188.6L706.1 190.1z" fill="#6edc55" stroke="#2c5822"/>
<path d="M705.2 193.5L709.1 192L706.1 190.1L702.2 191.6z" fill="#6edc55" stroke="#2c5822"/>
<path d="M701.3 195L705.2 193.5L702.2 191.6L698.3 193.1z" fill="#6edc55" stroke="#2c5822"/>
<path d="M697.4 196.6L701.3 195L698.3 193.1L694.4 194.6z" fill="#6edc55" stroke="#2c5822"/>
<path d="M693.5 198.1L697.4 196.6L694.4 194.6L690.5 196.1z" fill="#6fdd55" stroke="#2c5822"/>
<path d="M689.6 199.6L693.5 198.1L690.5 196.1L686.6 197.6z" fill="#6fdd55" stroke="#2c5822"/>
<path d="M685.7 201.1L689.6 199.6L686.6 197.6L682.7 199.1z" fill="#6fdd55" stroke="#2c5822"/>
<path d="M681.8 202.6L685.7 201.1L682.7 199.1L678.8 200.6z" fill="#6fdd55" stroke="#2c5822"/>
<path d="M677.9 204.1L681.8 202.6L678.8 200.6L674.9 202.1z" fill="#6fdd55" stroke="#2c5822"/>
<path d="M674 205.6L677.9 204.1L674.9 202.1L671 203.6z" fill="#6fdd55" stroke="#2c5822"/>
<path d="M670.1 207.1L674 205.6L671 203.6L667 205.1z" fill="#6fdd55" stroke="#2c5822"/>
<path d="M666.2 208.6L670.1 207.1L667 205.1L663.1 206.6z" fill="#6fdd55" stroke="#2c5822"/>
<path d="M662.3 210.1L666.2 208.6L663.1 206.6L659.2 208.1z" fill="#6fdd55" stroke="#2c5822"/>
<path d="M658.4 211.6L662.3 210.1L659.2 208.1L655.3 209.6z" fill="#6fdd55" stroke="#2c5822"/>
<path d="M654.4 213.1L658.4 211.6L655.3 209.6L651.4 211.1z" fill="#6fdd55" stroke="#2c5822"/>
<path d="M650.5 214.6L654.4 213.1L651.4 211.1L647.5 212.6z" fill="#6fdd55" stroke="#2c5822"/>
<path d="M646.6 216.1L650.5 214.6L647.5 212.6L643.6 214.2z" fill="#6fdd55" stroke="#2c5822"/>
<path d="M642.7 217.6L646.6 216.1L643.6 214.2L639.7 215.7z" fill="#6fdd55" stroke="#2c5822"/>
<path d="M638.8 219.1L642.7 217.6L639.7 215.7L635.8 217.2z" fill="#6fdd55" stroke="#2c5822"/>
<path d="M634.9 220.6L638.8 219.1L635.8 217.2L631.9 218.7z" fill="#6fdd55" stroke="#2c5822"/>
<path d="M631 222.1L634.9 220.6L631.9 218.7L628 220.2z" fill="#6fdd55" stroke="#2c5822"/>
<path d="M627.1 223.6L631 222.1L628 220.2L624.1 221.7z" fill="#6fdd55" stroke="#2c5822"/>
<path d="M623.2 225.1L627.1 223.6L624.1 221.7L620.2 223.2z" fill="#6fdd55" stroke="#2c5822"/>
<path d="M619.3 226.7L623.2 225.1L620.2 223.2L616.3 224.7z" fill="#6fdd55" stroke="#2c5822"/></g>
<g><text class="t" x="79.8" y="231.2" text-anchor="end">0</text>
<text class="t" x="79.8" y="197.2" text-anchor="end">0.2</text>
<text class="t" x="79.8" y="163.1" text-anchor="end">0.4</text>
<text class="t" x="79.8" y="128.9" text-anchor="end">0.6</text>
<text class="t" x="79.8" y="94.8" text-anchor="end">0.8</text>
<text class="t" x="79.8" y="60.7" text-anchor="end">1</text>
<text class="t" x="212.1" y="323.6" text-anchor="start">-1</text>
<text class="t" x="199.1" y="321.9" text-anchor="end">-1</text>
<text class="t" x="251.2" y="308.5" text-anchor="start">-0.5</text>
<text class="t" x="168.9" y="302.3" text-anchor="end">-0.5</text>
<text class="t" x="290.2" y="293.5" text-anchor="start">0</text>
<text class="t" x="138.7" y="282.7" text-anchor="end">0</text>
<text class="t" x="329.2" y="278.4" text-anchor="start">0.5</text>
<text class="t" x="108.5" y="263.1" text-anchor="end">0.5</text>
<text class="t" x="368.3" y="263.4" text-anchor="start">1</text>
<text class="t" x="78.3" y="243.4" text-anchor="end">1</text>
<text class="t" x="493" y="233.5" text-anchor="end">-2</text>
<text class="t" x="493" y="212.2" text-anchor="end">-1.5</text>
<text class="t" x="493" y="191" text-anchor="end">-1</text>
<text class="t" x="493" y="169.7" text-anchor="end">-0.5</text>
<text class="t" x="493" y="148.5" text-anchor="end">0</text>
<text class="t" x="493" y="127.2" text-anchor="end">0.5</text>
<text class="t" x="493" y="106" text-anchor="end">1</text>
<text class="t" x="493" y="84.7" text-anchor="end">1.5</text>
<text class="t" x="493" y="63.5" text-anchor="end">2</text>
<text class="t" x="625.3" y="325.8" text-anchor="start">-1</text>
<text class="t" x="612.3" y="324.1" text-anchor="end">-1</text>
<text class="t" x="664.4" y="310.7" text-anchor="start">-0.5</text>
<text class="t" x="582.1" y="304.5" text-anchor="end">-0.5</text>
<text class="t" x="703.4" y="295.7" text-anchor="start">0</text>
<text class="t" x="551.9" y="284.9" text-anchor="end">0</text>
<text class="t" x="742.4" y="280.6" text-anchor="start">0.5</text>
<text class="t" x="521.7" y="265.3" text-anchor="end">0.5</text>
<text class="t" x="781.5" y="265.6" text-anchor="start">1</text>
<text class="t" x="491.5" y="245.7" text-anchor="end">1</text></g>
<g class="m">
<text transform="translate(1.5 147.5) scale(1.1 1)" font-size="23" font-style="italic">g</text>
<text transform="translate(15.8 152) scale(1.1 1)" font-size="16" font-style="italic">i</text>
<text transform="translate(22.8 148) scale(1.0 1)" font-size="25" >(</text>
<text transform="translate(32 147.5) scale(1.2 1)" font-size="22" font-style="italic" font-weight="bold">x</text>
<text transform="translate(48 148) scale(1.0 1)" font-size="25" >)</text>
<text transform="translate(106.5 291.7) scale(1.15 1)" font-size="28" font-style="italic">y</text>
<text transform="translate(305 305.3) scale(1.0 1)" font-size="29" font-style="italic">x</text>
<text transform="translate(418.3 139.2) scale(1.0 1)" font-size="17" font-style="italic">∂</text>
<text transform="translate(428 139.2) scale(1.1 1)" font-size="17.5" font-style="italic">g</text>
<text transform="translate(438.3 142.5) scale(1.1 1)" font-size="12.5" font-style="italic">i</text>
<text transform="translate(443 139.6) scale(1.0 1)" font-size="19" >(</text>
<text transform="translate(448.5 139.2) scale(1.15 1)" font-size="16.5" font-style="italic" font-weight="bold">x</text>
<text transform="translate(460 139.6) scale(1.0 1)" font-size="19" >)</text>
<path d="M418 145.8H469" stroke="#444" stroke-width="1.1"/>
<text transform="translate(435 160.8) scale(1.0 1)" font-size="17" font-style="italic">∂</text>
<text transform="translate(443.5 160.8) scale(1.0 1)" font-size="17.5" font-style="italic">x</text>
<text transform="translate(523.5 292.5) scale(1.15 1)" font-size="28" font-style="italic">y</text>
<text transform="translate(716.5 307.9) scale(1.0 1)" font-size="28" font-style="italic">x</text>
<text x="161.4" y="356" font-size="19">(a)<tspan font-size="14.8" dx="0.8"> C</tspan><tspan font-size="9.5" dy="-6" dx="0.5">2</tspan><tspan font-size="14.8" dy="6" dx="0.3"> CSRBF</tspan></text>
<text x="459.5" y="353.5" font-size="19">(b)<tspan font-size="14.8" letter-spacing=".12"> Partial derivative of C</tspan><tspan font-size="9.5" dy="-6" dx="0.5">2</tspan><tspan font-size="14.8" dy="6" dx="0.3" letter-spacing=".12"> CSRBF in</tspan><tspan font-size="14.8" font-style="italic" font-weight="bold" dx="4.3"> x</tspan><tspan font-size="14.8" dx="4.3" letter-spacing=".12"> direction</tspan></text>
</g>
</svg>
</body></html>
